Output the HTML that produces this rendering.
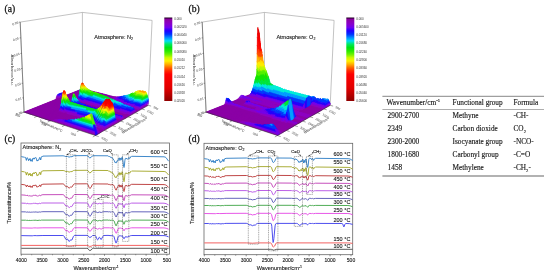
<!DOCTYPE html><html><head><meta charset="utf-8"><style>html,body{margin:0;padding:0;background:#fff;width:550px;height:274px;overflow:hidden}svg{display:block}</style></head><body><svg width="550" height="274" viewBox="0 0 550 274">
<style>
text{font-family:"Liberation Sans",Arial,sans-serif;fill:#1a1a1a}
.tk,.tl,.at,.al,.an{stroke:#1a1a1a;stroke-width:0.12px}
.tk{font-size:5px;text-anchor:middle}
.tl{font-size:5.5px;text-anchor:end}
.at{font-size:5.5px}
.al{font-size:5.6px}
.pl{font-family:"Liberation Serif","Times New Roman",serif;font-size:9.6px;fill:#111;stroke:#111;stroke-width:0.25px}
.t3{font-size:3.2px;fill:#444}
.t3t{font-size:3.6px;fill:#333}
.cbl{font-size:3px;fill:#333}
.an{font-size:4.2px;text-anchor:middle;fill:#111}
.tb{font-family:"Liberation Serif","Times New Roman",serif;font-size:7.3px;fill:#111;stroke:#111;stroke-width:0.12px}
</style>
<rect width="550" height="274" fill="#fff"/>
<style>.k0{fill:#8b00a6;stroke:#8b00a6}.k1{fill:#8d00c3;stroke:#8d00c3}.k2{fill:#7400ea;stroke:#7400ea}.k3{fill:#2200ff;stroke:#2200ff}.k4{fill:#003aff;stroke:#003aff}.k5{fill:#00a0ff;stroke:#00a0ff}.k6{fill:#00efd6;stroke:#00efd6}.k7{fill:#00e538;stroke:#00e538}.k8{fill:#16e400;stroke:#16e400}.k9{fill:#54f000;stroke:#54f000}.k10{fill:#c1f800;stroke:#c1f800}.k11{fill:#ffec00;stroke:#ffec00}.k12{fill:#ffa300;stroke:#ffa300}.k13{fill:#ff4c00;stroke:#ff4c00}.k14{fill:#ff0e00;stroke:#ff0e00}.k15{fill:#f90000;stroke:#f90000}.k16{fill:#f10000;stroke:#f10000}.k17{fill:#e90000;stroke:#e90000}.k18{fill:#e20000;stroke:#e20000}.k19{fill:#cd0000;stroke:#cd0000}.k20{fill:#b40000;stroke:#b40000}.k21{fill:#9c0000;stroke:#9c0000}</style>
<defs><linearGradient id="cb" x1="0" y1="0" x2="0" y2="1"><stop offset="0" stop-color="#200020"/><stop offset="0.018" stop-color="#6a0080"/><stop offset="0.00" stop-color="#860098"/><stop offset="0.04" stop-color="#8e00b0"/><stop offset="0.08" stop-color="#8700cd"/><stop offset="0.12" stop-color="#7000f0"/><stop offset="0.16" stop-color="#2000ff"/><stop offset="0.20" stop-color="#0030ff"/><stop offset="0.24" stop-color="#008aff"/><stop offset="0.28" stop-color="#00dcf4"/><stop offset="0.32" stop-color="#00e860"/><stop offset="0.36" stop-color="#00e213"/><stop offset="0.40" stop-color="#28e800"/><stop offset="0.44" stop-color="#68f200"/><stop offset="0.48" stop-color="#c8f800"/><stop offset="0.52" stop-color="#fff000"/><stop offset="0.56" stop-color="#ffb000"/><stop offset="0.60" stop-color="#ff6600"/><stop offset="0.64" stop-color="#ff2600"/><stop offset="0.68" stop-color="#fd0000"/><stop offset="0.72" stop-color="#f60000"/><stop offset="0.76" stop-color="#f00000"/><stop offset="0.80" stop-color="#e90000"/><stop offset="0.84" stop-color="#e20000"/><stop offset="0.88" stop-color="#d00000"/><stop offset="0.92" stop-color="#bb0000"/><stop offset="0.96" stop-color="#a50000"/><stop offset="1.00" stop-color="#900000"/></linearGradient></defs>
<polyline fill="none" stroke="#9a9a9a" stroke-width="0.6" points="24.1,112.1 20.2,22.1 82.4,12.4 152.1,20.4 148.2,105.3"/>
<line stroke="#9a9a9a" stroke-width="0.6" x1="82.5" y1="88.8" x2="82.4" y2="12.4"/>
<path class="k0" stroke-width=".3" d="M24.1 112.1 82.5 88.8 148.2 105.3 95.4 135.5"/>
<g stroke-width=".45">
<path class="k0" d="M63.3 95.1l.5 .8 .5 .1 18.2-7.2 .6 .1 -17.8 7.1 -.4 .2 -.5-.2 -.5-.8z"/>
<path class="k1" d="M62.9 94l.4 1.1 .6 .1 -.4-1.1z"/>
<path class="k2" d="M62.4 93.2l.5 .8 .6 .1 -.5-.7z"/>
<path class="k3" d="M57.2 95.1l.9-1 2.4-.9 1.4-.3 1.1 .5 -.5-.4 -.9 .2 -2.9 1.1 -.9 .9z"/>
<path class="k2" d="M56.7 96.1l.5-1 .6 .1 -.5 1.1z"/>
<path class="k1" d="M56.2 97.6l.5-1.5 .6 .2 -.4 1.5z"/>
<path class="k0" d="M24.1 112.1l30.7-12.3 .5-.2 .5-.7 .4-1.3 .7 .2 -.5 1.3 -.5 .6 -.5 .3 -30.7 12.3z"/>
<path class="k0" d="M63.9 95.2l.5 .8 .5 .2 18.2-7.3 .6 .2 -17.8 7.1 -.4 .2 -.5-.2 -.5-.8z"/>
<path class="k1" d="M63.5 94.1l.4 1.1 .6 .2 -.4-1.1z"/>
<path class="k2" d="M63 93.4l.5 .7 .6 .2 -.5-.8z"/>
<path class="k3" d="M57.8 95.2l.9-.9 2.4-1 1.4-.3 1.1 .5 -.5-.3 -.9 .1 -2.9 1.2 -.9 .9z"/>
<path class="k2" d="M57.3 96.3l.5-1.1 .6 .2 -.5 1.1z"/>
<path class="k1" d="M56.9 97.8l.4-1.5 .6 .2 -.4 1.5z"/>
<path class="k0" d="M24.7 112.3l30.7-12.3 .5-.3 .5-.6 .5-1.3 .6 .2 -.5 1.3 -.5 .6 -.5 .3 -30.6 12.3z"/>
<path class="k0" d="M64.5 95.4l.5 .8 .5 .2 18.2-7.3 .6 .1 -17.8 7.2 -.4 .1 -.5-.1 -.4-.8z"/>
<path class="k1" d="M64.1 94.3l.4 1.1 .7 .2 -.5-1.1z"/>
<path class="k2" d="M63.6 93.5l.5 .8 .6 .2 -.5-.8z"/>
<path class="k3" d="M58.4 95.4l.9-.9 2.4-1 1.4-.3 1.1 .5 -.5-.3 -.9 .1 -2.9 1.1 -.9 1z"/>
<path class="k2" d="M57.9 96.5l.5-1.1 .6 .2 -.5 1.1z"/>
<path class="k1" d="M57.5 98l.4-1.5 .6 .2 -.4 1.4z"/>
<path class="k0" d="M25.4 112.5l30.6-12.3 .5-.3 .5-.6 .5-1.3 .6 .1 -.5 1.3 -.5 .7 -.4 .3 -30.7 12.3z"/>
<path class="k0" d="M65.2 95.6l.4 .8 .5 .1 .4-.1 18-7.1 -17.8 7.1 -.4 .2 -.5-.1 -.4-.6z"/>
<path class="k1" d="M64.7 94.5l.2 .5z"/>
<path class="k2" d="M64.2 93.7l.7 1.3 -.5-.7z"/>
<path class="k3" d="M59 95.6l.9-1 3.4-1.2 .4 0 .5 .3 .2 .6 -.5-.2 -.9 .2 -2.8 1.1 -1 .9z"/>
<path class="k2" d="M58.5 96.7l.5-1.1 .2 .7 -.4 .9z"/>
<path class="k1" d="M58.1 98.1l.4-1.4 .3 .5 -.5 1.3z"/>
<path class="k0" d="M26 112.7l30.7-12.3 .4-.3 .5-.7 .5-1.3 .2 .4 -.5 1.1 -.5 .6 -.4 .2 -30.7 12.4z"/>
<path class="k0" d="M65.4 95.9l.4 .6 .5 .1 18.2-7.3 .4 .1 -17.7 7.1 -1 .2 -.4-.3z"/>
<path class="k1" d="M64.4 94.3l1.4 2.1 -1-.7z"/>
<path class="k2" d="M59.2 96.3l1-.9 3.3-1.3 .4 0 .5 .2 .4 1.4 -.4-.1 -1 .2 -2.8 1.2 -1 .7z"/>
<path class="k1" d="M58.3 98.5l.9-2.2 .4 1.4 -.9 1.4z"/>
<path class="k0" d="M26.2 112.8l30.7-12.4 .4-.2 .5-.6 .5-1.1 .4 .6 -.5 .8 -.9 .6 -30.7 12.4z"/>
<path class="k0" d="M26.6 112.9l30.7-12.4 .9-.6 1.4-2.2 1-.7 1.4-.6 2.4-.8 .4 .1 1.4 1 .5 0 18.2-7.3 .6 .1 -58.2 23.6z"/>
<path class="k0" d="M27.3 113.1l58.2-23.6 .6 .2 -58.2 23.6z"/>
<path class="k0" d="M27.9 113.3l58.2-23.6 .4 .1 -58.2 23.7z"/>
<path class="k0" d="M28.3 113.5l58.4-23.7 -58.2 23.8z"/>
<path class="k0" d="M28.5 113.6l58.2-23.8 .6 .2 -58.1 23.8z"/>
<path class="k0" d="M29.2 113.8l58.1-23.8 .6 .1 -58.1 23.9z"/>
<path class="k0" d="M29.8 114l58.1-23.9 .6 .2 -58.1 23.9z"/>
<path class="k0" d="M30.4 114.2l58.1-23.9 .6 .1 -58 24z"/>
<path class="k0" d="M31.1 114.4l58-24 1.4 .4 -57.9 24.1z"/>
<path class="k0" d="M32.6 114.9l57.9-24.1 2 .5 -57.8 24.3z"/>
<path class="k0" d="M34.7 115.6l57.8-24.3 2 .5 -57.6 24.5z"/>
<path class="k0" d="M36.9 116.3l57.6-24.5 2.1 .5 -57.5 24.7z"/>
<path class="k0" d="M39.1 117l57.5-24.7 1 .3 -57.4 24.8z"/>
<path class="k0" d="M40.2 117.4l57.4-24.8 .6 .1 -57.3 24.9z"/>
<path class="k0" d="M83.9 98.9l14.3-6.2 .4 .1 -11.2 4.8 -.8 .2 -.9 0 -1.3-.9z"/>
<path class="k1" d="M82.2 99.7l1.7-.8 .5-2 -1.8-2.1z"/>
<path class="k2" d="M79.5 100.9l2.7-1.2 .4-4.9 -.9-.4 -.5 .1 -.4 .3 -.9 1.4z"/>
<path class="k1" d="M78.1 101.5l1.4-.6 .4-4.7 -1.4 2.8z"/>
<path class="k0" d="M40.9 117.6l37.2-16.1 .4-2.5 -.9 1.6 -.9 1.2 -.9 .7 -1.4 .9 -33.1 14.4z"/>
<path class="k0" d="M85.2 97.6l1.4 .2 1.2-.3 10.8-4.7 .2 .1 -10.7 4.6 -1.3 .2 -.9-.2 -.4-.4z"/>
<path class="k1" d="M84.4 96.9l.8 .7 .3-.5 -.9-1.2z"/>
<path class="k2" d="M83.9 96.4l.5 .5 .2-1 -.5-.8z"/>
<path class="k3" d="M83.5 95.9l.4 .5 .2-1.3 -.4-.9z"/>
<path class="k4" d="M82.6 94.8l.9 1.1 .2-1.7 -.9-1.8z"/>
<path class="k5" d="M81.7 94.4l.9 .4 .2-2.4 -.9-.9z"/>
<path class="k6" d="M80.8 94.8l.9-.4 .2-2.9 -.4 .1 -.5 .5z"/>
<path class="k5" d="M79.9 96.2l.9-1.4 .2-2.7 -.9 1.8z"/>
<path class="k4" d="M79.4 97.1l.5-.9 .2-2.3 -.5 1.3z"/>
<path class="k3" d="M78.5 99l.9-1.9 .2-1.9 -.9 2.6z"/>
<path class="k2" d="M78.1 99.8l.4-.8 .2-1.2 -.4 1.1z"/>
<path class="k1" d="M77.2 101.2l.9-1.4 .2-.9 -.9 1.9z"/>
<path class="k0" d="M41.3 117.8l32.6-14.2 2.3-1.4 1.2-1.4 -1.4 1.7 -1.9 1.1 -32.5 14.2z"/>
<path class="k0" d="M86.3 97.7l.9 0 .9-.2 10.7-4.6 .7 .2 -10.4 4.4 -1.3 .1 -.8-.5z"/>
<path class="k1" d="M85.5 97.1l.8 .6 .7-.6 -.9-1.5z"/>
<path class="k2" d="M85 96.6l.5 .5 .6-1.5 -.4-1.2z"/>
<path class="k3" d="M84.6 95.9l.4 .7 .7-2.2 -.5-1.5z"/>
<path class="k4" d="M84.1 95.1l.5 .8 .6-3 -.4-1.9z"/>
<path class="k6" d="M83.7 94.2l.4 .9 .7-4.1 -.5-2z"/>
<path class="k7" d="M83.3 93.3l.4 .9 .6-5.2 -.4-2.1z"/>
<path class="k8" d="M82.8 92.4l.5 .9 .6-6.4 -.5-1.8z"/>
<path class="k9" d="M82.4 91.8l.4 .6 .6-7.3 -.4-1.4z"/>
<path class="k10" d="M80.6 92.9l.9-1.3 .4-.1 .5 .3 .6-8.1 -.5-.8 -.4-.1 -.5 .7 -.4 1.4z"/>
<path class="k9" d="M80.1 93.9l.5-1 .6-8 -.5 2z"/>
<path class="k8" d="M79.6 95.2l.5-1.3 .6-7 -.4 2.3z"/>
<path class="k6" d="M79.2 96.5l.4-1.3 .7-6 -.5 2.5z"/>
<path class="k5" d="M78.7 97.8l.5-1.3 .6-4.8 -.4 2.4z"/>
<path class="k4" d="M78.3 98.9l.4-1.1 .7-3.7 -.5 2.1z"/>
<path class="k3" d="M77.8 100l.5-1.1 .6-2.7 -.4 1.9z"/>
<path class="k2" d="M77.4 100.8l1.1-2.7 -.5 1.5z"/>
<path class="k1" d="M76.9 101.5l1.1-1.9 -.4 1.1z"/>
<path class="k0" d="M41.6 117.8l32.5-14.2 1.9-1.1 1.6-1.8 -1.4 2.1 -1.9 1.2 -32.1 14z"/>
<path class="k0" d="M87 97.1l.8 .5 1.3-.1 10.4-4.4 .6 .1 -10.3 4.5 -1.3 .1 -.9-.4z"/>
<path class="k1" d="M86.5 96.5l.5 .6 .6 .3 -.4-.6z"/>
<path class="k2" d="M86.1 95.6l.4 .9 .7 .3 -.5-.8z"/>
<path class="k3" d="M85.7 94.4l.4 1.2 .6 .4 -.4-1.2z"/>
<path class="k4" d="M85.2 92.9l.5 1.5 .6 .4 -.4-1.5z"/>
<path class="k6" d="M84.8 91l.4 1.9 .7 .4 -.5-1.8z"/>
<path class="k7" d="M84.3 89l.5 2 .6 .5 -.4-1.9z"/>
<path class="k9" d="M83.9 86.9l.4 2.1 .7 .6 -.5-1.9z"/>
<path class="k11" d="M83.4 85.1l.5 1.8 .6 .8 -.4-1.8z"/>
<path class="k12" d="M83 83.7l.4 1.4 .7 .8 -.5-1.3z"/>
<path class="k13" d="M82.5 82.9l.7 .9z"/>
<path class="k14" d="M81.6 83.5l.5-.7 .4 .1 .7 .9 -.5 0 -.4 .6z"/>
<path class="k13" d="M81.2 84.9l.4-1.4 .7 .9 -.5 1.4z"/>
<path class="k12" d="M80.7 86.9l.5-2 .6 .9 -.4 1.9z"/>
<path class="k10" d="M80.3 89.2l.4-2.3 .7 .8 -.5 2.2z"/>
<path class="k8" d="M79.8 91.7l.5-2.5 .6 .7 -.4 2.4z"/>
<path class="k7" d="M79.4 94.1l.4-2.4 .7 .6 -.5 2.3z"/>
<path class="k5" d="M78.9 96.2l.5-2.1 .6 .5 -.4 2z"/>
<path class="k4" d="M78.5 98.1l.4-1.9 .7 .4 -.5 1.8z"/>
<path class="k2" d="M78 99.6l.5-1.5 .6 .3 -.4 1.5z"/>
<path class="k1" d="M77.1 101.6l.9-2 .7 .3 -1 2z"/>
<path class="k0" d="M42.2 118l32.1-14 1.9-1.2 .9-1.2 .6 .3 -.4 .6 -.9 .9 -1.4 .8 -32.1 14.1z"/>
<path class="k0" d="M87.6 97.4l.9 .4 1.3-.1 10.3-4.5 .6 .2 -10.3 4.4 -1.3 .2 -.9-.4z"/>
<path class="k1" d="M87.2 96.8l.4 .6 .6 .2 -.4-.5z"/>
<path class="k2" d="M86.7 96l.5 .8 .6 .3 -.4-.8z"/>
<path class="k3" d="M86.3 94.8l.4 1.2 .7 .3 -.5-1.1z"/>
<path class="k4" d="M85.9 93.3l.4 1.5 .6 .4 -.4-1.4z"/>
<path class="k5" d="M85.4 91.5l.5 1.8 .6 .5 -.4-1.7z"/>
<path class="k7" d="M85 89.6l.4 1.9 .7 .6 -.5-1.9z"/>
<path class="k9" d="M84.5 87.7l.5 1.9 .6 .6 -.4-1.8z"/>
<path class="k10" d="M84.1 85.9l.4 1.8 .7 .7 -.5-1.7z"/>
<path class="k12" d="M83.6 84.6l.5 1.3 .6 .8 -.4-1.2z"/>
<path class="k13" d="M82.3 84.4l.4-.6 .5 0 1.1 1.7 -.5-.7 -.4-.1 -.5 .7z"/>
<path class="k12" d="M81.8 85.8l.5-1.4 .6 1 -.4 1.3z"/>
<path class="k11" d="M81.4 87.7l.4-1.9 .7 .9 -.5 1.8z"/>
<path class="k10" d="M80.9 89.9l.5-2.2 .6 .8 -.4 2.2z"/>
<path class="k8" d="M80.5 92.3l.4-2.4 .7 .8 -.5 2.2z"/>
<path class="k6" d="M80 94.6l.5-2.3 .6 .6 -.4 2.2z"/>
<path class="k5" d="M79.6 96.6l.4-2 .7 .5 -.5 2z"/>
<path class="k3" d="M79.1 98.4l.5-1.8 .6 .5 -.4 1.7z"/>
<path class="k2" d="M78.7 99.9l.4-1.5 .7 .4 -.5 1.4z"/>
<path class="k1" d="M77.7 101.9l1-2 .6 .3 -.9 1.9z"/>
<path class="k0" d="M42.9 118.3l32.1-14.1 1.8-1.2 .9-1.1 .7 .2 -.5 .6 -.9 .9 -1.4 .8 -32 14.1z"/>
<path class="k0" d="M88.2 97.6l.9 .4 1.3-.2 10.3-4.4 .6 .1 -10.3 4.5 -1.3 .2 -.8-.4z"/>
<path class="k1" d="M87.8 97.1l.4 .5 .7 .2 -.4-.5z"/>
<path class="k2" d="M86.9 95.2l.9 1.9 .7 .2 -.9-1.8z"/>
<path class="k4" d="M86.5 93.8l.4 1.4 .7 .3 -.5-1.3z"/>
<path class="k5" d="M86.1 92.1l.4 1.7 .6 .4 -.4-1.6z"/>
<path class="k7" d="M85.6 90.2l.5 1.9 .6 .5 -.4-1.7z"/>
<path class="k8" d="M85.2 88.4l.4 1.8 .7 .7 -.5-1.7z"/>
<path class="k10" d="M84.7 86.7l.5 1.7 .6 .8 -.4-1.6z"/>
<path class="k11" d="M84.3 85.5l.4 1.2 .7 .9 -.5-1.2z"/>
<path class="k12" d="M82.5 86.7l.4-1.3 .5-.7 .4 .1 1.1 1.6 -.4-.7 -.5 0 -.4 .6 -.5 1.3z"/>
<path class="k11" d="M82 88.5l.5-1.8 .6 .9 -.4 1.7z"/>
<path class="k9" d="M81.6 90.7l.4-2.2 .7 .8 -.5 2.1z"/>
<path class="k8" d="M81.1 92.9l.5-2.2 .6 .7 -.4 2.1z"/>
<path class="k6" d="M80.7 95.1l.4-2.2 .7 .6 -.5 2.1z"/>
<path class="k4" d="M80.2 97.1l.5-2 .6 .5 -.4 1.9z"/>
<path class="k3" d="M79.8 98.8l.4-1.7 .7 .4 -.5 1.6z"/>
<path class="k2" d="M79.3 100.2l.5-1.4 .6 .3 -.4 1.4z"/>
<path class="k1" d="M78.4 102.1l.9-1.9 .7 .3 -1 1.8z"/>
<path class="k0" d="M73.2 105.4l3.8-1.8 1.4-1.5 .6 .2 -1.3 1.5 -1.9 .9 -1-.2 -.9-1.1z"/>
<path class="k1" d="M70.4 106.7l2.8-1.3 .7-2 -1-1.3 -.5-.1 -.5 .5 -.9 2.1z"/>
<path class="k0" d="M64.9 109.1l5.5-2.4 .6-2.1 -1 2 -.5 .6 -.9 .6 -1 .2 -.5-.1 -1-.7 -.6-.7z"/>
<path class="k1" d="M63.9 109.5l1-.4 .6-2.6 -1-1.6z"/>
<path class="k2" d="M60.9 110.9l3-1.4 .6-4.6 -1-1.2 -.5 0 -.6 .4 -1 1.9z"/>
<path class="k1" d="M59.8 111.3l1.1-.4 .5-4.9 -1 2.5z"/>
<path class="k0" d="M43.6 118.5l16.2-7.2 .6-2.8 -1.5 2.9 -1.5 1.4 -13.2 5.9z"/>
<path class="k0" d="M88.9 97.8l.8 .4 1.3-.2 10.3-4.5 .7 .2 -10.3 4.5 -1.3 .2 -.9-.3z"/>
<path class="k1" d="M88 96.6l.9 1.2 .6 .3 -.8-1.2z"/>
<path class="k2" d="M87.6 95.5l.4 1.1 .7 .3 -.5-1z"/>
<path class="k3" d="M87.1 94.2l.5 1.3 .6 .4 -.4-1.2z"/>
<path class="k5" d="M86.7 92.6l.4 1.6 .7 .5 -.4-1.5z"/>
<path class="k6" d="M86.3 90.9l.4 1.7 .7 .6 -.5-1.7z"/>
<path class="k8" d="M85.8 89.2l.5 1.7 .6 .6 -.4-1.6z"/>
<path class="k9" d="M85.4 87.6l.4 1.6 .7 .7 -.5-1.5z"/>
<path class="k11" d="M84.5 85.7l.9 1.9 .6 .8 -.9-1.7z"/>
<path class="k12" d="M83.6 86.3l.4-.6 .5 0 .6 1 -.4-.1 -.5 .7z"/>
<path class="k11" d="M83.1 87.6l.5-1.3 .6 1 -.4 1.2z"/>
<path class="k10" d="M82.7 89.3l.4-1.7 .7 .9 -.5 1.6z"/>
<path class="k9" d="M82.2 91.4l.5-2.1 .6 .8 -.4 2z"/>
<path class="k7" d="M81.8 93.5l.4-2.1 .7 .7 -.5 2z"/>
<path class="k6" d="M81.3 95.6l.5-2.1 .6 .6 -.4 2z"/>
<path class="k4" d="M80.9 97.5l.4-1.9 .7 .5 -.5 1.9z"/>
<path class="k3" d="M80.4 99.1l.5-1.6 .6 .5 -.4 1.5z"/>
<path class="k2" d="M80 100.5l.4-1.4 .7 .4 -.5 1.3z"/>
<path class="k1" d="M79 102.3l1-1.8 .6 .3 -.9 1.8z"/>
<path class="k0" d="M74.8 104.5l1 .2 .9-.4 1.4-.9 .9-1.1 .7 .3 -.9 1 -1.4 .9 -1 .2 -.4-.2 -.5-.5z"/>
<path class="k1" d="M74.4 104.1l.4 .4 .7-.5 -.5-1.1z"/>
<path class="k2" d="M73.9 103.4l.5 .7 .6-1.2 -.5-1.6z"/>
<path class="k3" d="M73.4 102.6l.5 .8 .6-2.1 -.5-1.7z"/>
<path class="k4" d="M71.5 103.5l.4-1 .5-.5 .5 .1 .5 .5 .6-3 -.5-1.4 -.5-.4 -.4 .8 -.5 1.8z"/>
<path class="k3" d="M71 104.6l.5-1.1 .6-3.1 -.5 2.2z"/>
<path class="k2" d="M70.5 105.7l1.1-3.1 -.4 2z"/>
<path class="k1" d="M70 106.6l1.2-2 -.5 1.5z"/>
<path class="k0" d="M67.1 107.9l1 .1 1-.4 1.6-1.5 -1 1.5 -1 .4 -1-.6z"/>
<path class="k1" d="M66.1 107.2l1 .7 .6-.5 -1-1.8z"/>
<path class="k2" d="M65.5 106.5l.6 .7 .6-1.6 -.5-1.6z"/>
<path class="k3" d="M65 105.8l.5 .7 .7-2.5 -.6-1.8z"/>
<path class="k5" d="M64.5 104.9l.5 .9 .6-3.6 -.5-1.9z"/>
<path class="k6" d="M64 104.2l.5 .7 .6-4.6 -.5-1.7z"/>
<path class="k7" d="M61.9 104.9l.5-.8 .6-.4 .5 0 .5 .5 .6-5.6 -.6-1.2 -.5-.3 -.5 .5 -.5 1.4z"/>
<path class="k6" d="M61.4 106l.5-1.1 .6-5.9 -.5 2z"/>
<path class="k5" d="M60.9 107.3l.5-1.3 .6-5 -.5 2.3z"/>
<path class="k4" d="M60.4 108.5l.5-1.2 .6-4 -.4 2.3z"/>
<path class="k3" d="M59.9 109.7l.5-1.2 .7-2.9 -.5 2.1z"/>
<path class="k2" d="M59.4 110.6l.5-.9 .7-2 -.5 1.7z"/>
<path class="k1" d="M58.9 111.4l1.2-2 -.5 1.3z"/>
<path class="k0" d="M44.2 118.7l12.6-5.6 1.1-.7 1.7-1.7 -1.1 1.7 -1.5 1.1 -12.1 5.4z"/>
<path class="k0" d="M89.5 98.1l.9 .3 1.3-.2 10.3-4.5 .6 .1 -10.3 4.6 -1.3 .2 -.8-.3z"/>
<path class="k1" d="M88.7 96.9l.8 1.2 .7 .2 -.9-1.1z"/>
<path class="k2" d="M88.2 95.9l.5 1 .6 .3 -.4-.9z"/>
<path class="k3" d="M87.8 94.7l.4 1.2 .7 .4 -.5-1.2z"/>
<path class="k4" d="M87.4 93.2l.4 1.5 .6 .4 -.4-1.4z"/>
<path class="k6" d="M86.9 91.5l.5 1.7 .6 .5 -.4-1.5z"/>
<path class="k7" d="M86.5 89.9l.4 1.6 .7 .7 -.5-1.6z"/>
<path class="k9" d="M86 88.4l.5 1.5 .6 .7 -.4-1.4z"/>
<path class="k10" d="M85.6 87.3l.4 1.1 .7 .8 -.5-1z"/>
<path class="k11" d="M84.2 87.3l.5-.7 .4 .1 1.1 1.5 -.4-.6 -.5 0 -.4 .6z"/>
<path class="k10" d="M83.3 90.1l.9-2.8 .7 .9 -.9 2.8z"/>
<path class="k8" d="M82.9 92.1l.4-2 .7 .9 -.5 1.8z"/>
<path class="k7" d="M82.4 94.1l.5-2 .6 .7 -.4 1.9z"/>
<path class="k5" d="M82 96.1l.4-2 .7 .6 -.5 2z"/>
<path class="k4" d="M81.5 98l.5-1.9 .6 .6 -.4 1.7z"/>
<path class="k3" d="M81.1 99.5l.4-1.5 .7 .4 -.5 1.5z"/>
<path class="k2" d="M80.6 100.8l.5-1.3 .6 .4 -.4 1.2z"/>
<path class="k1" d="M79.7 102.6l.9-1.8 .7 .3 -1 1.7z"/>
<path class="k0" d="M76 104.5l.9 .2 .9-.4 1-.7 .9-1 .6 .2 -.9 1 -.9 .6 -.9 .4 -.5 0 -.5-.4z"/>
<path class="k1" d="M75.5 104l.5 .5 .6-.1 -.5-.9z"/>
<path class="k2" d="M75 102.9l.5 1.1 .6-.5 -.5-1.8z"/>
<path class="k3" d="M74.5 101.3l.5 1.6 .6-1.2 -.4-2.4z"/>
<path class="k5" d="M74 99.6l.5 1.7 .7-2 -.5-2.8z"/>
<path class="k7" d="M73.5 98.2l.5 1.4 .7-3.1 -.5-2.2z"/>
<path class="k8" d="M72.6 98.6l.4-.8 .5 .4 .7-3.9 -.5-.7 -.5 1.1z"/>
<path class="k7" d="M72.1 100.4l.6-3.1z"/>
<path class="k5" d="M71.6 102.6l1.1-5.3 -.4 3.2z"/>
<path class="k3" d="M71.2 104.6l1.1-4.1 -.5 2.9z"/>
<path class="k2" d="M70.7 106.1l.5-1.5 .6-1.2 -.5 2.1z"/>
<path class="k1" d="M70.2 107.1l.5-1 .6-.6 -.4 1.4z"/>
<path class="k0" d="M68.2 107.8l1 .1 1-.8 .7-.2 -.5 .7 -.5 .4 -.5 0 -.5-.3z"/>
<path class="k1" d="M67.2 106.7l1 1.1 .7-.1 -1-1.9z"/>
<path class="k2" d="M66.7 105.6l.5 1.1 .7-.9 -.6-1.8z"/>
<path class="k4" d="M66.2 104l.5 1.6 .6-1.6 -.5-2.4z"/>
<path class="k6" d="M65.6 102.2l.6 1.8 .6-2.4 -.5-2.8z"/>
<path class="k8" d="M65.1 100.3l.5 1.9 .7-3.4 -.6-3z"/>
<path class="k10" d="M64.6 98.6l.5 1.7 .6-4.5 -.5-2.8z"/>
<path class="k11" d="M64 97.4l.6 1.2 .6-5.6 -.6-1.9z"/>
<path class="k12" d="M63.5 97.1l.5 .3 .6-6.3 -.5-.7z"/>
<path class="k13" d="M63 97.6l.5-.5 .6-6.7 -.5 .6z"/>
<path class="k12" d="M62.5 99l.5-1.4 .6-6.6 -.5 1.9z"/>
<path class="k10" d="M62 101l.5-2 .6-6.1 -.5 2.9z"/>
<path class="k9" d="M61.5 103.3l.5-2.3 .6-5.2 -.5 3.4z"/>
<path class="k6" d="M61.1 105.6l1-6.4 -.4 3.4z"/>
<path class="k5" d="M60.6 107.7l1.1-5.1 -.5 3.1z"/>
<path class="k3" d="M60.1 109.4l1.1-3.7 -.5 2.5z"/>
<path class="k2" d="M59.6 110.7l1.1-2.5 -.5 1.9z"/>
<path class="k1" d="M59.1 111.7l.5-1 .6-.6 -.5 1.3z"/>
<path class="k0" d="M44.9 118.9l12.1-5.4 1-.6 1.1-1.2 .6-.3 -1 1.5 -1.1 .8 -12 5.5z"/>
<path class="k0" d="M90.2 98.3l.8 .3 1.3-.2 10.3-4.6 .2 .1 -10.3 4.5 -1.3 .3 -.8-.3z"/>
<path class="k1" d="M89.3 97.2l.9 1.1 .2 .1 -.9-1.1z"/>
<path class="k2" d="M88.9 96.3l.4 .9 .2 .1 -.4-.9z"/>
<path class="k3" d="M88.4 95.1l.5 1.2 .2 .1 -.4-1.2z"/>
<path class="k4" d="M88 93.7l.4 1.4 .3 .1 -.5-1.4z"/>
<path class="k6" d="M87.6 92.2l.4 1.5 .2 .1 -.4-1.5z"/>
<path class="k7" d="M87.1 90.6l.5 1.6 .2 .1 -.5-1.5z"/>
<path class="k8" d="M86.7 89.2l.4 1.4 .2 .2 -.4-1.4z"/>
<path class="k10" d="M85.8 87.6l.9 1.6 .2 .2 -.4-1.1 -.5-.5z"/>
<path class="k11" d="M84.9 88.2l.4-.6 .5 0 .2 .2 -.4 0 -.5 .6z"/>
<path class="k10" d="M84.4 89.4l.5-1.2 .2 .2 -.4 1.1z"/>
<path class="k9" d="M84 91l.4-1.6 .3 .1 -.5 1.6z"/>
<path class="k8" d="M83.5 92.8l.5-1.8 .2 .1 -.5 1.8z"/>
<path class="k7" d="M83.1 94.7l.4-1.9 .2 .1 -.4 2z"/>
<path class="k5" d="M82.6 96.7l.5-2 .2 .2 -.5 1.9z"/>
<path class="k4" d="M82.2 98.4l.4-1.7 .2 .1 -.4 1.7z"/>
<path class="k3" d="M81.7 99.9l.5-1.5 .2 .1 -.5 1.4z"/>
<path class="k2" d="M81.3 101.1l.4-1.2 .2 0 -.4 1.3z"/>
<path class="k1" d="M80.8 102.1l.5-1 .2 .1 -.5 .9z"/>
<path class="k0" d="M76.6 104.4l.5 .4 .5 0 .9-.4 1.4-1 .9-1.3 .2 0 -.9 1.3 -1.4 1.1 -.9 .4 -.5 0 -.5-.4z"/>
<path class="k1" d="M76.1 103.5l.5 .9 .2 .1 -.4-.9z"/>
<path class="k2" d="M75.6 101.7l.5 1.8 .3 .1 -.5-1.7z"/>
<path class="k4" d="M75.2 99.3l.4 2.4 .3 .2 -.5-2.4z"/>
<path class="k6" d="M74.7 96.5l.5 2.8 .2 .2 -.5-2.6z"/>
<path class="k8" d="M74.2 94.3l.5 2.2 .2 .4 -.5-2.1z"/>
<path class="k9" d="M73.2 94.7l.5-1.1 .7 1.2 -.5-.7 -.5 1.1z"/>
<path class="k8" d="M72.7 97.3l.5-2.6 .2 .5 -.5 2.5z"/>
<path class="k6" d="M72.3 100.5l.4-3.2 .2 .4 -.4 3z"/>
<path class="k4" d="M71.8 103.4l.5-2.9 .2 .2 -.5 2.8z"/>
<path class="k2" d="M71.3 105.5l.5-2.1 .2 .1 -.5 2.2z"/>
<path class="k1" d="M70.9 106.9l.4-1.4 .2 .2 -.4 1.3z"/>
<path class="k0" d="M68.9 107.7l.5 .3 .5 0 .5-.4 .5-.7 .2 .1 -.5 .7 -.5 .3 -.5 0 -.5-.2z"/>
<path class="k1" d="M68.4 107l.5 .7 .2 .1 -.5-.7z"/>
<path class="k2" d="M67.9 105.8l.5 1.2 .2 .1 -.5-1.1z"/>
<path class="k3" d="M67.3 104l.6 1.8 .2 .2 -.5-1.8z"/>
<path class="k5" d="M66.8 101.6l.5 2.4 .3 .2 -.6-2.3z"/>
<path class="k7" d="M66.3 98.8l.5 2.8 .2 .3 -.5-2.7z"/>
<path class="k9" d="M65.7 95.8l.6 3 .2 .4 -.6-3z"/>
<path class="k12" d="M65.2 93l.5 2.8 .2 .4 -.5-2.6z"/>
<path class="k14" d="M64.6 91.1l.6 1.9 -.3-1.3z"/>
<path class="k15" d="M63.6 91l.5-.6 .5 .7 .3 .6 -.6-.7 -.5 .6z"/>
<path class="k14" d="M63.1 92.9l.5-1.9 .2 .6 -.5 1.9z"/>
<path class="k12" d="M62.6 95.8l.5-2.9 .2 .6 -.5 2.8z"/>
<path class="k10" d="M62.1 99.2l.5-3.4 .2 .5 -.4 3.3z"/>
<path class="k8" d="M61.7 102.6l.4-3.4 .3 .4 -.5 3.3z"/>
<path class="k6" d="M61.2 105.7l.5-3.1 .2 .3 -.5 3z"/>
<path class="k4" d="M60.7 108.2l.5-2.5 .2 .2 -.5 2.4z"/>
<path class="k2" d="M60.2 110.1l.5-1.9 .2 .1 -.5 1.9z"/>
<path class="k1" d="M59.7 111.4l.5-1.3 .2 .1 -.5 1.3z"/>
<path class="k0" d="M45.6 119.2l12-5.5 1.1-.8 1-1.5 .2 .1 -.5 .9 -1.5 1.4 -12.1 5.4z"/>
<path class="k0" d="M90.4 98.4l.8 .3 1.3-.3 10.3-4.5 .4 .1 -10.2 4.5 -1.3 .3 -.9-.3z"/>
<path class="k1" d="M89.5 97.3l.9 1.1 .4 .1 -.9-1.1z"/>
<path class="k2" d="M89.1 96.4l.4 .9 .4 .1 -.4-.9z"/>
<path class="k3" d="M88.7 95.2l.4 1.2 .4 .1 -.4-1.1z"/>
<path class="k4" d="M88.2 93.8l.5 1.4 .4 .2 -.5-1.4z"/>
<path class="k6" d="M87.8 92.3l.4 1.5 .4 .2 -.4-1.5z"/>
<path class="k7" d="M87.3 90.8l.5 1.5 .4 .2 -.4-1.5z"/>
<path class="k8" d="M86.9 89.4l.4 1.4 .5 .2 -.5-1.4z"/>
<path class="k10" d="M86 87.8l.9 1.6 .4 .2 -.9-1.5z"/>
<path class="k11" d="M85.1 88.4l.5-.6 .4 0 .4 .3 -.4 0 -.5 .6z"/>
<path class="k10" d="M84.7 89.5l.4-1.1 .4 .3 -.4 1.1z"/>
<path class="k9" d="M84.2 91.1l.5-1.6 .4 .3 -.5 1.5z"/>
<path class="k8" d="M83.7 92.9l.5-1.8 .4 .2 -.4 1.9z"/>
<path class="k6" d="M83.3 94.9l.4-2 .5 .3 -.5 1.9z"/>
<path class="k5" d="M82.8 96.8l.5-1.9 .4 .2 -.4 1.9z"/>
<path class="k4" d="M82.4 98.5l.4-1.7 .5 .2 -.5 1.7z"/>
<path class="k3" d="M81.9 99.9l.5-1.4 .4 .2 -.4 1.4z"/>
<path class="k2" d="M81.5 101.2l.4-1.3 .5 .2 -.5 1.2z"/>
<path class="k1" d="M81 102.1l.5-.9 .4 .1 -.4 1z"/>
<path class="k0" d="M76.8 104.5l.5 .4 .9-.2 1.4-.8 1.4-1.8 .5 .2 -1 1.3 -1.4 1 -.9 .4 -.5 0 -.4-.3z"/>
<path class="k1" d="M76.4 103.6l.4 .9 .5 .2 -.5-.9z"/>
<path class="k2" d="M75.9 101.9l.5 1.7 .4 .2 -.5-1.5z"/>
<path class="k4" d="M75.4 99.5l.5 2.4 .4 .4 -.5-2.3z"/>
<path class="k6" d="M74.9 96.9l.5 2.6 .4 .5 -.5-2.4z"/>
<path class="k8" d="M74.4 94.8l.5 2.1 .4 .7 -.5-2z"/>
<path class="k9" d="M73.4 95.2l.5-1.1 .9 1.5 -.5-.6 -.4 1z"/>
<path class="k8" d="M72.9 97.7l.5-2.5 .5 .8 -.5 2.4z"/>
<path class="k6" d="M72.5 100.7l.4-3 .5 .7 -.5 2.9z"/>
<path class="k4" d="M72 103.5l.5-2.8 .4 .6 -.4 2.6z"/>
<path class="k2" d="M71.5 105.7l.5-2.2 .5 .4 -.5 2z"/>
<path class="k1" d="M71.1 107l.4-1.3 .5 .2 -.5 1.3z"/>
<path class="k0" d="M69.1 107.8l.5 .2 .5 0 .5-.3 .5-.7 .4 .2 -.5 .7 -.5 .3 -.5 0 -.4-.2z"/>
<path class="k1" d="M68.6 107.1l.5 .7 .5 .2 -.6-.6z"/>
<path class="k2" d="M68.1 106l.5 1.1 .4 .3 -.5-1.1z"/>
<path class="k3" d="M67.6 104.2l.5 1.8 .4 .3 -.5-1.6z"/>
<path class="k4" d="M67 101.9l.6 2.3 .4 .5 -.5-2.2z"/>
<path class="k7" d="M66.5 99.2l.5 2.7 .5 .6 -.6-2.5z"/>
<path class="k9" d="M65.9 96.2l.6 3 .4 .8 -.5-2.8z"/>
<path class="k11" d="M65.4 93.6l.5 2.6 .5 1 -.5-2.5z"/>
<path class="k13" d="M64.9 91.7l.5 1.9 .5 1.1 -.6-1.8z"/>
<path class="k14" d="M63.3 93.5l.5-1.9 .5-.6 .6 .7 .4 1.2 -.5-.7 -.5 .6 -.5 1.7z"/>
<path class="k12" d="M62.8 96.3l.5-2.8 .5 1 -.5 2.7z"/>
<path class="k10" d="M62.4 99.6l.4-3.3 .5 .9 -.5 3.1z"/>
<path class="k8" d="M61.9 102.9l.5-3.3 .4 .7 -.4 3.2z"/>
<path class="k5" d="M61.4 105.9l.5-3 .5 .6 -.5 2.8z"/>
<path class="k3" d="M60.9 108.3l.5-2.4 .5 .4 -.5 2.4z"/>
<path class="k2" d="M60.4 110.2l.5-1.9 .5 .4 -.5 1.7z"/>
<path class="k1" d="M59.9 111.5l.5-1.3 .5 .2 -.5 1.3z"/>
<path class="k0" d="M45.8 119.2l12.1-5.4 1-.8 1-1.5 .5 .2 -.5 .9 -1.6 1.3 -12 5.5z"/>
<path class="k0" d="M90.8 98.5l.9 .3 1.3-.3 10.2-4.5 .7 .2 -10.3 4.5 -1.3 .3 -.8-.3z"/>
<path class="k1" d="M89.9 97.4l.9 1.1 .7 .2 -.9-1z"/>
<path class="k2" d="M89.5 96.5l.4 .9 .7 .3 -.4-.9z"/>
<path class="k3" d="M89.1 95.4l.4 1.1 .7 .3 -.5-1.1z"/>
<path class="k4" d="M88.6 94l.5 1.4 .6 .3 -.4-1.4z"/>
<path class="k6" d="M88.2 92.5l.4 1.5 .7 .3 -.4-1.4z"/>
<path class="k7" d="M87.8 91l.4 1.5 .7 .4 -.5-1.5z"/>
<path class="k8" d="M87.3 89.6l.5 1.4 .6 .4 -.4-1.3z"/>
<path class="k9" d="M86.9 88.6l.4 1 .7 .5 -.5-1.1z"/>
<path class="k10" d="M86.4 88.1l.5 .5 .6 .4 -.4-.5z"/>
<path class="k11" d="M86 88.1l.4 0 .7 .4 -.4 0z"/>
<path class="k10" d="M85.1 89.8l.4-1.1 .5-.6 .7 .4 -.5 .6 -.4 1.1z"/>
<path class="k9" d="M84.6 91.3l.5-1.5 .7 .4 -.5 1.5z"/>
<path class="k8" d="M84.2 93.2l.4-1.9 .7 .4 -.5 1.8z"/>
<path class="k6" d="M83.7 95.1l.5-1.9 .6 .3 -.4 1.9z"/>
<path class="k5" d="M83.3 97l.4-1.9 .7 .3 -.5 1.9z"/>
<path class="k4" d="M82.8 98.7l.5-1.7 .6 .3 -.4 1.6z"/>
<path class="k3" d="M82.4 100.1l.4-1.4 .7 .2 -.5 1.5z"/>
<path class="k2" d="M81.9 101.3l.5-1.2 .6 .3 -.4 1.1z"/>
<path class="k1" d="M81.5 102.3l.4-1 .7 .2 -.5 1z"/>
<path class="k0" d="M77.3 104.7l.4 .3 1-.1 1.4-.9 1.4-1.7 .6 .2 -.9 1.3 -1.4 1 -.9 .4 -.5 0 -.5-.2z"/>
<path class="k1" d="M76.8 103.8l.5 .9 .6 .3 -.4-.8z"/>
<path class="k2" d="M76.3 102.3l.5 1.5 .7 .4 -.5-1.4z"/>
<path class="k3" d="M75.8 100l.5 2.3 .7 .5 -.5-2z"/>
<path class="k5" d="M75.3 97.6l.5 2.4 .7 .8 -.5-2.2z"/>
<path class="k7" d="M74.8 95.6l.5 2 .7 1 -.5-1.8z"/>
<path class="k8" d="M73.9 96l.4-1 1.2 1.8 -.5-.5 -.5 .9z"/>
<path class="k7" d="M73.4 98.4l.5-2.4 .6 1.2 -.4 2.2z"/>
<path class="k5" d="M72.9 101.3l.5-2.9 .7 1 -.5 2.6z"/>
<path class="k3" d="M72.5 103.9l.4-2.6 .7 .7 -.5 2.5z"/>
<path class="k2" d="M72 105.9l.5-2 .6 .6 -.4 1.8z"/>
<path class="k1" d="M71.5 107.2l.5-1.3 .7 .4 -.5 1.2z"/>
<path class="k0" d="M69.6 108l.4 .2 .5 0 .5-.3 .5-.7 .7 .3 -.5 .6 -.5 .3 -.5 .1 -.5-.2z"/>
<path class="k1" d="M68.5 106.3l1.1 1.7 .6 .3 -1-1.5z"/>
<path class="k3" d="M68 104.7l.5 1.6 .7 .5 -.5-1.4z"/>
<path class="k4" d="M67.5 102.5l.5 2.2 .7 .7 -.5-1.9z"/>
<path class="k6" d="M66.9 100l.6 2.5 .7 1 -.6-2.4z"/>
<path class="k8" d="M66.4 97.2l.5 2.8 .7 1.1 -.5-2.4z"/>
<path class="k10" d="M65.9 94.7l.5 2.5 .7 1.5 -.6-2.3z"/>
<path class="k12" d="M65.3 92.9l.6 1.8 .6 1.7 -.5-1.7z"/>
<path class="k13" d="M63.8 94.5l.5-1.7 .5-.6 .5 .7 .7 1.8 -.5-.6 -.5 .5 -.5 1.5z"/>
<path class="k11" d="M63.3 97.2l.5-2.7 .7 1.6 -.5 2.5z"/>
<path class="k9" d="M62.8 100.3l.5-3.1 .7 1.4 -.5 2.8z"/>
<path class="k7" d="M62.4 103.5l.4-3.2 .7 1.1 -.5 2.9z"/>
<path class="k5" d="M61.9 106.3l.5-2.8 .6 .8 -.4 2.7z"/>
<path class="k3" d="M61.4 108.7l.5-2.4 .7 .7 -.5 2.1z"/>
<path class="k2" d="M60.9 110.4l.5-1.7 .7 .4 -.5 1.7z"/>
<path class="k1" d="M60.4 111.7l.5-1.3 .7 .4 -.5 1.2z"/>
<path class="k0" d="M46.3 119.4l12-5.5 1.1-.7 1-1.5 .7 .3 -1.1 1.4 -1 .8 -12 5.4z"/>
<path class="k0" d="M91.5 98.7l.8 .3 1.3-.3 10.3-4.5 .6 .1 -10.3 4.6 -1.2 .2 -.9-.2z"/>
<path class="k1" d="M90.6 97.7l.9 1 .6 .2 -.9-1z"/>
<path class="k2" d="M90.2 96.8l.4 .9 .6 .2 -.4-.9z"/>
<path class="k3" d="M89.7 95.7l.5 1.1 .6 .2 -.4-1.1z"/>
<path class="k4" d="M89.3 94.3l.4 1.4 .7 .2 -.4-1.3z"/>
<path class="k5" d="M88.9 92.9l.4 1.4 .7 .3 -.5-1.4z"/>
<path class="k7" d="M88.4 91.4l.5 1.5 .6 .3 -.4-1.4z"/>
<path class="k8" d="M88 90.1l.4 1.3 .7 .4 -.5-1.3z"/>
<path class="k9" d="M87.5 89l.5 1.1 .6 .4 -.4-1z"/>
<path class="k10" d="M85.8 90.2l.4-1.1 .5-.6 .4 0 1.1 1 -.4-.5 -.5 0 -.4 .5 -.5 1.1z"/>
<path class="k9" d="M85.3 91.7l.5-1.5 .6 .4 -.4 1.5z"/>
<path class="k8" d="M84.8 93.5l.5-1.8 .7 .4 -.5 1.8z"/>
<path class="k6" d="M84.4 95.4l.4-1.9 .7 .4 -.5 1.8z"/>
<path class="k5" d="M83.9 97.3l.5-1.9 .6 .3 -.4 1.9z"/>
<path class="k4" d="M83.5 98.9l.4-1.6 .7 .3 -.5 1.6z"/>
<path class="k3" d="M83 100.4l.5-1.5 .6 .3 -.4 1.4z"/>
<path class="k2" d="M82.6 101.5l.4-1.1 .7 .2 -.5 1.2z"/>
<path class="k1" d="M82.1 102.5l.5-1 .6 .3 -.4 .9z"/>
<path class="k0" d="M77.5 104.2l.4 .8 .5 .2 .5 0 1.8-1 1.4-1.7 .7 .2 -1.4 1.7 -1.4 .8 -.9 .2 -.5-.2 -.5-.6z"/>
<path class="k1" d="M77 102.8l.5 1.4 .6 .4 -.5-1.3z"/>
<path class="k3" d="M76.5 100.8l.5 2 .6 .5 -.4-1.7z"/>
<path class="k5" d="M76 98.6l.5 2.2 .7 .8 -.5-2z"/>
<path class="k6" d="M75.5 96.8l.5 1.8 .7 1 -.5-1.5z"/>
<path class="k7" d="M74.5 97.2l.5-.9 1.2 1.8 -.5-.5 -.5 .9z"/>
<path class="k6" d="M74.1 99.4l.4-2.2 .7 1.3 -.5 2z"/>
<path class="k5" d="M73.6 102l.5-2.6 .6 1.1 -.4 2.3z"/>
<path class="k3" d="M73.1 104.5l.5-2.5 .7 .8 -.5 2.2z"/>
<path class="k1" d="M72.7 106.3l.4-1.8 .7 .5 -.5 1.7z"/>
<path class="k0" d="M69.7 107.8l.5 .5 .5 .2 .5-.1 .5-.3 .5-.6 .5-1.2 .6 .4 -.5 1.1 -.9 .9 -1-.1 -.5-.5z"/>
<path class="k1" d="M69.2 106.8l.5 1 .7 .3 -.5-.8z"/>
<path class="k2" d="M68.7 105.4l.5 1.4 .7 .5 -.5-1.2z"/>
<path class="k4" d="M68.2 103.5l.5 1.9 .7 .7 -.6-1.7z"/>
<path class="k5" d="M67.6 101.1l.6 2.4 .6 .9 -.5-2.1z"/>
<path class="k7" d="M67.1 98.7l.5 2.4 .7 1.2 -.5-2.2z"/>
<path class="k9" d="M66.5 96.4l.6 2.3 .7 1.4 -.6-2.1z"/>
<path class="k11" d="M66 94.7l.7 1.8z"/>
<path class="k12" d="M65 94.6l.5-.5 .5 .6 .7 1.8 -.5-.6 -.5 .5z"/>
<path class="k11" d="M64.5 96.1l.5-1.5 .7 1.8 -.5 1.4z"/>
<path class="k10" d="M64 98.6l.5-2.5 .7 1.7 -.5 2.2z"/>
<path class="k8" d="M63.5 101.4l.5-2.8 .7 1.4 -.5 2.6z"/>
<path class="k6" d="M63 104.3l.5-2.9 .7 1.2 -.5 2.6z"/>
<path class="k5" d="M62.6 107l.4-2.7 .7 .9 -.5 2.4z"/>
<path class="k3" d="M62.1 109.1l.5-2.1 .6 .6 -.5 2z"/>
<path class="k2" d="M61.6 110.8l.5-1.7 .6 .5 -.4 1.6z"/>
<path class="k1" d="M61.1 112l.5-1.2 .7 .4 -.6 1.1z"/>
<path class="k0" d="M47 119.6l12-5.4 1-.8 1.1-1.4 .6 .3 -1 1.3 -1 .8 -12.1 5.4z"/>
<path class="k0" d="M92.1 98.9l.9 .2 1.2-.2 10.3-4.6 .4 .1 -10.2 4.6 -1.3 .3 -.9-.3z"/>
<path class="k1" d="M91.2 97.9l.9 1 .4 .1 -.8-1z"/>
<path class="k2" d="M90.8 97l.4 .9 .5 .1 -.4-.8z"/>
<path class="k3" d="M90.4 95.9l.4 1.1 .5 .2 -.5-1.1z"/>
<path class="k4" d="M90 94.6l.4 1.3 .4 .2 -.4-1.3z"/>
<path class="k5" d="M89.5 93.2l.5 1.4 .4 .2 -.4-1.4z"/>
<path class="k7" d="M89.1 91.8l.4 1.4 .5 .2 -.5-1.4z"/>
<path class="k8" d="M88.6 90.5l.5 1.3 .4 .2 -.4-1.3z"/>
<path class="k9" d="M88.2 89.5l.4 1 .5 .2 -.5-.9z"/>
<path class="k10" d="M86.9 89.5l.4-.5 .5 0 .8 .8 -.4-.5 -.5 0 -.4 .5z"/>
<path class="k9" d="M86 92.1l.9-2.6 .4 .3 -.9 2.6z"/>
<path class="k7" d="M85.5 93.9l.5-1.8 .4 .3 -.5 1.7z"/>
<path class="k6" d="M85 95.7l.5-1.8 .4 .2 -.4 1.9z"/>
<path class="k5" d="M84.6 97.6l.4-1.9 .5 .3 -.5 1.8z"/>
<path class="k4" d="M84.1 99.2l.5-1.6 .4 .2 -.4 1.6z"/>
<path class="k2" d="M83.2 101.8l.9-2.6 .5 .2 -.9 2.5z"/>
<path class="k1" d="M82.8 102.7l.4-.9 .5 .1 -.5 .9z"/>
<path class="k0" d="M78.1 104.6l.5 .6 .5 .2 .4 0 1.9-1 1.4-1.7 .4 .1 -1.4 1.7 -1.4 .9 -.9 .2 -.5-.2 -.4-.6z"/>
<path class="k1" d="M77.6 103.3l.5 1.3 .5 .2 -.5-1.2z"/>
<path class="k3" d="M77.2 101.6l.4 1.7 .5 .3 -.5-1.6z"/>
<path class="k4" d="M76.7 99.6l.5 2 .4 .4 -.5-1.9z"/>
<path class="k6" d="M76.2 98.1l.5 1.5 .4 .5 -.5-1.5z"/>
<path class="k7" d="M75.2 98.5l.5-.9 .9 1 -.5-.4 -.4 .8z"/>
<path class="k6" d="M74.7 100.5l.5-2 .5 .5 -.5 1.9z"/>
<path class="k4" d="M74.3 102.8l.4-2.3 .5 .4 -.5 2.3z"/>
<path class="k3" d="M73.8 105l.5-2.2 .4 .4 -.4 2.1z"/>
<path class="k1" d="M73.3 106.7l.5-1.7 .5 .3 -.5 1.6z"/>
<path class="k0" d="M70.4 108.1l.5 .5 1 .1 .9-.9 .5-1.1 .5 .2 -.5 1 -1 .9 -1 0 -.5-.4z"/>
<path class="k1" d="M69.9 107.3l.5 .8 .4 .3 -.5-.8z"/>
<path class="k2" d="M69.4 106.1l.5 1.2 .4 .3 -.5-1.2z"/>
<path class="k3" d="M68.8 104.4l.6 1.7 .4 .3 -.5-1.6z"/>
<path class="k5" d="M68.3 102.3l.5 2.1 .5 .4 -.5-2z"/>
<path class="k7" d="M67.8 100.1l.5 2.2 .5 .5 -.6-2.1z"/>
<path class="k8" d="M67.2 98l.6 2.1 .4 .6 -.5-1.9z"/>
<path class="k10" d="M66.7 96.5l.5 1.5 .5 .8 -.5-1.5z"/>
<path class="k11" d="M65.2 97.8l.5-1.4 .5-.5 .5 .6 .5 .8 -.5-.6 -.6 .4 -.5 1.4z"/>
<path class="k9" d="M64.7 100l.5-2.2 .4 .7 -.4 2.1z"/>
<path class="k8" d="M64.2 102.6l.5-2.6 .5 .6 -.5 2.5z"/>
<path class="k6" d="M63.7 105.2l.5-2.6 .5 .5 -.5 2.5z"/>
<path class="k4" d="M63.2 107.6l.5-2.4 .5 .4 -.5 2.3z"/>
<path class="k3" d="M62.7 109.6l.5-2 .5 .3 -.5 2z"/>
<path class="k2" d="M62.3 111.2l.4-1.6 .5 .3 -.5 1.5z"/>
<path class="k1" d="M61.7 112.3l.6-1.1 .4 .2 -.5 1.1z"/>
<path class="k0" d="M47.6 119.8l12.1-5.4 1-.8 1-1.3 .5 .2 -.5 .7 -1.6 1.3 -12 5.5z"/>
<path class="k0" d="M92.5 99l.9 .3 1.3-.3 10.2-4.6 .2 .1 -10.2 4.5 -1.3 .3 -.8-.2z"/>
<path class="k1" d="M91.7 98l.8 1 .3 .1 -.9-1z"/>
<path class="k2" d="M91.3 97.2l.4 .8 .2 .1 -.4-.8z"/>
<path class="k3" d="M90.8 96.1l.5 1.1 .2 .1 -.5-1.1z"/>
<path class="k4" d="M90.4 94.8l.4 1.3 .2 .1 -.4-1.3z"/>
<path class="k5" d="M90 93.4l.4 1.4 .2 .1 -.4-1.4z"/>
<path class="k7" d="M89.5 92l.5 1.4 .2 .1 -.5-1.4z"/>
<path class="k8" d="M89.1 90.7l.4 1.3 .2 .1 -.4-1.2z"/>
<path class="k9" d="M88.6 89.8l.5 .9 .2 .2 -.4-1z"/>
<path class="k10" d="M87.3 89.8l.4-.5 .5 0 .7 .6 -.5-.5 -.4 0 -.5 .6z"/>
<path class="k9" d="M86.9 90.9l.4-1.1 .2 .2 -.4 1.1z"/>
<path class="k8" d="M86.4 92.4l.5-1.5 .2 .2 -.5 1.4z"/>
<path class="k7" d="M85.9 94.1l.5-1.7 .2 .1 -.4 1.8z"/>
<path class="k6" d="M85.5 96l.4-1.9 .3 .2 -.5 1.8z"/>
<path class="k5" d="M85 97.8l.5-1.8 .2 .1 -.5 1.8z"/>
<path class="k3" d="M84.6 99.4l.4-1.6 .2 .1 -.4 1.6z"/>
<path class="k2" d="M83.7 101.9l.9-2.5 .2 .1 -.9 2.5z"/>
<path class="k1" d="M83.2 102.8l.5-.9 .2 .1 -.5 .9z"/>
<path class="k0" d="M78.6 104.8l.4 .6 .5 .2 .9-.2 1.4-.9 1.4-1.7 .2 .1 -1.4 1.7 -1.3 .8 -1 .3 -.4-.2 -.5-.6z"/>
<path class="k1" d="M78.1 103.6l.5 1.2 .2 .1 -.5-1.2z"/>
<path class="k3" d="M77.6 102l.5 1.6 .2 .1 -.5-1.6z"/>
<path class="k4" d="M77.1 100.1l.5 1.9 .2 .1 -.5-1.8z"/>
<path class="k6" d="M75.2 100.9l.5-1.9 .4-.8 .5 .4 .7 1.7 -.5-1.4 -.4-.4 -.5 .8 -.5 1.9z"/>
<path class="k4" d="M74.7 103.2l.5-2.3 .2 .3 -.5 2.2z"/>
<path class="k3" d="M74.3 105.3l.4-2.1 .2 .2 -.4 2z"/>
<path class="k1" d="M73.8 106.9l.5-1.6 .2 .1 -.5 1.6z"/>
<path class="k0" d="M70.8 108.4l.5 .4 1 0 1-.9 .5-1 .2 .1 -.5 1 -1 .9 -.9-.1 -.5-.3z"/>
<path class="k1" d="M70.3 107.6l.5 .8 .3 .1 -.6-.8z"/>
<path class="k2" d="M69.8 106.4l.5 1.2 .2 .1 -.5-1.1z"/>
<path class="k3" d="M69.3 104.8l.5 1.6 .2 .2 -.5-1.6z"/>
<path class="k5" d="M68.8 102.8l.5 2 .2 .2 -.5-1.9z"/>
<path class="k6" d="M68.2 100.7l.6 2.1 .2 .3 -.5-2.1z"/>
<path class="k8" d="M67.7 98.8l.5 1.9 .3 .3 -.6-1.9z"/>
<path class="k10" d="M66.7 96.7l.5 .6 .7 1.8 -.5-1.4 -.5-.6z"/>
<path class="k11" d="M66.1 97.1l.6-.4 .2 .4 -.5 .4z"/>
<path class="k10" d="M65.6 98.5l.5-1.4 .3 .4 -.5 1.3z"/>
<path class="k9" d="M65.2 100.6l.4-2.1 .3 .3 -.5 2z"/>
<path class="k8" d="M64.7 103.1l.5-2.5 .2 .2 -.5 2.5z"/>
<path class="k6" d="M64.2 105.6l.5-2.5 .2 .2 -.5 2.5z"/>
<path class="k4" d="M63.7 107.9l.5-2.3 .2 .2 -.5 2.3z"/>
<path class="k3" d="M63.2 109.9l.5-2 .2 .2 -.5 1.9z"/>
<path class="k2" d="M62.7 111.4l.5-1.5 .2 .1 -.5 1.5z"/>
<path class="k1" d="M62.2 112.5l.5-1.1 .2 .1 -.5 1.1z"/>
<path class="k0" d="M48.1 120l12-5.5 1.1-.7 1-1.3 .2 .1 -.5 .7 -1.6 1.3 -12 5.5z"/>
<path class="k0" d="M92.8 99.1l.8 .2 1.3-.3 10.2-4.5 .7 .1 -10.3 4.6 -1.2 .3 -.9-.2z"/>
<path class="k1" d="M91.9 98.1l.9 1 .6 .2 -.9-1z"/>
<path class="k2" d="M91.5 97.3l.4 .8 .6 .2 -.4-.8z"/>
<path class="k3" d="M91 96.2l.5 1.1 .6 .2 -.4-1z"/>
<path class="k4" d="M90.6 94.9l.4 1.3 .7 .3 -.4-1.3z"/>
<path class="k5" d="M90.2 93.5l.4 1.4 .7 .3 -.5-1.3z"/>
<path class="k6" d="M89.7 92.1l.5 1.4 .6 .4 -.4-1.4z"/>
<path class="k8" d="M89.3 90.9l.4 1.2 .7 .4 -.4-1.2z"/>
<path class="k9" d="M88.4 89.4l.9 1.5 .7 .4 -.9-1.5z"/>
<path class="k10" d="M87.5 90l.5-.6 .4 0 .7 .4 -.5 .1 -.4 .5z"/>
<path class="k9" d="M87.1 91.1l.4-1.1 .7 .4 -.5 1.1z"/>
<path class="k8" d="M86.6 92.5l.5-1.4 .6 .4 -.4 1.4z"/>
<path class="k7" d="M86.2 94.3l.4-1.8 .7 .4 -.5 1.7z"/>
<path class="k6" d="M85.7 96.1l.5-1.8 .6 .3 -.4 1.8z"/>
<path class="k5" d="M85.2 97.9l.5-1.8 .7 .3 -.5 1.8z"/>
<path class="k3" d="M84.8 99.5l.4-1.6 .7 .3 -.4 1.5z"/>
<path class="k2" d="M83.9 102l.9-2.5 .7 .2 -1 2.5z"/>
<path class="k1" d="M83.4 102.9l.5-.9 .6 .2 -.4 .9z"/>
<path class="k0" d="M78.8 104.9l.5 .6 .9 .1 1.8-1 1.4-1.7 .7 .2 -1.4 1.7 -1.4 .8 -.9 .3 -.5-.2 -.5-.5z"/>
<path class="k1" d="M78.3 103.7l.5 1.2 .6 .3 -.4-1z"/>
<path class="k2" d="M77.8 102.1l.5 1.6 .7 .5 -.5-1.5z"/>
<path class="k4" d="M77.3 100.3l.5 1.8 .7 .6 -.5-1.7z"/>
<path class="k5" d="M76.8 98.9l.5 1.4 .7 .7 -.5-1.3z"/>
<path class="k6" d="M75.9 99.3l.5-.8 1.1 1.2 -.5-.3 -.4 .7z"/>
<path class="k5" d="M75.4 101.2l.5-1.9 .7 .8 -.5 1.8z"/>
<path class="k4" d="M74.9 103.4l.5-2.2 .7 .7 -.5 2z"/>
<path class="k2" d="M74.5 105.4l.4-2 .7 .5 -.5 1.9z"/>
<path class="k1" d="M74 107l.5-1.6 .6 .4 -.4 1.5z"/>
<path class="k0" d="M71.1 108.5l.5 .3 .9 .1 1-.9 .5-1 .7 .3 -.5 1 -1 .8 -1 0 -.5-.3z"/>
<path class="k1" d="M70.5 107.7l.6 .8 .6 .3 -.5-.7z"/>
<path class="k2" d="M70 106.6l.5 1.1 .7 .4 -.5-1z"/>
<path class="k3" d="M69.5 105l.5 1.6 .7 .5 -.5-1.5z"/>
<path class="k4" d="M69 103.1l.5 1.9 .7 .6 -.5-1.7z"/>
<path class="k6" d="M68.5 101l.5 2.1 .7 .8 -.6-1.9z"/>
<path class="k8" d="M67.9 99.1l.6 1.9 .6 1 -.5-1.8z"/>
<path class="k9" d="M67.4 97.7l.5 1.4 .7 1.1 -.5-1.3z"/>
<path class="k10" d="M65.9 98.8l.5-1.3 .5-.4 .5 .6 .7 1.2 -.5-.6 -.5 .4 -.5 1.2z"/>
<path class="k9" d="M65.4 100.8l.5-2 .7 1.1 -.5 1.9z"/>
<path class="k7" d="M64.9 103.3l.5-2.5 .7 1 -.5 2.3z"/>
<path class="k6" d="M64.4 105.8l.5-2.5 .7 .8 -.5 2.3z"/>
<path class="k4" d="M63.9 108.1l.5-2.3 .7 .6 -.5 2.2z"/>
<path class="k3" d="M63.4 110l.5-1.9 .7 .5 -.5 1.8z"/>
<path class="k1" d="M62.4 112.6l1-2.6 .7 .4 -1 2.4z"/>
<path class="k0" d="M48.3 120.1l12-5.5 1.1-.7 1-1.3 .7 .2 -1 1.3 -1.1 .7 -12 5.5z"/>
<path class="k0" d="M93.4 99.3l.9 .2 1.2-.3 10.3-4.6 .6 .2 -10.2 4.6 -1.3 .3 -.8-.2z"/>
<path class="k1" d="M92.5 98.3l.9 1 .7 .2 -.9-.9z"/>
<path class="k2" d="M92.1 97.5l.4 .8 .7 .3 -.4-.8z"/>
<path class="k3" d="M91.7 96.5l.4 1 .7 .3 -.5-1z"/>
<path class="k4" d="M91.3 95.2l.4 1.3 .6 .3 -.4-1.3z"/>
<path class="k5" d="M90.8 93.9l.5 1.3 .6 .3 -.4-1.3z"/>
<path class="k6" d="M90.4 92.5l.4 1.4 .7 .3 -.4-1.3z"/>
<path class="k7" d="M90 91.3l.4 1.2 .7 .4 -.5-1.2z"/>
<path class="k9" d="M89.1 89.8l.9 1.5 .6 .4 -.9-1.4z"/>
<path class="k10" d="M88.6 89.9l.5-.1 .6 .5 -.4 0z"/>
<path class="k9" d="M87.7 91.5l.9-1.6 .7 .4 -.9 1.6z"/>
<path class="k8" d="M87.3 92.9l.4-1.4 .7 .4 -.5 1.4z"/>
<path class="k7" d="M86.8 94.6l.5-1.7 .6 .4 -.4 1.7z"/>
<path class="k6" d="M86.4 96.4l.4-1.8 .7 .4 -.5 1.7z"/>
<path class="k5" d="M85.9 98.2l.5-1.8 .6 .3 -.4 1.8z"/>
<path class="k3" d="M85.5 99.7l.4-1.5 .7 .3 -.5 1.5z"/>
<path class="k2" d="M85 101.1l.5-1.4 .6 .3 -.4 1.3z"/>
<path class="k1" d="M84.1 103.1l.9-2 .7 .2 -1 2z"/>
<path class="k0" d="M79.4 105.2l.5 .5 1 .1 1.8-1 1.4-1.7 .6 .2 -1.3 1.7 -1.4 .8 -1 .3 -.4-.2 -.5-.4z"/>
<path class="k1" d="M79 104.2l.4 1 .7 .3 -.5-.9z"/>
<path class="k2" d="M78.5 102.7l.5 1.5 .6 .4 -.4-1.4z"/>
<path class="k3" d="M78 101l.5 1.7 .7 .5 -.5-1.5z"/>
<path class="k5" d="M77.5 99.7l.5 1.3 .7 .7 -.5-1.1z"/>
<path class="k6" d="M76.6 100.1l.4-.7 1.2 1.2 -.5-.4 -.5 .8z"/>
<path class="k5" d="M76.1 101.9l.5-1.8 .6 .9 -.4 1.6z"/>
<path class="k3" d="M75.6 103.9l.5-2 .7 .7 -.5 1.9z"/>
<path class="k2" d="M75.1 105.8l.5-1.9 .7 .6 -.5 1.8z"/>
<path class="k1" d="M74.7 107.3l.4-1.5 .7 .5 -.5 1.3z"/>
<path class="k0" d="M71.7 108.8l.5 .3 1 0 1-.8 .5-1 .6 .3 -.4 .9 -1 .8 -1 .1 -.5-.3z"/>
<path class="k1" d="M71.2 108.1l.5 .7 .7 .3 -.5-.6z"/>
<path class="k2" d="M70.7 107.1l.5 1 .7 .4 -.5-.9z"/>
<path class="k3" d="M70.2 105.6l.5 1.5 .7 .5 -.5-1.3z"/>
<path class="k4" d="M69.7 103.9l.5 1.7 .7 .7 -.5-1.6z"/>
<path class="k6" d="M69.1 102l.6 1.9 .7 .8 -.6-1.8z"/>
<path class="k7" d="M68.6 100.2l.5 1.8 .7 .9 -.5-1.6z"/>
<path class="k8" d="M68.1 98.9l.5 1.3 .7 1.1 -.5-1.2z"/>
<path class="k9" d="M66.6 99.9l.5-1.2 .5-.4 .5 .6 .7 1.2 -.5-.6 -.5 .3 -.5 1.1z"/>
<path class="k8" d="M66.1 101.8l.5-1.9 .7 1 -.5 1.8z"/>
<path class="k7" d="M65.6 104.1l.5-2.3 .7 .9 -.5 2.1z"/>
<path class="k5" d="M65.1 106.4l.5-2.3 .7 .7 -.5 2.2z"/>
<path class="k4" d="M64.6 108.6l.5-2.2 .7 .6 -.5 2z"/>
<path class="k2" d="M64.1 110.4l.5-1.8 .7 .4 -.5 1.8z"/>
<path class="k1" d="M63.1 112.8l1-2.4 .7 .4 -1 2.3z"/>
<path class="k0" d="M49 120.3l12-5.5 1.1-.7 1-1.3 .7 .3 -1.1 1.2 -1 .7 -12 5.5z"/>
<path class="k0" d="M94.1 99.5l.8 .2 1.3-.3 10.2-4.6 .6 .2 -10.2 4.6 -1.2 .3 -.9-.2z"/>
<path class="k1" d="M93.2 98.6l.9 .9 .6 .2 -.8-.9z"/>
<path class="k2" d="M92.8 97.8l.4 .8 .7 .2 -.5-.8z"/>
<path class="k3" d="M92.3 96.8l.5 1 .6 .2 -.4-1z"/>
<path class="k4" d="M91.9 95.5l.4 1.3 .7 .2 -.4-1.1z"/>
<path class="k5" d="M91.5 94.2l.4 1.3 .7 .4 -.5-1.3z"/>
<path class="k6" d="M91.1 92.9l.4 1.3 .6 .4 -.4-1.3z"/>
<path class="k7" d="M90.6 91.7l.5 1.2 .6 .4 -.4-1.2z"/>
<path class="k8" d="M90.2 90.8l.4 .9 .7 .4 -.5-.9z"/>
<path class="k9" d="M88.4 91.9l.9-1.6 .4 0 1.1 .9 -.4-.5 -.5 .1 -.8 1.5z"/>
<path class="k8" d="M87.9 93.3l.5-1.4 .7 .4 -.5 1.4z"/>
<path class="k7" d="M87.5 95l.4-1.7 .7 .4 -.5 1.7z"/>
<path class="k6" d="M87 96.7l.5-1.7 .6 .4 -.4 1.7z"/>
<path class="k4" d="M86.6 98.5l.4-1.8 .7 .4 -.5 1.7z"/>
<path class="k3" d="M86.1 100l.5-1.5 .6 .3 -.4 1.5z"/>
<path class="k2" d="M85.7 101.3l.4-1.3 .7 .3 -.5 1.3z"/>
<path class="k1" d="M84.7 103.3l1-2 .6 .3 -.9 1.9z"/>
<path class="k0" d="M80.1 105.5l.5 .4 .9 .1 1.9-1 1.3-1.7 .7 .2 -1.4 1.7 -1.4 .8 -.9 .3 -.5-.1 -.4-.4z"/>
<path class="k1" d="M79.6 104.6l.5 .9 .7 .3 -.5-.8z"/>
<path class="k2" d="M79.2 103.2l.4 1.4 .7 .4 -.5-1.2z"/>
<path class="k3" d="M78.7 101.7l.5 1.5 .6 .6 -.5-1.4z"/>
<path class="k4" d="M78.2 100.6l.5 1.1 .6 .7 -.4-1z"/>
<path class="k5" d="M77.2 101l.5-.8 1.2 1.2 -.5-.3 -.5 .7z"/>
<path class="k4" d="M76.8 102.6l.4-1.6 .7 .8 -.5 1.5z"/>
<path class="k3" d="M76.3 104.5l.5-1.9 .6 .7 -.4 1.7z"/>
<path class="k2" d="M75.8 106.3l.5-1.8 .7 .5 -.5 1.7z"/>
<path class="k1" d="M75.3 107.6l.5-1.3 .7 .4 -.5 1.2z"/>
<path class="k0" d="M72.4 109.1l.5 .3 1-.1 1-.8 .4-.9 .7 .3 -1 1.4 -.9 .4 -1-.3z"/>
<path class="k1" d="M71.4 107.6l1 1.5 .7 .3 -1-1.3z"/>
<path class="k2" d="M70.9 106.3l.5 1.3 .7 .5 -.5-1.2z"/>
<path class="k4" d="M70.4 104.7l.5 1.6 .7 .6 -.6-1.5z"/>
<path class="k5" d="M69.8 102.9l.6 1.8 .6 .7 -.5-1.6z"/>
<path class="k6" d="M69.3 101.3l.5 1.6 .7 .9 -.5-1.5z"/>
<path class="k8" d="M68.3 99.5l.5 .6 1.2 2.2 -.5-1.1 -.5-.5z"/>
<path class="k9" d="M67.8 99.8l.5-.3 .7 1.2 -.6 .3z"/>
<path class="k8" d="M67.3 100.9l.5-1.1 .6 1.2 -.5 1z"/>
<path class="k7" d="M66.8 102.7l.5-1.8 .6 1.1 -.4 1.6z"/>
<path class="k6" d="M66.3 104.8l.5-2.1 .7 .9 -.5 2z"/>
<path class="k5" d="M65.8 107l.5-2.2 .7 .8 -.5 2z"/>
<path class="k3" d="M65.3 109l.5-2 .7 .6 -.5 1.9z"/>
<path class="k2" d="M64.8 110.8l.5-1.8 .7 .5 -.5 1.7z"/>
<path class="k1" d="M63.8 113.1l1-2.3 .7 .4 -1 2.2z"/>
<path class="k0" d="M49.7 120.5l12-5.5 1-.7 1.1-1.2 .7 .3 -1.1 1.1 -1 .7 -12 5.5z"/>
<path class="k0" d="M94.3 99.3l.8 .5 1.3-.1 10.6-4.7 .7 .1 -10.2 4.6 -1.3 .3 -.8-.2 -.5-.3z"/>
<path class="k1" d="M93.9 98.8l.4 .5 .6 .2 -.4-.5z"/>
<path class="k2" d="M93.4 98l.5 .8 .6 .2 -.4-.8z"/>
<path class="k3" d="M93 97l.4 1 .7 .2 -.4-1z"/>
<path class="k4" d="M92.6 95.9l.4 1.1 .7 .2 -.5-1.1z"/>
<path class="k5" d="M92.1 94.6l.5 1.3 .6 .2 -.4-1.3z"/>
<path class="k6" d="M91.7 93.3l.4 1.3 .7 .2 -.4-1.3z"/>
<path class="k7" d="M91.3 92.1l.4 1.2 .7 .2 -.5-1.2z"/>
<path class="k8" d="M90.8 91.2l.5 .9 .6 .2 -.4-.9z"/>
<path class="k9" d="M89.1 92.3l.8-1.5 .5-.1 .4 .5 .7 .2 -.4-.4 -.5 0 -.9 1.6z"/>
<path class="k8" d="M88.6 93.7l.5-1.4 .6 .3 -.4 1.4z"/>
<path class="k7" d="M88.1 95.4l.5-1.7 .7 .3 -.5 1.6z"/>
<path class="k6" d="M87.7 97.1l.4-1.7 .7 .2 -.4 1.7z"/>
<path class="k4" d="M87.2 98.8l.5-1.7 .7 .2 -.5 1.7z"/>
<path class="k3" d="M86.8 100.3l.4-1.5 .7 .2 -.5 1.5z"/>
<path class="k2" d="M86.3 101.6l.5-1.3 .6 .2 -.4 1.3z"/>
<path class="k1" d="M85.4 103.5l.9-1.9 .7 .2 -.9 1.9z"/>
<path class="k0" d="M80.8 105.8l.4 .4 1 0 1.8-1 1.4-1.7 .7 .2 -1.4 1.6 -1.4 .9 -.9 .3 -.5-.1 -.5-.3z"/>
<path class="k1" d="M80.3 105l.5 .8 .6 .3 -.4-.7z"/>
<path class="k2" d="M79.8 103.8l.5 1.2 .7 .4 -.5-1.1z"/>
<path class="k3" d="M79.3 102.4l.5 1.4 .7 .5 -.5-1.2z"/>
<path class="k4" d="M77.4 103.3l.5-1.5 .5-.7 .5 .3 .4 1 .7 .7 -.5-.9 -.4-.2 -.5 .6 -.5 1.4z"/>
<path class="k3" d="M77 105l.4-1.7 .7 .7 -.5 1.6z"/>
<path class="k2" d="M76.5 106.7l.5-1.7 .6 .6 -.4 1.5z"/>
<path class="k1" d="M76 107.9l.5-1.2 .7 .4 -.5 1.1z"/>
<path class="k0" d="M73.1 109.4l.5 .2 .9-.1 1-.7 .5-.9 .7 .3 -1 1.3 -1 .4 -1-.2z"/>
<path class="k1" d="M72.1 108.1l1 1.3 .6 .3 -1-1.2z"/>
<path class="k2" d="M71.6 106.9l.5 1.2 .6 .4 -.5-1z"/>
<path class="k3" d="M71 105.4l.6 1.5 .6 .6 -.5-1.3z"/>
<path class="k5" d="M70.5 103.8l.5 1.6 .7 .8 -.5-1.4z"/>
<path class="k6" d="M70 102.3l.5 1.5 .7 1 -.5-1.4z"/>
<path class="k7" d="M69.5 101.2l.5 1.1 .7 1.1 -.5-1z"/>
<path class="k8" d="M67.9 102l.5-1 .6-.3 .5 .5 .7 1.2 -.5-.5 -.6 .2 -.5 1z"/>
<path class="k7" d="M67.5 103.6l.4-1.6 .7 1.1 -.5 1.4z"/>
<path class="k6" d="M67 105.6l.5-2 .6 .9 -.5 1.9z"/>
<path class="k4" d="M66.5 107.6l.5-2 .6 .8 -.4 1.9z"/>
<path class="k3" d="M66 109.5l.5-1.9 .7 .7 -.5 1.7z"/>
<path class="k2" d="M65.5 111.2l.5-1.7 .7 .5 -.5 1.6z"/>
<path class="k1" d="M65 112.4l.5-1.2 .7 .4 -.5 1.1z"/>
<path class="k0" d="M50.4 120.7l12-5.5 1.5-1.2 1.1-1.6 .7 .3 -1.1 1.6 -1 .8 -5.3 2.6 -7.2 3z"/>
<path class="k0" d="M94.9 99.5l.9 .5 1.3-.1 10.6-4.8 1.5 .4 -10.2 4.6 -1.3 .3 -.8-.2 -.4-.3z"/>
<path class="k1" d="M94.5 99l.4 .5 1.6 .4 -.5-.5z"/>
<path class="k2" d="M94.1 98.2l.4 .8 1.5 .4 -.4-.7z"/>
<path class="k3" d="M93.7 97.2l.4 1 1.5 .5 -.4-1z"/>
<path class="k4" d="M93.2 96.1l.5 1.1 1.5 .5 -.4-1.2z"/>
<path class="k5" d="M92.8 94.8l.4 1.3 1.6 .4 -.5-1.2z"/>
<path class="k6" d="M92.4 93.5l.4 1.3 1.5 .5 -.4-1.3z"/>
<path class="k7" d="M91.9 92.3l.5 1.2 1.5 .5 -.4-1.2z"/>
<path class="k8" d="M91.5 91.4l.4 .9 1.6 .5 -.4-.8z"/>
<path class="k9" d="M89.7 92.6l.9-1.6 .5 0 .4 .4 1.6 .6 -.5-.5 -.4 .1 -.9 1.5z"/>
<path class="k8" d="M89.3 94l.4-1.4 1.6 .5 -.5 1.4z"/>
<path class="k7" d="M88.8 95.6l.5-1.6 1.5 .5 -.4 1.6z"/>
<path class="k5" d="M88.4 97.3l.4-1.7 1.6 .5 -.5 1.7z"/>
<path class="k4" d="M87.9 99l.5-1.7 1.5 .5 -.5 1.7z"/>
<path class="k3" d="M87.4 100.5l.5-1.5 1.5 .5 -.4 1.5z"/>
<path class="k2" d="M87 101.8l.4-1.3 1.6 .5 -.5 1.2z"/>
<path class="k1" d="M86.1 103.7l.9-1.9 1.5 .4 -.9 2z"/>
<path class="k0" d="M81.4 106.1l.5 .3 .5 .1 .9-.3 1.4-.9 1.4-1.6 1.5 .5 -.9 1.2 -1.4 1 -1.4 .6 -.9-.4z"/>
<path class="k1" d="M80.5 104.3l.9 1.8 1.6 .5 -.9-1.5z"/>
<path class="k2" d="M80 103.1l.5 1.2 1.6 .8 -.5-1z"/>
<path class="k3" d="M79.5 102.2l.5 .9 1.6 1 -.5-.8z"/>
<path class="k4" d="M78.6 102.6l.5-.6 2 1.3 -.5-.1 -.4 .6z"/>
<path class="k3" d="M78.1 104l.5-1.4 1.6 1.2 -.5 1.2z"/>
<path class="k2" d="M77.6 105.6l.5-1.6 1.6 1 -.5 1.4z"/>
<path class="k1" d="M76.7 108.2l.9-2.6 1.6 .8 -.9 2.4z"/>
<path class="k0" d="M73.2 109.3l1 .6 1-.1 1-.8 .5-.8 1.6 .6 -1 1.2 -1 .4 -.5 0 -1-.6z"/>
<path class="k1" d="M72.7 108.5l.5 .8 1.6 .5 -.5-.7z"/>
<path class="k2" d="M72.2 107.5l.5 1 1.6 .6 -.5-1z"/>
<path class="k3" d="M71.7 106.2l.5 1.3 1.6 .6 -.5-1.3z"/>
<path class="k4" d="M71.2 104.8l.5 1.4 1.6 .6 -.5-1.4z"/>
<path class="k5" d="M70.7 103.4l.5 1.4 1.6 .6 -.5-1.4z"/>
<path class="k7" d="M69.7 101.9l.5 .5 .5 1 1.6 .6 -.5-1.1 -.5-.5z"/>
<path class="k8" d="M69.1 102.1l.6-.2 1.6 .5 -.6 .2z"/>
<path class="k7" d="M68.1 104.5l1-2.4 1.6 .5 -1 2.3z"/>
<path class="k6" d="M67.6 106.4l.5-1.9 1.6 .4 -.5 1.8z"/>
<path class="k4" d="M67.2 108.3l.4-1.9 1.6 .3 -.4 1.9z"/>
<path class="k3" d="M66.7 110l.5-1.7 1.6 .3 -.5 1.8z"/>
<path class="k2" d="M66.2 111.6l.5-1.6 1.6 .4 -.5 1.5z"/>
<path class="k1" d="M65.7 112.7l.5-1.1 1.6 .3 -.5 1.3z"/>
<path class="k0" d="M51.1 120.7l6.6-2.8 5.4-2.5 1.5-1.1 1.1-1.6 1.6 .5 -1.1 1.5 -1 .9 -5.9 2.8 -4.9 1.4 -1.7 .8z"/>
<path class="k0" d="M96.5 99.9l.4 .3 .8 .2 1.3-.3 10.2-4.6 2.2 .6 -10.2 4.6 -1.3 .3 -.8-.1 -.4-.4z"/>
<path class="k1" d="M96 99.4l.5 .5 2.2 .6 -.4-.5z"/>
<path class="k2" d="M95.6 98.7l.4 .7 2.3 .6 -.5-.7z"/>
<path class="k3" d="M95.2 97.7l.4 1 2.2 .6 -.4-.9z"/>
<path class="k4" d="M94.8 96.5l.4 1.2 2.2 .7 -.4-1.2z"/>
<path class="k5" d="M94.3 95.3l.5 1.2 2.2 .7 -.4-1.2z"/>
<path class="k6" d="M93.9 94l.4 1.3 2.3 .7 -.4-1.3z"/>
<path class="k7" d="M93.5 92.8l.4 1.2 2.3 .7 -.5-1.1z"/>
<path class="k8" d="M93.1 92l.4 .8 2.2 .8 -.4-.8z"/>
<path class="k9" d="M91.7 92.1l.5-.5 .4-.1 .5 .5 2.2 .8 -.4-.5 -.5 .1 -.4 .5z"/>
<path class="k8" d="M90.8 94.5l.9-2.4 2.3 .8 -.9 2.4z"/>
<path class="k7" d="M90.4 96.1l.4-1.6 2.3 .8 -.5 1.5z"/>
<path class="k5" d="M89.9 97.8l.5-1.7 2.2 .7 -.4 1.7z"/>
<path class="k4" d="M89.4 99.5l.5-1.7 2.3 .7 -.5 1.7z"/>
<path class="k3" d="M89 101l.4-1.5 2.3 .7 -.5 1.4z"/>
<path class="k2" d="M88.5 102.2l.5-1.2 2.2 .6 -.4 1.3z"/>
<path class="k1" d="M87.6 104.2l.9-2 2.3 .7 -.9 1.9z"/>
<path class="k0" d="M83 106.6l.9 .4 1.4-.6 1.4-1 .9-1.2 2.3 .6 -.9 1.2 -1.4 1 -1.4 .6 -.9-.3z"/>
<path class="k1" d="M82.1 105.1l.9 1.5 2.3 .7 -1-1.5z"/>
<path class="k2" d="M81.6 104.1l.5 1 2.2 .7 -.4-1z"/>
<path class="k3" d="M81.1 103.3l.5 .8 2.3 .7 -.5-.7z"/>
<path class="k4" d="M80.2 103.8l.4-.6 2.8 .9 -.5-.2 -.5 .6z"/>
<path class="k3" d="M79.7 105l.5-1.2 2.2 .7 -.4 1.2z"/>
<path class="k2" d="M79.2 106.4l.5-1.4 2.3 .7 -.5 1.4z"/>
<path class="k1" d="M78.3 108.8l.9-2.4 2.3 .7 -1 2.4z"/>
<path class="k0" d="M74.8 109.8l1 .6 1-.2 1-.7 .5-.7 2.2 .7 -.5 .7 -.9 .7 -1 .2 -1-.5z"/>
<path class="k1" d="M74.3 109.1l.5 .7 2.3 .8 -.5-.7z"/>
<path class="k2" d="M73.8 108.1l.5 1 2.3 .8 -.5-1z"/>
<path class="k3" d="M73.3 106.8l.5 1.3 2.3 .8 -.5-1.3z"/>
<path class="k4" d="M72.8 105.4l.5 1.4 2.3 .8 -.5-1.4z"/>
<path class="k5" d="M72.3 104l.5 1.4 2.3 .8 -.5-1.4z"/>
<path class="k6" d="M71.8 102.9l.5 1.1 2.3 .8 -.5-1.1z"/>
<path class="k7" d="M71.3 102.4l.5 .5 2.3 .8 -.5-.6z"/>
<path class="k8" d="M70.7 102.6l.6-.2 2.3 .7 -.5 .1z"/>
<path class="k7" d="M69.7 104.9l1-2.3 2.4 .6 -.6 .8 -.4 1.4z"/>
<path class="k6" d="M69.2 106.7l.5-1.8 2.4 .5 -.5 1.8z"/>
<path class="k4" d="M68.8 108.6l.4-1.9 2.4 .5 -.5 1.9z"/>
<path class="k3" d="M68.3 110.4l.5-1.8 2.3 .5 -.5 1.8z"/>
<path class="k2" d="M67.8 111.9l.5-1.5 2.3 .5 -.5 1.6z"/>
<path class="k1" d="M66.7 114.1l1.1-2.2 2.3 .6 -1.1 2.2z"/>
<path class="k0" d="M54.4 119.8l3.8-1 4.4-1.8 2.6-1.4 1.5-1.5 2.3 .6 -1 1.2 -1 .7 -5.9 2.7 -1.6 .2 -2.8 .1z"/>
<path class="k1" d="M52.7 120.6l1.7-.8 2.3-.2 -1.7 .8z"/>
<path class="k0" d="M98.7 100.5l.4 .4 .8 .1 1.3-.3 10.2-4.6 2.1 .5 -10.1 4.7 -1.2 .3 -.9-.1 -.4-.3z"/>
<path class="k1" d="M98.3 100l.4 .5 2.2 .7 -.4-.5z"/>
<path class="k2" d="M97.4 98.4l.9 1.6 2.2 .7 -.8-1.7z"/>
<path class="k3" d="M97 97.2l.4 1.2 2.3 .6 -.5-1.1z"/>
<path class="k5" d="M96.6 96l.4 1.2 2.2 .7 -.4-1.2z"/>
<path class="k6" d="M96.2 94.7l.4 1.3 2.2 .7 -.4-1.2z"/>
<path class="k7" d="M95.7 93.6l.5 1.1 2.2 .8 -.4-1.1z"/>
<path class="k8" d="M94.9 92.3l.8 1.3 2.3 .8 -.9-1.3z"/>
<path class="k9" d="M94 92.9l.4-.5 .5-.1 2.2 .8 -.4 .1 -.5 .5z"/>
<path class="k8" d="M93.5 93.9l.5-1 2.2 .8 -.4 1z"/>
<path class="k7" d="M93.1 95.3l.4-1.4 2.3 .8 -.5 1.3z"/>
<path class="k6" d="M92.6 96.8l.5-1.5 2.2 .7 -.4 1.6z"/>
<path class="k5" d="M92.2 98.5l.4-1.7 2.3 .8 -.5 1.6z"/>
<path class="k4" d="M91.7 100.2l.5-1.7 2.2 .7 -.5 1.7z"/>
<path class="k3" d="M91.2 101.6l.5-1.4 2.2 .7 -.4 1.4z"/>
<path class="k2" d="M90.8 102.9l.4-1.3 2.3 .7 -.5 1.3z"/>
<path class="k1" d="M89.9 104.8l.9-1.9 2.2 .7 -.9 1.9z"/>
<path class="k0" d="M85.3 107.3l.9 .3 1.4-.6 1.4-1 .9-1.2 2.2 .7 -.9 1.2 -1.4 1 -1.3 .5 -1-.2z"/>
<path class="k1" d="M84.3 105.8l1 1.5 2.2 .7 -.9-1.5z"/>
<path class="k2" d="M83.9 104.8l.4 1 2.3 .7 -.5-1z"/>
<path class="k3" d="M83.4 104.1l.5 .7 2.2 .7 -.4-.7z"/>
<path class="k4" d="M82.4 104.5l.5-.6 2.8 .9 -.5-.2 -.5 .6z"/>
<path class="k3" d="M82 105.7l.4-1.2 2.3 .7 -.5 1.2z"/>
<path class="k2" d="M81.5 107.1l.5-1.4 2.2 .7 -.4 1.4z"/>
<path class="k1" d="M80.5 109.5l1-2.4 2.3 .7 -1 2.4z"/>
<path class="k0" d="M77.1 110.6l1 .5 1-.2 .9-.7 .5-.7 2.3 .7 -.5 .7 -.9 .7 -1 .2 -1-.5z"/>
<path class="k1" d="M76.6 109.9l.5 .7 2.3 .7 -.5-.6z"/>
<path class="k2" d="M76.1 108.9l.5 1 2.3 .8 -.5-1z"/>
<path class="k3" d="M75.6 107.6l.5 1.3 2.3 .8 -.5-1.2z"/>
<path class="k4" d="M75.1 106.2l.5 1.4 2.3 .9 -.5-1.4z"/>
<path class="k5" d="M74.6 104.8l.5 1.4 2.3 .9 -.5-1.5z"/>
<path class="k6" d="M74.1 103.7l.5 1.1 2.3 .8 -.5-1.1z"/>
<path class="k7" d="M73.6 103.1l.5 .6 2.3 .8 -.5-.7z"/>
<path class="k8" d="M73.1 103.2l.5-.1 2.3 .7 -.5 0z"/>
<path class="k7" d="M72.1 105.4l.4-1.4 .6-.8 2.3 .6 -.5 .7 -.5 1.4z"/>
<path class="k6" d="M71.6 107.2l.5-1.8 2.3 .5 -.5 1.8z"/>
<path class="k5" d="M71.1 109.1l.5-1.9 2.3 .5 -.5 1.9z"/>
<path class="k3" d="M70.6 110.9l.5-1.8 2.3 .5 -.5 1.8z"/>
<path class="k2" d="M70.1 112.5l.5-1.6 2.3 .5 -.5 1.6z"/>
<path class="k1" d="M69 114.7l1.1-2.2 2.3 .5 -1 2.3z"/>
<path class="k0" d="M58.4 119.5l2.2-.1 2.7-1 4.2-2.1 1.5-1.6 2.4 .6 -1.1 1.3 -1 .8 -5.3 2.4 -1.6 .2 -1.7-.3z"/>
<path class="k1" d="M55 120.4l1.1-.6 1.1-.3 3.5 .2 -1.7-.3 -.5 .1 -1.2 .8z"/>
<path class="k0" d="M100.9 101.2l.8 .4 1.3-.1 10.5-4.9 2.2 .2 -3.9 1.4 -6.6 3.8 -1.2 .2 -.9-.4z"/>
<path class="k1" d="M100.5 100.7l.4 .5 2.2 .6 -.4-.5z"/>
<path class="k2" d="M99.7 99l.8 1.7 2.2 .6 -.8-1.6z"/>
<path class="k3" d="M99.2 97.9l.5 1.1 2.2 .7 -.4-1.1z"/>
<path class="k4" d="M98.8 96.7l.4 1.2 2.3 .7 -.4-1.2z"/>
<path class="k6" d="M98.4 95.5l.4 1.2 2.3 .7 -.4-1.2z"/>
<path class="k7" d="M98 94.4l.4 1.1 2.3 .7 -.5-1.1z"/>
<path class="k8" d="M97.1 93.1l.9 1.3 2.2 .7 -.8-1.2z"/>
<path class="k9" d="M96.2 93.7l.5-.5 .4-.1 2.3 .8 -.5 .1 -.4 .5z"/>
<path class="k8" d="M95.8 94.7l.4-1 2.3 .8 -.5 1z"/>
<path class="k7" d="M95.3 96l.5-1.3 2.2 .8 -.4 1.3z"/>
<path class="k6" d="M94.9 97.6l.4-1.6 2.3 .8 -.5 1.5z"/>
<path class="k5" d="M94.4 99.2l.5-1.6 2.2 .7 -.4 1.7z"/>
<path class="k4" d="M93.9 100.9l.5-1.7 2.3 .8 -.5 1.6z"/>
<path class="k3" d="M93.5 102.3l.4-1.4 2.3 .7 -.4 1.4z"/>
<path class="k2" d="M93 103.6l.5-1.3 2.3 .7 -.5 1.3z"/>
<path class="k1" d="M92.1 105.5l.9-1.9 2.3 .7 -.9 1.8z"/>
<path class="k0" d="M87.5 108l1 .2 1.3-.5 1.4-1 .9-1.2 2.3 .6 -.9 1.2 -1.4 1 -1.4 .6 -.9-.3z"/>
<path class="k1" d="M86.6 106.5l.9 1.5 2.3 .6 -.9-1.4z"/>
<path class="k2" d="M86.1 105.5l.5 1 2.3 .7 -.5-1z"/>
<path class="k3" d="M84.2 106.4l.5-1.2 .5-.6 .5 .2 .4 .7 2.3 .7 -.4-.7 -.5-.1 -.5 .5 -.5 1.2z"/>
<path class="k2" d="M83.8 107.8l.4-1.4 2.3 .7 -.4 1.4z"/>
<path class="k1" d="M82.8 110.2l1-2.4 2.3 .7 -1 2.4z"/>
<path class="k0" d="M79.4 111.3l1 .5 1-.2 .9-.7 .5-.7 2.3 .7 -.5 .7 -.9 .7 -1 .2 -1-.4z"/>
<path class="k1" d="M78.9 110.7l.5 .6 2.3 .8 -.5-.6z"/>
<path class="k2" d="M78.4 109.7l.5 1 2.3 .8 -.5-.9z"/>
<path class="k3" d="M77.9 108.5l.5 1.2 2.3 .9 -.5-1.2z"/>
<path class="k4" d="M77.4 107.1l.5 1.4 2.3 .9 -.5-1.4z"/>
<path class="k5" d="M76.9 105.6l.5 1.5 2.3 .9 -.5-1.5z"/>
<path class="k6" d="M76.4 104.5l.5 1.1 2.3 .9 -.5-1.2z"/>
<path class="k7" d="M75.9 103.8l.5 .7 2.3 .8 -.5-.8z"/>
<path class="k8" d="M75.4 103.8l.5 0 1.8 .7z"/>
<path class="k7" d="M74.4 105.9l.5-1.4 .5-.7 2.3 .7 -.5 .6 -.5 1.3z"/>
<path class="k6" d="M73.9 107.7l.5-1.8 2.3 .5 -.5 1.7z"/>
<path class="k5" d="M73.4 109.6l.5-1.9 2.3 .4 -.5 2z"/>
<path class="k3" d="M72.9 111.4l.5-1.8 2.3 .5 -.5 1.8z"/>
<path class="k2" d="M72.4 113l.5-1.6 2.3 .5 -.5 1.7z"/>
<path class="k1" d="M71.4 115.3l1-2.3 2.3 .6 -1 2.4z"/>
<path class="k0" d="M61.3 119.8l1.1 .2 1.1-.1 2.1-.8 4.2-2.1 1-.9 .6-.8 2.3 .7 -1 1.3 -1.1 .8 -5.3 2.4 -1.6 .2 -1.1-.3z"/>
<path class="k1" d="M59.6 119.4l4 1 -1.7-.7z"/>
<path class="k2" d="M57.3 120.3l1.2-.8 1.1-.1 2.3 .3 -1.1 .1 -1.1 .8z"/>
<path class="k0" d="M113.4 97.5l2.3-.7 2.2 .2 -2.3 .3z"/>
<path class="k1" d="M110.6 98.8l2.8-1.3 2.2-.2 -1.6 .6 -1.2 .7z"/>
<path class="k0" d="M103.1 101.8l.9 .4 1.2-.2 1.7-.9 3.7-2.3 2.2-.2 -3.2 2.6 -1.7 1.1 -1.2 .5 -.9-.1 -.4-.3z"/>
<path class="k1" d="M102.7 101.3l.4 .5 2.3 .6 -.4-.5z"/>
<path class="k2" d="M101.9 99.7l.8 1.6 2.3 .6 -.8-1.5z"/>
<path class="k3" d="M101.5 98.6l.4 1.1 2.3 .7 -.4-1.1z"/>
<path class="k4" d="M101.1 97.4l.4 1.2 2.3 .7 -.5-1.2z"/>
<path class="k6" d="M100.7 96.2l.4 1.2 2.2 .7 -.4-1.1z"/>
<path class="k7" d="M99.8 94.3l.9 1.9 2.2 .8 -.8-1.9z"/>
<path class="k8" d="M98 95.5l.9-1.5 .5-.1 .4 .4 2.3 .8 -.4-.4 -.5 .1 -.9 1.5z"/>
<path class="k7" d="M97.6 96.8l.4-1.3 2.3 .8 -.4 1.3z"/>
<path class="k6" d="M97.1 98.3l.5-1.5 2.3 .8 -.5 1.5z"/>
<path class="k5" d="M96.7 100l.4-1.7 2.3 .8 -.4 1.6z"/>
<path class="k4" d="M96.2 101.6l.5-1.6 2.3 .7 -.5 1.6z"/>
<path class="k3" d="M95.8 103l.4-1.4 2.3 .7 -.4 1.4z"/>
<path class="k2" d="M95.3 104.3l.5-1.3 2.3 .7 -.5 1.2z"/>
<path class="k1" d="M94.4 106.1l.9-1.8 2.3 .6 -.9 1.9z"/>
<path class="k0" d="M89.4 108.1l.4 .5 .9 .3 1-.3 1.3-.9 1.4-1.6 2.3 .7 -1.4 1.6 -1.8 1 -.9 .1 -.9-.8z"/>
<path class="k1" d="M88.9 107.2l.5 .9 2.3 .6 -.5-.8z"/>
<path class="k2" d="M88.4 106.2l.5 1 2.3 .7 -.4-.9z"/>
<path class="k3" d="M86.5 107.1l.5-1.2 .5-.5 .5 .1 .4 .7 2.4 .8 -.5-.7 -.5-.2 -.5 .6 -.4 1.2z"/>
<path class="k2" d="M86.1 108.5l.4-1.4 2.4 .8 -.5 1.3z"/>
<path class="k1" d="M85.6 109.8l.5-1.3 2.3 .7 -.5 1.3z"/>
<path class="k0" d="M81.7 112.1l1 .4 1-.2 .9-.7 1-1.8 2.3 .7 -.9 1.7 -1 .8 -1 .2 -.9-.3z"/>
<path class="k1" d="M80.7 110.6l1 1.5 2.4 .8 -1-1.5z"/>
<path class="k2" d="M80.2 109.4l.5 1.2 2.4 .8 -.5-1.2z"/>
<path class="k4" d="M79.7 108l.5 1.4 2.4 .8 -.5-1.4z"/>
<path class="k5" d="M79.2 106.5l.5 1.5 2.4 .8 -.5-1.4z"/>
<path class="k6" d="M78.7 105.3l.5 1.2 2.4 .9 -.5-1.3z"/>
<path class="k7" d="M78.2 104.5l.5 .8 2.4 .8 -.5-.8z"/>
<path class="k8" d="M77.2 105.1l.5-.6 .5 0 2.4 .8 -.5-.2 -.5 .6z"/>
<path class="k7" d="M76.7 106.4l.5-1.3 2.4 .6 -.5 1.2z"/>
<path class="k6" d="M76.2 108.1l.5-1.7 2.4 .5 -.5 1.7z"/>
<path class="k5" d="M75.7 110.1l.5-2 2.4 .5 -.5 1.9z"/>
<path class="k4" d="M75.2 111.9l.5-1.8 2.4 .4 -.5 1.9z"/>
<path class="k2" d="M74.7 113.6l.5-1.7 2.4 .5 -.5 1.8z"/>
<path class="k1" d="M73.7 116l1-2.4 2.4 .6 -1 2.4z"/>
<path class="k0" d="M64.2 120.5l1.1 .2 1-.2 3.2-1.4 2.7-1.4 1-.9 .5-.8 2.4 .6 -.5 .8 -1.1 1.1 -2.1 1.1 -3.1 1.5 -1.6 .3 -1.1-.3z"/>
<path class="k1" d="M62.5 119.9l1.7 .6 2.4 .6 -1.7-.8z"/>
<path class="k2" d="M59.7 120.6l1.1-.8 .6-.1 3.5 .6 -1.1-.3 -.6 .1 -1.1 .8z"/>
<path class="k0" d="M117.2 97.1l2.2 0z"/>
<path class="k1" d="M110.8 100.3l2-1.7 1.6-.9 1.6-.5 2.6-.1 -1.5 .1 -1.2 .5 -2.8 2.7z"/>
<path class="k0" d="M105.4 102.4l.8 .4 .9-.1 1.6-.9 2.1-1.5 2.3 .1 -1.7 1.5 -1.6 1.2 -1.3 .3 -.8-.4z"/>
<path class="k1" d="M105 101.9l.4 .5 2.3 .6 -.4-.4z"/>
<path class="k2" d="M104.2 100.4l.8 1.5 2.3 .7 -.8-1.6z"/>
<path class="k3" d="M103.8 99.3l.4 1.1 2.3 .6 -.5-1z"/>
<path class="k4" d="M103.3 98.1l.5 1.2 2.2 .7 -.4-1.1z"/>
<path class="k5" d="M102.9 97l.4 1.1 2.3 .8 -.4-1.2z"/>
<path class="k6" d="M102.5 95.9l.4 1.1 2.3 .7 -.4-1z"/>
<path class="k7" d="M102.1 95.1l.4 .8 2.3 .8 -.4-.8z"/>
<path class="k8" d="M100.3 96.3l.9-1.5 .5-.1 .4 .4 2.3 .8 -.4-.4 -.5 .1 -.9 1.5z"/>
<path class="k7" d="M99.9 97.6l.4-1.3 2.3 .8 -.4 1.3z"/>
<path class="k6" d="M99.4 99.1l.5-1.5 2.3 .8 -.5 1.5z"/>
<path class="k5" d="M99 100.7l.4-1.6 2.3 .8 -.4 1.5z"/>
<path class="k4" d="M98.5 102.3l.5-1.6 2.3 .7 -.5 1.6z"/>
<path class="k3" d="M98.1 103.7l.4-1.4 2.3 .7 -.4 1.4z"/>
<path class="k2" d="M97.6 104.9l.5-1.2 2.3 .7 -.5 1.2z"/>
<path class="k1" d="M96.7 106.8l.9-1.9 2.3 .7 -.9 1.9z"/>
<path class="k0" d="M91.7 108.7l.9 .8 .9-.1 1.8-1 1.4-1.6 2.3 .7 -1.4 1.5 -1.8 1.1 -.9 .1 -.9-.8z"/>
<path class="k1" d="M91.2 107.9l.5 .8 2.3 .7 -.5-.8z"/>
<path class="k2" d="M90.8 107l.4 .9 2.3 .7 -.4-.9z"/>
<path class="k3" d="M88.9 107.9l.4-1.2 .5-.6 .5 .2 .5 .7 2.3 .7 -.5-.7 -.4-.1 -.5 .5 -.5 1.2z"/>
<path class="k2" d="M88.4 109.2l.5-1.3 2.3 .7 -.5 1.4z"/>
<path class="k1" d="M87.9 110.5l.5-1.3 2.3 .8 -.4 1.2z"/>
<path class="k0" d="M84.1 112.9l.9 .3 1-.2 1-.8 .9-1.7 2.4 .7 -.5 1 -1 1.2 -1.4 .5 -1-.3z"/>
<path class="k1" d="M83.1 111.4l1 1.5 2.3 .7 -1-1.3z"/>
<path class="k2" d="M82.6 110.2l.5 1.2 2.3 .9 -.4-1.2z"/>
<path class="k3" d="M82.1 108.8l.5 1.4 2.4 .9 -.5-1.4z"/>
<path class="k5" d="M81.6 107.4l.5 1.4 2.4 .9 -.5-1.5z"/>
<path class="k6" d="M81.1 106.1l.5 1.3 2.4 .8 -.5-1.3z"/>
<path class="k7" d="M80.6 105.3l.5 .8 2.4 .8 -.5-.8z"/>
<path class="k8" d="M79.6 105.7l.5-.6 2.9 1 -.5-.3 -.5 .5z"/>
<path class="k7" d="M79.1 106.9l.5-1.2 2.4 .6 -.5 1.1z"/>
<path class="k6" d="M78.6 108.6l.5-1.7 2.4 .5 -.5 1.7z"/>
<path class="k5" d="M78.1 110.5l.5-1.9 2.4 .5 -.5 1.9z"/>
<path class="k4" d="M77.6 112.4l.5-1.9 2.4 .5 -.5 2z"/>
<path class="k3" d="M77.1 114.2l.5-1.8 2.4 .6 -.5 1.7z"/>
<path class="k2" d="M76.6 115.5l.5-1.3 2.4 .5 -.6 1.4z"/>
<path class="k1" d="M76.1 116.6l.5-1.1 2.3 .6 -.5 1.2z"/>
<path class="k0" d="M66.6 121.1l1.1 .3 1-.2 2.7-1.1 3.1-1.6 1.1-1.1 .5-.8 2.3 .7 -.5 .8 -1 1.1 -2.1 1.2 -3.1 1.4 -1.6 .3 -1.1-.4z"/>
<path class="k1" d="M65.5 120.6l1.1 .5 2.4 .6 -1.1-.6z"/>
<path class="k2" d="M63.8 120l1.7 .6 2.4 .5 -1.7-.9z"/>
<path class="k3" d="M62.7 120.4l1.1-.4 2.4 .2 -1.1 .5z"/>
<path class="k2" d="M62.1 120.9l.6-.5 2.4 .3 -.6 .6z"/>
<path class="k1" d="M118.6 97.1l3.8 .3 -1.5-.5z"/>
<path class="k2" d="M114.3 99.1l1.2-1.1 1.2-.7 1.2-.2 3-.2 -1.1-.1 -.8 .1 -.8 .5 -1.6 1.6z"/>
<path class="k1" d="M112.2 101.2l2.1-2.1 2.3-.1 -2.1 2.4z"/>
<path class="k0" d="M107.7 103l.8 .4 .8-.2 1.3-.7 1.6-1.3 2.3 .2 -1.6 1.6 -1.3 .8 -.8 .2 -.8-.3z"/>
<path class="k1" d="M106.9 101.9l.8 1.1 2.3 .7 -.8-1.1z"/>
<path class="k2" d="M106.5 101l.4 .9 2.3 .7 -.4-.8z"/>
<path class="k3" d="M106 100l.5 1 2.3 .8 -.5-1z"/>
<path class="k4" d="M105.6 98.9l.4 1.1 2.3 .8 -.4-1.1z"/>
<path class="k5" d="M105.2 97.7l.4 1.2 2.3 .8 -.4-1.1z"/>
<path class="k6" d="M104.8 96.7l.4 1 2.3 .9 -.4-.9z"/>
<path class="k7" d="M104.4 95.9l.4 .8 2.3 1 -.4-.8z"/>
<path class="k8" d="M103.1 96.1l.4-.5 .5-.1 .4 .4 2.3 1 -.4-.3 -.4 0 -.5 .5z"/>
<path class="k7" d="M102.2 98.4l.9-2.3 2.3 1 -.9 2.2z"/>
<path class="k6" d="M101.7 99.9l.5-1.5 2.3 .9 -.4 1.5z"/>
<path class="k5" d="M101.3 101.4l.4-1.5 2.4 .9 -.5 1.5z"/>
<path class="k4" d="M100.8 103l.5-1.6 2.3 .9 -.5 1.5z"/>
<path class="k3" d="M100.4 104.4l.4-1.4 2.3 .8 -.4 1.4z"/>
<path class="k2" d="M99.9 105.6l.5-1.2 2.3 .8 -.5 1.2z"/>
<path class="k1" d="M99 107.5l.9-1.9 2.3 .8 -.9 1.7z"/>
<path class="k0" d="M94 109.4l.9 .8 .9-.1 1.8-1.1 1.4-1.5 2.3 .6 -.9 1.2 -1.3 1 -1.4 .6 -.9-.2 -.5-.6z"/>
<path class="k1" d="M93.5 108.6l.5 .8 2.3 .7 -.4-.8z"/>
<path class="k2" d="M93.1 107.7l.4 .9 2.4 .7 -.5-.9z"/>
<path class="k3" d="M91.2 108.6l.5-1.2 .5-.5 .4 .1 .5 .7 2.3 .7 -.4-.7 -.5-.1 -.5 .6 -.4 1.1z"/>
<path class="k2" d="M90.7 110l.5-1.4 2.4 .7 -.5 1.4z"/>
<path class="k1" d="M90.3 111.2l.4-1.2 2.4 .7 -.5 1.3z"/>
<path class="k0" d="M86.4 113.6l1 .3 1.4-.5 1-1.2 .5-1 2.3 .8 -.5 1 -.9 1.1 -1.4 .6 -1-.3z"/>
<path class="k1" d="M85.4 112.3l1 1.3 2.4 .8 -1-1.3z"/>
<path class="k2" d="M85 111.1l.4 1.2 2.4 .8 -.5-1.1z"/>
<path class="k3" d="M84.5 109.7l.5 1.4 2.3 .9 -.5-1.4z"/>
<path class="k5" d="M84 108.2l.5 1.5 2.3 .9 -.4-1.5z"/>
<path class="k6" d="M83.5 106.9l.5 1.3 2.4 .9 -.5-1.3z"/>
<path class="k7" d="M82.5 105.8l.5 .3 .5 .8 2.4 .9 -.5-.9 -.5-.4z"/>
<path class="k8" d="M82 106.3l.5-.5 2.4 .7 -.5 .4z"/>
<path class="k7" d="M81.5 107.4l.5-1.1 2.4 .6 -.5 1.1z"/>
<path class="k6" d="M81 109.1l.5-1.7 2.4 .6 -.5 1.6z"/>
<path class="k5" d="M80.5 111l.5-1.9 2.4 .5 -.5 1.9z"/>
<path class="k4" d="M80 113l.5-2 2.4 .5 -.5 2z"/>
<path class="k3" d="M79.5 114.7l.5-1.7 2.4 .5 -.5 1.8z"/>
<path class="k2" d="M78.9 116.1l.6-1.4 2.4 .6 -.6 1.4z"/>
<path class="k1" d="M78.4 117.3l.5-1.2 2.4 .6 -.5 1.2z"/>
<path class="k0" d="M69.5 122l1.1 .1 1.1-.3 3.7-1.7 2-1.4 1-1.4 2.4 .6 -.5 .9 -1 1.1 -1.5 1 -3.2 1.5 -1.6 .3 -1.1-.2z"/>
<path class="k1" d="M67.9 121.1l1.6 .9 2.4 .5 -1.6-1.3z"/>
<path class="k2" d="M66.8 120.4l1.1 .7 2.4 .1 -1.1-.9z"/>
<path class="k3" d="M64.5 121.3l1.1-1 3.6 0 -.6-.3 -.5 .1 -1.1 1z"/>
<path class="k1" d="M121.7 97.2l3 .3 -.7-.4z"/>
<path class="k2" d="M120.1 96.8l1.6 .4 2.3-.1 -1.6-.7z"/>
<path class="k3" d="M117 98.5l1.2-1.1 .8-.5 3.4-.5 -.7 0 -1.2 .5 -1.2 1.3z"/>
<path class="k2" d="M115.7 100l1.3-1.5 2.3-.3 -1.2 1.7z"/>
<path class="k1" d="M114.1 101.9l1.6-1.9 2.4-.1 -1.7 2.2z"/>
<path class="k0" d="M110 103.7l.8 .3 .8-.2 1.3-.8 1.2-1.1 2.3 .2 -1.2 1.4 -1.3 .8 -.8 .3 -.8-.3z"/>
<path class="k1" d="M109.2 102.6l.8 1.1 2.3 .6 -.8-.9z"/>
<path class="k2" d="M108.8 101.8l.4 .8 2.3 .8 -.4-.8z"/>
<path class="k3" d="M108.3 100.8l.5 1 2.3 .8 -.4-1z"/>
<path class="k4" d="M107.9 99.7l.4 1.1 2.4 .8 -.4-1z"/>
<path class="k5" d="M107.5 98.6l.4 1.1 2.4 .9 -.4-1z"/>
<path class="k6" d="M107.1 97.7l.4 .9 2.4 1 -.4-1z"/>
<path class="k7" d="M106.3 96.6l.8 1.1 2.4 .9 -.9-1z"/>
<path class="k8" d="M105.4 97.1l.5-.5 .4 0 2.3 1 -.4 .1 -.4 .5z"/>
<path class="k7" d="M105 98.1l.4-1 2.4 1.1 -.5 .9z"/>
<path class="k6" d="M104.1 100.8l.9-2.7 2.3 1 -.9 2.6z"/>
<path class="k5" d="M103.6 102.3l.5-1.5 2.3 .9 -.5 1.5z"/>
<path class="k4" d="M103.1 103.8l.5-1.5 2.3 .9 -.4 1.5z"/>
<path class="k3" d="M102.7 105.2l.4-1.4 2.4 .9 -.5 1.3z"/>
<path class="k2" d="M102.2 106.4l.5-1.2 2.3 .8 -.4 1.1z"/>
<path class="k1" d="M101.3 108.1l.9-1.7 2.4 .7 -.9 1.8z"/>
<path class="k0" d="M96.3 110.1l1 .8 .9-.2 1.8-1 1.3-1.6 2.4 .8 -.9 1.1 -1.4 1 -1.3 .6 -.9-.3 -.5-.5z"/>
<path class="k1" d="M95.9 109.3l.4 .8 2.4 .7 -.4-.7z"/>
<path class="k2" d="M95.4 108.4l.5 .9 2.4 .8 -.5-.9z"/>
<path class="k3" d="M93.6 109.3l.4-1.1 .5-.6 .5 .1 .4 .7 2.4 .8 -.4-.7 -.5-.1 -.5 .6 -.4 1.1z"/>
<path class="k2" d="M93.1 110.7l.5-1.4 2.4 .8 -.5 1.3z"/>
<path class="k1" d="M92.6 112l.5-1.3 2.4 .7 -.5 1.3z"/>
<path class="k0" d="M88.8 114.4l1 .3 1.4-.6 .9-1.1 .5-1 2.4 .7 -.5 1 -.9 1.1 -1.5 .6 -.9-.2z"/>
<path class="k1" d="M87.8 113.1l1 1.3 2.4 .8 -1-1.3z"/>
<path class="k2" d="M87.3 112l.5 1.1 2.4 .8 -.5-1z"/>
<path class="k3" d="M86.8 110.6l.5 1.4 2.4 .9 -.4-1.4z"/>
<path class="k4" d="M86.4 109.1l.4 1.5 2.5 .9 -.5-1.5z"/>
<path class="k6" d="M85.9 107.8l.5 1.3 2.4 .9 -.5-1.3z"/>
<path class="k7" d="M84.9 106.5l.5 .4 .5 .9 2.4 .9 -.5-1.1 -.5-.4z"/>
<path class="k8" d="M84.4 106.9l.5-.4 2.4 .7 -.5 .3z"/>
<path class="k7" d="M83.9 108l.5-1.1 2.4 .6 -.5 1z"/>
<path class="k6" d="M83.4 109.6l.5-1.6 2.4 .5 -.5 1.6z"/>
<path class="k5" d="M82.9 111.5l.5-1.9 2.4 .5 -.5 1.9z"/>
<path class="k4" d="M82.4 113.5l.5-2 2.4 .5 -.5 2z"/>
<path class="k3" d="M81.9 115.3l.5-1.8 2.4 .5 -.5 1.8z"/>
<path class="k2" d="M81.3 116.7l.6-1.4 2.4 .5 -.5 1.5z"/>
<path class="k1" d="M80.8 117.9l.5-1.2 2.5 .6 -.5 1.3z"/>
<path class="k0" d="M71.9 122.5l1.1 .2 1.1-.1 3.7-1.7 2-1.5 1-1.5 2.5 .7 -.5 .9 -1.1 1.1 -2 1.3 -3.2 1.4 -1 .1 -1.1-.3z"/>
<path class="k1" d="M70.8 121.7l1.1 .8 2.5 .6 -1.1-1.1z"/>
<path class="k2" d="M69.7 120.7l1.1 1 2.5 .3 -1.1-1.3z"/>
<path class="k3" d="M68.6 120l1.1 .7 2.5 0 -1.1-.8z"/>
<path class="k4" d="M67 121.1l1.1-1 2.4-.2 -.5 .3 -.6 .8z"/>
<path class="k1" d="M124.3 97.3l.4 .2 2.3 .1 -.4-.2z"/>
<path class="k2" d="M123.6 96.9l.7 .4 2.3 .1 -.7-.7z"/>
<path class="k3" d="M122.4 96.4l1.2 .5 2.3-.2 -1.1-.7z"/>
<path class="k4" d="M119.7 97.7l.8-.8 .8-.5 1.1 0 2.4-.4 -1.2-.2 -.8 .5 -.8 .8z"/>
<path class="k3" d="M118.5 99.3l1.2-1.6 2.3-.6 -1.2 1.9z"/>
<path class="k2" d="M117.2 101.1l1.3-1.8 2.3-.3 -1.2 2.1z"/>
<path class="k1" d="M116 102.6l1.2-1.5 2.4 0 -1.3 1.8z"/>
<path class="k0" d="M112.3 104.3l.8 .3 .8-.3 2.1-1.7 2.3 .3 -1.2 1.4 -.8 .6 -.9 .3 -.8-.2z"/>
<path class="k1" d="M111.5 103.4l.8 .9 2.3 .7 -.8-.9z"/>
<path class="k2" d="M111.1 102.6l.4 .8 2.3 .7 -.4-.7z"/>
<path class="k3" d="M110.7 101.6l.4 1 2.3 .8 -.4-.9z"/>
<path class="k4" d="M110.3 100.6l.4 1 2.3 .9 -.4-1z"/>
<path class="k5" d="M109.9 99.6l.4 1 2.3 .9 -.4-1z"/>
<path class="k6" d="M109 98l.9 1.6 2.3 .9 -.8-1.5z"/>
<path class="k7" d="M107.3 99.1l.9-1.4 .4-.1 .4 .4 2.4 1 -.4-.3 -.5 .1 -.8 1.3z"/>
<path class="k6" d="M106.9 100.3l.4-1.2 2.4 1 -.5 1.2z"/>
<path class="k5" d="M106.4 101.7l.5-1.4 2.3 1 -.4 1.4z"/>
<path class="k4" d="M105.9 103.2l.5-1.5 2.4 1 -.5 1.4z"/>
<path class="k3" d="M105.5 104.7l.4-1.5 2.4 .9 -.5 1.4z"/>
<path class="k2" d="M104.6 107.1l.9-2.4 2.3 .8 -.9 2.4z"/>
<path class="k1" d="M103.7 108.9l.9-1.8 2.3 .8 -.9 1.7z"/>
<path class="k0" d="M98.7 110.8l.9 .8 .9-.2 1.8-1.1 1.4-1.4 2.3 .7 -.9 1 -1.3 1 -1.4 .6 -.8-.2 -.5-.5z"/>
<path class="k1" d="M98.3 110.1l.4 .7 2.4 .7 -.4-.7z"/>
<path class="k2" d="M97.8 109.2l.5 .9 2.4 .7 -.5-.9z"/>
<path class="k3" d="M96 110.1l.4-1.1 .5-.6 .5 .1 .4 .7 2.4 .7 -.4-.6 -.5-.1 -.5 .5 -.4 1.1z"/>
<path class="k2" d="M95.5 111.4l.5-1.3 2.4 .7 -.5 1.4z"/>
<path class="k1" d="M95 112.7l.5-1.3 2.4 .8 -.5 1.2z"/>
<path class="k0" d="M90.7 114.7l1 .7 1.4-.3 .9-.8 1-1.6 2.4 .7 -1 1.6 -.9 .8 -1.4 .3 -1-.6z"/>
<path class="k1" d="M90.2 113.9l.5 .8 2.4 .8 -.5-.7z"/>
<path class="k2" d="M89.7 112.9l.5 1 2.4 .9 -.4-1.1z"/>
<path class="k3" d="M89.3 111.5l.4 1.4 2.5 .8 -.5-1.3z"/>
<path class="k4" d="M88.8 110l.5 1.5 2.4 .9 -.5-1.5z"/>
<path class="k6" d="M88.3 108.7l.5 1.3 2.4 .9 -.5-1.4z"/>
<path class="k7" d="M87.3 107.2l.5 .4 .5 1.1 2.4 .8 -.5-1 -.5-.6z"/>
<path class="k8" d="M86.8 107.5l.5-.3 2.4 .7 -.5 .3z"/>
<path class="k7" d="M85.8 110.1l1-2.6 2.4 .7 -1 2.4z"/>
<path class="k5" d="M85.3 112l.5-1.9 2.4 .5 -.5 1.9z"/>
<path class="k4" d="M84.8 114l.5-2 2.4 .5 -.5 2z"/>
<path class="k3" d="M84.3 115.8l.5-1.8 2.4 .5 -.5 1.9z"/>
<path class="k2" d="M83.8 117.3l.5-1.5 2.4 .6 -.5 1.5z"/>
<path class="k1" d="M83.3 118.6l.5-1.3 2.4 .6 -.5 1.3z"/>
<path class="k0" d="M74.4 123.1l1.1 .3 1-.1 3.2-1.4 2-1.3 1.1-1.1 .5-.9 2.4 .6 -.5 .9 -1 1.3 -2.1 1.3 -3.1 1.4 -1.1 0 -1-.5z"/>
<path class="k1" d="M73.9 122.6l.5 .5 2.5 .5 -.6-.5z"/>
<path class="k2" d="M72.8 121.4l1.1 1.2 2.4 .5 -1.1-1.5z"/>
<path class="k3" d="M72.2 120.7l.6 .7 2.4 .2 -.5-.9z"/>
<path class="k4" d="M70.5 119.9l.6 0 1.1 .8 2.5 0 -1.1-1 -.6-.1z"/>
<path class="k5" d="M70 120.2l.5-.3 2.5-.3 -.5 .4z"/>
<path class="k4" d="M69.4 121l.6-.8 2.5-.2 -.6 .8z"/>
<path class="k2" d="M126.2 97.1l.8 .5 2.3 .3 -.7-.7z"/>
<path class="k3" d="M125.5 96.5l.7 .6 2.4 .1 -.8-.8z"/>
<path class="k4" d="M124.4 95.8l1.1 .7 2.3-.1 -1.1-.8z"/>
<path class="k5" d="M122.4 96.6l1.2-.8 3.1-.2 -.7-.1 -1.2 .9z"/>
<path class="k4" d="M121.2 98.3l1.2-1.7 2.4-.2 -1.2 1.8z"/>
<path class="k3" d="M120.4 99.7l.8-1.4 2.4-.1 -.9 1.5z"/>
<path class="k2" d="M119.1 101.8l1.3-2.1 2.3 0 -1.2 2.3z"/>
<path class="k1" d="M117.9 103.4l1.2-1.6 2.4 .2 -1.3 1.9z"/>
<path class="k0" d="M114.6 105l.8 .2 .9-.3 1.6-1.5 2.3 .5 -1.6 1.6 -.8 .3 -.8-.2z"/>
<path class="k1" d="M113.8 104.1l.8 .9 2.4 .6 -.8-.8z"/>
<path class="k2" d="M113.4 103.4l.4 .7 2.4 .7 -.4-.7z"/>
<path class="k3" d="M113 102.5l.4 .9 2.4 .7 -.4-.8z"/>
<path class="k4" d="M112.2 100.5l.8 2 2.4 .8 -.8-1.8z"/>
<path class="k5" d="M111.8 99.6l.4 .9 2.4 1 -.4-.9z"/>
<path class="k6" d="M111.4 99l.4 .6 2.4 1 -.4-.6z"/>
<path class="k7" d="M110.1 99.3l.4-.5 .5-.1 2.8 1.3 -.5-.3 -.4 .1 -.4 .5z"/>
<path class="k6" d="M109.2 101.3l.9-2 2.4 1 -.9 2z"/>
<path class="k5" d="M108.8 102.7l.4-1.4 2.4 1 -.5 1.3z"/>
<path class="k4" d="M108.3 104.1l.5-1.4 2.3 .9 -.4 1.4z"/>
<path class="k3" d="M107.8 105.5l.5-1.4 2.4 .9 -.5 1.3z"/>
<path class="k2" d="M106.9 107.9l.9-2.4 2.4 .8 -.9 2.3z"/>
<path class="k1" d="M106.5 108.8l.4-.9 2.4 .7 -.4 .9z"/>
<path class="k0" d="M101.1 111.5l.9 .7 1.3-.3 1.8-1.3 1.4-1.8 2.4 .7 -.9 1.3 -1.4 1.2 -1.8 .9 -.8-.2 -.5-.4z"/>
<path class="k1" d="M100.7 110.8l.4 .7 2.4 .8 -.4-.8z"/>
<path class="k2" d="M100.2 109.9l.5 .9 2.4 .7 -.5-.8z"/>
<path class="k3" d="M98.4 110.8l.4-1.1 .5-.5 .5 .1 .4 .6 2.4 .8 -.4-.7 -.5-.1 -.5 .6 -.4 1.1z"/>
<path class="k2" d="M97.9 112.2l.5-1.4 2.4 .8 -.5 1.3z"/>
<path class="k1" d="M97.4 113.4l.5-1.2 2.4 .7 -.5 1.2z"/>
<path class="k0" d="M93.1 115.5l1 .6 1.4-.3 .9-.8 1-1.6 2.4 .7 -.9 1.7 -1 .7 -1.4 .4 -.9-.6z"/>
<path class="k1" d="M92.6 114.8l.5 .7 2.5 .8 -.5-.7z"/>
<path class="k2" d="M92.2 113.7l.4 1.1 2.5 .8 -.5-1z"/>
<path class="k3" d="M91.7 112.4l.5 1.3 2.4 .9 -.5-1.3z"/>
<path class="k4" d="M91.2 110.9l.5 1.5 2.4 .9 -.4-1.5z"/>
<path class="k5" d="M90.7 109.5l.5 1.4 2.5 .9 -.5-1.4z"/>
<path class="k7" d="M89.7 107.9l.5 .6 .5 1 2.5 .9 -.5-1.2 -.5-.6z"/>
<path class="k8" d="M89.2 108.2l.5-.3 2.5 .7 -.5 .2z"/>
<path class="k7" d="M88.2 110.6l1-2.4 2.5 .6 -.5 .8 -.5 1.5z"/>
<path class="k6" d="M87.7 112.5l.5-1.9 2.5 .5 -.5 1.9z"/>
<path class="k4" d="M87.2 114.5l.5-2 2.5 .5 -.5 1.9z"/>
<path class="k3" d="M86.7 116.4l.5-1.9 2.5 .4 -.5 1.9z"/>
<path class="k2" d="M86.2 117.9l.5-1.5 2.5 .4 -.5 1.7z"/>
<path class="k1" d="M85.2 120.1l1-2.2 2.5 .6 -1 2.3z"/>
<path class="k0" d="M77.4 124l.5 .1 1.1 0 2.1-.9 2.6-1.4 1.5-1.7 2.5 .7 -1 1.2 -1.6 1.1 -3.1 1.5 -1 .3 -1.1-.3z"/>
<path class="k1" d="M76.3 123.1l1.1 .9 2.5 .6 -1.1-1.2z"/>
<path class="k2" d="M75.8 122.4l.5 .7 2.5 .3 -.5-.8z"/>
<path class="k3" d="M74.7 120.7l1.1 1.7 2.5 .2 -1.1-2z"/>
<path class="k4" d="M74.1 120.1l.6 .6 2.5-.1 -.6-.9z"/>
<path class="k5" d="M71.9 120.8l.6-.8 .5-.4 .6 .1 .5 .4 2.5-.4 -.5-.5 -.6-.1 -.5 .4 -.6 .9z"/>
<path class="k2" d="M128.9 97.6l.4 .3 2.3 .2 -.3-.4z"/>
<path class="k3" d="M128.2 96.8l.7 .8 2.4 .1 -.8-1z"/>
<path class="k4" d="M127.5 96.1l.7 .7 2.3-.1 -.7-.9z"/>
<path class="k5" d="M126 95.5l.7 .1 .8 .5 2.3-.3 -.7-.6 -.8-.2z"/>
<path class="k6" d="M125.2 96l.8-.5 2.3-.5 -.7 .4z"/>
<path class="k5" d="M124 97.5l1.2-1.5 2.4-.6 -1.3 1.7z"/>
<path class="k4" d="M122.7 99.7l1.3-2.2 2.3-.4 -1.2 2.5z"/>
<path class="k3" d="M122.3 100.5l.4-.8 2.4-.1 -.4 .8z"/>
<path class="k2" d="M121.1 102.7l1.2-2.2 2.4-.1 -1.3 2.5z"/>
<path class="k1" d="M119.8 104.4l1.3-1.7 2.3 .2 -1.2 1.9z"/>
<path class="k0" d="M117 105.6l.4 .2 .8-.1 1.6-1.3 2.4 .4 -1.6 1.4 -.9 .2 -.4-.1z"/>
<path class="k1" d="M116.2 104.8l.8 .8 2.3 .7 -.8-.7z"/>
<path class="k2" d="M115.8 104.1l.4 .7 2.3 .8 -.4-.7z"/>
<path class="k3" d="M115 102.4l.8 1.7 2.3 .8 -.7-1.6z"/>
<path class="k4" d="M114.6 101.5l.4 .9 2.4 .9 -.4-.9z"/>
<path class="k5" d="M114.2 100.6l.4 .9 2.4 .9 -.4-.8z"/>
<path class="k6" d="M113.3 99.7l.9 .9 2.4 1 -.9-.8z"/>
<path class="k7" d="M112.9 99.8l.4-.1 2.4 1.1 -.4 .1z"/>
<path class="k6" d="M111.6 102.3l.9-2 .4-.5 2.4 1.1 -.4 .5 -.9 1.9z"/>
<path class="k5" d="M111.1 103.6l.5-1.3 2.4 1 -.5 1.3z"/>
<path class="k4" d="M110.7 105l.4-1.4 2.4 1 -.4 1.3z"/>
<path class="k3" d="M110.2 106.3l.5-1.3 2.4 .9 -.5 1.3z"/>
<path class="k2" d="M109.8 107.6l.4-1.3 2.4 .9 -.4 1.2z"/>
<path class="k1" d="M108.9 109.5l.9-1.9 2.4 .8 -.9 1.9z"/>
<path class="k0" d="M103.5 112.3l.9 .6 1.3-.3 1.8-1.3 1.4-1.8 2.4 .8 -.9 1.3 -1.3 1.1 -1.8 .9 -.9-.2 -.5-.4z"/>
<path class="k1" d="M103.1 111.5l.4 .8 2.4 .7 -.4-.7z"/>
<path class="k2" d="M102.6 110.7l.5 .8 2.4 .8 -.4-.9z"/>
<path class="k3" d="M100.8 111.6l.4-1.1 .5-.6 .5 .1 .4 .7 2.5 .7 -.5-.6 -.4-.1 -.5 .6 -.5 1.1z"/>
<path class="k2" d="M100.3 112.9l.5-1.3 2.4 .8 -.5 1.3z"/>
<path class="k1" d="M99.8 114.1l.5-1.2 2.4 .8 -.4 1.2z"/>
<path class="k0" d="M95.6 116.3l.9 .6 1.4-.4 1-.7 .9-1.7 2.5 .8 -1 1.6 -.9 .7 -1.4 .4 -1-.5z"/>
<path class="k1" d="M95.1 115.6l.5 .7 2.4 .8 -.5-.7z"/>
<path class="k2" d="M94.6 114.6l.5 1 2.4 .8 -.4-1z"/>
<path class="k3" d="M94.1 113.3l.5 1.3 2.5 .8 -.5-1.3z"/>
<path class="k4" d="M93.7 111.8l.4 1.5 2.5 .8 -.5-1.5z"/>
<path class="k5" d="M93.2 110.4l.5 1.4 2.4 .8 -.4-1.5z"/>
<path class="k7" d="M92.2 108.6l.5 .6 .5 1.2 2.5 .7 -.5-1.2 -.5-.7z"/>
<path class="k8" d="M91.2 109.6l.5-.8 .5-.2 2.5 .6 -.5 0 -.5 .7z"/>
<path class="k7" d="M90.7 111.1l.5-1.5 2.5 .3 -.5 1.5z"/>
<path class="k6" d="M90.2 113l.5-1.9 2.5 .3 -.5 1.8z"/>
<path class="k5" d="M89.7 114.9l.5-1.9 2.5 .2 -.5 2z"/>
<path class="k3" d="M89.2 116.8l.5-1.9 2.5 .3 -.5 1.9z"/>
<path class="k2" d="M88.7 118.5l.5-1.7 2.5 .3 -.5 1.7z"/>
<path class="k1" d="M87.7 120.8l1-2.3 2.5 .3 -1 2.4z"/>
<path class="k0" d="M79.9 124.6l1.1 .3 2-.7 3.1-1.7 1.6-1.7 2.5 .4 -1.6 1.9 -3 1.9 -1.1 .4 -1 .2 -1.1-.4z"/>
<path class="k1" d="M78.8 123.4l1.1 1.2 2.5 .6 -1.1-1.4z"/>
<path class="k2" d="M78.3 122.6l.5 .8 2.5 .4 -.5-1z"/>
<path class="k3" d="M77.7 121.6l.6 1 2.5 .2 -.5-1.2z"/>
<path class="k4" d="M77.2 120.6l.5 1 2.6 0 -.6-1.2z"/>
<path class="k5" d="M76.6 119.7l.6 .9 2.5-.2 -.5-1z"/>
<path class="k6" d="M74.4 120.4l.6-.9 .5-.4 .6 .1 .5 .5 2.6-.3 -.6-.6 -.5-.2 -.6 .5 -.5 1z"/>
<path class="k3" d="M130.9 97.2l.7 .9 2.4 .1 -.7-1.1z"/>
<path class="k4" d="M130.2 96.3l.7 .9 2.4-.1 -.7-1.2z"/>
<path class="k5" d="M129.5 95.4l.7 .9 2.4-.4 -.8-1.1z"/>
<path class="k6" d="M128.7 95l.8 .4 2.3-.6 -.7-.6z"/>
<path class="k7" d="M127.2 95.8l.7-.7 3.2-.9 -.7 0 -.8 .8z"/>
<path class="k6" d="M126.3 97.1l.9-1.3 2.4-.8 -.9 1.3z"/>
<path class="k5" d="M125.5 98.7l.8-1.6 2.4-.8 -.8 1.9z"/>
<path class="k4" d="M124.7 100.4l.8-1.7 2.4-.5 -.8 2z"/>
<path class="k3" d="M123.9 102.1l.8-1.7 2.4-.2 -.9 1.9z"/>
<path class="k2" d="M123 103.6l.9-1.5 2.3 0 -.8 1.7z"/>
<path class="k1" d="M122.2 104.8l.8-1.2 2.4 .2 -.8 1.3z"/>
<path class="k0" d="M119.3 106.3l.4 .1 .9-.2 1.6-1.4 2.4 .3 -.9 1.1 -.8 .6 -.8 .3 -.4-.1z"/>
<path class="k1" d="M118.5 105.6l.8 .7 2.4 .7 -.8-.7z"/>
<path class="k2" d="M117.7 104.2l.8 1.4 2.4 .7 -.8-1.3z"/>
<path class="k3" d="M117.4 103.3l.3 .9 2.4 .8 -.3-.8z"/>
<path class="k4" d="M117 102.4l.4 .9 2.4 .9 -.4-.8z"/>
<path class="k5" d="M116.2 101.1l.8 1.3 2.4 1 -.8-1.3z"/>
<path class="k6" d="M114.4 102.2l.9-1.3 .4-.1 2.9 1.3 -.5-.2 -.4 .1 -.8 1.3z"/>
<path class="k5" d="M114 103.3l.4-1.1 2.5 1.1 -.5 1z"/>
<path class="k4" d="M113.1 105.9l.9-2.6 2.4 1 -.9 2.5z"/>
<path class="k3" d="M112.6 107.2l.5-1.3 2.4 .9 -.5 1.2z"/>
<path class="k2" d="M112.2 108.4l.4-1.2 2.4 .8 -.4 1.2z"/>
<path class="k1" d="M111.3 110.3l.9-1.9 2.4 .8 -.9 1.8z"/>
<path class="k0" d="M105.9 113l.9 .6 1.4-.4 1.7-1.2 1.4-1.7 2.4 .7 -.9 1.3 -1.3 1.1 -1.8 .9 -.9-.1 -.4-.5z"/>
<path class="k1" d="M105.5 112.3l.4 .7 2.5 .7 -.5-.7z"/>
<path class="k2" d="M104.6 110.8l.9 1.5 2.4 .7 -.8-1.4z"/>
<path class="k3" d="M103.7 111.3l.5-.6 2.9 .9 -.5-.1 -.4 .6z"/>
<path class="k2" d="M102.7 113.7l1-2.4 2.5 .8 -1 2.3z"/>
<path class="k1" d="M102.3 114.9l.4-1.2 2.5 .7 -.5 1.2z"/>
<path class="k0" d="M98 117.1l1 .5 1.4-.4 .9-.7 1-1.6 2.4 .7 -.5 .9 -.9 1.1 -.9 .5 -1 .2 -.9-.6z"/>
<path class="k1" d="M97.5 116.4l.5 .7 2.5 .6 -.5-.7z"/>
<path class="k2" d="M97.1 115.4l.4 1 2.5 .6 -.4-1z"/>
<path class="k3" d="M96.6 114.1l.5 1.3 2.5 .6 -.5-1.4z"/>
<path class="k4" d="M96.1 112.6l.5 1.5 2.5 .5 -.5-1.6z"/>
<path class="k5" d="M95.7 111.1l.4 1.5 2.5 .4 -.4-1.6z"/>
<path class="k7" d="M95.2 109.9l.5 1.2 2.5 .3 -.5-1.3z"/>
<path class="k8" d="M93.7 109.9l.5-.7 .5 0 .5 .7 2.5 .2 -.5-.9 -.5-.1 -.5 .6z"/>
<path class="k7" d="M93.2 111.4l.5-1.5 2.5-.2 -.5 1.3z"/>
<path class="k6" d="M92.7 113.2l.5-1.8 2.5-.4 -.5 1.8z"/>
<path class="k5" d="M92.2 115.2l.5-2 2.5-.4 -.5 2z"/>
<path class="k4" d="M91.7 117.1l.5-1.9 2.5-.4 -.5 2z"/>
<path class="k3" d="M91.2 118.8l.5-1.7 2.5-.3 -.5 1.7z"/>
<path class="k2" d="M90.7 120.2l.5-1.4 2.5-.3 -.5 1.5z"/>
<path class="k1" d="M89.7 122l1-1.8 2.5-.2 -1 2.1z"/>
<path class="k0" d="M82.4 125.2l1.1 .4 1-.2 3.6-1.9 1.6-1.5 2.5 .1 -1.6 1.7 -3 2.1 -1.6 .4 -1.1-.5z"/>
<path class="k1" d="M81.9 124.6l.5 .6 2.5 .6 -.5-.7z"/>
<path class="k2" d="M81.3 123.8l.6 .8 2.5 .5 -.5-.9z"/>
<path class="k3" d="M80.8 122.8l.5 1 2.6 .4 -.5-1.2z"/>
<path class="k4" d="M80.3 121.6l.5 1.2 2.6 .2 -.6-1.4z"/>
<path class="k5" d="M79.7 120.4l.6 1.2 2.5 0 -.5-1.4z"/>
<path class="k6" d="M79.2 119.4l.5 1 2.6-.2 -.6-1.1z"/>
<path class="k7" d="M77 120.1l.5-1 .6-.5 .5 .2 .6 .6 2.5-.3 -.5-.8 -.6-.2 -.5 .5 -.6 1.1z"/>
<path class="k3" d="M133.6 97.6l.4 .6 1 0 -.3-.6z"/>
<path class="k4" d="M132.9 96.5l.7 1.1 1.1 0 -.7-1.3z"/>
<path class="k5" d="M132.6 95.9l.3 .6 1.1-.2 -.4-.7z"/>
<path class="k6" d="M131.8 94.8l.8 1.1 1-.3 -.7-1.1z"/>
<path class="k7" d="M130.7 94.1l.4 .1 .7 .6 1.1-.3 -.7-.7 -.4-.2z"/>
<path class="k8" d="M130 94.5l1.1-.5z"/>
<path class="k7" d="M128.7 96.3l1.3-1.8 1.1-.5 -1.3 1.9z"/>
<path class="k6" d="M127.9 98.2l.8-1.9 1.1-.4 -.8 2z"/>
<path class="k5" d="M127.5 99.2l.4-1 1.1-.3 -.4 1z"/>
<path class="k4" d="M126.7 101.2l.8-2 1.1-.3 -.9 2.1z"/>
<path class="k3" d="M126.2 102.1l.5-.9 1-.2 -.4 1.1z"/>
<path class="k2" d="M125.4 103.8l.8-1.7 1.1 0 -.8 1.7z"/>
<path class="k1" d="M124.2 105.7l1.2-1.9 1.1 0 -1.3 2.1z"/>
<path class="k0" d="M121.7 107l.4 .1 .8-.3 1.3-1.1 1 .2 -1.2 1.2 -.8 .2 -.4 0z"/>
<path class="k1" d="M120.9 106.3l.8 .7 1.1 .3 -.8-.7z"/>
<path class="k2" d="M120.1 105l.8 1.3 1.1 .3 -.8-1.2z"/>
<path class="k3" d="M119.8 104.2l.3 .8 1.1 .4 -.4-.8z"/>
<path class="k4" d="M119.4 103.4l.4 .8 1 .4 -.4-.8z"/>
<path class="k5" d="M118.6 102.1l.8 1.3 1 .4 -.8-1.2z"/>
<path class="k6" d="M116.9 103.3l.8-1.3 .4-.1 1.5 .7 -.4-.3 -.4 .1 -.9 1.3z"/>
<path class="k5" d="M116.4 104.3l.5-1 1 .4 -.4 1z"/>
<path class="k4" d="M115.5 106.8l.9-2.5 1.1 .4 -.9 2.5z"/>
<path class="k3" d="M115 108l.5-1.2 1.1 .4 -.5 1.2z"/>
<path class="k2" d="M114.6 109.2l.4-1.2 1.1 .4 -.4 1.1z"/>
<path class="k1" d="M113.7 111l.9-1.8 1.1 .3 -.9 1.8z"/>
<path class="k0" d="M108.4 113.7l.9 .6 1.3-.4 1.8-1.2 1.3-1.7 1.1 .3 -.9 1.3 -1.3 1.1 -1.8 .9 -.9-.1 -.4-.5z"/>
<path class="k1" d="M107.9 113l.5 .7 1.1 .3 -.4-.7z"/>
<path class="k2" d="M107.1 111.6l.8 1.4 1.2 .3 -.9-1.3z"/>
<path class="k3" d="M106.2 112.1l.4-.6 1.6 .5 -.5-.1 -.4 .5z"/>
<path class="k2" d="M105.2 114.4l1-2.3 1.1 .3 -1 2.4z"/>
<path class="k1" d="M104.7 115.6l.5-1.2 1.1 .4 -.5 1.1z"/>
<path class="k0" d="M100.5 117.7l.9 .6 1.4-.4 1-.7 .9-1.6 1.1 .3 -.4 1 -1 1 -1.4 .6 -.9-.2 -.5-.4z"/>
<path class="k1" d="M100 117l.5 .7 1.1 .2 -.4-.7z"/>
<path class="k2" d="M99.6 116l.4 1 1.2 .2 -.5-1.1z"/>
<path class="k3" d="M99.1 114.6l.5 1.4 1.1 .1 -.5-1.4z"/>
<path class="k4" d="M98.6 113l.5 1.6 1.1 .1 -.4-1.7z"/>
<path class="k6" d="M98.2 111.4l.4 1.6 1.2 0 -.5-1.6z"/>
<path class="k7" d="M97.7 110.1l.5 1.3 1.1 0 -.5-1.5z"/>
<path class="k8" d="M97.2 109.2l.5 .9 1.1-.2 -.4-.9z"/>
<path class="k9" d="M96.2 109.7l.5-.6 .5 .1 1.2-.2 -.5-.3 -.5 .6z"/>
<path class="k8" d="M95.7 111l.5-1.3 1.2-.4 -.5 1.2z"/>
<path class="k7" d="M95.2 112.8l.5-1.8 1.2-.5 -.5 1.7z"/>
<path class="k6" d="M94.7 114.8l.5-2 1.2-.6 -.5 2z"/>
<path class="k5" d="M94.2 116.8l.5-2 1.2-.6 -.6 2.1z"/>
<path class="k4" d="M93.7 118.5l.5-1.7 1.1-.5 -.5 1.8z"/>
<path class="k3" d="M93.2 120l.5-1.5 1.1-.4 -.5 1.5z"/>
<path class="k2" d="M92.7 121.2l.5-1.2 1.1-.4 -.5 1.3z"/>
<path class="k1" d="M91.7 122.8l1-1.6 1.1-.3 -1 1.7z"/>
<path class="k0" d="M85.5 126.1l1 .2 1.1-.4 2.5-1.7 1.6-1.4 1.1-.2 -1.5 1.7 -2.1 1.6 -1.5 .7 -1.1-.2z"/>
<path class="k1" d="M84.4 125.1l1.1 1 1.1 .3 -1-1.1z"/>
<path class="k2" d="M83.9 124.2l.5 .9 1.2 .2 -.6-1z"/>
<path class="k3" d="M83.4 123l.5 1.2 1.1 .1 -.5-1.2z"/>
<path class="k4" d="M82.8 121.6l.6 1.4 1.1 .1 -.5-1.5z"/>
<path class="k5" d="M82.3 120.2l.5 1.4 1.2 0 -.6-1.4z"/>
<path class="k6" d="M81.7 119.1l.6 1.1 1.1 0 -.5-1.3z"/>
<path class="k7" d="M81.2 118.3l.5 .8 1.2-.2 -.6-.8z"/>
<path class="k8" d="M80.1 118.6l.5-.5 .6 .2 1.1-.2 -.5-.2 -.5 .5z"/>
<path class="k7" d="M79.5 119.7l.6-1.1 1.2-.2 -.6 1.1z"/>
<path class="k3" d="M134.7 97.6l.3 .6 .4 0 -.4-.6z"/>
<path class="k4" d="M134 96.3l.7 1.3 .3 0 -.7-1.4z"/>
<path class="k5" d="M133.6 95.6l.4 .7 .3-.1 -.3-.6z"/>
<path class="k6" d="M132.9 94.5l.7 1.1 .4 0 -.7-1.3z"/>
<path class="k7" d="M132.2 93.8l.7 .7 .4-.2 -.7-.7z"/>
<path class="k8" d="M130.3 95.1l1.1-1.4 1.2-.1 -.8 0 -1.2 1.4z"/>
<path class="k7" d="M129.4 96.9l.9-1.8 .3-.1 -.8 1.7z"/>
<path class="k6" d="M129 97.9l.4-1 .4-.2 -.4 1.1z"/>
<path class="k5" d="M128.6 98.9l.4-1 .4-.1 -.5 1z"/>
<path class="k4" d="M127.7 101l.9-2.1 .3-.1 -.8 2.2z"/>
<path class="k3" d="M127.3 102.1l.4-1.1 .4 0 -.4 1z"/>
<path class="k2" d="M126.5 103.8l.8-1.7 .4-.1 -.9 1.9z"/>
<path class="k1" d="M125.2 105.9l1.3-2.1 .3 .1 -1.2 2z"/>
<path class="k0" d="M122.8 107.3l.8 0 .8-.5 .8-.9 .4 0 -1.2 1.2 -.8 .3 -.4 0z"/>
<path class="k1" d="M122 106.6l.8 .7 .4 .1 -.8-.7z"/>
<path class="k2" d="M121.2 105.4l.8 1.2 .4 .1 -.8-1.2z"/>
<path class="k3" d="M120.8 104.6l.4 .8 .4 .1 -.4-.8z"/>
<path class="k4" d="M120.4 103.8l.4 .8 .4 .1 -.4-.8z"/>
<path class="k5" d="M119.6 102.6l.8 1.2 .4 .1 -.8-1.2z"/>
<path class="k6" d="M118.4 102.9l.4-.5 .4-.1 .8 .4 -.4-.2 -.4 .1 -.5 .5z"/>
<path class="k5" d="M117.5 104.7l.9-1.8 .3 .2 -.8 1.8z"/>
<path class="k4" d="M117 105.9l.5-1.2 .4 .2 -.5 1.2z"/>
<path class="k3" d="M116.1 108.4l.9-2.5 .4 .2 -.9 2.4z"/>
<path class="k2" d="M115.7 109.5l.4-1.1 .4 .1 -.4 1.1z"/>
<path class="k1" d="M114.8 111.3l.9-1.8 .4 .1 -.9 1.9z"/>
<path class="k0" d="M109.5 114l.9 .6 1.3-.4 1.8-1.2 1.3-1.7 .4 .2 -.9 1.2 -.9 .8 -1.3 .8 -1.4 .5 -.8-.7z"/>
<path class="k1" d="M109.1 113.3l.4 .7 .4 .1 -.5-.7z"/>
<path class="k2" d="M108.2 112l.9 1.3 .3 .1 -.9-1.3z"/>
<path class="k3" d="M107.3 112.4l.4-.5 .8 .2 -.4-.1 -.5 .5z"/>
<path class="k2" d="M106.3 114.8l1-2.4 .3 .1 -.9 2.4z"/>
<path class="k1" d="M105.8 115.9l.5-1.1 .4 .1 -.5 1.1z"/>
<path class="k0" d="M102.1 118.3l.9 .2 1.4-.6 1-1 .4-1 .4 .1 -.5 1 -.9 1 -1.4 .6 -.9-.2z"/>
<path class="k1" d="M101.2 117.2l.4 .7 .5 .4 .4 .1 -1-1.2z"/>
<path class="k2" d="M100.7 116.1l.5 1.1 .3 0 -.4-1.1z"/>
<path class="k3" d="M100.2 114.7l.5 1.4 .4 0 -.5-1.4z"/>
<path class="k4" d="M99.8 113l.4 1.7 .4 0 -.4-1.7z"/>
<path class="k6" d="M99.3 111.4l.5 1.6 .4 0 -.5-1.7z"/>
<path class="k7" d="M98.8 109.9l.5 1.5 .4-.1 -.5-1.5z"/>
<path class="k8" d="M98.4 109l.4 .9 .4-.1 -.5-1z"/>
<path class="k9" d="M96.9 110.5l.5-1.2 .5-.6 .5 .3 .3-.2 -.4-.3 -.5 .5 -.5 1.3z"/>
<path class="k8" d="M96.4 112.2l.5-1.7 .4-.2 -.5 1.7z"/>
<path class="k6" d="M95.9 114.2l.5-2 .4-.2 -.6 2z"/>
<path class="k5" d="M95.3 116.3l.6-2.1 .3-.2 -.5 2z"/>
<path class="k4" d="M94.8 118.1l.5-1.8 .4-.3 -.5 1.8z"/>
<path class="k3" d="M94.3 119.6l.5-1.5 .4-.3 -.5 1.6z"/>
<path class="k2" d="M93.8 120.9l.5-1.3 .4-.2 -.5 1.3z"/>
<path class="k1" d="M92.3 123.3l1.5-2.4 .4-.2 -1.5 2.5z"/>
<path class="k0" d="M86.6 126.4l1.1 .2 1-.4 2.1-1.4 1.5-1.5 .4-.1 -1.6 1.6 -2 1.5 -1 .4 -1.1-.2z"/>
<path class="k1" d="M85.6 125.3l.5 .7 .9 .5 -1-1.1z"/>
<path class="k2" d="M85 124.3l.6 1 .4 .1 -.6-1z"/>
<path class="k3" d="M84.5 123.1l.5 1.2 .4 .1 -.5-1.3z"/>
<path class="k4" d="M84 121.6l.5 1.5 .4 0 -.5-1.5z"/>
<path class="k5" d="M83.4 120.2l.6 1.4 .4 0 -.6-1.5z"/>
<path class="k7" d="M82.3 118.1l1.1 2.1 .4-.1 -1.1-2.1z"/>
<path class="k8" d="M80.7 119.5l.6-1.1 .5-.5 .5 .2 .4-.1 -.5-.2 -.6 .5 -.5 1.1z"/>
<path class="k3" d="M135 97.6l.4 .6 .3 0 -.3-.7z"/>
<path class="k4" d="M134.7 96.9l.3 .7 .4-.1 -.3-.6z"/>
<path class="k5" d="M134 95.6l.7 1.3 .4 0 -.7-1.4z"/>
<path class="k6" d="M133.6 94.9l.4 .7 .4-.1 -.4-.7z"/>
<path class="k7" d="M132.9 93.9l.7 1 .4-.1 -.7-1z"/>
<path class="k8" d="M130.6 95l1.2-1.4 .4-.1 .7 .4 .4-.1 -.7-.5 -.4 .1 -.4 .3 -.8 1.1z"/>
<path class="k7" d="M129.8 96.7l.8-1.7 .4-.2 -.8 1.8z"/>
<path class="k6" d="M129.4 97.8l.4-1.1 .4-.1 -.5 1z"/>
<path class="k5" d="M128.5 99.9l.9-2.1 .3-.2 -.8 2.3z"/>
<path class="k4" d="M128.1 101l.4-1.1 .4 0 -.4 1.1z"/>
<path class="k3" d="M127.3 103l.8-2 .4 0 -.9 2z"/>
<path class="k2" d="M126.8 103.9l.5-.9 .3 0 -.4 .9z"/>
<path class="k1" d="M125.6 105.9l1.2-2 .4 0 -1.2 2.1z"/>
<path class="k0" d="M123.2 107.4l.8-.1 .8-.5 .8-.9 .4 .1 -1.3 1.2 -.8 .3 -.4 0z"/>
<path class="k1" d="M122.4 106.7l.8 .7 .3 .1 -.8-.7z"/>
<path class="k2" d="M121.6 105.5l.8 1.2 .3 .1 -.8-1.2z"/>
<path class="k3" d="M121.2 104.7l.4 .8 .3 .1 -.3-.8z"/>
<path class="k4" d="M120.8 103.9l.4 .8 .4 .1 -.4-.7z"/>
<path class="k5" d="M120 102.7l.8 1.2 .4 .2 -.8-1.2z"/>
<path class="k6" d="M118.7 103.1l.5-.5 .4-.1 .8 .4 -.4-.3 -.5 .1 -.4 .5z"/>
<path class="k5" d="M117.9 104.9l.8-1.8 .4 .1 -.9 1.8z"/>
<path class="k4" d="M117.4 106.1l.5-1.2 .3 .1 -.4 1.2z"/>
<path class="k3" d="M116.5 108.5l.9-2.4 .4 .1 -.9 2.5z"/>
<path class="k2" d="M116.1 109.6l.4-1.1 .4 .2 -.5 1.1z"/>
<path class="k1" d="M115.2 111.5l.9-1.9 .3 .2 -.9 1.8z"/>
<path class="k0" d="M109.9 114.1l.8 .7 1.4-.5 1.7-1.2 1.4-1.6 .3 .1 -.9 1.2 -.8 .8 -1.4 .9 -1.3 .4 -.9-.6z"/>
<path class="k1" d="M109.4 113.4l.5 .7 .3 .2 -.4-.7z"/>
<path class="k2" d="M108.5 112.1l.9 1.3 .4 .2 -.9-1.4z"/>
<path class="k3" d="M107.6 112.5l.5-.5 .8 .2 -.4-.1 -.5 .6z"/>
<path class="k2" d="M106.7 114.9l.9-2.4 .4 .2 -.9 2.3z"/>
<path class="k1" d="M106.2 116l.5-1.1 .4 .1 -.5 1.1z"/>
<path class="k0" d="M102.5 118.4l.9 .2 1.4-.6 .9-1 .5-1 .4 .1 -.5 1 -.9 1 -1.4 .6 -1-.2z"/>
<path class="k1" d="M101.5 117.2l.5 .8 .5 .4 .3 .1 -.9-1.3z"/>
<path class="k2" d="M101.1 116.1l.4 1.1 .4 0 -.4-1.1z"/>
<path class="k3" d="M100.6 114.7l.5 1.4 .4 0 -.5-1.4z"/>
<path class="k5" d="M100.2 113l.4 1.7 .4 0 -.5-1.7z"/>
<path class="k6" d="M99.7 111.3l.5 1.7 .3 0 -.4-1.8z"/>
<path class="k7" d="M99.2 109.8l.5 1.5 .4-.1 -.5-1.5z"/>
<path class="k8" d="M98.7 108.8l.5 1 .4-.1 -.5-1z"/>
<path class="k9" d="M97.3 110.3l.5-1.3 .5-.5 .4 .3 .4-.1 -.5-.4 -.4 .5 -.6 1.2z"/>
<path class="k8" d="M96.8 112l.5-1.7 .3-.3 -.5 1.7z"/>
<path class="k7" d="M96.2 114l.6-2 .3-.3 -.5 2z"/>
<path class="k5" d="M95.7 116l.5-2 .4-.3 -.5 2z"/>
<path class="k4" d="M95.2 117.8l.5-1.8 .4-.3 -.5 1.9z"/>
<path class="k3" d="M94.7 119.4l.5-1.6 .4-.2 -.5 1.6z"/>
<path class="k2" d="M93.7 121.7l1-2.3 .4-.2 -1 2.4z"/>
<path class="k1" d="M92.2 123.8l1.5-2.1 .4-.1 -1.5 2.1z"/>
<path class="k0" d="M87 126.5l1.1 .2 1-.4 1.5-1.1 1.6-1.4 .4-.1 -1.6 1.5 -1.5 1.2 -1.1 .4 -1-.2z"/>
<path class="k1" d="M86 125.4l.5 .7 .9 .5 -1.1-1.1z"/>
<path class="k2" d="M85.4 124.4l.6 1 .3 .1 -.5-1.1z"/>
<path class="k3" d="M84.9 123.1l.5 1.3 .4 0 -.5-1.3z"/>
<path class="k4" d="M84.4 121.6l.5 1.5 .4 0 -.6-1.5z"/>
<path class="k5" d="M83.8 120.1l.6 1.5 .3 0 -.5-1.6z"/>
<path class="k7" d="M83.3 118.8l.5 1.3 .4-.1 -.5-1.3z"/>
<path class="k8" d="M81.1 119.4l.5-1.1 .6-.5 .5 .2 .6 .8 .4-.1 -.6-.8 -.5-.3 -.6 .5 -.5 1.2z"/>
<path class="k3" d="M135.4 97.5l.3 .7 .4 0 -.3-.7z"/>
<path class="k4" d="M135.1 96.9l.3 .6 .4 0 -.4-.7z"/>
<path class="k5" d="M134.4 95.5l.7 1.4 .3-.1 -.7-1.4z"/>
<path class="k6" d="M134 94.8l.4 .7 .3-.1 -.3-.7z"/>
<path class="k7" d="M133.3 93.8l.7 1 .4-.1 -.7-1.1z"/>
<path class="k8" d="M131 94.8l.8-1.1 .4-.3 .4-.1 .7 .5 .4-.2 -.8-.5 -.4 .1 -.3 .3 -.8 1.1z"/>
<path class="k7" d="M130.2 96.6l.8-1.8 .4-.2 -.9 1.9z"/>
<path class="k6" d="M129.3 98.8l.9-2.2 .3-.1 -.8 2.2z"/>
<path class="k5" d="M128.9 99.9l.4-1.1 .4-.1 -.4 1.1z"/>
<path class="k4" d="M128.5 101l.4-1.1 .4-.1 -.5 1.1z"/>
<path class="k3" d="M127.6 103l.9-2 .3-.1 -.8 2.1z"/>
<path class="k2" d="M126.8 104.7l.8-1.7 .4 0 -.9 1.7z"/>
<path class="k1" d="M126 106l.8-1.3 .3 0 -.8 1.3z"/>
<path class="k0" d="M123.5 107.5l.8-.1 .8-.5 .9-.9 .3 0 -1.2 1.3 -.8 .3 -.4 0z"/>
<path class="k1" d="M122.7 106.8l.8 .7 .4 .1 -.8-.6z"/>
<path class="k2" d="M121.9 105.6l.8 1.2 .4 .2 -.8-1.3z"/>
<path class="k3" d="M121.6 104.8l.3 .8 .4 .1 -.4-.7z"/>
<path class="k4" d="M120.8 103.4l.8 1.4 .3 .2 -.8-1.5z"/>
<path class="k5" d="M120.4 102.9l.4 .5 .3 .1 -.4-.5z"/>
<path class="k6" d="M119.1 103.2l.4-.5 .5-.1 .7 .4 -.4-.2 -.4 .1 -.4 .4z"/>
<path class="k5" d="M118.2 105l.9-1.8 .4 .1 -.9 1.8z"/>
<path class="k4" d="M117.8 106.2l.4-1.2 .4 .1 -.5 1.2z"/>
<path class="k3" d="M116.9 108.7l.9-2.5 .3 .1 -.9 2.5z"/>
<path class="k2" d="M116.4 109.8l.5-1.1 .3 .1 -.4 1.1z"/>
<path class="k1" d="M115.5 111.6l.9-1.8 .4 .1 -.9 1.8z"/>
<path class="k0" d="M110.2 114.3l.9 .6 1.3-.4 1.8-1.3 1.3-1.6 .4 .1 -.9 1.2 -2.2 1.7 -1.3 .4 -.9-.6z"/>
<path class="k1" d="M109.8 113.6l.4 .7 .4 .1 -.4-.7z"/>
<path class="k2" d="M108.9 112.2l.9 1.4 .4 .1 -.9-1.4z"/>
<path class="k3" d="M108 112.7l.5-.6 .8 .2 -.5-.1 -.4 .6z"/>
<path class="k2" d="M107.1 115l.9-2.3 .4 .1 -1 2.3z"/>
<path class="k1" d="M106.6 116.1l.5-1.1 .3 .1 -.4 1.2z"/>
<path class="k0" d="M102.8 118.5l1 .2 1.4-.6 .9-1 .5-1 .4 .2 -.5 .9 -.9 1 -1.4 .6 -1-.3z"/>
<path class="k1" d="M101.9 117.2l.5 .8 .4 .5 .4 0 -.9-1.2z"/>
<path class="k2" d="M101.5 116.1l.4 1.1 .4 .1 -.5-1.2z"/>
<path class="k3" d="M101 114.7l.5 1.4 .3 0 -.4-1.5z"/>
<path class="k5" d="M100.5 113l.5 1.7 .4-.1 -.5-1.7z"/>
<path class="k6" d="M100.1 111.2l.4 1.8 .4-.1 -.4-1.8z"/>
<path class="k8" d="M99.6 109.7l.5 1.5 .4-.1 -.5-1.5z"/>
<path class="k9" d="M97.6 110l.6-1.2 .4-.5 .5 .4 .5 1 .4-.1 -.5-1.1 -.5-.4 -.5 .4 -.5 1.2z"/>
<path class="k8" d="M97.1 111.7l.5-1.7 .4-.3 -.5 1.7z"/>
<path class="k7" d="M96.6 113.7l.5-2 .4-.3 -.5 2z"/>
<path class="k6" d="M96.1 115.7l.5-2 .4-.3 -.5 2z"/>
<path class="k5" d="M95.6 117.6l.5-1.9 .4-.3 -.5 1.9z"/>
<path class="k3" d="M94.6 120.5l1-2.9 .4-.3 -1 3z"/>
<path class="k2" d="M94.1 121.6l.5-1.1 .4-.2 -.5 1.1z"/>
<path class="k1" d="M92.6 123.7l1.5-2.1 .4-.2 -1.6 2.3z"/>
<path class="k0" d="M87.4 126.6l1 .2 1.1-.4 1.5-1.2 1.6-1.5 .3 0 -1.5 1.6 -1.5 1.1 -1.1 .5 -1-.2z"/>
<path class="k1" d="M86.3 125.5l.6 .7 .9 .5 -1.1-1.2z"/>
<path class="k2" d="M85.8 124.4l.5 1.1 .4 0 -.5-1.1z"/>
<path class="k3" d="M85.3 123.1l.5 1.3 .4 0 -.5-1.3z"/>
<path class="k4" d="M84.7 121.6l.6 1.5 .4 0 -.6-1.6z"/>
<path class="k6" d="M84.2 120l.5 1.6 .4-.1 -.5-1.6z"/>
<path class="k7" d="M83.7 118.7l.5 1.3 .4-.1 -.5-1.3z"/>
<path class="k8" d="M81.5 119.3l.5-1.2 .6-.5 .5 .3 .6 .8 .4-.1 -.6-.9 -.5-.3 -.6 .5 -.5 1.2z"/>
<path class="k3" d="M135.8 97.5l.3 .7 .2 0 -.3-.7z"/>
<path class="k4" d="M135.4 96.8l.4 .7 .2 0 -.3-.7z"/>
<path class="k5" d="M134.7 95.4l.7 1.4 .3 0 -.7-1.5z"/>
<path class="k6" d="M134.4 94.7l.3 .7 .3-.1 -.4-.7z"/>
<path class="k7" d="M134 94.1l.4 .6 .2-.1 -.3-.6z"/>
<path class="k8" d="M132.9 93.1l.4 .2 .7 .8 .3-.1 -.8-.8 -.3-.2z"/>
<path class="k9" d="M132.2 93.5l.2-.1z"/>
<path class="k8" d="M130.9 95.5l.9-1.5 .6-.6 -1.2 2z"/>
<path class="k7" d="M130.5 96.5l.4-1 .3-.1 -.4 1z"/>
<path class="k6" d="M129.7 98.7l.8-2.2 .3-.1 -.9 2.2z"/>
<path class="k5" d="M129.3 99.8l.4-1.1 .2-.1 -.4 1.2z"/>
<path class="k4" d="M128.8 100.9l.5-1.1 .2 0 -.4 1.1z"/>
<path class="k3" d="M128 103l.8-2.1 .3 0 -.9 2.1z"/>
<path class="k2" d="M127.1 104.7l.9-1.7 .2 0 -.8 1.7z"/>
<path class="k1" d="M126.3 106l.8-1.3 .3 0 -.8 1.4z"/>
<path class="k0" d="M123.9 107.6l.4 0 .8-.3 1.2-1.3 .3 .1 -1.3 1.3 -.8 .3 -.4-.1z"/>
<path class="k1" d="M123.1 107l.8 .6 -.6-.6z"/>
<path class="k2" d="M122.3 105.7l.8 1.3 .2 0 -.7-1.2z"/>
<path class="k3" d="M121.9 105l.4 .7 .3 .1 -.4-.8z"/>
<path class="k4" d="M121.1 103.5l.8 1.5 .3 0 -.8-1.4z"/>
<path class="k5" d="M120.7 103l.4 .5 .3 .1 -.4-.5z"/>
<path class="k6" d="M119.5 103.3l.4-.4 .4-.1 .7 .3 -.4-.2 -.4 .1 -.5 .4z"/>
<path class="k5" d="M118.6 105.1l.9-1.8 .2 .1 -.9 1.8z"/>
<path class="k4" d="M118.1 106.3l.5-1.2 .2 .1 -.4 1.2z"/>
<path class="k3" d="M117.2 108.8l.9-2.5 .3 .1 -.9 2.5z"/>
<path class="k2" d="M116.8 109.9l.4-1.1 .3 .1 -.5 1.1z"/>
<path class="k1" d="M115.9 111.7l.9-1.8 .2 .1 -.9 1.8z"/>
<path class="k0" d="M110.6 114.4l.9 .6 1.3-.4 1.8-1.3 1.3-1.6 .2 .1 -.8 1.2 -2.3 1.6 -1.3 .4 -.9-.6z"/>
<path class="k1" d="M110.2 113.7l.4 .7 .2 0 -.4-.7z"/>
<path class="k2" d="M109.3 112.3l.9 1.4 .2 0 -.9-1.3z"/>
<path class="k3" d="M108.4 112.8l.4-.6 .5 .1 .2 .1 -.4-.1 -.5 .6z"/>
<path class="k2" d="M107.4 115.1l1-2.3 .2 .1 -.9 2.3z"/>
<path class="k1" d="M107 116.3l.4-1.2 .3 .1 -.5 1.1z"/>
<path class="k0" d="M103.2 118.5l1 .3 1.4-.6 .9-1 .5-.9 .2 0 -.5 1 -.9 1 -1.4 .5 -.9-.3z"/>
<path class="k1" d="M102.3 117.3l.5 .7 .7 .5 -1-1.2z"/>
<path class="k2" d="M101.8 116.1l.5 1.2 .2 0 -.4-1.2z"/>
<path class="k3" d="M101.4 114.6l.4 1.5 .3 0 -.5-1.5z"/>
<path class="k5" d="M100.9 112.9l.5 1.7 .2 0 -.4-1.8z"/>
<path class="k6" d="M100.5 111.1l.4 1.8 .3-.1 -.5-1.8z"/>
<path class="k8" d="M100 109.6l.5 1.5 .2-.1 -.5-1.6z"/>
<path class="k9" d="M99.5 108.5l.5 1.1 .2-.2 -.4-1.1z"/>
<path class="k10" d="M98.5 108.5l.5-.4 .5 .4 .3-.2 -.5-.4 -.5 .4z"/>
<path class="k9" d="M98 109.7l.5-1.2 .3-.2 -.5 1.1z"/>
<path class="k8" d="M97.5 111.4l.5-1.7 .3-.3 -.5 1.7z"/>
<path class="k7" d="M97 113.4l.5-2 .3-.3 -.5 2z"/>
<path class="k6" d="M96.5 115.4l.5-2 .3-.3 -.5 2.1z"/>
<path class="k5" d="M96 117.3l.5-1.9 .3-.2 -.6 1.9z"/>
<path class="k4" d="M95.5 118.9l.5-1.6 .2-.2 -.5 1.6z"/>
<path class="k3" d="M95 120.3l.5-1.4 .2-.2 -.5 1.4z"/>
<path class="k2" d="M94 122.3l1-2 .2-.2 -1 2.1z"/>
<path class="k1" d="M92.4 124.3l1.6-2 .2-.1 -1.5 2z"/>
<path class="k0" d="M87.8 126.7l.5 .2 1-.2 1.1-.6 2-1.8 .3-.1 -2.6 2.3 -1 .4 -1.1-.1z"/>
<path class="k1" d="M86.7 125.5l.6 .8 .7 .5 -1-1.2z"/>
<path class="k2" d="M86.2 124.4l.5 1.1 .3 .1 -.5-1.1z"/>
<path class="k3" d="M85.7 123.1l.5 1.3 .3 .1 -.6-1.5z"/>
<path class="k4" d="M85.1 121.5l.6 1.6 .2-.1 -.5-1.5z"/>
<path class="k6" d="M84.6 119.9l.5 1.6 .3 0 -.5-1.6z"/>
<path class="k7" d="M84.1 118.6l.5 1.3 .3 0 -.6-1.4z"/>
<path class="k8" d="M83.5 117.7l.6 .9 .2-.1 -.5-.9z"/>
<path class="k9" d="M82.4 117.9l.6-.5 .5 .3 .3-.1 -.6-.3 -.5 .5z"/>
<path class="k8" d="M81.9 119.1l.5-1.2 .3-.1 -.6 1.2z"/>
<path class="k4" d="M135.7 96.8l.6 1.4 2.4 0 -.6-1.6z"/>
<path class="k5" d="M135.3 96.1l.4 .7 2.4-.2 -.4-.9z"/>
<path class="k6" d="M135 95.3l.3 .8 2.4-.4 -.3-.9z"/>
<path class="k7" d="M134.3 94l.7 1.3 2.4-.5 -.7-1.6z"/>
<path class="k8" d="M133.9 93.5l.4 .5 2.4-.8 -.3-.6z"/>
<path class="k9" d="M131.6 94.5l.8-1.1 .4-.3 .4-.1 .7 .5 2.5-.9 -.8-.7 -.3 .1 -.4 .2 -.8 1.3z"/>
<path class="k8" d="M130.8 96.4l.8-1.9 2.5-1 -.9 2z"/>
<path class="k7" d="M130.3 97.5l.5-1.1 2.4-.9 -.4 1.2z"/>
<path class="k6" d="M129.9 98.6l.4-1.1 2.5-.8 -.4 1.3z"/>
<path class="k5" d="M129.1 100.9l.8-2.3 2.5-.6 -.9 2.6z"/>
<path class="k4" d="M128.6 102l.5-1.1 2.4-.3 -.4 1.2z"/>
<path class="k3" d="M128.2 103l.4-1 2.5-.2 -.4 1.2z"/>
<path class="k2" d="M127.4 104.7l.8-1.7 2.5 0 -.9 2z"/>
<path class="k1" d="M126.1 106.6l1.3-1.9 2.4 .3 -1.2 2.1z"/>
<path class="k0" d="M124.1 107.6l.8 0 1.2-1 2.5 .5 -1.2 1.1 -.8 .1z"/>
<path class="k1" d="M122.9 106.5l.8 .9 .4 .2 2.5 .7 -.4-.2 -.8-.9z"/>
<path class="k2" d="M122.6 105.8l.3 .7 2.5 .7 -.4-.6z"/>
<path class="k3" d="M122.2 105l.4 .8 2.4 .8 -.4-.7z"/>
<path class="k4" d="M121.4 103.6l.8 1.4 2.4 .9 -.8-1.4z"/>
<path class="k5" d="M120.6 102.9l.8 .7 2.4 .9 -.8-.6z"/>
<path class="k6" d="M119.7 103.4l.5-.4 .4-.1 2.4 1 -.4 .1 -.4 .4z"/>
<path class="k5" d="M118.8 105.2l.9-1.8 2.5 1 -.9 1.8z"/>
<path class="k4" d="M118.4 106.4l.4-1.2 2.5 1 -.5 1.1z"/>
<path class="k3" d="M117.5 108.9l.9-2.5 2.4 .9 -.9 2.4z"/>
<path class="k2" d="M117 110l.5-1.1 2.4 .8 -.4 1z"/>
<path class="k1" d="M116.1 111.8l.9-1.8 2.5 .7 -.9 1.8z"/>
<path class="k0" d="M110.8 114.4l.9 .6 1.3-.4 1.8-1.2 1.3-1.6 2.5 .7 -.4 .6 -1.4 1.4 -1.7 1.1 -.9 .2 -.9-.6z"/>
<path class="k1" d="M110.4 113.7l.4 .7 2.5 .8 -.4-.7z"/>
<path class="k2" d="M109.5 112.4l.9 1.3 2.5 .8 -.9-1.3z"/>
<path class="k3" d="M108.6 112.9l.5-.6 .4 .1 2.5 .8 -.4-.1 -.5 .5z"/>
<path class="k2" d="M107.7 115.2l.9-2.3 2.5 .7 -.9 2.3z"/>
<path class="k1" d="M107.2 116.3l.5-1.1 2.5 .7 -.5 1.2z"/>
<path class="k0" d="M103.5 118.5l.9 .3 1.4-.5 .9-1 .5-1 2.5 .8 -.9 1.5 -1 .5 -.9 .1 -.9-.5z"/>
<path class="k1" d="M103 118.1l.5 .4 2.5 .2 -.5-.6z"/>
<path class="k2" d="M102.5 117.3l.5 .8 2.5 0 -.4-1z"/>
<path class="k3" d="M102.1 116.1l.4 1.2 2.6-.2 -.5-1.4z"/>
<path class="k4" d="M101.6 114.6l.5 1.5 2.5-.4 -.4-1.7z"/>
<path class="k5" d="M101.2 112.8l.4 1.8 2.6-.6 -.5-2.1z"/>
<path class="k7" d="M100.7 111l.5 1.8 2.5-.9 -.4-2.1z"/>
<path class="k9" d="M100.2 109.4l.5 1.6 2.6-1.2 -.5-2z"/>
<path class="k10" d="M99.8 108.3l.4 1.1 2.6-1.6 -.4-1.5z"/>
<path class="k11" d="M98.3 109.4l.5-1.1 .5-.4 .5 .4 2.6-2 -.5-.8 -.5 0 -.5 .9z"/>
<path class="k10" d="M97.8 111.1l.5-1.7 2.6-3 -.5 1.5z"/>
<path class="k9" d="M97.3 113.1l.5-2 2.6-3.2 -.5 2z"/>
<path class="k8" d="M96.8 115.2l.5-2.1 2.6-3.2 -.5 2.1z"/>
<path class="k6" d="M96.2 117.1l.6-1.9 2.6-3.2 -.6 2.1z"/>
<path class="k5" d="M95.7 118.7l.5-1.6 2.6-3 -.5 1.9z"/>
<path class="k4" d="M95.2 120.1l.5-1.4 2.6-2.7 -.5 1.7z"/>
<path class="k3" d="M94.2 122.2l1-2.1 2.6-2.4 -1 2.8z"/>
<path class="k2" d="M93.2 123.6l1-1.4 2.6-1.7 -1 2.2z"/>
<path class="k1" d="M91.7 125.3l1.5-1.7 2.6-.9 -1.6 2.5z"/>
<path class="k0" d="M88 126.8l.6 .2 1-.2 2.1-1.5 2.5-.1 -1 1.2 -1 .9 -1.1 .3 -.5-.3z"/>
<path class="k1" d="M87 125.6l1 1.2 2.6 .5 -1-1.4z"/>
<path class="k2" d="M86.5 124.5l.5 1.1 2.6 .3 -.5-1.3z"/>
<path class="k3" d="M85.9 123l.6 1.5 2.6 .1 -.6-1.7z"/>
<path class="k5" d="M85.4 121.5l.5 1.5 2.6-.1 -.5-1.8z"/>
<path class="k6" d="M84.9 119.9l.5 1.6 2.6-.4 -.5-1.9z"/>
<path class="k8" d="M84.3 118.5l.6 1.4 2.6-.7 -.6-1.6z"/>
<path class="k9" d="M82.1 119l.6-1.2 .5-.5 .6 .3 .5 .9 2.6-.9 -.5-1.1 -.5-.4 -.6 .6 -.5 1.3z"/>
<path class="k4" d="M138.4 97.4l.3 .8 2.4 .1 -.3-.8z"/>
<path class="k5" d="M138.1 96.6l.3 .8 2.4 .1 -.3-1z"/>
<path class="k6" d="M137.7 95.7l.4 .9 2.4-.1 -.3-1z"/>
<path class="k7" d="M137.4 94.8l.3 .9 2.5-.2 -.4-1z"/>
<path class="k8" d="M136.7 93.2l.7 1.6 2.4-.3 -.6-1.8z"/>
<path class="k9" d="M136.4 92.6l.3 .6 2.5-.5 -.4-.8z"/>
<path class="k10" d="M135.6 91.9l.8 .7 2.4-.7 -.7-.8z"/>
<path class="k11" d="M134.9 92.2l.4-.2 2.8-.9 -.4 0 -.4 .3z"/>
<path class="k10" d="M134.1 93.5l.8-1.3 2.4-.8 -.8 1.3z"/>
<path class="k9" d="M133.2 95.5l.9-2 2.4-.8 -.8 2.2z"/>
<path class="k8" d="M132.8 96.7l.4-1.2 2.5-.6 -.4 1.3z"/>
<path class="k7" d="M132.4 98l.4-1.3 2.5-.5 -.5 1.5z"/>
<path class="k6" d="M131.9 99.3l.5-1.3 2.4-.3 -.4 1.4z"/>
<path class="k5" d="M131.5 100.6l.4-1.3 2.5-.2 -.4 1.4z"/>
<path class="k4" d="M130.7 103l.8-2.4 2.5-.1 -.9 2.6z"/>
<path class="k3" d="M130.2 104l.5-1 2.4 .1 -.4 1.1z"/>
<path class="k2" d="M129.4 105.8l.8-1.8 2.5 .2 -.9 1.9z"/>
<path class="k1" d="M128.6 107.1l.8-1.3 2.4 .3 -.8 1.5z"/>
<path class="k0" d="M126.6 108.3l.8-.1 1.2-1.1 2.4 .5 -1.2 1.2 -.8 .1z"/>
<path class="k1" d="M125.4 107.2l.8 .9 .4 .2 2.4 .6 -.4-.1 -.8-.8z"/>
<path class="k2" d="M125 106.6l.4 .6 2.4 .8 -.4-.6z"/>
<path class="k3" d="M124.2 105.2l.8 1.4 2.4 .8 -.7-1.3z"/>
<path class="k4" d="M123.8 104.5l.4 .7 2.5 .9 -.4-.6z"/>
<path class="k5" d="M121.7 105.2l.9-1.2 .4-.1 .8 .6 2.5 1 -.8-.6 -.4 .1 -.9 1.1z"/>
<path class="k4" d="M120.8 107.3l.9-2.1 2.5 .9 -.9 2.1z"/>
<path class="k3" d="M120.4 108.5l.4-1.2 2.5 .9 -.4 1.2z"/>
<path class="k2" d="M119.5 110.7l.9-2.2 2.5 .9 -.9 2.1z"/>
<path class="k1" d="M118.6 112.5l.9-1.8 2.5 .8 -.9 1.7z"/>
<path class="k0" d="M113.3 115.2l.9 .6 1.3-.5 1.8-1.2 1.3-1.6 2.5 .7 -.5 .7 -1.3 1.3 -1.7 1.1 -.9 .2 -.9-.6z"/>
<path class="k1" d="M112.9 114.5l.4 .7 2.5 .7 -.4-.6z"/>
<path class="k2" d="M112 113.2l.9 1.3 2.5 .8 -.8-1.3z"/>
<path class="k3" d="M111.1 113.6l.5-.5 .4 .1 2.6 .8 -.5-.1 -.4 .5z"/>
<path class="k2" d="M110.2 115.9l.9-2.3 2.6 .8 -1 2.3z"/>
<path class="k1" d="M109.7 117.1l.5-1.2 2.5 .8 -.5 1.1z"/>
<path class="k0" d="M106.5 119.1l.9 .2 .9-.4 .9-.9 .5-.9 2.5 .7 -.4 .8 -1 .9 -.9 .2 -.9-.4z"/>
<path class="k1" d="M105.5 118.1l1 1 2.5 .2 -.9-1.4z"/>
<path class="k2" d="M105.1 117.1l.4 1 2.6-.2 -.4-1.2z"/>
<path class="k3" d="M104.6 115.7l.5 1.4 2.6-.4 -.5-1.7z"/>
<path class="k5" d="M104.2 114l.4 1.7 2.6-.7 -.4-2.1z"/>
<path class="k7" d="M103.7 111.9l.5 2.1 2.6-1.1 -.5-2.4z"/>
<path class="k8" d="M103.3 109.8l.4 2.1 2.6-1.4 -.4-2.5z"/>
<path class="k10" d="M102.8 107.8l.5 2 2.6-1.8 -.4-2.5z"/>
<path class="k12" d="M102.4 106.3l.4 1.5 2.7-2.3 -.5-2z"/>
<path class="k13" d="M101.9 105.5l.5 .8 2.6-2.8 -.5-1.2z"/>
<path class="k14" d="M100.9 106.4l.5-.9 .5 0 2.6-3.2 -.4-.4 -.5 .5z"/>
<path class="k13" d="M100.4 107.9l.5-1.5 2.7-4 -.5 1.3z"/>
<path class="k12" d="M99.9 109.9l.5-2 2.7-4.2 -.6 1.8z"/>
<path class="k11" d="M99.4 112l.5-2.1 2.6-4.4 -.5 2.2z"/>
<path class="k9" d="M98.8 114.1l.6-2.1 2.6-4.3 -.5 2.3z"/>
<path class="k8" d="M98.3 116l.5-1.9 2.7-4.1 -.5 2.2z"/>
<path class="k7" d="M97.8 117.7l.5-1.7 2.7-3.8 -.5 2.1z"/>
<path class="k6" d="M97.3 119.2l.5-1.5 2.7-3.4 -.6 1.9z"/>
<path class="k5" d="M96.8 120.5l.5-1.3 2.6-3 -.5 1.8z"/>
<path class="k4" d="M96.3 121.6l.5-1.1 2.6-2.5 -.5 1.7z"/>
<path class="k3" d="M95.8 122.7l.5-1.1 2.6-1.9 -.5 1.5z"/>
<path class="k2" d="M94.7 124.4l1.1-1.7 2.6-1.5 -1 2.6z"/>
<path class="k1" d="M93.2 126.4l1.5-2 2.7-.6 -1.6 2.8z"/>
<path class="k0" d="M90.6 127.3l.5 .3 .6-.1 1.5-1.1 2.6 .2 -1 1.1 -.5 .3 -.6 .1 -.5-.2z"/>
<path class="k1" d="M90.1 126.8l.5 .5 2.6 .6 -.5-.6z"/>
<path class="k2" d="M89.6 125.9l.5 .9 2.6 .5 -.5-1.1z"/>
<path class="k3" d="M89.1 124.6l.5 1.3 2.6 .3 -.5-1.5z"/>
<path class="k4" d="M88.5 122.9l.6 1.7 2.6 .1 -.5-1.9z"/>
<path class="k6" d="M88 121.1l.5 1.8 2.7-.1 -.6-2.1z"/>
<path class="k7" d="M87.5 119.2l.5 1.9 2.6-.4 -.5-2.2z"/>
<path class="k9" d="M86.9 117.6l.6 1.6 2.6-.7 -.5-1.9z"/>
<path class="k10" d="M86.4 116.5l.5 1.1 2.7-1 -.5-1.2z"/>
<path class="k11" d="M85.3 116.7l.6-.6 .5 .4 2.7-1.1 -.6-.5 -.5 .6z"/>
<path class="k10" d="M84.8 118l.5-1.3 2.7-1.2 -.6 1.5z"/>
<path class="k4" d="M140.8 97.5l.3 .8 2.5 .3 -.4-1z"/>
<path class="k5" d="M140.5 96.5l.3 1 2.4 .1 -.3-1z"/>
<path class="k6" d="M140.2 95.5l.3 1 2.4 .1 -.3-1.1z"/>
<path class="k7" d="M139.8 94.5l.4 1 2.4 0 -.3-1.1z"/>
<path class="k8" d="M139.5 93.5l.3 1 2.5-.1 -.3-1z"/>
<path class="k9" d="M139.2 92.7l.3 .8 2.5-.1 -.4-1z"/>
<path class="k10" d="M138.8 91.9l.4 .8 2.4-.3 -.3-.8z"/>
<path class="k11" d="M137.7 91.1l.4 0 .7 .8 2.5-.3 -.7-.9 -.4 0z"/>
<path class="k12" d="M137.3 91.4l.4-.3 2.5-.4 -.4 .2z"/>
<path class="k11" d="M136.5 92.7l.8-1.3 2.5-.5 -.8 1.4z"/>
<path class="k10" d="M135.7 94.9l.8-2.2 2.5-.4 -.8 2.3z"/>
<path class="k9" d="M135.3 96.2l.4-1.3 2.5-.3 -.4 1.4z"/>
<path class="k8" d="M134.8 97.7l.5-1.5 2.5-.2 -.5 1.5z"/>
<path class="k7" d="M134.4 99.1l.4-1.4 2.5-.2 -.4 1.6z"/>
<path class="k6" d="M134 100.5l.4-1.4 2.5 0 -.5 1.5z"/>
<path class="k5" d="M133.5 101.8l.5-1.3 2.4 .1 -.4 1.4z"/>
<path class="k4" d="M133.1 103.1l.4-1.3 2.5 .2 -.4 1.3z"/>
<path class="k3" d="M132.7 104.2l.4-1.1 2.5 .2 -.5 1.2z"/>
<path class="k2" d="M131.8 106.1l.9-1.9 2.4 .3 -.8 2.1z"/>
<path class="k1" d="M130.6 108.1l1.2-2 2.5 .5 -1.2 2.1z"/>
<path class="k0" d="M129 108.9l.8-.1 .8-.7 2.5 .6 -.8 .7 -.8 .2z"/>
<path class="k1" d="M127.8 108l.8 .8 .4 .1 2.5 .7 -.4-.1 -.8-.7z"/>
<path class="k2" d="M127.4 107.4l.4 .6 2.5 .8 -.4-.6z"/>
<path class="k3" d="M126.7 106.1l.7 1.3 2.5 .8 -.7-1.2z"/>
<path class="k4" d="M125.9 105l.8 1.1 2.5 .9 -.8-1z"/>
<path class="k5" d="M124.2 106.1l.9-1.1 .4-.1 2.9 1.1 -.4-.2 -.4 .2 -.9 1.1z"/>
<path class="k4" d="M123.3 108.2l.9-2.1 2.5 1 -.9 2z"/>
<path class="k3" d="M122.9 109.4l.4-1.2 2.5 .9 -.4 1.1z"/>
<path class="k2" d="M122 111.5l.9-2.1 2.5 .8 -.9 2.1z"/>
<path class="k1" d="M121.1 113.2l.9-1.7 2.5 .8 -.9 1.7z"/>
<path class="k0" d="M115.8 115.9l.9 .6 1.3-.5 1.8-1.2 1.3-1.6 2.5 .8 -.5 .6 -1.3 1.3 -1.7 1.1 -.9 .2 -.8-.6z"/>
<path class="k1" d="M115.4 115.3l.4 .6 2.6 .7 -.4-.6z"/>
<path class="k2" d="M114.6 114l.8 1.3 2.6 .7 -.9-1.3z"/>
<path class="k3" d="M113.7 114.4l.4-.5 .5 .1 2.5 .7 -.4-.1 -.5 .6z"/>
<path class="k2" d="M112.7 116.7l1-2.3 2.5 .8 -.9 2.2z"/>
<path class="k1" d="M112.2 117.8l.5-1.1 2.6 .7 -.5 1.1z"/>
<path class="k0" d="M109.5 119.6l.4 .1 .9-.2 1-.9 .4-.8 2.6 .7 -.5 .8 -.9 .9 -.9 0 -.5-.2z"/>
<path class="k1" d="M108.6 118.7l.9 .9 2.5 .4 -.9-1.1z"/>
<path class="k2" d="M108.1 117.9l.5 .8 2.5 .2 -.4-1z"/>
<path class="k3" d="M107.7 116.7l.4 1.2 2.6 0 -.4-1.5z"/>
<path class="k4" d="M107.2 115l.5 1.7 2.6-.3 -.5-1.9z"/>
<path class="k6" d="M106.8 112.9l.4 2.1 2.6-.5 -.4-2.3z"/>
<path class="k8" d="M106.3 110.5l.5 2.4 2.6-.7 -.4-2.7z"/>
<path class="k10" d="M105.9 108l.4 2.5 2.7-1 -.5-2.9z"/>
<path class="k12" d="M105.5 105.5l.4 2.5 2.6-1.4 -.4-2.8z"/>
<path class="k14" d="M105 103.5l.5 2 2.6-1.7 -.4-2.4z"/>
<path class="k15" d="M104.5 102.3l.5 1.2 2.7-2.1 -.5-1.7z"/>
<path class="k16" d="M104.1 101.9l.4 .4 2.7-2.6 -.5-.8z"/>
<path class="k17" d="M103.6 102.4l3.1-3.5 -.4 .2z"/>
<path class="k16" d="M103.1 103.7l.5-1.3 2.7-3.3 -.6 1.1z"/>
<path class="k15" d="M102.5 105.5l.6-1.8 2.6-3.5 -.5 1.8z"/>
<path class="k14" d="M102 107.7l.5-2.2 2.7-3.5 -.5 2.2z"/>
<path class="k13" d="M101.5 110l.5-2.3 2.7-3.5 -.5 2.4z"/>
<path class="k11" d="M101 112.2l.5-2.2 2.7-3.4 -.5 2.5z"/>
<path class="k10" d="M100.5 114.3l.5-2.1 2.7-3.1 -.6 2.4z"/>
<path class="k8" d="M99.9 116.2l.6-1.9 2.6-2.8 -.5 2.4z"/>
<path class="k7" d="M99.4 118l.5-1.8 2.7-2.3 -.5 2.1z"/>
<path class="k6" d="M98.9 119.7l.5-1.7 2.7-2 -.6 2.1z"/>
<path class="k5" d="M98.4 121.2l.5-1.5 2.6-1.6 -.5 1.9z"/>
<path class="k4" d="M97.9 122.5l.5-1.3 2.6-1.2 -.5 1.7z"/>
<path class="k3" d="M97.4 123.8l.5-1.3 2.6-.8 -.5 1.6z"/>
<path class="k2" d="M96.3 125.8l1.1-2 2.6-.5 -1 2.5z"/>
<path class="k1" d="M95.3 127.3l1-1.5 2.7 0 -1.1 1.9z"/>
<path class="k0" d="M93.7 128.1l.6-.1 1-.7 2.6 .4 -1 .9 -.5 .1z"/>
<path class="k1" d="M92.7 127.3l.5 .6 .5 .2 2.7 .6 -.5-.3 -.5-.6z"/>
<path class="k2" d="M92.2 126.2l.5 1.1 2.7 .5 -.6-1.2z"/>
<path class="k3" d="M91.7 124.7l.5 1.5 2.6 .4 -.5-1.7z"/>
<path class="k5" d="M91.2 122.8l.5 1.9 2.6 .2 -.5-2.2z"/>
<path class="k6" d="M90.6 120.7l.6 2.1 2.6-.1 -.5-2.4z"/>
<path class="k8" d="M90.1 118.5l.5 2.2 2.7-.4 -.5-2.5z"/>
<path class="k10" d="M89.6 116.6l.5 1.9 2.7-.7 -.5-2.1z"/>
<path class="k11" d="M89.1 115.4l.5 1.2 2.7-.9 -.6-1.5z"/>
<path class="k12" d="M88 115.5l.5-.6 .6 .5 2.6-1.2 -.5-.5 -.5 .6z"/>
<path class="k11" d="M87.4 117l.6-1.5 2.7-1.2 -.6 1.7z"/>
<path class="k5" d="M143.2 97.6l.4 1 2.4 .4 -.3-.9z"/>
<path class="k6" d="M142.9 96.6l.3 1 2.5 .5 -.3-1.1z"/>
<path class="k7" d="M142.6 95.5l.3 1.1 2.5 .4 -.3-1.1z"/>
<path class="k8" d="M142.3 94.4l.3 1.1 2.5 .4 -.4-1.2z"/>
<path class="k9" d="M142 93.4l.3 1 2.4 .3 -.3-1.1z"/>
<path class="k10" d="M141.3 91.6l.7 1.8 2.4 .2 -.6-1.8z"/>
<path class="k11" d="M140.9 91l.4 .6 2.5 .2 -.4-.6z"/>
<path class="k12" d="M139 92.3l.8-1.4 .4-.2 .4 0 .3 .3 2.5 .2 -.3-.3 -.4-.1 -.4 .3 -.8 1.4z"/>
<path class="k11" d="M138.6 93.4l.4-1.1 2.5 .2 -.4 1.1z"/>
<path class="k10" d="M138.2 94.6l.4-1.2 2.5 .2 -.4 1.3z"/>
<path class="k9" d="M137.8 96l.4-1.4 2.5 .3 -.5 1.4z"/>
<path class="k8" d="M137.3 97.5l.5-1.5 2.4 .3 -.4 1.6z"/>
<path class="k7" d="M136.9 99.1l.4-1.6 2.5 .4 -.4 1.5z"/>
<path class="k6" d="M136.4 100.6l.5-1.5 2.5 .3 -.5 1.5z"/>
<path class="k5" d="M136 102l.4-1.4 2.5 .3 -.4 1.5z"/>
<path class="k4" d="M135.6 103.3l.4-1.3 2.5 .4 -.4 1.4z"/>
<path class="k3" d="M134.7 105.6l.9-2.3 2.5 .5 -.9 2.4z"/>
<path class="k2" d="M134.3 106.6l.4-1 2.5 .6 -.4 1z"/>
<path class="k1" d="M133.1 108.7l1.2-2.1 2.5 .6 -1.3 2.1z"/>
<path class="k0" d="M131.1 109.5l.8 .1 1.2-.9 2.4 .6 -1.2 1 -.7-.1z"/>
<path class="k1" d="M130.3 108.8l.8 .7 2.5 .7 -.8-.6z"/>
<path class="k2" d="M129.5 107.6l.8 1.2 2.5 .8 -.8-1.1z"/>
<path class="k3" d="M129.2 107l.3 .6 2.5 .9 -.3-.6z"/>
<path class="k4" d="M128.4 106l.8 1 2.5 .9 -.8-.9z"/>
<path class="k5" d="M127.1 106.4l.5-.4 .4-.2 2.9 1.2 -.4-.1 -.4 .1 -.5 .4z"/>
<path class="k4" d="M126.3 108.1l.8-1.7 2.5 1 -.8 1.6z"/>
<path class="k3" d="M125.4 110.2l.9-2.1 2.5 .9 -.9 2.1z"/>
<path class="k2" d="M124.5 112.3l.9-2.1 2.5 .9 -.9 2z"/>
<path class="k1" d="M123.6 114l.9-1.7 2.5 .8 -.9 1.6z"/>
<path class="k0" d="M118.4 116.6l.8 .6 .9-.2 2.2-1.5 1.3-1.5 2.5 .7 -.4 .6 -1.3 1.3 -1.7 1.1 -.9 .2 -.9-.5z"/>
<path class="k1" d="M118 116l.4 .6 2.5 .8 -.4-.7z"/>
<path class="k2" d="M117.1 114.7l.9 1.3 2.5 .7 -.8-1.3z"/>
<path class="k3" d="M116.2 115.2l.5-.6 3 .8 -.5-.1 -.4 .6z"/>
<path class="k2" d="M115.3 117.4l.9-2.2 2.6 .7 -1 2.2z"/>
<path class="k1" d="M114.8 118.5l.5-1.1 2.5 .7 -.4 1.1z"/>
<path class="k0" d="M112 120l.5 .2 .9 0 .9-.9 .5-.8 2.6 .7 -.5 .9 -.9 .8 -.9 0 -.5-.2z"/>
<path class="k1" d="M111.6 119.6l.4 .4 2.6 .7 -.4-.5z"/>
<path class="k2" d="M110.7 117.9l.9 1.7 2.6 .6 -.9-1.7z"/>
<path class="k3" d="M110.3 116.4l.4 1.5 2.6 .6 -.4-1.5z"/>
<path class="k5" d="M109.8 114.5l.5 1.9 2.6 .6 -.5-1.9z"/>
<path class="k7" d="M109.4 112.2l.4 2.3 2.6 .6 -.4-2.3z"/>
<path class="k9" d="M109 109.5l.4 2.7 2.6 .6 -.4-2.8z"/>
<path class="k11" d="M108.5 106.6l.5 2.9 2.6 .5 -.4-2.9z"/>
<path class="k13" d="M108.1 103.8l.4 2.8 2.7 .5 -.4-2.9z"/>
<path class="k15" d="M107.7 101.4l.4 2.4 2.7 .4 -.5-2.5z"/>
<path class="k17" d="M107.2 99.7l.5 1.7 2.6 .3 -.4-1.8z"/>
<path class="k18" d="M105.7 100.2l.6-1.1 .4-.2 .5 .8 2.7 .2 -.5-.9 -.5 0 -.5 .9z"/>
<path class="k17" d="M105.2 102l.5-1.8 2.7-.3 -.5 1.7z"/>
<path class="k16" d="M104.7 104.2l.5-2.2 2.7-.4 -.5 2.2z"/>
<path class="k15" d="M104.2 106.6l.5-2.4 2.7-.4 -.5 2.4z"/>
<path class="k13" d="M103.7 109.1l.5-2.5 2.7-.4 -.6 2.5z"/>
<path class="k11" d="M103.1 111.5l.6-2.4 2.6-.4 -.5 2.6z"/>
<path class="k10" d="M102.6 113.9l.5-2.4 2.7-.2 -.5 2.4z"/>
<path class="k8" d="M102.1 116l.5-2.1 2.7-.2 -.6 2.3z"/>
<path class="k7" d="M101.5 118.1l.6-2.1 2.6 0 -.5 2.2z"/>
<path class="k6" d="M101 120l.5-1.9 2.7 .1 -.5 2z"/>
<path class="k5" d="M100.5 121.7l.5-1.7 2.7 .2 -.5 1.9z"/>
<path class="k4" d="M100 123.3l.5-1.6 2.7 .4 -.6 1.7z"/>
<path class="k3" d="M99.5 124.7l.5-1.4 2.6 .5 -.5 1.4z"/>
<path class="k2" d="M99 125.8l.5-1.1 2.6 .5 -.5 1.3z"/>
<path class="k1" d="M97.4 128.3l1.6-2.5 2.6 .7 -1.5 2.6z"/>
<path class="k0" d="M96.4 128.7l.5-.1 .5-.3 2.7 .8 -1.1 .9z"/>
<path class="k1" d="M95.4 127.8l.5 .6 3.1 1.6 -.5 .1 -.5-.1z"/>
<path class="k2" d="M94.3 124.9l1.1 2.9 2.1 1.8 -.5-.6z"/>
<path class="k4" d="M93.8 122.7l.5 2.2 2.2 3.2z"/>
<path class="k5" d="M93.3 120.3l.5 2.4 2.2 4.4z"/>
<path class="k6" d="M92.8 117.8l.5 2.5 2.7 6.8 -.6-1.1z"/>
<path class="k8" d="M92.3 115.7l.5 2.1 2.6 8.2 -.5-.9z"/>
<path class="k9" d="M90.1 116l.6-1.7 .5-.6 .5 .5 3.2 10.9 -.5-.5 -.5-.1 -.6 .5 -.5 .9z"/>
<path class="k5" d="M145.7 98.1l.3 .9 2.4 .7 -.3-.9z"/>
<path class="k6" d="M145.4 97l.3 1.1 2.4 .7 -.3-1.1z"/>
<path class="k7" d="M145.1 95.9l.3 1.1 2.4 .7 -.3-1.1z"/>
<path class="k8" d="M144.7 94.7l.4 1.2 2.4 .7 -.3-1.1z"/>
<path class="k9" d="M144.4 93.6l.3 1.1 2.5 .8 -.3-1.1z"/>
<path class="k10" d="M144.1 92.6l.3 1 2.5 .8 -.3-1z"/>
<path class="k11" d="M143.4 91.2l.7 1.4 2.5 .8 -.7-1.4z"/>
<path class="k12" d="M141.5 92.5l.8-1.4 .4-.3 3.2 1.2 -.3-.3 -.4 0 -.4 .2 -.8 1.4z"/>
<path class="k11" d="M141.1 93.6l.4-1.1 2.5 .8 -.4 1.1z"/>
<path class="k10" d="M140.7 94.9l.4-1.3 2.5 .8 -.4 1.3z"/>
<path class="k9" d="M140.2 96.3l.5-1.4 2.5 .8 -.5 1.4z"/>
<path class="k8" d="M139.8 97.9l.4-1.6 2.5 .8 -.4 1.6z"/>
<path class="k7" d="M139.4 99.4l.4-1.5 2.5 .8 -.4 1.5z"/>
<path class="k6" d="M138.9 100.9l.5-1.5 2.5 .8 -.5 1.5z"/>
<path class="k5" d="M138.5 102.4l.4-1.5 2.5 .8 -.4 1.5z"/>
<path class="k4" d="M138.1 103.8l.4-1.4 2.5 .8 -.5 1.3z"/>
<path class="k3" d="M137.2 106.2l.9-2.4 2.4 .7 -.8 2.4z"/>
<path class="k2" d="M136.8 107.2l.4-1 2.5 .7 -.4 1z"/>
<path class="k1" d="M135.5 109.3l1.3-2.1 2.5 .7 -1.3 2.1z"/>
<path class="k0" d="M133.6 110.2l.7 .1 1.2-1 2.5 .7 -1.2 1 -.7 0z"/>
<path class="k1" d="M132.8 109.6l.8 .6 2.5 .8 -.8-.6z"/>
<path class="k2" d="M132 108.5l.8 1.1 2.5 .8 -.8-1z"/>
<path class="k3" d="M131.3 107.4l.7 1.1 2.5 .9 -.7-1.1z"/>
<path class="k4" d="M130.5 106.9l.8 .5 2.5 .9 -.8-.4z"/>
<path class="k5" d="M130.1 107l.4-.1 2.5 1 -.4 .1z"/>
<path class="k4" d="M128.8 109l.8-1.6 .5-.4 2.5 1 -.4 .4 -.9 1.6z"/>
<path class="k3" d="M127.9 111.1l.9-2.1 2.5 1 -.9 2z"/>
<path class="k2" d="M127.4 112.2l.5-1.1 2.5 .9 -.4 1z"/>
<path class="k1" d="M126.6 114l.8-1.8 2.6 .8 -.9 1.8z"/>
<path class="k0" d="M120.9 117.4l.9 .5 .9-.2 .8-.5 1.7-1.4 1.4-1.8 2.5 .8 -.9 1.3 -1.3 1.2 -1.7 1.1 -.8 .2 -.9-.5z"/>
<path class="k1" d="M120.5 116.7l.4 .7 2.6 .7 -.4-.7z"/>
<path class="k2" d="M119.7 115.4l.8 1.3 2.6 .7 -.8-1.3z"/>
<path class="k3" d="M118.8 115.9l.4-.6 3.1 .8 -.5 0 -.4 .5z"/>
<path class="k2" d="M117.8 118.1l1-2.2 2.6 .7 -1 2.3z"/>
<path class="k1" d="M117.4 119.2l.4-1.1 2.6 .8 -.4 1.1z"/>
<path class="k0" d="M114.6 120.7l.5 .2 .9 0 .9-.8 .5-.9 2.6 .8 -.5 .9 -.9 .8 -.5 .1 -.9-.1z"/>
<path class="k1" d="M113.7 119.5l.9 1.2 2.6 1 -.9-1z"/>
<path class="k2" d="M113.3 118.5l.4 1 2.6 1.2 -.4-.8z"/>
<path class="k3" d="M112.9 117l.4 1.5 2.6 1.4 -.4-1.2z"/>
<path class="k5" d="M112.4 115.1l.5 1.9 2.6 1.7 -.5-1.7z"/>
<path class="k6" d="M112 112.8l.4 2.3 2.6 1.9 -.4-2z"/>
<path class="k8" d="M111.6 110l.4 2.8 2.6 2.2 -.4-2.4z"/>
<path class="k10" d="M111.2 107.1l.4 2.9 2.6 2.6 -.4-2.6z"/>
<path class="k12" d="M110.8 104.2l.4 2.9 2.6 2.9 -.4-2.6z"/>
<path class="k14" d="M110.3 101.7l.5 2.5 2.6 3.2 -.5-2.3z"/>
<path class="k16" d="M109.9 99.9l.4 1.8 2.6 3.4 -.4-1.6z"/>
<path class="k17" d="M108.4 99.9l.5-.9 .5 0 .5 .9 2.6 3.6 -.5-.8 -.4 0 -.5 .9z"/>
<path class="k16" d="M107.9 101.6l.5-1.7 2.7 3.7 -.6 1.6z"/>
<path class="k15" d="M107.4 103.8l.5-2.2 2.6 3.6 -.5 2.1z"/>
<path class="k14" d="M106.9 106.2l.5-2.4 2.6 3.5 -.5 2.2z"/>
<path class="k12" d="M106.3 108.7l.6-2.5 2.6 3.3 -.5 2.4z"/>
<path class="k11" d="M105.8 111.3l.5-2.6 2.7 3.2 -.6 2.3z"/>
<path class="k9" d="M105.3 113.7l.5-2.4 2.6 2.9 -.5 2.2z"/>
<path class="k8" d="M104.7 116l.6-2.3 2.6 2.7 -.5 2.1z"/>
<path class="k7" d="M104.2 118.2l.5-2.2 2.7 2.5 -.5 2z"/>
<path class="k6" d="M103.7 120.2l.5-2 2.7 2.3 -.6 1.7z"/>
<path class="k4" d="M103.2 122.1l.5-1.9 2.6 2 -.5 1.7z"/>
<path class="k3" d="M102.1 125.2l1.1-3.1 2.6 1.8 -1 2.7z"/>
<path class="k2" d="M101.6 126.5l.5-1.3 2.7 1.4 -.5 1.2z"/>
<path class="k1" d="M100.6 128.4l1-1.9 2.7 1.3 -1.1 1.8z"/>
<path class="k0" d="M97.5 129.6l.5 .4 .5 .1 .5-.1 .5-.3 1.1-1.3 2.6 1.2 -1.5 1.8 -1.5 1.3z"/>
<path class="k1" d="M96 127.1l1 1.9 3.2 3.7 -1.6 1z"/>
<path class="k2" d="M94.9 125.1l1.1 2 2.6 6.6 -1.1 .6z"/>
<path class="k3" d="M92.8 125.9l.5-.9 .6-.5 .5 .1 .5 .5 2.6 9.2 -2.1 1.2z"/>
<path class="k1" d="M53.9 120.5l3.5-.2 37.1 12 .5 1.6 -41.1-13.4z"/>
<path class="k2" d="M57.4 120.3l7.2 .9 29.5 9.5 .4 1.6 -37.1-12z"/>
<path class="k3" d="M64.6 121.2l3.7-.2 25.4 8.1 .4 1.6 -29.5-9.5z"/>
<path class="k4" d="M68.3 121l3.7-.2 21.2 6.7 .5 1.6 -25.4-8.1z"/>
<path class="k5" d="M72 120.8l3.1-.5 17.7 5.6 .4 1.6 -21.2-6.7z"/>
<path class="k6" d="M75.1 120.3l3-.4 14.2 4.4 .5 1.6 -17.7-5.6z"/>
<path class="k7" d="M78.1 119.9l3.1-.5 10.7 3.3 .4 1.6 -14.2-4.4z"/>
<path class="k8" d="M81.2 119.4l2.1-.8 8.2 2.5 .4 1.6 -10.7-3.3z"/>
<path class="k9" d="M83.3 118.6l2.1-.8 5.7 1.7 .4 1.6 -8.2-2.5z"/>
<path class="k10" d="M85.4 117.8l2.2-.9 3 1 .5 1.6 -5.7-1.7z"/>
<path class="k11" d="M87.6 116.9l2.1-.8 .5 .2 .4 1.6 -3-1z"/>
<path class="k12" d="M89.7 116.1l.4-.1 .1 .3 -.5-.2z"/>
<path class="k1" d="M103.2 129.7l1.2-2.1 12-6.8 .9 .9 -14.1 8z"/>
<path class="k1" d="M119.8 120.2l.8-1.7 2.3-1.4 .6 1 -3.7 2.1z"/>
<path class="k1" d="M128.9 115.1l1-1.9 5.3-2.9 .9 .7 -7.2 4.1z"/>
<path class="k1" d="M138.1 109.9l1.1-1.9 9.1-5.1 -.1 1.2 -10.1 5.8z"/>
<path class="k2" d="M104.4 127.6l.7-1.9 10.8-5.9 .5 1 -12 6.8z"/>
<path class="k2" d="M120.6 118.5l.7-1.8 1-.5 .6 .9 -2.3 1.4z"/>
<path class="k2" d="M129.9 113.2l.7-1.7 3.9-2.1 .7 .9 -5.3 2.9z"/>
<path class="k2" d="M139.2 108l.7-1.6 8.5-4.7 -.1 1.2 -9.1 5.1z"/>
<path class="k3" d="M105.1 125.7l.7-1.7 9.7-5.4 .4 1.2 -10.8 5.9z"/>
<path class="k3" d="M121.3 116.7l.5-.6 .5 .1 -1 .5z"/>
<path class="k3" d="M130.6 111.5l.8-1.7 2.5-1.3 .6 .9 -3.9 2.1z"/>
<path class="k3" d="M139.9 106.4l.5-1.6 8-4.4 0 1.3 -8.5 4.7z"/>
<path class="k4" d="M105.8 124l.5-1.7 8.8-4.9 .4 1.2 -9.7 5.4z"/>
<path class="k4" d="M131.4 109.8l1.2-1.8 .4-.1 .4 .1 .5 .5 -2.5 1.3z"/>
<path class="k4" d="M140.4 104.8l.5-1.5 7.4-4 .1 1.1 -8 4.4z"/>
<path class="k5" d="M106.3 122.3l.5-1.7 8.1-4.4 .2 1.2 -8.8 4.9z"/>
<path class="k5" d="M140.9 103.3l.5-1.5 6.6-3.6 .3 1.1 -7.4 4z"/>
<path class="k6" d="M106.8 120.6l.5-1.7 7.3-3.9 .3 1.2 -8.1 4.4z"/>
<path class="k6" d="M141.4 101.8l.4-1.4 5.9-3.2 .3 1 -6.6 3.6z"/>
<path class="k7" d="M107.3 118.9l.4-1.6 6.7-3.6 .2 1.3 -7.3 3.9z"/>
<path class="k7" d="M141.8 100.4l.4-1.5 5.2-2.8 .3 1.1 -5.9 3.2z"/>
<path class="k8" d="M107.7 117.3l.4-1.6 6.1-3.2 .2 1.2 -6.7 3.6z"/>
<path class="k8" d="M142.2 98.9l.4-1.5 4.5-2.3 .3 1 -5.2 2.8z"/>
<path class="k9" d="M108.1 115.7l.4-1.6 5.5-2.9 .2 1.3 -6.1 3.2z"/>
<path class="k9" d="M142.6 97.4l.5-1.4 3.7-2 .3 1.1 -4.5 2.3z"/>
<path class="k10" d="M108.5 114.1l.3-1.6 5-2.6 .2 1.3 -5.5 2.9z"/>
<path class="k10" d="M143.1 96l.5-1.5 2.8-1.5 .4 1 -3.7 2z"/>
<path class="k11" d="M108.8 112.5l.4-1.6 4.4-2.3 .2 1.3 -5 2.6z"/>
<path class="k11" d="M143.6 94.5l.6-1.6 1.7-.9 .5 1 -2.8 1.5z"/>
<path class="k12" d="M109.2 110.9l.4-1.6 3.8-2 .2 1.3 -4.4 2.3z"/>
<path class="k12" d="M144.2 92.9l.6-1 .4-.2 .4 0 .3 .3 -1.7 .9z"/>
<path class="k13" d="M109.6 109.3l.3-1.7 3.2-1.6 .3 1.3 -3.8 2z"/>
<path class="k14" d="M109.9 107.6l.4-1.6 2.5-1.2 .3 1.2 -3.2 1.6z"/>
<path class="k15" d="M110.3 106l.5-1.6 1.7-.9 .3 1.3 -2.5 1.2z"/>
<path class="k16" d="M110.8 104.4l.8-1.7 .4 0 .5 .8 -1.7 .9z"/>
</g>
<polyline fill="none" stroke="#333" stroke-width="0.55" points="24.1,112.1 95.4,135.5 148.2,105.3"/>
<line stroke="#333" stroke-width="0.45" x1="24.1" y1="112.1" x2="21.3" y2="113.2"/>
<text class="t3" transform="translate(17.1,116.1) rotate(25)" text-anchor="middle">100</text>
<line stroke="#333" stroke-width="0.45" x1="36.9" y1="116.3" x2="34.2" y2="117.5"/>
<line stroke="#333" stroke-width="0.45" x1="50.4" y1="120.7" x2="47.7" y2="122.0"/>
<text class="t3" transform="translate(43.5,125.1) rotate(25)" text-anchor="middle">300</text>
<line stroke="#333" stroke-width="0.45" x1="64.6" y1="125.4" x2="61.9" y2="126.7"/>
<line stroke="#333" stroke-width="0.45" x1="79.6" y1="130.3" x2="76.9" y2="131.7"/>
<text class="t3" transform="translate(72.9,135.0) rotate(25)" text-anchor="middle">500</text>
<line stroke="#333" stroke-width="0.45" x1="95.4" y1="135.5" x2="92.8" y2="137.0"/>
<line stroke="#333" stroke-width="0.45" x1="95.4" y1="135.5" x2="98.7" y2="136.6"/>
<text class="t3" transform="translate(100.7,138.3) rotate(30)">4000</text>
<line stroke="#333" stroke-width="0.45" x1="104.3" y1="130.4" x2="107.5" y2="131.5"/>
<text class="t3" transform="translate(109.5,133.2) rotate(30)">3500</text>
<line stroke="#333" stroke-width="0.45" x1="112.7" y1="125.7" x2="115.8" y2="126.6"/>
<text class="t3" transform="translate(117.7,128.3) rotate(30)">3000</text>
<line stroke="#333" stroke-width="0.45" x1="120.6" y1="121.1" x2="123.7" y2="122.1"/>
<text class="t3" transform="translate(125.6,123.7) rotate(30)">2500</text>
<line stroke="#333" stroke-width="0.45" x1="128.0" y1="116.9" x2="131.1" y2="117.7"/>
<text class="t3" transform="translate(133.0,119.4) rotate(30)">2000</text>
<line stroke="#333" stroke-width="0.45" x1="135.1" y1="112.8" x2="138.1" y2="113.6"/>
<text class="t3" transform="translate(140.0,115.3) rotate(30)">1500</text>
<line stroke="#333" stroke-width="0.45" x1="141.8" y1="109.0" x2="144.8" y2="109.8"/>
<text class="t3" transform="translate(146.6,111.4) rotate(30)">1000</text>
<line stroke="#333" stroke-width="0.45" x1="148.2" y1="105.3" x2="151.1" y2="106.1"/>
<text class="t3" transform="translate(152.9,107.7) rotate(30)">500</text>
<text class="t3t" transform="translate(50.5,127.0) rotate(25)" text-anchor="middle">Temperature/°C</text>
<text class="t3t" transform="translate(135.0,126.5) rotate(-30)" text-anchor="middle">Wavenumber/cm<tspan dy="-1" font-size="2.2">-1</tspan></text>
<line stroke="#555" stroke-width="0.6" x1="24.1" y1="112.1" x2="20.2" y2="22.1"/>
<line stroke="#333" stroke-width="0.45" x1="24.1" y1="112.1" x2="22.8" y2="112.1"/>
<text class="t3" transform="translate(22.5,113.4) rotate(-20)" text-anchor="end">0.00</text>
<line stroke="#333" stroke-width="0.45" x1="23.5" y1="97.9" x2="22.2" y2="97.9"/>
<text class="t3" transform="translate(21.9,99.2) rotate(-20)" text-anchor="end">0.01</text>
<line stroke="#333" stroke-width="0.45" x1="22.9" y1="83.3" x2="21.6" y2="83.3"/>
<text class="t3" transform="translate(21.3,84.6) rotate(-20)" text-anchor="end">0.02</text>
<line stroke="#333" stroke-width="0.45" x1="22.2" y1="68.5" x2="20.9" y2="68.5"/>
<text class="t3" transform="translate(20.6,69.8) rotate(-20)" text-anchor="end">0.03</text>
<line stroke="#333" stroke-width="0.45" x1="21.6" y1="53.4" x2="20.3" y2="53.4"/>
<text class="t3" transform="translate(20.0,54.7) rotate(-20)" text-anchor="end">0.04</text>
<line stroke="#333" stroke-width="0.45" x1="20.9" y1="37.9" x2="19.6" y2="37.9"/>
<text class="t3" transform="translate(19.3,39.2) rotate(-20)" text-anchor="end">0.05</text>
<line stroke="#333" stroke-width="0.45" x1="20.2" y1="22.1" x2="18.9" y2="22.1"/>
<text class="t3" transform="translate(18.6,23.4) rotate(-20)" text-anchor="end">0.06</text>
<text class="t3t" style="font-size:4.3px" transform="translate(10.6,70.2) rotate(90)" text-anchor="middle">Absorbance/a.u.</text>
<rect x="164.3" y="17.5" width="8" height="83.5" fill="url(#cb)"/>
<text class="cbl" x="174.2" y="19.50">0.000</text>
<text class="cbl" x="174.2" y="27.79">0.002020</text>
<text class="cbl" x="174.2" y="36.08">0.004040</text>
<text class="cbl" x="174.2" y="44.37">0.006060</text>
<text class="cbl" x="174.2" y="52.66">0.008080</text>
<text class="cbl" x="174.2" y="60.95">0.01010</text>
<text class="cbl" x="174.2" y="69.24">0.01212</text>
<text class="cbl" x="174.2" y="77.53">0.01414</text>
<text class="cbl" x="174.2" y="85.82">0.01616</text>
<text class="cbl" x="174.2" y="94.11">0.01818</text>
<text class="cbl" x="174.2" y="102.40">0.02020</text>
<polyline fill="none" stroke="#9a9a9a" stroke-width="0.6" points="206.1,112.1 202.2,22.1 264.4,12.4 334.1,20.4 330.2,105.3"/>
<line stroke="#9a9a9a" stroke-width="0.6" x1="264.5" y1="88.8" x2="264.4" y2="12.4"/>
<path class="k0" stroke-width=".3" d="M206.1 112.1 264.5 88.8 330.2 105.3 277.4 135.5"/>
<g stroke-width=".45">
<path class="k0" d="M261.3 89.7l.7 .1 2.5-1 .6 .1 -2.5 1 -.7 0z"/>
<path class="k1" d="M260.9 89l.4 .7 .6 .2 -.4-.7z"/>
<path class="k2" d="M260.7 88.1l.2 .9 .6 .2 -.2-.9z"/>
<path class="k3" d="M260.5 86.7l.2 1.4 .6 .2 -.2-1.3z"/>
<path class="k4" d="M260.3 84.5l.2 2.2 .6 .3 -.2-2.1z"/>
<path class="k5" d="M260.1 81.3l.2 3.2 .6 .4 -.2-3.1z"/>
<path class="k6" d="M259.9 77.3l.2 4 .6 .5 -.2-3.8z"/>
<path class="k7" d="M259.9 77l0 .3 .6 .7 0-.4z"/>
<path class="k8" d="M259.6 71.3l.3 5.7 .6 .6 -.3-5.3z"/>
<path class="k10" d="M259.4 64.5l.2 6.8 .6 1 -.2-6.6z"/>
<path class="k11" d="M259.1 56.8l.3 7.7 .6 1.2 -.3-7.4z"/>
<path class="k13" d="M258.9 48.6l.2 8.2 .6 1.5 -.2-7.8z"/>
<path class="k14" d="M258.9 48l0 .6 .6 1.9 0-.6z"/>
<path class="k15" d="M258.6 40.7l.3 7.3 .6 1.9 -.2-7z"/>
<path class="k16" d="M258.4 34l.2 6.7 .7 2.2 -.3-6.4z"/>
<path class="k17" d="M258.1 29.2l.3 4.8 .6 2.5 -.2-4.6z"/>
<path class="k18" d="M257.7 27.9l.2-.8 .2 2.1 .7 2.7 -.2-2 -.3 .7z"/>
<path class="k17" d="M257.5 33.2l.2-5.3 .6 2.7 -.2 5.1z"/>
<path class="k16" d="M257.3 37.4l.2-4.2 .6 2.5 -.1 4.1z"/>
<path class="k15" d="M257.2 45l.1-7.6 .7 2.4 -.2 7.2z"/>
<path class="k14" d="M257 53.3l.2-8.3 .6 2 -.2 8z"/>
<path class="k12" d="M256.9 61.5l.1-8.2 .6 1.7 -.1 7.8z"/>
<path class="k11" d="M256.8 65.4l.1-3.9 .6 1.3 -.1 3.8z"/>
<path class="k10" d="M256.7 69l.1-3.6 .6 1.2 -.1 3.5z"/>
<path class="k9" d="M256.5 75.4l.2-6.4 .6 1.1 -.2 6.1z"/>
<path class="k7" d="M256.4 80.6l.1-5.2 .6 .8 -.1 5z"/>
<path class="k6" d="M256.2 84.5l.2-3.9 .6 .6 -.2 3.8z"/>
<path class="k4" d="M256 87.4l.2-2.9 .6 .5 -.2 2.7z"/>
<path class="k3" d="M255.8 89.4l.2-2 .6 .3 -.2 1.9z"/>
<path class="k2" d="M255.6 90.7l.2-1.3 .6 .2 -.2 1.3z"/>
<path class="k1" d="M255.2 92l.4-1.3 .6 .2 -.4 1.3z"/>
<path class="k0" d="M244.4 96.3l1.9-.3 7.2-2.8 1.1-.5 .6-.7 .6 .2 -.6 .7 -1.1 .5 -7.2 2.8 -1.9 .3z"/>
<path class="k1" d="M243 95.7l.6 .3z"/>
<path class="k2" d="M239.2 97.4l1.4-1.8 .5-.3 1-.1 1.5 .8 -.9-.4 -1 0 -.9 .8 -1 1.3z"/>
<path class="k1" d="M237.8 99.1l1.4-1.7 .6 .3 -1.4 1.6z"/>
<path class="k0" d="M228.9 102.8l1-.2 5.5-2.2 2.4-1.3 .6 .2 -1.4 .9 -6.5 2.6 -1 .1z"/>
<path class="k1" d="M228.3 102.2l.6 .6 .6 .1 -.5-.5z"/>
<path class="k2" d="M227.8 100.9l.5 1.3 .7 .2 -.6-1.4z"/>
<path class="k3" d="M227.2 99l.6 1.9 .6 .1 -.6-1.9z"/>
<path class="k4" d="M226.2 98.6l.5-.8 .5 1.2 .6 .1 -.5-1.1 -.5 .8z"/>
<path class="k3" d="M225.7 100.8l.5-2.2 .6 .2 -.5 2.2z"/>
<path class="k2" d="M225.2 102.9l.5-2.1 .6 .2 -.4 2.1z"/>
<path class="k1" d="M224.7 104.2l.5-1.3 .7 .2 -.5 1.3z"/>
<path class="k0" d="M206.1 112.1l17.1-6.8 1-.5 .5-.6 .7 .2 -.5 .6 -1.1 .5 -17.1 6.8z"/>
<path class="k0" d="M261.9 89.9l.7 0 2.5-1 .6 .2 -2.5 1 -.7-.1z"/>
<path class="k1" d="M261.5 89.2l.4 .7 .6 .1 -.4-.6z"/>
<path class="k2" d="M261.3 88.3l.2 .9 .6 .2 -.2-.8z"/>
<path class="k3" d="M260.9 85.3l.4 3 .6 .3 -.4-2.9z"/>
<path class="k4" d="M260.9 84.9l0 .4 .6 .4 0-.4z"/>
<path class="k5" d="M260.7 81.8l.2 3.1 .6 .4 -.2-3z"/>
<path class="k6" d="M260.5 78l.2 3.8 .6 .5 -.2-3.6z"/>
<path class="k7" d="M260.5 77.6l0 .4 .6 .7 0-.4z"/>
<path class="k8" d="M260.2 72.3l.3 5.3 .6 .7 -.3-5.1z"/>
<path class="k9" d="M260 65.7l.2 6.6 .6 .9 -.2-6.3z"/>
<path class="k11" d="M259.7 58.3l.3 7.4 .6 1.2 -.2-7.1z"/>
<path class="k13" d="M259.5 50.5l.2 7.8 .7 1.5 -.3-7.5z"/>
<path class="k14" d="M259.3 42.9l.2 7.6 .6 1.8 -.2-7.2z"/>
<path class="k16" d="M259 35.5l.3 7.4 .6 2.2 -.3-7.1z"/>
<path class="k17" d="M258.1 34.1l.2-3.5 .3-.7 .4 5.6 .6 2.5 -.4-5.4 -.2 .8 -.2 3.3z"/>
<path class="k16" d="M258 39.8l.1-5.7 .7 2.6 -.2 5.4z"/>
<path class="k15" d="M257.8 47l.2-7.2 .6 2.3 -.2 7z"/>
<path class="k14" d="M257.7 50.4l.1-3.4 .6 2.1 -.1 3.2z"/>
<path class="k13" d="M257.6 55l.1-4.6 .6 1.9 -.1 4.4z"/>
<path class="k12" d="M257.5 62.8l.1-7.8 .6 1.7 -.1 7.5z"/>
<path class="k11" d="M257.4 66.6l.1-3.8 .6 1.4 -.1 3.6z"/>
<path class="k10" d="M257.3 70.1l.1-3.5 .6 1.2 -.1 3.3z"/>
<path class="k9" d="M257.1 76.2l.2-6.1 .6 1 -.2 5.9z"/>
<path class="k7" d="M257 79.2l.1-3 .6 .8 -.1 2.9z"/>
<path class="k6" d="M257 81.2l0-2 .6 .7 0 1.9z"/>
<path class="k5" d="M256.8 85l.2-3.8 .6 .6 -.2 3.6z"/>
<path class="k4" d="M256.6 87.7l.2-2.7 .6 .4 -.2 2.7z"/>
<path class="k3" d="M256.4 89.6l.2-1.9 .6 .4 -.2 1.8z"/>
<path class="k2" d="M256.2 90.9l.2-1.3 .6 .3 -.2 1.2z"/>
<path class="k1" d="M255.8 92.2l.4-1.3 .6 .2 -.4 1.3z"/>
<path class="k0" d="M245 96.5l1.9-.3 7.2-2.8 1.1-.5 .6-.7 .6 .2 -.6 .6 -1.1 .5 -7.2 2.9 -1.9 .3z"/>
<path class="k1" d="M243.6 96l2 .7 -1.4-.4z"/>
<path class="k2" d="M239.8 97.7l1-1.3 .9-.8 .5-.1 .9 .3 1.1 .5 -.9-.4 -1 .1 -.9 .8 -1 1.2z"/>
<path class="k1" d="M238.4 99.3l1.4-1.6 .6 .3 -1.4 1.5z"/>
<path class="k0" d="M229.5 102.9l1-.1 5.5-2.2 2.4-1.3 .6 .2 -1.4 .8 -6.5 2.7 -1 .1z"/>
<path class="k1" d="M229 102.4l.5 .5 .6 .2 -.5-.5z"/>
<path class="k2" d="M228.4 101l.6 1.4 .6 .2 -.6-1.4z"/>
<path class="k3" d="M227.8 99.1l.6 1.9 .6 .2 -.6-1.9z"/>
<path class="k4" d="M226.8 98.8l.5-.8 .5 1.1 .6 .2 -.5-1.1 -.5 .8z"/>
<path class="k3" d="M226.3 101l.5-2.2 .6 .2 -.5 2.2z"/>
<path class="k2" d="M225.9 103.1l.4-2.1 .6 .2 -.4 2.1z"/>
<path class="k1" d="M225.4 104.4l.5-1.3 .6 .2 -.5 1.3z"/>
<path class="k0" d="M206.7 112.3l17.1-6.8 1.1-.5 .5-.6 .6 .2 -.5 .5 -1.1 .6 -17 6.8z"/>
<path class="k0" d="M262.4 89.9l.5 .2 2.8-1 .6 .1 -2.6 1 -.7-.1z"/>
<path class="k1" d="M262.1 89.4l.3 .5 .6 .2 -.3-.4z"/>
<path class="k2" d="M261.7 87.3l.4 2.1 .6 .3 -.4-1.8z"/>
<path class="k3" d="M261.5 85.7l.2 1.6 .6 .6 -.2-1.4z"/>
<path class="k4" d="M261.5 85.3l0 .4 .6 .8 0-.3z"/>
<path class="k5" d="M261.3 82.3l.2 3 .6 .9 -.2-2.5z"/>
<path class="k6" d="M261.1 78.3l.2 4 .6 1.4 -.2-3.4z"/>
<path class="k7" d="M260.8 73.2l.3 5.1 .6 2 -.3-4.4z"/>
<path class="k9" d="M260.6 66.9l.2 6.3 .6 2.7 -.2-5.4z"/>
<path class="k11" d="M260.4 59.8l.2 7.1 .6 3.6 -.2-6z"/>
<path class="k12" d="M260.1 52.3l.3 7.5 .6 4.7 -.2-6.4z"/>
<path class="k13" d="M260.1 51.8l.6 5.8z"/>
<path class="k14" d="M259.9 45.1l.2 6.7 .6 5.8 -.2-5.7z"/>
<path class="k15" d="M259.6 38l.3 7.1 .6 6.8 -.3-6z"/>
<path class="k16" d="M258.7 38.2l.3-4.8 .2-.8 .2 2 .8 11.3 -.4-4.6 -.4 4.9z"/>
<path class="k15" d="M258.6 42.1l.1-3.9 .7 8 -.2 3.3z"/>
<path class="k14" d="M258.4 49.1l.2-7 .6 7.4 -.1 5.9z"/>
<path class="k13" d="M258.2 56.7l.2-7.6 .7 6.3 -.2 6.5z"/>
<path class="k11" d="M258.1 64.2l.1-7.5 .7 5.2 -.2 6.4z"/>
<path class="k10" d="M258 67.8l.1-3.6 .6 4.1 -.1 3.1z"/>
<path class="k9" d="M257.9 71.1l.1-3.3 .6 3.6 -.1 2.9z"/>
<path class="k8" d="M257.7 77l.2-5.9 .6 3.2 -.1 5z"/>
<path class="k7" d="M257.6 79.9l.1-2.9 .7 2.3 -.2 2.5z"/>
<path class="k6" d="M257.6 81.8l0-1.9 .6 1.9 0 1.6z"/>
<path class="k5" d="M257.4 85.4l.2-3.6 .6 1.6 -.2 3.2z"/>
<path class="k4" d="M257.2 87.3l.2-1.9 .6 1.2 -.2 1.6z"/>
<path class="k3" d="M257 89.9l.2-2.6 .6 .9 -.2 2.2z"/>
<path class="k2" d="M256.8 91.1l.2-1.2 .6 .5 -.2 1.1z"/>
<path class="k1" d="M256.4 92.4l.4-1.3 .6 .4 -.4 1.1z"/>
<path class="k0" d="M245.6 96.7l1.9-.3 7.2-2.9 1.1-.5 .6-.6 .6 .2 -.9 .7 -8 3.2 -1.9 .4z"/>
<path class="k1" d="M244.2 96.3l2 .6 -1.4-.3z"/>
<path class="k2" d="M240.4 98l1-1.2 .9-.8 .5-.2 .9 .3 1.1 .5 -.9-.4 -1 .1 -.9 .8 -1 1.1z"/>
<path class="k1" d="M239 99.5l1.4-1.5 .6 .2 -1.4 1.5z"/>
<path class="k0" d="M230.1 103.1l1-.1 5-2 2.9-1.5 .6 .2 -1.4 .8 -6.5 2.6 -1 .2z"/>
<path class="k1" d="M229.6 102.6l.5 .5 .6 .2 -.5-.5z"/>
<path class="k2" d="M229 101.2l.6 1.4 .6 .2 -.6-1.4z"/>
<path class="k3" d="M228.4 99.3l.6 1.9 .6 .2 -.5-1.9z"/>
<path class="k4" d="M227.4 99l.5-.8 .5 1.1 .7 .2 -.6-1.1 -.5 .8z"/>
<path class="k3" d="M226.9 101.2l.5-2.2 .6 .2 -.4 2.2z"/>
<path class="k2" d="M226.5 103.3l.4-2.1 .7 .2 -.5 2.1z"/>
<path class="k1" d="M226 104.6l.5-1.3 .6 .2 -.5 1.3z"/>
<path class="k0" d="M207.4 112.5l17-6.8 1.1-.6 .5-.5 .6 .2 -.5 .5 -1.1 .5 -17 6.9z"/>
<path class="k0" d="M263.1 90.2l.6 0 2.8-.9 -2.5 .8 -.7 0z"/>
<path class="k1" d="M262.7 89.7l.4 .5 .2-.1 -.4-.6z"/>
<path class="k2" d="M262.3 87.9l.4 1.8 .2-.2 -.4-1.8z"/>
<path class="k3" d="M262.1 86.5l.2 1.4 .2-.2 -.2-1.3z"/>
<path class="k4" d="M261.9 83.7l.2 2.8 .2-.1 -.2-2.8z"/>
<path class="k5" d="M261.7 80.6l.2 3.1 .2-.1 -.2-3z"/>
<path class="k6" d="M261.7 80.3l0 .3 .2 0 0-.2z"/>
<path class="k7" d="M261.4 75.9l.3 4.4 .2 .1 -.3-4.3z"/>
<path class="k8" d="M261.2 70.5l.2 5.4 .2 .2 -.2-5.1z"/>
<path class="k10" d="M261 64.5l.2 6 .2 .5 -.2-5.8z"/>
<path class="k11" d="M260.8 58.1l.2 6.4 .2 .7 -.2-6.1z"/>
<path class="k12" d="M260.7 57.6l.2 1.1z"/>
<path class="k13" d="M260.5 51.9l.2 5.7 .2 1.1 -.2-5.4z"/>
<path class="k14" d="M260.2 45.9l.3 6 .2 1.4 -.2-5.8z"/>
<path class="k15" d="M259.4 46.2l.2-4.2 .2-.6 .7 6.1 -.5-4.5 -.4 4.4z"/>
<path class="k14" d="M259.2 49.5l.2-3.3 .2 1.2 -.1 3.1z"/>
<path class="k13" d="M259 58.1l.2-8.6 .3 1 -.3 8z"/>
<path class="k12" d="M258.9 61.9l.1-3.8 .2 .4 -.1 3.5z"/>
<path class="k11" d="M258.7 68.3l.2-6.4 .2 .1 -.2 6.1z"/>
<path class="k10" d="M258.6 71.4l.1-3.1 .2-.2 -.1 2.8z"/>
<path class="k9" d="M258.5 74.3l.1-2.9 .2-.5 -.1 2.7z"/>
<path class="k8" d="M258.4 79.3l.1-5 .2-.7 -.2 4.7z"/>
<path class="k7" d="M258.2 81.8l.2-2.5 .1-1 -.1 2.4z"/>
<path class="k6" d="M258.2 83.4l0-1.6 .2-1.1 0 1.5z"/>
<path class="k5" d="M258 86.6l.2-3.2 .2-1.2 -.2 2.9z"/>
<path class="k4" d="M257.8 88.9l.2-1.7z"/>
<path class="k3" d="M257.4 91.3l.6-4.1 -.4 2.1z"/>
<path class="k2" d="M256.8 92.9l.6-1.4 .2-2.2 -.6 1.5z"/>
<path class="k1" d="M251.3 95.3l4.4-1.8 1.1-.6 .2-2.1 -2.4 1.3 -3.1 2.4z"/>
<path class="k0" d="M246.2 96.9l1.4-.2 3.7-1.4 .2-.8 -3.2 1.9 -1.9 .5z"/>
<path class="k1" d="M244.8 96.6l1.6 .3 -1.4-.3z"/>
<path class="k2" d="M241.5 97.6l1.4-1.3 1-.1 1.1 .4 -.9-.3 -1 .1 -1.4 1.3z"/>
<path class="k1" d="M240.1 99.3l1.4-1.7 .2 .1 -1.4 1.6z"/>
<path class="k0" d="M230.7 103.3l1-.2 6-2.4 1.4-.7 1-.7 .2 0 -.5 .4 -1.9 1.1 -6 2.4 -1 .2z"/>
<path class="k1" d="M230.2 102.8l.5 .5 -.3-.4z"/>
<path class="k2" d="M229.6 101.4l.6 1.4 .2 .1 -.6-1.3z"/>
<path class="k3" d="M229.1 99.5l.5 1.9 .2 .2 -.5-1.9z"/>
<path class="k4" d="M228 99.2l.5-.8 .8 1.3 -.6-1.1 -.5 .8z"/>
<path class="k3" d="M227.6 101.4l.4-2.2 .2 .2 -.4 2.2z"/>
<path class="k2" d="M227.1 103.5l.5-2.1 .2 .2 -.5 2z"/>
<path class="k1" d="M226.6 104.8l.5-1.3 .2 .1 -.5 1.2z"/>
<path class="k0" d="M208 112.7l17-6.9 1.1-.5 .5-.5 .2 0 -1 .9 -17.6 7.1z"/>
<path class="k0" d="M263.7 90.2l2.8-.9 .4 0 -1.7 .5 -1.1 .1z"/>
<path class="k1" d="M262.9 89.5l.6 .6 .6-.2 -.4-.2 -.4-.6z"/>
<path class="k2" d="M262.7 88.8l.2 .7 .4-.4 -.2-.7z"/>
<path class="k3" d="M262.3 86.4l.4 2.4 .4-.4 -.4-2.3z"/>
<path class="k4" d="M262.1 83.6l.2 2.8 .4-.3 -.2-2.6z"/>
<path class="k6" d="M261.9 80.4l.2 3.2 .4-.1 -.2-3z"/>
<path class="k7" d="M261.6 76.1l.3 4.3 .4 .1 -.3-3.8z"/>
<path class="k8" d="M261.4 71l.2 5.1 .4 .6 -.2-4.7z"/>
<path class="k10" d="M261.2 65.2l.2 5.8 .4 1 -.2-5.2z"/>
<path class="k11" d="M261 59.1l.2 6.1 .4 1.6 -.2-5.5z"/>
<path class="k12" d="M260.7 53.3l.3 5.8 .4 2.2 -.3-5.3z"/>
<path class="k13" d="M260.5 48.3l.2 5 .4 2.7 -.2-4.6z"/>
<path class="k14" d="M260.3 44.7l.2 3.6 .4 3.1 -.2-3.3z"/>
<path class="k15" d="M259.6 46.2l.2-2.6 .3-.5 .6 5 -.3-1.7 -.3 2.5z"/>
<path class="k14" d="M259.5 50.5l.1-4.3 .5 2.7 -.2 3.6z"/>
<path class="k13" d="M259.3 56l.2-5.5 .4 2 -.2 4.7z"/>
<path class="k12" d="M259.1 62l.2-6 .4 1.2 -.2 5.2z"/>
<path class="k11" d="M258.9 68.1l.2-6.1 .4 .4 -.2 5.1z"/>
<path class="k10" d="M258.8 70.9l.1-2.8 .4-.6 -.1 2.5z"/>
<path class="k9" d="M258.7 73.6l.1-2.7 .4-.9 -.1 2.3z"/>
<path class="k8" d="M258.5 78.3l.2-4.7 .4-1.3 -.2 4z"/>
<path class="k7" d="M258.4 82.2l.1-3.9 .4-2 -.2 3.2z"/>
<path class="k6" d="M258.2 85.1l.2-2.9 .3-2.7 -.1 2.5z"/>
<path class="k5" d="M257.8 88.6l.4-3.7z"/>
<path class="k4" d="M256.8 90.9l.4-.4 .4-1.2 .6-4.4 -.5 1.2 -.6 .5z"/>
<path class="k3" d="M252.8 93.5l2.2-1.6 1.8-1 .3-4.3 -.8 .4 -.9 .8 -2.2 3.1z"/>
<path class="k2" d="M251 94.8l1.8-1.3 .4-2.6 -1.8 2.7z"/>
<path class="k1" d="M248.7 96.2l2.3-1.4 .4-1.2 -2.3 2.3z"/>
<path class="k0" d="M246.4 96.9l1.4-.3 1.3-.7 -1.3 .8 -.9 .3z"/>
<path class="k1" d="M245 96.6l1.9 .4 -1.5-.2z"/>
<path class="k2" d="M241.7 97.7l1-1 .9-.4 1.8 .5 -.9-.3 -1 .2 -1.4 1.2z"/>
<path class="k1" d="M240.3 99.3l1.4-1.6 .4 .2 -1.4 1.6z"/>
<path class="k0" d="M230.9 103.4l1-.2 6-2.4 1.4-.7 1-.8 .4 .2 -1.9 1.2 -6.4 2.6 -1.1 .2z"/>
<path class="k1" d="M230.4 102.9l.5 .5 .4 .1 -.5-.4z"/>
<path class="k2" d="M229.8 101.6l.6 1.3 .4 .2 -.5-1.2z"/>
<path class="k3" d="M229.3 99.7l.5 1.9 .5 .3 -.6-1.7z"/>
<path class="k4" d="M228.2 99.4l.5-.8 1 1.6 -.5-1 -.5 .8z"/>
<path class="k3" d="M227.8 101.6l.4-2.2 .5 .6 -.5 1.9z"/>
<path class="k2" d="M227.3 103.6l.5-2 .4 .3 -.5 1.9z"/>
<path class="k1" d="M226.8 104.8l.5-1.2 .4 .2 -.5 1.2z"/>
<path class="k0" d="M208.2 112.8l17-6.9 1.1-.5 .5-.6 .4 .2 -1 .8 -17.6 7.1z"/>
<path class="k0" d="M265.2 89.8l1.7-.5 .6 .1 -1.7 .3z"/>
<path class="k1" d="M263.7 89.7l.7 .2 1.4-.2 -.9-.1 -.6-.5z"/>
<path class="k2" d="M263.1 88.6l.6 1.1 .6-.6 -.6-1.2z"/>
<path class="k3" d="M262.9 87.3l.2 1.3 .6-.7 -.2-1.3z"/>
<path class="k4" d="M262.7 85.8l.2 1.5 .6-.7 -.2-1.5z"/>
<path class="k5" d="M262.5 83.5l.2 2.3 .6-.7 -.2-2.1z"/>
<path class="k6" d="M262.3 80.5l.2 3 .6-.5 -.2-2.8z"/>
<path class="k7" d="M262 76.7l.3 3.8 .6-.3 -.3-3.5z"/>
<path class="k8" d="M261.8 72l.2 4.7 .6 0 -.2-4.2z"/>
<path class="k9" d="M261.6 66.8l.2 5.2 .6 .5 -.2-4.7z"/>
<path class="k11" d="M261.4 60.9l.2 5.9 .6 1 -.2-5.4z"/>
<path class="k12" d="M261.1 56l.3 4.9 .6 1.5 -.2-4.5z"/>
<path class="k13" d="M260.9 51.4l.2 4.6 .7 1.9 -.3-4.2z"/>
<path class="k14" d="M259.9 52.5l.2-3.6 .3-2.5 .5 5 .6 2.3 -.4-4.9 -.2 .1 -.2 1.5 -.2 2.9z"/>
<path class="k13" d="M259.7 57.2l.2-4.7 .6 .8 -.2 3.7z"/>
<path class="k12" d="M259.5 62.4l.2-5.2 .6-.2 -.2 4.2z"/>
<path class="k11" d="M259.3 67.5l.2-5.1 .6-1.2 -.2 4.2z"/>
<path class="k10" d="M259.1 72.3l.2-4.8 .6-2.1 -.2 3.9z"/>
<path class="k9" d="M258.9 76.3l.2-4 .6-3 -.2 3.3z"/>
<path class="k8" d="M258.7 79.5l.2-3.2 .6-3.7 -.2 2.5z"/>
<path class="k7" d="M258.4 83.7l.5-5.4z"/>
<path class="k6" d="M255.4 87.8l.9-.8 1.2-.7 .4-.7 .5-1.9 .5-5.4 -.6 1.6 -1.5 .6 -.9 1.1z"/>
<path class="k5" d="M253.6 90.2l1.8-2.4 .5-6.2 -1.7 4.2z"/>
<path class="k4" d="M252.3 92.3l1.3-2.1 .6-4.4 -1.3 3.7z"/>
<path class="k3" d="M251 94.1l1.3-1.8 .6-2.8 -1.4 3.1z"/>
<path class="k2" d="M249.6 95.5l1.4-1.4 .5-1.5 -1.3 2.3z"/>
<path class="k1" d="M245 96.6l1.4 .4 .9-.1 1.4-.7 1.5-1.3 -.9 1 -1.4 1 -.9 .2 -1.4-.2z"/>
<path class="k2" d="M242.1 97.9l1-.9 .9-.5 1.6 .4 -1.4 .1 -1.5 1.2z"/>
<path class="k1" d="M240.7 99.5l1.4-1.6 .6 .3 -1.4 1.5z"/>
<path class="k0" d="M231.3 103.5l1.1-.2 5.9-2.4 2.4-1.4 .6 .2 -1.9 1.2 -6.4 2.6 -1 .2z"/>
<path class="k1" d="M230.8 103.1l.5 .4 .7 .2 -.6-.3z"/>
<path class="k2" d="M230.3 101.9l.5 1.2 .6 .3 -.5-1.1z"/>
<path class="k3" d="M228.2 101.9l.5-1.9 .5-.8 .5 1 .6 1.7 .6 .4 -.6-1.4 -.5-.8 -.5 .6 -.5 1.8z"/>
<path class="k2" d="M227.7 103.8l.5-1.9 .6 .6 -.5 1.7z"/>
<path class="k1" d="M227.2 105l.5-1.2 .6 .4 -.5 1z"/>
<path class="k0" d="M208.6 112.9l17.1-6.9 1-.5 .5-.5 .6 .2 -1 .8 -17.5 7.1z"/>
<path class="k0" d="M266.2 89.7l1.3-.3 .6 .1 -1.3 .2z"/>
<path class="k1" d="M264.9 89.6l1.9 .1 -1.3-.5z"/>
<path class="k2" d="M264.1 88.8l.8 .8 .6-.4 -.8-1z"/>
<path class="k3" d="M263.5 86.6l.6 2.2 .6-.6 -.6-2.3z"/>
<path class="k4" d="M263.3 85.1l.2 1.5 .6-.7 -.2-1.4z"/>
<path class="k5" d="M263.1 83l.2 2.1 .6-.6 -.2-2z"/>
<path class="k6" d="M262.9 80.2l.2 2.8 .6-.5 -.2-2.5z"/>
<path class="k7" d="M262.6 76.7l.3 3.5 .6-.2 -.2-3.2z"/>
<path class="k8" d="M262.4 72.5l.2 4.2 .7 .1 -.3-3.8z"/>
<path class="k9" d="M262.2 67.8l.2 4.7 .6 .5 -.2-4.3z"/>
<path class="k11" d="M262 62.4l.2 5.4 .6 .9 -.2-4.8z"/>
<path class="k12" d="M261.8 57.9l.2 4.5 .6 1.5 -.2-4z"/>
<path class="k13" d="M261.3 50.6l.5 7.3 .6 2 -.5-6.8z"/>
<path class="k14" d="M260.6 51.2l.3-2.3 .2-.1 .8 4.3 -.2-1.7 -.2-.3 -.3 1.5z"/>
<path class="k13" d="M260.3 57l.3-5.8 .6 1.4 -.3 4.3z"/>
<path class="k12" d="M260.1 61.2l.2-4.2 .6-.1 -.2 3.2z"/>
<path class="k11" d="M259.8 67.4l.3-6.2 .6-1.1 -.3 4.8z"/>
<path class="k10" d="M259.5 72.6l.3-5.2 .6-2.5 -.3 3.9z"/>
<path class="k9" d="M259.1 77l.4-4.4 .6-3.8 -.4 3.2z"/>
<path class="k8" d="M255.5 82.5l1.3-2 1.5-.6 .4-.7 1-7.2 -.6 1.5 -1.1-.1 -.6 .4 -.5 .7 -.8 2.1z"/>
<path class="k7" d="M254.6 84.6l.9-2.1 .6-5.9 -.9 3.1z"/>
<path class="k6" d="M253.3 88.3l1.3-3.7 .6-4.9 -1.3 5.2z"/>
<path class="k5" d="M252.4 90.6l.9-2.3 .6-3.4 -.9 3.3z"/>
<path class="k4" d="M251.5 92.6l.9-2 .6-2.4 -.9 2.8z"/>
<path class="k3" d="M250.6 94.2l.9-1.6 .6-1.6 -.9 2.3z"/>
<path class="k2" d="M249.3 95.9l1.9-2.6 -1.3 2.3z"/>
<path class="k1" d="M245.6 96.9l1.9 .2 .9-.4 1.5-1.1 -.9 1 -.9 .5 -1 .1 -.9-.1z"/>
<path class="k2" d="M242.7 98.2l1.5-1.2 .9-.2 1.1 .3 -1.4 .1 -1.4 1.2z"/>
<path class="k1" d="M241.3 99.7l1.4-1.5 .7 .2 -1.5 1.5z"/>
<path class="k0" d="M232 103.7l1-.2 5.9-2.4 2.4-1.4 .6 .2 -2.4 1.4 -5.9 2.4 -1 .2z"/>
<path class="k1" d="M230.9 102.3l.5 1.1 1.2 .5 -.5-.2 -.6-.9z"/>
<path class="k2" d="M230.3 100.9l.6 1.4 .6 .5 -.5-1.2z"/>
<path class="k3" d="M228.8 102.5l.5-1.8 .5-.6 1.2 1.5 -.6-.7 -.5 .6 -.4 1.6z"/>
<path class="k2" d="M228.3 104.2l.5-1.7 .7 .6 -.5 1.5z"/>
<path class="k1" d="M227.8 105.2l.5-1 .7 .4 -.5 .9z"/>
<path class="k0" d="M209.3 113.1l17-6.9 1-.5 .5-.5 .7 .3 -1.1 .7 -17.5 7.1z"/>
<path class="k0" d="M267.2 89.6l1.3 0 -.9 .2z"/>
<path class="k1" d="M265.6 89.3l.8 .3 1.2 .2 -.8-.1 -.8-.3z"/>
<path class="k2" d="M264.8 88.4l.8 .9 .4 .1 -.8-.9z"/>
<path class="k3" d="M264.3 87l.5 1.4 .4 .1 -.5-1.3z"/>
<path class="k4" d="M263.9 84.8l.4 2.2 .4 .2 -.4-2z"/>
<path class="k5" d="M263.7 82.5l.2 2.3 .4 .4 -.2-2.1z"/>
<path class="k6" d="M263.5 80l.2 2.5 .4 .6 -.2-2.3z"/>
<path class="k7" d="M263.3 76.8l.2 3.2 .4 .8 -.2-2.9z"/>
<path class="k8" d="M263 73l.3 3.8 .4 1.1 -.2-3.5z"/>
<path class="k9" d="M262.8 68.7l.2 4.3 .5 1.4 -.3-3.8z"/>
<path class="k10" d="M262.6 64.2l.2 4.5 .4 1.9 -.2-4.1z"/>
<path class="k11" d="M262.4 59.9l.2 4.3 .4 2.3 -.2-4z"/>
<path class="k12" d="M262.2 56.1l.2 3.8 .4 2.6 -.2-3.5z"/>
<path class="k13" d="M260.9 56.9l.4-4.9 .2-.9 .2 .3 .9 7.6 -.4-4.2 -.3-.4 -.6 5.1z"/>
<path class="k12" d="M260.7 60.1l.2-3.2 .4 2.6 -.2 2.8z"/>
<path class="k11" d="M260.3 66.3l.4-6.2 .4 2.2 -.4 5.5z"/>
<path class="k10" d="M259.9 70.7l.4-4.4 .4 1.5 -.4 3.8z"/>
<path class="k9" d="M256.5 75.4l.9-1.6 .4-.3 1.1 .1 .4-.2 .6-2.7 .4 .9 -.6 2.3 -.4 .2 -1.1-.1 -.4 .3 -.9 1.6z"/>
<path class="k8" d="M255.2 79.7l1.3-4.3 .4 .5 -1.3 4.2z"/>
<path class="k7" d="M254.3 83.2l.9-3.5 .4 .4 -.9 3.4z"/>
<path class="k6" d="M253.5 86.6l.8-3.4 .4 .3 -.8 3.4z"/>
<path class="k5" d="M252.6 89.7l.9-3.1 .4 .3 -.9 3z"/>
<path class="k4" d="M252.1 91l.5-1.3 .4 .2 -.5 1.3z"/>
<path class="k3" d="M250.8 94.2l1.3-3.2 .4 .2 -1.3 3.1z"/>
<path class="k2" d="M249.9 95.6l.9-1.4 .4 .1 -.9 1.4z"/>
<path class="k1" d="M246.2 97.1l.9 .1 1-.1 .9-.5 .9-1 .4 .1 -1.4 1.3 -.9 .3 -1.4-.1z"/>
<path class="k2" d="M243.4 98.4l1.4-1.2 1.4-.1 .4 .1 -1.4 .1 -1.4 1.2z"/>
<path class="k1" d="M241.9 99.9l1.5-1.5 .4 .1 -1.4 1.5z"/>
<path class="k0" d="M232.1 103.7l.5 .2 1-.2 6.4-2.6 1.9-1.2 .5 .1 -2 1.2 -6.4 2.6 -1 .3 -.5-.2z"/>
<path class="k1" d="M231.5 102.8l.6 .9 .4 .2 -.6-.8z"/>
<path class="k2" d="M231 101.6l.5 1.2 .4 .3 -.5-1z"/>
<path class="k3" d="M229.9 101.5l.5-.6 1 1.2 -.5-.6 -.5 .6z"/>
<path class="k2" d="M229 104.6l.9-3.1 .5 .6 -1 2.7z"/>
<path class="k1" d="M228.5 105.5l.5-.9 .4 .2 -.5 .8z"/>
<path class="k0" d="M209.9 113.3l17-6.9 1.1-.5 .5-.4 .4 .1 -1 .7 -17.6 7.2z"/>
<path class="k0" d="M267.6 89.8l1.1-.1 -.9 .1z"/>
<path class="k1" d="M266 89.4l.8 .3 1 .1 -.8 0 -.8-.3z"/>
<path class="k2" d="M265.1 88.4l.9 1 .2 .1 -.9-1z"/>
<path class="k3" d="M264.7 87.2l.4 1.2 .2 .1 -.4-1.2z"/>
<path class="k4" d="M264.3 84.9l.4 2.3 .2 .1 -.4-2.2z"/>
<path class="k5" d="M264.1 83.1l.2 1.8 .2 .2 -.2-1.7z"/>
<path class="k6" d="M263.9 80.8l.2 2.3 .2 .3 -.2-2.2z"/>
<path class="k7" d="M263.7 77.9l.2 2.9 .2 .4 -.2-2.8z"/>
<path class="k8" d="M263.5 74.4l.2 3.5 .2 .5 -.2-3.3z"/>
<path class="k9" d="M263.2 70.6l.3 3.8 .2 .7 -.3-3.6z"/>
<path class="k10" d="M263 66.2l.2 4.4 .2 .9 -.2-4.2z"/>
<path class="k11" d="M262.8 62.5l.2 3.7 .2 1.1 -.2-3.5z"/>
<path class="k12" d="M262.4 56.4l.4 6.1 .2 1.3 -.4-5.9z"/>
<path class="k13" d="M261.5 57l.4-2.6 .3 .4 .4 3.1 -.2-1.5 -.2-.4 -.5 2.4z"/>
<path class="k12" d="M261.1 62.3l.4-5.3 .2 1.4 -.4 5z"/>
<path class="k11" d="M260.8 66.5l.3-4.2 .2 1.1 -.3 3.9z"/>
<path class="k10" d="M260.4 71l.4-4.5 .2 .8 -.4 4.2z"/>
<path class="k9" d="M256.9 75.9l.9-1.6 .4-.3 1.1 .1 .4-.2 .4-1.1 .3-1.8 .2 .5 -.1 .6 -.6 2.1 -.4 .2 -1.1-.2 -.4 .3 -.9 1.6z"/>
<path class="k8" d="M255.6 80.1l1.3-4.2 .2 .2 -1.3 4.2z"/>
<path class="k7" d="M254.7 83.5l.9-3.4 .2 .2 -.9 3.4z"/>
<path class="k6" d="M253.9 86.9l.8-3.4 .2 .2 -.8 3.3z"/>
<path class="k5" d="M253.4 88.5l.5-1.6 .2 .1 -.5 1.6z"/>
<path class="k4" d="M252.5 91.2l.9-2.7 .2 .1 -.9 2.7z"/>
<path class="k3" d="M251.7 93.5l.8-2.3 .2 .1 -.8 2.2z"/>
<path class="k2" d="M250.3 95.7l1.4-2.2 .2 0 -1.4 2.3z"/>
<path class="k1" d="M246.6 97.2l.9 .1 1-.1 .9-.5 .9-1 .2 .1 -.4 .5 -1.4 1 -1 .1 -.9-.1z"/>
<path class="k2" d="M243.8 98.5l1.4-1.2 1.4-.1 -1.2 .2 -1.4 1.2z"/>
<path class="k1" d="M242.4 100l1.4-1.5 .2 .1 -1.4 1.4z"/>
<path class="k0" d="M232.5 103.9l.5 .2 1-.3 5.9-2.4 2.5-1.4 .2 0 -2 1.2 -6.4 2.7 -1 .2 -.5-.1z"/>
<path class="k1" d="M231.9 103.1l.6 .8 .2 .1 -.6-.7z"/>
<path class="k2" d="M231.4 102.1l.5 1 .2 .2 -.5-1z"/>
<path class="k3" d="M230.4 102.1l.5-.6 .7 .8 -.5-.5 -.5 .5z"/>
<path class="k2" d="M229.9 103.5l.5-1.4 .2 .2 -.5 1.3z"/>
<path class="k1" d="M228.9 105.6l1-2.1 .2 .1 -1 2.1z"/>
<path class="k0" d="M210.3 113.5l17-7 1.6-.9 .2 .1 -1 .7 -17.6 7.2z"/>
<path class="k0" d="M267.8 89.8l.9-.1 .6 .1 -.9 .2z"/>
<path class="k1" d="M266.2 89.5l2.2 .5 -.8 0 -.8-.3z"/>
<path class="k2" d="M265.3 88.5l.9 1 .6 .2 -.9-.9z"/>
<path class="k3" d="M264.7 86.4l.6 2.1 .6 .3 -.6-1.9z"/>
<path class="k4" d="M264.5 85.1l.2 1.3 .6 .5 -.2-1.1z"/>
<path class="k5" d="M264.1 81.4l.4 3.7 .6 .7 -.4-3.2z"/>
<path class="k6" d="M263.9 78.4l.2 3 .6 1.2 -.2-2.5z"/>
<path class="k7" d="M263.7 75.1l.2 3.3 .6 1.7 -.2-2.8z"/>
<path class="k8" d="M263.4 71.5l.3 3.6 .6 2.2 -.2-3.1z"/>
<path class="k9" d="M263.2 67.6l.2 3.9 .7 2.7 -.3-3.3z"/>
<path class="k10" d="M263 63.8l.2 3.8 .6 3.3 -.2-3.2z"/>
<path class="k11" d="M262.8 60l.2 3.8 .6 3.9 -.2-3.2z"/>
<path class="k12" d="M261.5 60.8l.4-4.1 .3-.7 .2 .4 1 8.1 -.4-3.1 -.2-.5 -.3 .9 -.3 2.8z"/>
<path class="k11" d="M261.1 66.1l.4-5.3 .7 3.8 -.4 4.2z"/>
<path class="k10" d="M260.7 70.6l.4-4.5 .7 2.7 -.4 3.5z"/>
<path class="k9" d="M257.6 75.2l.8-1 1.1 .2 .4-.2 .4-1 .4-2.6 .7 1.7 -.6 2.4 -.4 .5 -1.3-.3 -.9 1z"/>
<path class="k8" d="M255.8 80.3l.9-3 .9-2.1 .6 .7 -.9 2 -.9 3z"/>
<path class="k7" d="M254.9 83.7l.9-3.4 .6 .6 -.8 3.3z"/>
<path class="k6" d="M254.1 87l.8-3.3 .7 .5 -.9 3.2z"/>
<path class="k5" d="M253.6 88.6l.5-1.6 .6 .4 -.5 1.6z"/>
<path class="k4" d="M252.7 91.3l.9-2.7 .6 .4 -.8 2.6z"/>
<path class="k3" d="M251.9 93.5l.8-2.2 .7 .3 -.9 2.2z"/>
<path class="k2" d="M250.5 95.8l1.4-2.3 .6 .3 -1.4 2.2z"/>
<path class="k1" d="M246.8 97.3l.9 .1 1-.1 .9-.5 .9-1 .6 .2 -1.3 1.3 -1 .3 -1.4-.2z"/>
<path class="k2" d="M244 98.6l1.4-1.2 1.4-.1 .6 .1 -1.4 .2 -1.4 1.2z"/>
<path class="k1" d="M242.6 100l1.4-1.4 .6 .2 -1.4 1.4z"/>
<path class="k0" d="M232.7 104l.5 .1 .5 0 6.9-2.9 2-1.2 .6 .2 -1.9 1.2 -5.5 2.3 -1.5 .6 -1 0z"/>
<path class="k1" d="M232.1 103.3l.6 .7 .6 .3 -.5-.5z"/>
<path class="k2" d="M230.1 103.6l.5-1.3 .5-.5 .5 .5 .5 1 .7 .5 -1.1-1.2 -.5 .5 -.5 1.1z"/>
<path class="k1" d="M229.1 105.7l1-2.1 .6 .6 -1 1.8z"/>
<path class="k0" d="M210.5 113.6l17-7 1.6-.9 .6 .3 -1 .6 -17.5 7.2z"/>
<path class="k0" d="M268.4 90l.9-.2 .6 .2 -.9 .1z"/>
<path class="k1" d="M266.7 89.6l.9 .4 1.4 .1 -.8 0 -.9-.3z"/>
<path class="k2" d="M265.9 88.8l.8 .8 .6 .2 -.8-.8z"/>
<path class="k3" d="M265.3 86.9l.6 1.9 .6 .2 -.6-1.7z"/>
<path class="k4" d="M264.9 84.4l.4 2.5 .6 .4 -.4-2.4z"/>
<path class="k5" d="M264.7 82.6l.2 1.8 .6 .5 -.2-1.6z"/>
<path class="k6" d="M264.5 80.1l.2 2.5 .6 .7 -.2-2.4z"/>
<path class="k7" d="M264.3 77.3l.2 2.8 .6 .8 -.2-2.6z"/>
<path class="k8" d="M264.1 74.2l.2 3.1 .6 1 -.2-2.9z"/>
<path class="k9" d="M263.8 70.7l.3 3.5 .6 1.2 -.3-3.2z"/>
<path class="k10" d="M263.4 64.9l.4 5.8 .6 1.5 -.4-5.4z"/>
<path class="k11" d="M262.9 61.2l.5 3.7 .6 1.9 -.4-3.5z"/>
<path class="k12" d="M262.6 61.5l.2-.6 .1 .3 .7 2.1 -.2-.2 -.2 .4z"/>
<path class="k11" d="M262 66.7l.6-5.2 .6 2 -.6 4.8z"/>
<path class="k10" d="M261.6 70.7l.4-4 .6 1.6 -.4 3.6z"/>
<path class="k9" d="M260.8 74.7l.8-4 .6 1.2 -.4 2.6 -.4 1z"/>
<path class="k8" d="M259.9 75l.5 .2 .4-.5 .6 .8 -.4 .4 -.4-.1z"/>
<path class="k9" d="M258.2 75.9l.9-1 .8 .1 .7 .8 -.9-.2 -.9 1z"/>
<path class="k8" d="M256.9 79.3l1.3-3.4 .6 .7 -1.3 3.3z"/>
<path class="k7" d="M256 82.5l.9-3.2 .6 .6 -.9 3.1z"/>
<path class="k6" d="M255.1 85.8l.9-3.3 .6 .5 -.9 3.3z"/>
<path class="k5" d="M254.2 89l.9-3.2 .6 .5 -.8 3z"/>
<path class="k4" d="M253.4 91.6l.8-2.6 .7 .3 -.9 2.7z"/>
<path class="k3" d="M252.5 93.8l.9-2.2 .6 .4 -.9 2z"/>
<path class="k2" d="M251.1 96l1.4-2.2 .6 .2 -1.4 2.2z"/>
<path class="k1" d="M247.4 97.4l1 .2 .9-.1 .9-.5 .9-1 .6 .2 -1.3 1.2 -1 .4 -1.4-.2z"/>
<path class="k2" d="M244.6 98.8l1.4-1.2 1.4-.2 .6 .2 -1.4 .2 -1.4 1.2z"/>
<path class="k1" d="M243.2 100.2l1.4-1.4 .6 .2 -1.4 1.4z"/>
<path class="k0" d="M233.3 104.3l1 0 1.5-.6 5.5-2.3 1.9-1.2 .6 .2 -1.9 1.2 -5.4 2.2 -1.5 .6 -1.1 0z"/>
<path class="k1" d="M232.8 103.8l.5 .5 .6 .1 -.5-.4z"/>
<path class="k2" d="M230.7 104.2l.5-1.1 .5-.5 1.1 1.2 .6 .2 -1-1.1 -.6 .4 -.5 1.1z"/>
<path class="k1" d="M230.2 105.3l.5-1.1 .6 .2 -.4 1.1z"/>
<path class="k0" d="M211.2 113.8l17.5-7.2 1-.6 .5-.7 .7 .2 -.6 .6 -1 .7 -17.5 7.2z"/>
<path class="k0" d="M268.6 90.2l1.3-.2 .6 .1 -1.3 .2z"/>
<path class="k1" d="M267.3 89.8l.6 .2z"/>
<path class="k2" d="M266.5 89l.8 .8 .6 .2 -.8-.8z"/>
<path class="k3" d="M265.9 87.3l.6 1.7 .6 .2 -.6-1.6z"/>
<path class="k4" d="M265.5 84.9l.4 2.4 .6 .3 -.4-2.2z"/>
<path class="k5" d="M265.3 83.1l.2 1.8 .6 .5 -.2-1.6z"/>
<path class="k6" d="M265.1 80.9l.2 2.2 .6 .7 -.2-2.1z"/>
<path class="k7" d="M264.7 75.4l.4 5.5 .6 .8 -.4-5z"/>
<path class="k8" d="M264.5 72.4l.2 3 .6 1.3 -.2-2.8z"/>
<path class="k9" d="M264.2 69.4l.3 3 .6 1.5 -.2-2.7z"/>
<path class="k10" d="M264 66.4l.2 3 .7 1.8 -.3-2.9z"/>
<path class="k11" d="M262.8 66.3l.4-2.8 .2-.4 .2 .2 .4 3.1 .6 1.9 -.4-2.7 -.2-.4 -.2 .7 -.4 2.2z"/>
<path class="k10" d="M262.4 70.2l.4-3.9 .6 1.8 -.4 3.5z"/>
<path class="k9" d="M261.8 74.5l.6-4.3 .6 1.4 -.6 3.8z"/>
<path class="k8" d="M257.5 79.9l.9-2.4 .8-1.6 .7-.3 1.2 .2 .3-.3 .4-1 .6 .9 -.4 .9 -.4 .3 -1.1-.3 -.6 .4 -.9 1.4 -.9 2.5z"/>
<path class="k7" d="M256.6 83l.9-3.1 .6 .7 -.9 2.9z"/>
<path class="k6" d="M255.7 86.3l.9-3.3 .6 .5 -.9 3.2z"/>
<path class="k5" d="M254.9 89.3l.8-3 .6 .4 -.8 3z"/>
<path class="k4" d="M254 92l.9-2.7 .6 .4 -.9 2.6z"/>
<path class="k3" d="M253.1 94l.9-2 .6 .3 -.9 2z"/>
<path class="k2" d="M251.7 96.2l1.4-2.2 .6 .3 -1.3 2.1z"/>
<path class="k1" d="M248 97.6l1 .2 .9-.1 .9-.6 .9-.9 .7 .2 -1.4 1.2 -.9 .3 -1.4-.1z"/>
<path class="k2" d="M245.7 98.5l1.4-.9 1.6 .2 -1.5 .2 -.9 .7z"/>
<path class="k1" d="M243.8 100.4l1.9-1.9 .6 .2 -1.9 1.9z"/>
<path class="k0" d="M233.9 104.4l1.1 0 1.5-.6 5.4-2.2 1.9-1.2 .6 .2 -1.4 .9 -3.4 1.5 -4 1.6 -1 0z"/>
<path class="k1" d="M233.4 104l.5 .4 .7 .2 -.6-.4z"/>
<path class="k2" d="M231.3 104.4l.5-1.1 .6-.4 1 1.1 .6 .2 -1-1.1 -.5 .5 -.5 1z"/>
<path class="k1" d="M230.9 105.5l.4-1.1 .7 .2 -.5 1.1z"/>
<path class="k0" d="M211.8 114l17.5-7.2 1-.7 .6-.6 .6 .2 -.5 .6 -1.1 .7 -17.5 7.2z"/>
<path class="k0" d="M269.2 90.3l1.3-.2 .6 .2 -1.3 .2z"/>
<path class="k1" d="M267.9 90l1.9 .5 -1.3-.3z"/>
<path class="k2" d="M266.9 88.9l.4 .6 .6 .5 .6 .2 -.6-.5 -.4-.6z"/>
<path class="k3" d="M266.5 87.6l.4 1.3 .6 .2 -.4-1.1z"/>
<path class="k4" d="M266.1 85.4l.4 2.2 .6 .4 -.4-2.1z"/>
<path class="k5" d="M265.9 83.8l.2 1.6 .6 .5 -.2-1.5z"/>
<path class="k6" d="M265.5 79.4l.4 4.4 .6 .6 -.4-4z"/>
<path class="k7" d="M265.3 76.7l.2 2.7 .6 1 -.2-2.5z"/>
<path class="k8" d="M265.1 73.7l.2 3 .6 1.2 -.2-2.7z"/>
<path class="k9" d="M264.7 68.7l.4 5 .6 1.5 -.4-4.6z"/>
<path class="k10" d="M264.2 65.6l.5 3.1 .6 1.9 -.4-2.8z"/>
<path class="k11" d="M263.8 65.9l.2-.7 .2 .3 .7 2.3 -.3-.4 -.2 .5z"/>
<path class="k10" d="M263.2 69.8l.6-3.9 .6 2 -.6 3.5z"/>
<path class="k9" d="M262.6 74.4l.6-4.6 .6 1.6 -.6 4.1z"/>
<path class="k8" d="M258.5 79.2l1.4-2.5 .6-.4 1.1 .3 .4-.2 .6-2 .6 1.1 -.5 1.6 -.5 .2 -1.1-.3 -.6 .4 -1.3 2.5z"/>
<path class="k7" d="M257.2 83.5l1.3-4.3 .7 .7 -1.4 4.2z"/>
<path class="k6" d="M256.3 86.7l.9-3.2 .6 .6 -.8 3.1z"/>
<path class="k5" d="M255.5 89.7l.8-3 .7 .5 -.9 2.9z"/>
<path class="k4" d="M254.6 92.3l.9-2.6 .6 .4 -.9 2.5z"/>
<path class="k3" d="M253.7 94.3l.9-2 .6 .3 -.9 2z"/>
<path class="k2" d="M252.4 96.4l1.3-2.1 .6 .3 -1.3 2z"/>
<path class="k1" d="M248.7 97.8l.9 .1 .9-.1 .9-.5 1-.9 .6 .2 -1.4 1.2 -.9 .3 -1.4-.1z"/>
<path class="k2" d="M246.3 98.7l1.4-.9 1.6 .2 -1.4 .1 -1 .8z"/>
<path class="k1" d="M244.4 100.6l1.9-1.9 .6 .2 -1.9 1.9z"/>
<path class="k0" d="M234.6 104.6l1 0 4-1.6 3.4-1.5 1.4-.9 .6 .2 -1.4 .9 -2.9 1.3 -4.5 1.8 -1 0z"/>
<path class="k1" d="M234 104.2l.6 .4 .6 .2 -.5-.4z"/>
<path class="k2" d="M232 104.6l.5-1 .5-.5 1 1.1 .7 .2 -1.1-1.1 -.5 .5 -.5 1.1z"/>
<path class="k1" d="M231.5 105.7l.5-1.1 .6 .3 -.5 1z"/>
<path class="k0" d="M212.4 114.2l17.5-7.2 1.1-.7 .5-.6 .6 .2 -.5 .6 -1 .7 -17.5 7.2z"/>
<path class="k0" d="M269.8 90.5l1.3-.2 1.4 .4 -1.3 .2z"/>
<path class="k1" d="M268.3 90.1l.7 .3 2.2 .5 -1.5-.3z"/>
<path class="k2" d="M267.5 89.1l.8 1 1.4 .5 -.8-.9z"/>
<path class="k3" d="M266.9 87.3l.6 1.8 1.4 .6 -.5-1.6z"/>
<path class="k4" d="M266.7 85.9l.2 1.4 1.5 .8 -.3-1.2z"/>
<path class="k5" d="M266.3 82.6l.4 3.3 1.4 1 -.4-2.9z"/>
<path class="k6" d="M266.1 80.4l.2 2.2 1.4 1.4 -.2-2z"/>
<path class="k7" d="M265.9 77.9l.2 2.5 1.4 1.6 -.2-2.1z"/>
<path class="k8" d="M265.5 72.9l.4 5 1.4 2 -.4-4.4z"/>
<path class="k9" d="M265.1 68.9l.4 4 1.4 2.6 -.4-3.5z"/>
<path class="k10" d="M264 69.9l.4-2.2 .2-.3 .2 .2 .3 1.3 1.4 3.1 -.4-1.4 -.3 .5 -.3 1.6z"/>
<path class="k9" d="M263.4 74.3l.6-4.4 1.5 2.8 -.6 3.8z"/>
<path class="k8" d="M259.2 79.9l1.3-2.5 .6-.4 1.1 .3 .5-.2 .3-.8 .4-2 1.5 2.2 -.5 1.7 -.3 .6 -.3 .2 -1.2-.3 -.7 .3 -1.3 2.4z"/>
<path class="k7" d="M258.3 82.6l.9-2.7 1.4 1.5 -.9 2.5z"/>
<path class="k6" d="M257 87.2l1.3-4.6 1.4 1.3 -1.3 4.3z"/>
<path class="k5" d="M256.1 90.1l.9-2.9 1.4 1 -.9 2.7z"/>
<path class="k4" d="M255.2 92.6l.9-2.5 1.4 .8 -.8 2.4z"/>
<path class="k3" d="M254.3 94.6l.9-2 1.5 .7 -.9 1.9z"/>
<path class="k2" d="M253 96.6l1.3-2 1.5 .6 -1.4 1.9z"/>
<path class="k1" d="M249.3 98l.9 .1 .9-.1 1-.5 .9-.9 1.4 .5 -.9 .9 -1.4 .5 -1.4-.1z"/>
<path class="k2" d="M246.9 98.9l1.4-.9 1 0 1.4 .4 -1.4 .2 -.9 .7z"/>
<path class="k1" d="M245 100.8l1.9-1.9 1.5 .4 -1.9 1.9z"/>
<path class="k0" d="M235.2 104.8l1 0 4.5-1.8 2.9-1.3 1.4-.9 1.5 .4 -1.4 .9 -2.5 1.1 -4.9 2 -1 .1z"/>
<path class="k1" d="M234.7 104.4l.5 .4 1.5 .5 -.6-.4z"/>
<path class="k2" d="M232.6 104.9l.5-1.1 .5-.5 1.1 1.1 1.4 .5 -1-1 -.5 .4 -.5 1.1z"/>
<path class="k1" d="M232.1 105.9l.5-1 1.5 .5 -.5 .9z"/>
<path class="k0" d="M213.1 114.4l17.5-7.2 1-.7 .5-.6 1.5 .4 -.5 .7 -1 .6 -17.5 7.3z"/>
<path class="k0" d="M271.2 90.9l1.3-.2 2 .5 -1.2 .2z"/>
<path class="k1" d="M269.7 90.6l3.6 .8 -1.6-.2z"/>
<path class="k2" d="M268.8 89.4l.4 .7 .5 .5 2 .6 -.9-.9z"/>
<path class="k3" d="M268.3 87.9l.5 1.5 2 .9 -.4-1.2z"/>
<path class="k4" d="M267.9 85.6l.4 2.3 2.1 1.2 -.4-1.7z"/>
<path class="k5" d="M267.5 82l.4 3.6 2.1 1.8 -.4-2.5z"/>
<path class="k6" d="M267.3 79.9l.2 2.1 2.1 2.9 -.2-1.6z"/>
<path class="k7" d="M266.9 75.5l.4 4.4 2.1 3.4 -.4-3.2z"/>
<path class="k8" d="M266.5 72l.4 3.5 2.1 4.6 -.4-2.5z"/>
<path class="k9" d="M265.4 73.2l.5-2.3 .2-.3 .1 .2 .3 1.2 2.1 5.6 -.3-.9 -.1-.3 -.2 .1 -.5 1.3z"/>
<path class="k8" d="M264.4 78.2l1-5 2.1 4.6 -1 2.8z"/>
<path class="k7" d="M263.2 78.8l.5 .2 .3-.1 .4-.7 2.1 2.4 -.4 .3 -.8-.3z"/>
<path class="k8" d="M261.5 79.6l.9-.9 .8 .1 2.1 1.8 -.9-.1 -.8 .9z"/>
<path class="k7" d="M259.7 83.9l.9-2.5 .9-1.8 2.1 1.8 -.9 1.7 -.9 2.3z"/>
<path class="k6" d="M258.9 86.8l.8-2.9 2.1 1.5 -.9 2.7z"/>
<path class="k5" d="M258 89.6l.9-2.8 2 1.3 -.8 2.6z"/>
<path class="k4" d="M257.1 92.2l.9-2.6 2.1 1.1 -.9 2.4z"/>
<path class="k3" d="M256.2 94.3l.9-2.1 2.1 .9 -.9 2z"/>
<path class="k2" d="M254.9 96.6l1.3-2.3 2.1 .8 -1.4 2.2z"/>
<path class="k1" d="M250.7 98.4l1.4 .1 .9-.2 1-.7 .9-1 2 .7 -.9 .9 -.9 .7 -.9 .3 -1.4-.1z"/>
<path class="k2" d="M248.4 99.3l.9-.7 1-.2 2.5 .7 -1.4 .1 -.9 .7z"/>
<path class="k1" d="M246.5 101.2l1.9-1.9 2.1 .6 -1.9 1.9z"/>
<path class="k0" d="M236.7 105.3l1-.1 4.9-2 2.5-1.1 1.4-.9 2.1 .6 -1.4 .9 -2.5 1.1 -4.9 2.1 -1 0z"/>
<path class="k1" d="M235.6 104.2l1.1 1.1 2.1 .6 -1.1-.9z"/>
<path class="k2" d="M234.1 105.4l.5-1.1 .5-.4 2.6 1.1 -.5-.3 -.5 .4 -.5 1z"/>
<path class="k1" d="M233.6 106.3l.5-.9 2.1 .7 -.5 .9z"/>
<path class="k0" d="M214.6 114.9l17.5-7.3 1-.6 .5-.7 2.1 .7 -.5 .6 -1 .6 -17.5 7.4z"/>
<path class="k0" d="M273.3 91.4l1.2-.2 2 .5 -1.2 .3z"/>
<path class="k1" d="M271.6 91.1l3.7 .9 -1.6-.3z"/>
<path class="k2" d="M270.8 90.2l.8 .9 2.1 .6 -.9-.7z"/>
<path class="k3" d="M270.2 88.4l.6 1.8 2 .8 -.6-1.1z"/>
<path class="k4" d="M269.6 84.9l.6 3.5 2 1.5 -.6-1.8z"/>
<path class="k5" d="M269.2 81.7l.4 3.2 2 3.2 -.4-1.6z"/>
<path class="k6" d="M268.8 78.7l.4 3 2 4.8 -.4-1.6z"/>
<path class="k7" d="M262.3 84.2l.8-2.1 .9-1.3 .6-.3 1.5 .4 .4-.3 1.3-3.8 .2-.3 .2-.1 2.6 8.5 -.4-1.3 -.4-.6 -1.3-.2 -1.3-.9 -.7-.2 -.6 .3 -.4 .6 -1.4 2.7z"/>
<path class="k6" d="M261.4 86.7l.9-2.5 2 1.1 -.8 2.4z"/>
<path class="k5" d="M260.1 90.7l1.3-4 2.1 1 -1.4 3.9z"/>
<path class="k4" d="M259.2 93.1l.9-2.4 2 .9 -.8 2.3z"/>
<path class="k3" d="M258.3 95.1l.9-2 2.1 .8 -.9 1.9z"/>
<path class="k2" d="M256.9 97.3l1.4-2.2 2.1 .7 -1.4 2.1z"/>
<path class="k1" d="M252.8 99.1l1.4 .1 .9-.3 .9-.7 .9-.9 2.1 .6 -.9 .9 -.9 .7 -.9 .3 -1.4-.1z"/>
<path class="k2" d="M250.5 99.9l.9-.7 .9-.2 2.6 .7 -1.4 .2 -.9 .7z"/>
<path class="k1" d="M248.6 101.8l1.9-1.9 2.1 .7 -1.9 1.8z"/>
<path class="k0" d="M246.2 103.2l2.4-1.4 2.1 .6 -1.4 .8 -.5 0 -.5-.3z"/>
<path class="k1" d="M245.2 103.6l1-.4 2.1-.3 -1-1.8z"/>
<path class="k2" d="M243.8 104.2l1.4-.6 2.1-2.5 -.5-.4 -.5 .5 -.5 1.2z"/>
<path class="k1" d="M242.8 104.6l1-.4 2-1.8 -.9 2.3z"/>
<path class="k0" d="M238.8 105.9l1 0 3-1.3 2.1 .1 -.5 .6 -1 .6 -1.5 .6 -1 .1z"/>
<path class="k1" d="M237.7 105l1.1 .9 2.1 .7 -1-.9z"/>
<path class="k2" d="M236.2 106.1l.5-1 .5-.4 2.7 1 -.5-.2 -.5 .4 -.5 .9z"/>
<path class="k1" d="M235.7 107l.5-.9 2.2 .7 -.5 .9z"/>
<path class="k0" d="M216.7 115.6l17.5-7.4 1-.6 .5-.6 2.2 .7 -.5 .6 -1.1 .6 -17.4 7.4z"/>
<path class="k0" d="M275.3 92l1.2-.3 2.1 .5 -1.2 .3z"/>
<path class="k1" d="M273.6 91.7l3.8 .8 -.9 0 -.8-.2z"/>
<path class="k2" d="M272.4 90.4l.6 .8 .6 .5 2.1 .6 -1.2-.9z"/>
<path class="k3" d="M271.8 88.8l.6 1.6 2.1 1 -.6-.8z"/>
<path class="k4" d="M271 85.7l.8 3.1 2.1 1.8 -.8-1.3z"/>
<path class="k5" d="M270.2 83.3l.8 2.4 2.1 3.6 -.8-1.5z"/>
<path class="k6" d="M268.4 82.6l.6 .3 .8 0 .4 .4 2.1 4.5 -1.8-3.6z"/>
<path class="k7" d="M264.8 84.2l1.3-2.2 .6-.3 .7 .1 3.1 2.4 -1-1.1 -.9-.1 -.8 .8 -.9 1.6z"/>
<path class="k6" d="M263.5 87.7l1.3-3.5 2.1 1.2 -1.3 3.3z"/>
<path class="k5" d="M262.6 90.3l.9-2.6 2.1 1 -.9 2.5z"/>
<path class="k4" d="M261.3 93.9l1.3-3.6 2.1 .9 -1.3 3.5z"/>
<path class="k3" d="M260.4 95.8l.9-1.9 2.1 .8 -.9 1.8z"/>
<path class="k2" d="M259 97.9l1.4-2.1 2.1 .7 -1.4 2z"/>
<path class="k1" d="M254.4 99.7l1.4 .1 1-.1 .9-.5 1.3-1.3 2.1 .6 -1.3 1.3 -.9 .5 -2.3 0z"/>
<path class="k2" d="M252.6 100.6l.9-.7 .9-.2 2.2 .6 -1 .2 -.9 .7z"/>
<path class="k1" d="M250.7 102.4l1.9-1.8 2.1 .6 -1.9 1.8z"/>
<path class="k0" d="M248.8 103.2l1-.2 .9-.6 2.1 .6 -.9 .7 -1 .1z"/>
<path class="k1" d="M248.3 102.9l.5 .3 2.1 .6 -.5-.5z"/>
<path class="k2" d="M247.3 101.1l1 1.8 2.1 .4 -1-2z"/>
<path class="k3" d="M245.8 102.4l.5-1.2 .5-.5 .5 .4 2.1 .2 -.5-.5 -.4 .5 -.5 1.4z"/>
<path class="k2" d="M245.4 103.7l.4-1.3 2.2 .3 -.5 1.5z"/>
<path class="k1" d="M244.9 104.7l.5-1 2.1 .5 -.5 1.1z"/>
<path class="k0" d="M240.9 106.6l1-.1 1.5-.6 1-.6 .5-.6 2.1 .6 -.5 .6 -.9 .6 -1.5 .6 -1 .2z"/>
<path class="k1" d="M239.9 105.7l1 .9 2.2 .7 -1.1-.8z"/>
<path class="k2" d="M238.4 106.8l.5-.9 .5-.4 2.6 1 -.5-.2 -.5 .4 -.5 .9z"/>
<path class="k1" d="M237.9 107.7l.5-.9 2.1 .8 -.5 .8z"/>
<path class="k0" d="M218.9 116.3l17.4-7.4 1.1-.6 .5-.6 2.1 .7 -.5 .6 -1 .6 -17.4 7.4z"/>
<path class="k0" d="M277.4 92.5l1.2-.3 1 .3 -1.2 .3z"/>
<path class="k1" d="M275.7 92.3l2.7 .5 -1.7-.2z"/>
<path class="k2" d="M274.5 91.4l1.2 .9 1 .3 -1.2-.9z"/>
<path class="k3" d="M273.5 90l1 1.4 1 .3 -1-1.3z"/>
<path class="k4" d="M272.5 88.2l1 1.8 1 .4 -1-1.8z"/>
<path class="k5" d="M271.5 86.1l1 2.1 1 .4 -1-2z"/>
<path class="k6" d="M270.1 83.6l1.4 2.5 1 .5 -1.4-2.4z"/>
<path class="k7" d="M266.9 85.4l1.3-2.1 .6-.4 .7 .2 1.6 1.1 -.8-.6 -.6 0 -.9 .8 -.9 1.5z"/>
<path class="k6" d="M265.6 88.7l1.3-3.3 1 .5 -1.3 3.4z"/>
<path class="k5" d="M264.7 91.2l.9-2.5 1 .6 -.9 2.4z"/>
<path class="k4" d="M263.8 93.6l.9-2.4 1 .5 -.8 2.3z"/>
<path class="k3" d="M262.5 96.5l1.3-2.9 1.1 .4 -1.4 2.9z"/>
<path class="k2" d="M261.1 98.5l1.4-2 1 .4 -1.3 2z"/>
<path class="k1" d="M256.6 100.3l2.3 0 .9-.5 1.3-1.3 1.1 .4 -1.4 1.2 -.9 .5 -2.3 0z"/>
<path class="k2" d="M254.7 101.2l1.4-.8 .5-.1 1 .3 -.9 .3 -.9 .6z"/>
<path class="k1" d="M252.8 103l1.9-1.8 1.1 .3 -1.9 1.8z"/>
<path class="k0" d="M250.9 103.8l1-.1 .9-.7 1.1 .3 -.9 .7 -1 .2z"/>
<path class="k1" d="M249.9 102.4l.5 .9 .5 .5 1.1 .4 -.5-.3 -.5-.7z"/>
<path class="k2" d="M249.4 101.3l.5 1.1 1.1 .8 -.5-.8z"/>
<path class="k3" d="M248.5 101.3l.4-.5 1.6 1.6 -.5-.3 -.5 .4z"/>
<path class="k2" d="M247.5 104.2l1-2.9 1 1.2 -.9 2.3z"/>
<path class="k1" d="M247 105.3l.5-1.1 1.1 .6 -.5 .9z"/>
<path class="k0" d="M243.1 107.3l1-.2 1.5-.6 .9-.6 .5-.6 1.1 .4 -.5 .6 -2.4 1.2 -1 .1z"/>
<path class="k1" d="M242 106.5l1.1 .8 1.1 .3 -1.1-.7z"/>
<path class="k2" d="M241 106.7l.5-.4 1.6 .6 -.5-.2 -.5 .4z"/>
<path class="k1" d="M240 108.4l1-1.7 1.1 .4 -1 1.6z"/>
<path class="k0" d="M221.1 117l17.4-7.4 1-.6 .5-.6 1.1 .3 -.5 .6 -1 .6 -17.4 7.5z"/>
<path class="k0" d="M278 92.8l1.6-.3 .6 .1 -1.6 .4z"/>
<path class="k1" d="M276.5 92.5l2.1 .5 -1.5-.3z"/>
<path class="k2" d="M275.5 91.7l1 .8 .6 .2 -1-.8z"/>
<path class="k3" d="M274.5 90.4l1 1.3 .6 .2 -.9-1.3z"/>
<path class="k4" d="M273.5 88.5l1 1.9 .7 .2 -1.1-1.8z"/>
<path class="k5" d="M272.5 86.6l1 1.9 .6 .3 -.9-1.9z"/>
<path class="k6" d="M271 84l1.5 2.6 .7 .3 -1.6-2.5z"/>
<path class="k7" d="M268.4 85.1l.9-1.2 .6-.4 .6 .2 1.1 .7 -.7-.5 -.6 .1 -.4 .2 -.9 1.2z"/>
<path class="k6" d="M266.6 89.3l1.8-4.2 .6 .3 -1.7 4.2z"/>
<path class="k5" d="M265.7 91.7l.9-2.4 .7 .3 -.9 2.4z"/>
<path class="k4" d="M264.9 94l.8-2.3 .7 .3 -.9 2.3z"/>
<path class="k3" d="M263.5 96.9l1.4-2.9 .6 .3 -1.3 2.8z"/>
<path class="k2" d="M262.2 98.9l1.3-2 .7 .2 -1.4 1.9z"/>
<path class="k1" d="M257.6 100.6l2.3 0 .9-.5 1.4-1.2 .6 .1 -1.3 1.3 -.9 .4 -2.3 .1z"/>
<path class="k2" d="M256.2 101.2l1-.5 1.1 .1 -1.4 .5z"/>
<path class="k1" d="M253.9 103.3l2.3-2.1 .7 .1 -2.4 2.2z"/>
<path class="k0" d="M252 104.2l1-.2 .9-.7 .6 .2 -.9 .7 -1 .2z"/>
<path class="k1" d="M251 103.2l.5 .7 1.1 .5 -.4-.2 -.5-.5z"/>
<path class="k2" d="M248.6 104.8l.9-2.3 .5-.4 1.7 1.6 -.5-.6 -.5-.2 -.5 .4 -1 1.9z"/>
<path class="k1" d="M248.1 105.7l.5-.9 .6 .4 -.4 .8z"/>
<path class="k0" d="M244.2 107.6l1-.1 1.4-.7 1-.5 .5-.6 .7 .3 -.5 .5 -2.5 1.2 -1 .1z"/>
<path class="k1" d="M243.1 106.9l1.1 .7 .6 .2 -1-.7z"/>
<path class="k2" d="M242.1 107.1l.5-.4 1.2 .4 -.5-.2 -.5 .4z"/>
<path class="k1" d="M241.1 108.7l1-1.6 .7 .2 -1 1.7z"/>
<path class="k0" d="M222.2 117.4l17.4-7.5 1-.6 .5-.6 .7 .3 -.5 .5 -1.1 .6 -17.3 7.5z"/>
<path class="k0" d="M278.6 93l1.6-.4 .4 .1 -1.6 .4z"/>
<path class="k1" d="M277.1 92.7l1.9 .4 -1.5-.3z"/>
<path class="k2" d="M275.9 91.7l1.2 1 .4 .1 -1.1-1z"/>
<path class="k3" d="M275 90.3l.9 1.4 .5 .1 -1-1.3z"/>
<path class="k4" d="M274.1 88.8l.9 1.5 .4 .2 -.9-1.5z"/>
<path class="k5" d="M273 86.5l1.1 2.3 .4 .2 -1.1-2.3z"/>
<path class="k6" d="M271.6 84.3l1.4 2.2 .4 .2 -1.4-2.1z"/>
<path class="k7" d="M269 85.4l.9-1.2 .6-.3 .6 .1 .9 .6 -.6-.4 -.7 0 -.4 .3 -.9 1.2z"/>
<path class="k6" d="M267.7 88.4l1.3-3 .4 .3 -1.3 2.9z"/>
<path class="k5" d="M266.4 92l1.3-3.6 .4 .2 -1.3 3.6z"/>
<path class="k4" d="M265.5 94.3l.9-2.3 .4 .2 -.9 2.2z"/>
<path class="k3" d="M264.2 97.1l1.3-2.8 .4 .1 -1.3 2.8z"/>
<path class="k2" d="M262.8 99l1.4-1.9 .4 .1 -1.3 2z"/>
<path class="k1" d="M258.3 100.8l2.3-.1 .9-.4 1.3-1.3 .5 .2 -1.4 1.2 -.9 .5 -2.3 .1z"/>
<path class="k2" d="M256.9 101.3l.9-.4 .9 .1 -1.4 .5z"/>
<path class="k1" d="M254.5 103.5l2.4-2.2 .4 .2 -2.3 2.1z"/>
<path class="k0" d="M252.6 104.4l1-.2 .9-.7 .5 .1 -1 .7 -.9 .3z"/>
<path class="k1" d="M251.7 103.7l.5 .5 .4 .2 .5 .2 -.5-.2 -.5-.5z"/>
<path class="k2" d="M249.7 104.2l.5-.9 .5-.4 .5 .2 .5 .6 .4 .2 -.5-.6 -.5-.3 -.5 .4 -.4 1z"/>
<path class="k1" d="M248.8 106l.9-1.8 .5 .2 -1 1.7z"/>
<path class="k0" d="M244.8 107.8l1-.1 1.5-.7 1.5-1 .4 .1 -1.5 1 -1.5 .7 -1 .1z"/>
<path class="k1" d="M243.8 107.1l1 .7 .4 .1 -1-.6z"/>
<path class="k2" d="M242.8 107.3l.5-.4 .9 .4 -.5-.2 -.5 .4z"/>
<path class="k1" d="M241.8 109l1-1.7 .4 .2 -1 1.6z"/>
<path class="k0" d="M222.9 117.6l17.3-7.5 1.1-.6 .5-.5 .4 .1 -.5 .5 -1 .6 -17.4 7.6z"/>
<path class="k0" d="M279 93.1l1.8-.3 -1.6 .3z"/>
<path class="k1" d="M277.5 92.8l1.7 .3 -1.5-.2z"/>
<path class="k2" d="M276.4 91.8l1.1 1 -.9-.9z"/>
<path class="k3" d="M275.4 90.5l1 1.3 .2 .1 -1-1.3z"/>
<path class="k4" d="M274.5 89l.9 1.5 .2 .1 -.8-1.5z"/>
<path class="k5" d="M273.4 86.7l1.1 2.3 .3 .1 -1.2-2.3z"/>
<path class="k6" d="M272 84.6l1.4 2.1 .2 .1 -.5-.9 -.9-1.2z"/>
<path class="k7" d="M269.4 85.7l.9-1.2 .4-.3 .9 .1 .6 .4 -.6-.4 -.6 0 -.5 .3 -.8 1.2z"/>
<path class="k6" d="M268.1 88.6l1.3-2.9 .3 .1 -1.4 2.9z"/>
<path class="k5" d="M266.8 92.2l1.3-3.6 .2 .1 -1.3 3.5z"/>
<path class="k4" d="M265.9 94.4l.9-2.2 .2 0 -.9 2.3z"/>
<path class="k3" d="M264.6 97.2l1.3-2.8 .2 .1 -1.3 2.8z"/>
<path class="k2" d="M263.7 98.6l.9-1.4 .2 .1 -.9 1.4z"/>
<path class="k1" d="M258.7 101l1.8 0 1-.3 1.3-1 .9-1.1 .2 .1 -.9 1 -1.3 1 -.9 .3 -1.9 0z"/>
<path class="k2" d="M257.3 101.5l.9-.5 .7 0 -1.4 .5z"/>
<path class="k1" d="M255 103.6l2.3-2.1 .2 0 -2.3 2.2z"/>
<path class="k0" d="M253.1 104.6l.9-.3 1-.7 .2 .1 -1 .6 -.9 .3z"/>
<path class="k1" d="M252.1 103.9l.5 .5 .5 .2 -.8-.7z"/>
<path class="k2" d="M250.2 104.4l.4-1 .5-.4 1.2 .9 -.5-.6 -.5-.2 -.4 .4 -.5 .9z"/>
<path class="k1" d="M249.2 106.1l1-1.7 .2 0 -1 1.8z"/>
<path class="k0" d="M245.2 107.9l1.5-.3 1.5-.7 1-.8 .2 .1 -1.5 1 -1.4 .6 -1 .2z"/>
<path class="k1" d="M244.2 107.3l1 .6 -.8-.6z"/>
<path class="k2" d="M243.2 107.5l.5-.4 .7 .2 -.5-.1 -.5 .4z"/>
<path class="k1" d="M242.2 109.1l1-1.6 .2 .1 -1 1.6z"/>
<path class="k0" d="M223.3 117.8l17.4-7.6 1-.6 .5-.5 .2 .1 -.5 .5 -1 .6 -17.3 7.5z"/>
<path class="k0" d="M279.2 93.1l1.6-.3 .7 .2 -1.6 .3z"/>
<path class="k1" d="M277.7 92.9l2.2 .4 -1.5-.3z"/>
<path class="k2" d="M276.6 91.9l1.1 1 .7 .1 -1.2-.9z"/>
<path class="k3" d="M275.6 90.6l1 1.3 .6 .2 -1-1.3z"/>
<path class="k4" d="M274.6 88.8l1 1.8 .6 .2 -1-1.8z"/>
<path class="k5" d="M273.6 86.8l1 2 .6 .2 -1-1.9z"/>
<path class="k6" d="M272 84.5l.7 .8 .9 1.5 .6 .3 -.9-1.5 -.7-.7z"/>
<path class="k7" d="M270.1 85.1l.4-.5 .7-.3 1.3 .5 -.9-.1 -.9 .8z"/>
<path class="k6" d="M268.3 88.7l1.8-3.6 .6 .4 -1.7 3.5z"/>
<path class="k5" d="M267 92.2l1.3-3.5 .7 .3 -1.3 3.5z"/>
<path class="k4" d="M266.1 94.5l.9-2.3 .7 .3 -.9 2.2z"/>
<path class="k3" d="M264.8 97.3l1.3-2.8 .7 .2 -1.4 2.8z"/>
<path class="k2" d="M263.9 98.7l.9-1.4 .6 .2 -.8 1.4z"/>
<path class="k1" d="M258.9 101l1.9 0 .9-.3 1.3-1 .9-1 .7 .2 -.9 1 -1.4 1 -.9 .3 -1.8 0z"/>
<path class="k2" d="M257.5 101.5l1-.4 1.1 .1 -1.4 .5z"/>
<path class="k1" d="M255.2 103.7l2.3-2.2 .7 .2 -2.4 2.2z"/>
<path class="k0" d="M253.3 104.6l.9-.3 1-.6 .6 .2 -.9 .6 -1 .3z"/>
<path class="k1" d="M252.3 103.9l.5 .5 .5 .2 .6 .2 -.4-.2 -.5-.5z"/>
<path class="k2" d="M250.4 104.4l.5-.9 .4-.4 .5 .2 .5 .6 .7 .2 -.5-.5 -.5-.3 -.5 .4 -.5 .9z"/>
<path class="k1" d="M249.4 106.2l1-1.8 .6 .2 -.9 1.8z"/>
<path class="k0" d="M245.5 108l1-.2 1.4-.6 1.5-1 .7 .2 -1.5 1 -1.5 .6 -1 .2z"/>
<path class="k1" d="M244.4 107.3l1.1 .7 .6 .2 -1-.6z"/>
<path class="k2" d="M243.4 107.6l.5-.4 1.2 .4 -.5-.2 -.5 .4z"/>
<path class="k1" d="M242.4 109.2l1-1.6 .7 .2 -1 1.6z"/>
<path class="k0" d="M223.6 117.8l17.3-7.5 1-.6 .5-.5 .7 .2 -.5 .5 -1.1 .6 -17.3 7.5z"/>
<path class="k0" d="M279.9 93.3l1.6-.3 .6 .1 -1.6 .4z"/>
<path class="k1" d="M278.4 93l2.1 .5 -1.5-.3z"/>
<path class="k2" d="M277.2 92.1l1.2 .9 .6 .2 -1.2-.9z"/>
<path class="k3" d="M276.2 90.8l1 1.3 .6 .2 -1-1.3z"/>
<path class="k4" d="M275.2 89l1 1.8 .6 .2 -.9-1.7z"/>
<path class="k5" d="M274.1 86.9l1.1 2.1 .7 .3 -1.1-2z"/>
<path class="k6" d="M272.5 84.8l.7 .7 .9 1.4 .7 .4 -.1-.2 -.8-1.2 -.8-.8z"/>
<path class="k7" d="M270.7 85.5l.5-.5 .6-.3 .4 0 .9 .4 -.9 0 -.8 .7z"/>
<path class="k6" d="M269 89l1.7-3.5 .7 .3 -1.8 3.6z"/>
<path class="k5" d="M267.7 92.5l1.3-3.5 .6 .4 -1.3 3.4z"/>
<path class="k4" d="M266.8 94.7l.9-2.2 .6 .3 -.9 2.2z"/>
<path class="k3" d="M265.9 96.7l.9-2 .6 .3 -.9 1.9z"/>
<path class="k2" d="M264.6 98.9l1.3-2.2 .6 .2 -1.3 2.2z"/>
<path class="k1" d="M259.6 101.2l1.8 0 .9-.3 1.4-1 .9-1 .6 .2 -1.8 1.8 -1.4 .5 -1.8 0z"/>
<path class="k2" d="M258.2 101.7l.9-.4 1.1 .1 -1.4 .5z"/>
<path class="k1" d="M255.8 103.9l2.4-2.2 .6 .2 -2.3 2.2z"/>
<path class="k0" d="M253.9 104.8l1-.3 .9-.6 .7 .2 -1 .6 -.9 .3z"/>
<path class="k1" d="M253 104.1l.5 .5 .4 .2 .7 .2 -.5-.2 -.5-.5z"/>
<path class="k2" d="M251 104.6l.5-.9 .5-.4 .5 .3 .5 .5 .6 .2 -.5-.5 -.5-.3 -.4 .5 -.5 .9z"/>
<path class="k1" d="M250.1 106.4l.9-1.8 .7 .3 -1 1.7z"/>
<path class="k0" d="M246.1 108.2l1-.2 1.5-.6 1.5-1 .6 .2 -1.5 1 -1.4 .6 -1 .2z"/>
<path class="k1" d="M245.1 107.6l1 .6 .7 .2 -1.1-.6z"/>
<path class="k2" d="M244.1 107.8l.5-.4 1.1 .4 -.5-.1 -.5 .3z"/>
<path class="k1" d="M243.1 109.4l1-1.6 .6 .2 -1 1.6z"/>
<path class="k0" d="M224.2 118l17.3-7.5 1.1-.6 .5-.5 .6 .2 -.5 .5 -1 .6 -17.3 7.6z"/>
<path class="k0" d="M280.5 93.5l1.6-.4 .6 .2 -1.6 .3z"/>
<path class="k1" d="M279 93.2l2.1 .4 -1.5-.2z"/>
<path class="k2" d="M277.8 92.3l1.2 .9 .6 .2 -1.1-.9z"/>
<path class="k3" d="M276.8 91l1 1.3 .7 .2 -1-1.3z"/>
<path class="k4" d="M275.9 89.3l.9 1.7 .7 .2 -1-1.6z"/>
<path class="k5" d="M274.7 87.1l1.2 2.2 .6 .3 -1.2-2.2z"/>
<path class="k6" d="M272.9 85l.8 .6 1 1.5 .6 .3 -.6-.9 -.6-.7 -.6-.4z"/>
<path class="k7" d="M271.8 85.4l.8-.4 .9 .4 -.6 .1 -.5 .2z"/>
<path class="k6" d="M269.6 89.4l1.3-2.9 .9-1.1 .6 .3 -.8 1.2 -1.3 2.8z"/>
<path class="k5" d="M268.3 92.8l1.3-3.4 .7 .3 -1.4 3.4z"/>
<path class="k4" d="M267.4 95l.9-2.2 .6 .3 -.8 2.1z"/>
<path class="k3" d="M266.5 96.9l.9-1.9 .7 .2 -.9 1.9z"/>
<path class="k2" d="M265.2 99.1l1.3-2.2 .7 .2 -1.4 2.2z"/>
<path class="k1" d="M259.7 101.5l2.3-.1 1-.3 1.3-1 .9-1 .6 .2 -.9 1 -1.3 1 -.9 .3 -2.3 .1z"/>
<path class="k2" d="M258.8 101.9l.9-.4 .7 .2 -.9 .4z"/>
<path class="k1" d="M256.5 104.1l2.3-2.2 .7 .2 -2.4 2.2z"/>
<path class="k0" d="M254.6 105l.9-.3 1-.6 .6 .2 -.9 .6 -1 .3z"/>
<path class="k1" d="M253.6 104.3l.5 .5 .5 .2 .6 .2 -.4-.2 -.5-.4z"/>
<path class="k2" d="M251.7 104.9l.5-.9 .4-.5 .5 .3 .5 .5 .7 .3 -.5-.6 -.5-.2 -.5 .4 -.5 .9z"/>
<path class="k1" d="M250.7 106.6l1-1.7 .6 .2 -.9 1.7z"/>
<path class="k0" d="M246.8 108.4l1-.2 1.4-.6 1.5-1 .7 .2 -1.5 1 -1.5 .6 -1 .2z"/>
<path class="k1" d="M245.2 107.7l1.6 .7 .6 .2 -1.5-.7z"/>
<path class="k2" d="M244.7 108l.5-.3 .7 .2 -.5 .4z"/>
<path class="k1" d="M243.7 109.6l1-1.6 .7 .3 -1 1.5z"/>
<path class="k0" d="M224.9 118.3l17.3-7.6 1-.6 .5-.5 .7 .2 -.5 .5 -1 .6 -17.3 7.6z"/>
<path class="k0" d="M281.1 93.6l1.6-.3 .6 .1 -1.6 .4z"/>
<path class="k1" d="M279.6 93.4l2.1 .4 -1.4-.2z"/>
<path class="k2" d="M278.5 92.5l1.1 .9 .7 .2 -1.2-.9z"/>
<path class="k3" d="M277.5 91.2l1 1.3 .6 .2 -1-1.3z"/>
<path class="k4" d="M276.5 89.6l1 1.6 .6 .2 -1-1.6z"/>
<path class="k5" d="M275.3 87.4l1.2 2.2 .6 .2 -1.1-2.2z"/>
<path class="k6" d="M273.1 85.4l.4 0 .6 .4 1.2 1.6 .7 .2 -1.1-1.4 -.6-.5 -.6-.1z"/>
<path class="k7" d="M272.9 85.5l.8 .1 -.2 .1z"/>
<path class="k6" d="M270.3 89.7l1.3-2.8 .8-1.2 .5-.2 .6 .2 -.4 .2 -.9 1.2 -1.3 2.8z"/>
<path class="k5" d="M269.4 91.9l.9-2.2 .6 .2 -.9 2.2z"/>
<path class="k4" d="M268.1 95.2l1.3-3.3 .6 .2 -1.3 3.3z"/>
<path class="k3" d="M267.2 97.1l.9-1.9 .6 .2 -.9 1.9z"/>
<path class="k2" d="M265.8 99.3l1.4-2.2 .6 .2 -1.3 2.2z"/>
<path class="k1" d="M260.4 101.7l2.7-.2 1.4-.8 1.3-1.4 .7 .2 -.9 1 -1.4 1 -.9 .3 -2.3 .1z"/>
<path class="k2" d="M259.5 102.1l.9-.4 .6 .2 -.9 .4z"/>
<path class="k1" d="M257.1 104.3l2.4-2.2 .6 .2 -2.3 2.2z"/>
<path class="k0" d="M254.8 105l.4 .2 .5-.1 1.4-.8 .7 .2 -1.4 .8 -1-.1z"/>
<path class="k1" d="M254.3 104.6l.5 .4 .6 .2 -.5-.4z"/>
<path class="k2" d="M252.3 105.1l.5-.9 .5-.4 .5 .2 .5 .6 .6 .2 -.5-.6 -.4-.2 -.5 .4 -.5 .9z"/>
<path class="k1" d="M251.4 106.8l.9-1.7 .7 .2 -1 1.7z"/>
<path class="k0" d="M247.4 108.6l1-.2 1.5-.6 1.5-1 .6 .2 -.5 .4 -2.4 1.2 -1 .2z"/>
<path class="k1" d="M245.9 107.9l2.2 .9 -1.5-.7z"/>
<path class="k2" d="M245.4 108.3l.5-.4 .7 .2 -.5 .4z"/>
<path class="k1" d="M244.4 109.8l1-1.5 .7 .2 -1 1.5z"/>
<path class="k0" d="M225.6 118.5l17.3-7.6 1-.6 .5-.5 .7 .2 -.6 .5 -1 .6 -17.3 7.6z"/>
<path class="k0" d="M281.7 93.8l1.6-.4 .7 .2 -1.6 .4z"/>
<path class="k1" d="M280.3 93.6l2.1 .4 -1.5-.3z"/>
<path class="k2" d="M279.1 92.7l1.2 .9 .6 .1 -1.2-.8z"/>
<path class="k3" d="M278.1 91.4l1 1.3 .6 .2 -1-1.3z"/>
<path class="k4" d="M276.9 89.4l1.2 2 .6 .2 -1.1-2z"/>
<path class="k5" d="M276 87.6l.9 1.8 .7 .2 -1-1.8z"/>
<path class="k6" d="M270.9 89.9l1.8-3.5 .8-.7 .6-.1 .8 .6 1.1 1.4 .6 .2 -1.2-1.6 -.6-.3 -.6 0 -.5 .3 -.8 1.1 -1.3 2.8z"/>
<path class="k5" d="M270 92.1l.9-2.2 .7 .2 -.9 2.3z"/>
<path class="k4" d="M268.7 95.4l1.3-3.3 .7 .3 -1.4 3.2z"/>
<path class="k3" d="M267.8 97.3l.9-1.9 .6 .2 -.8 1.9z"/>
<path class="k2" d="M266.5 99.5l1.3-2.2 .7 .2 -1.4 2.1z"/>
<path class="k1" d="M261 101.9l2.8-.2 1.3-.8 1.4-1.4 .6 .1 -.9 1.1 -1.3 1 -.9 .3 -2.3 .1z"/>
<path class="k2" d="M260.1 102.3l.9-.4 .7 .2 -.9 .4z"/>
<path class="k1" d="M258.3 104.1l1.8-1.8 .7 .2 -1.9 1.8z"/>
<path class="k0" d="M255.4 105.2l1 .1 1.9-1.2 .6 .2 -1.9 1.2 -.9-.1z"/>
<path class="k1" d="M254.9 104.8l.5 .4 .7 .2 -.5-.4z"/>
<path class="k2" d="M253 105.3l.5-.9 .5-.4 .4 .2 .5 .6 .7 .2 -.5-.6 -.5-.2 -.5 .4 -.5 .9z"/>
<path class="k1" d="M252 107l1-1.7 .6 .2 -.9 1.7z"/>
<path class="k0" d="M248.1 108.8l1-.2 1.5-.6 1.4-1 .7 .2 -.5 .4 -2.5 1.2 -1 .2z"/>
<path class="k1" d="M246.6 108.1l2.1 .9 -1.5-.7z"/>
<path class="k2" d="M246.1 108.5l.5-.4 .6 .2 -.5 .4z"/>
<path class="k1" d="M245.1 110l1-1.5 .6 .2 -1 1.5z"/>
<path class="k0" d="M226.2 118.7l17.3-7.6 1-.6 .6-.5 .6 .2 -.5 .5 -1 .6 -17.3 7.6z"/>
<path class="k0" d="M282.4 94l1.6-.4 .6 .1 -1.6 .4z"/>
<path class="k1" d="M280.9 93.7l2.1 .4 -1.5-.2z"/>
<path class="k2" d="M279.7 92.9l1.2 .8 .6 .2 -1.1-.8z"/>
<path class="k3" d="M278.7 91.6l1 1.3 .7 .2 -1-1.3z"/>
<path class="k4" d="M277.6 89.6l1.1 2 .7 .2 -1.2-2z"/>
<path class="k5" d="M276.6 87.8l1 1.8 .6 .2 -1-1.8z"/>
<path class="k6" d="M271.6 90.1l1.7-3.5 .9-.7 .6 0 .8 .5 1 1.4 .6 .2 -1.2-1.6 -.6-.3 -.6 0 -.4 .3 -.9 1.1 -1.3 2.8z"/>
<path class="k5" d="M270.7 92.4l.9-2.3 .6 .2 -.9 2.3z"/>
<path class="k4" d="M269.3 95.6l1.4-3.2 .6 .2 -1.3 3.2z"/>
<path class="k3" d="M268.5 97.5l.8-1.9 .7 .2 -.9 1.9z"/>
<path class="k2" d="M267.1 99.6l1.4-2.1 .6 .2 -1.3 2.1z"/>
<path class="k1" d="M261.7 102.1l2.7-.2 1.4-.8 1.3-1.5 .7 .2 -.9 1 -1.4 1 -.9 .4 -2.3 .1z"/>
<path class="k2" d="M261.2 102.3l.5-.2 .6 .2 -.4 .2z"/>
<path class="k1" d="M258.9 104.3l2.3-2 .7 .2 -2.3 1.9z"/>
<path class="k0" d="M256.1 105.4l.9 .1 1.9-1.2 .7 .1 -1.9 1.3 -1-.1z"/>
<path class="k1" d="M255.6 105l.5 .4 .6 .2 -.5-.4z"/>
<path class="k2" d="M253.6 105.5l.5-.9 .5-.4 .5 .2 .5 .6 .6 .2 -.4-.5 -.5-.2 -.5 .4 -.5 .8z"/>
<path class="k1" d="M252.7 107.2l.9-1.7 .7 .2 -1 1.7z"/>
<path class="k0" d="M248.7 109l1-.2 1.5-.6 1.5-1 .6 .2 -.4 .4 -2.5 1.2 -1 .2z"/>
<path class="k1" d="M247.2 108.3l2.2 .9 -1.5-.7z"/>
<path class="k2" d="M246.7 108.7l.5-.4 .7 .2 -.5 .4z"/>
<path class="k1" d="M245.7 110.2l1-1.5 .7 .2 -1 1.5z"/>
<path class="k0" d="M226.9 118.9l17.3-7.6 1-.6 .5-.5 .7 .2 -.5 .5 -1 .6 -17.3 7.7z"/>
<path class="k0" d="M283 94.1l1.8-.3 -1.6 .4z"/>
<path class="k1" d="M281.5 93.9l1.7 .3 -1.5-.2z"/>
<path class="k2" d="M280.4 93.1l1.1 .8 -.9-.8z"/>
<path class="k3" d="M279.2 91.5l1.2 1.6 .2 0 -1.2-1.5z"/>
<path class="k4" d="M278.2 89.8l1 1.7 .2 .1 -1-1.7z"/>
<path class="k5" d="M277.2 88l1 1.8 .2 .1 -1-1.8z"/>
<path class="k6" d="M272.2 90.3l1.7-3.4 .9-.8 .6 0 .8 .5 1 1.4 .2 .1 -1.2-1.6 -.6-.4 -.6 .1 -.4 .3 -.9 1.1 -1.3 2.8z"/>
<path class="k5" d="M271.3 92.6l.9-2.3 .2 .1 -.9 2.2z"/>
<path class="k4" d="M270 95.8l1.3-3.2 .2 0 -1.3 3.3z"/>
<path class="k3" d="M269.1 97.7l.9-1.9 .2 .1 -.9 1.8z"/>
<path class="k2" d="M267.8 99.8l1.3-2.1 .2 0 -1.3 2.2z"/>
<path class="k1" d="M262.3 102.3l2.8-.3 1.3-.8 1.4-1.4 .2 .1 -.9 1 -1.3 1 -1 .3 -2.2 .1z"/>
<path class="k2" d="M261.9 102.5l.7-.2 -.5 .2z"/>
<path class="k1" d="M259.6 104.4l2.3-1.9 .2 0 -2.3 2z"/>
<path class="k0" d="M256.7 105.6l1 .1 1.9-1.3 .2 .1 -1.9 1.2 -1 0z"/>
<path class="k1" d="M256.2 105.2l.5 .4 .2 .1 -.4-.4z"/>
<path class="k2" d="M254.3 105.7l.5-.8 .5-.4 1.2 .8 -.5-.6 -.5-.2 -.5 .4 -.5 .9z"/>
<path class="k1" d="M253.3 107.4l1-1.7 .2 .1 -.9 1.6z"/>
<path class="k0" d="M249.4 109.2l1-.2 1.5-.6 1.4-1 .3 0 -1 .8 -2 .9 -1 .2z"/>
<path class="k1" d="M247.9 108.5l1.7 .8 -1.5-.7z"/>
<path class="k2" d="M247.4 108.9l.5-.4 .2 .1 -.5 .3z"/>
<path class="k1" d="M246.4 110.4l1-1.5 .2 0 -1 1.6z"/>
<path class="k0" d="M227.6 119.2l17.3-7.7 1-.6 .5-.5 .2 .1 -.5 .5 -1 .6 -17.3 7.6z"/>
<path class="k0" d="M283.2 94.2l1.6-.4 .4 .1 -1.6 .4z"/>
<path class="k1" d="M281.7 94l1.9 .3 -1.4-.2z"/>
<path class="k2" d="M280.6 93.1l1.1 .9 .5 .1 -1.2-.9z"/>
<path class="k3" d="M279.4 91.6l1.2 1.5 .4 .1 -1.2-1.5z"/>
<path class="k4" d="M278.4 89.9l1 1.7 .4 .1 -.9-1.7z"/>
<path class="k5" d="M277.4 88.1l1 1.8 .5 .1 -1-1.8z"/>
<path class="k6" d="M272.4 90.4l1.8-3.5 .8-.7 .6-.1 .8 .6 1 1.4 .5 .1 -1.2-1.6 -.6-.3 -.6 0 -.5 .3 -.8 1.1 -1.4 2.8z"/>
<path class="k5" d="M271.5 92.6l.9-2.2 .4 .1 -.8 2.3z"/>
<path class="k4" d="M270.2 95.9l1.3-3.3 .5 .2 -1.4 3.2z"/>
<path class="k3" d="M269.3 97.7l.9-1.8 .4 .1 -.8 1.9z"/>
<path class="k2" d="M268 99.9l1.3-2.2 .5 .2 -1.4 2.1z"/>
<path class="k1" d="M259.8 104.5l2.3-2 .9-.2 2.3-.2 1.4-.8 1.3-1.4 .4 .1 -.9 1 -1.3 1 -.9 .3 -1.8 .1 -1 .3 -2.3 1.9z"/>
<path class="k0" d="M256.9 105.7l1 0 1.9-1.2 .4 .1 -1.9 1.3 -.9-.1z"/>
<path class="k1" d="M256.5 105.3l.4 .4 .5 .1 -.5-.4z"/>
<path class="k2" d="M254.5 105.8l.5-.9 .5-.4 1.4 .9 -.5-.5 -.5-.2 -.5 .4 -.4 .9z"/>
<path class="k1" d="M253.6 107.4l.9-1.6 .5 .2 -1 1.6z"/>
<path class="k0" d="M249.6 109.3l1-.2 1.5-.7 1.5-1 .4 .2 -1 .7 -1.9 .9 -1 .2z"/>
<path class="k1" d="M248.1 108.6l2 .8 -1.5-.7z"/>
<path class="k2" d="M247.6 108.9l.5-.3 .5 .1 -.6 .4z"/>
<path class="k1" d="M246.6 110.5l1-1.6 .4 .2 -.9 1.5z"/>
<path class="k0" d="M227.8 119.2l17.3-7.6 1-.6 .5-.5 .5 .1 -.6 .5 -1 .6 -17.2 7.7z"/>
<path class="k0" d="M283.6 94.3l1.6-.4 .7 .2 -1.6 .3z"/>
<path class="k1" d="M282 94l2.3 .4 -1.6-.2z"/>
<path class="k2" d="M281 93.2l1 .8 .7 .2 -1.1-.8z"/>
<path class="k3" d="M279.8 91.7l1.2 1.5 .6 .2 -1.1-1.5z"/>
<path class="k4" d="M278.9 90l.9 1.7 .7 .2 -1-1.7z"/>
<path class="k5" d="M277.7 87.9l1.2 2.1 .6 .2 -1.2-2.1z"/>
<path class="k6" d="M273.3 89.5l1.3-2.4 .9-.8 .6 0 .8 .5 .8 1.1 .6 .2 -1.2-1.4 -.6-.2 -.4 .1 -.9 .7 -1.3 2.4z"/>
<path class="k5" d="M272 92.8l1.3-3.3 .6 .2 -1.3 3.3z"/>
<path class="k4" d="M270.6 96l1.4-3.2 .6 .2 -1.3 3.2z"/>
<path class="k3" d="M269.8 97.9l.8-1.9 .7 .2 -.9 1.9z"/>
<path class="k2" d="M268.4 100l1.4-2.1 .6 .2 -1.3 2.1z"/>
<path class="k1" d="M260.2 104.6l2.3-1.9 1-.3 2.2-.2 1.4-.8 1.3-1.4 .7 .2 -.9 1 -1.4 1 -.9 .3 -1.8 .1 -.9 .3 -2.3 1.9z"/>
<path class="k0" d="M257.4 105.8l.9 .1 1.9-1.3 .7 .2 -1.9 1.3 -1-.1z"/>
<path class="k1" d="M256.9 105.4l.5 .4 .6 .2 -.4-.4z"/>
<path class="k2" d="M255 106l.4-.9 .5-.4 .5 .2 .5 .5 .7 .2 -.5-.5 -.5-.2 -.5 .4 -.5 .9z"/>
<path class="k1" d="M254 107.6l1-1.6 .6 .2 -.9 1.6z"/>
<path class="k0" d="M250.1 109.4l1-.2 1.4-.6 1.5-1 .7 .2 -.5 .4 -2.5 1.2 -1 .2z"/>
<path class="k1" d="M248.6 108.7l2.1 .9 -1.5-.7z"/>
<path class="k2" d="M248 109.1l.6-.4 .6 .2 -.5 .4z"/>
<path class="k1" d="M247.1 110.6l.9-1.5 .7 .2 -1 1.5z"/>
<path class="k0" d="M228.3 119.4l17.2-7.7 1-.6 .6-.5 .6 .2 -.5 .5 -1 .6 -17.2 7.7z"/>
<path class="k0" d="M284.3 94.4l1.6-.3 .6 .1 -1.6 .4z"/>
<path class="k1" d="M282.7 94.2l2.2 .4 -1.6-.3z"/>
<path class="k2" d="M281.6 93.4l1.1 .8 .6 .1 -1-.7z"/>
<path class="k3" d="M280.5 91.9l1.1 1.5 .7 .2 -1.2-1.5z"/>
<path class="k4" d="M279.5 90.2l1 1.7 .6 .2 -1-1.7z"/>
<path class="k5" d="M278.3 88.1l1.2 2.1 .6 .2 -1.1-2.1z"/>
<path class="k6" d="M273.9 89.7l1.3-2.4 .9-.7 .6-.1 .8 .5 .8 1.1 .7 .2 -1.2-1.4 -.6-.2 -.5 .1 -.8 .7 -1.3 2.4z"/>
<path class="k5" d="M272.6 93l1.3-3.3 .7 .2 -1.3 3.3z"/>
<path class="k4" d="M271.3 96.2l1.3-3.2 .7 .2 -1.4 3.2z"/>
<path class="k3" d="M270.4 98.1l.9-1.9 .6 .2 -.8 1.8z"/>
<path class="k2" d="M269.1 100.2l1.3-2.1 .7 .1 -1.4 2.2z"/>
<path class="k1" d="M260.9 104.8l2.3-1.9 .9-.3 2.3-.2 1.3-.8 1.4-1.4 .6 .2 -.9 1 -1.3 1 -.9 .3 -1.8 .1 -1 .3 -2.3 1.9z"/>
<path class="k0" d="M258 106l1 .1 1.9-1.3 .6 .2 -.9 .7 -.9 .6 -1-.1z"/>
<path class="k1" d="M257.6 105.6l.4 .4 .7 .2 -.5-.4z"/>
<path class="k2" d="M255.6 106.2l.5-.9 .5-.4 .5 .2 .5 .5 .6 .2 -.9-.7 -.5 .4 -.5 .8z"/>
<path class="k1" d="M254.7 107.8l.9-1.6 .7 .1 -1 1.6z"/>
<path class="k0" d="M250.7 109.6l1-.2 1.5-.6 1.5-1 .6 .1 -1.4 .9 -1.5 .7 -1 .2z"/>
<path class="k1" d="M249.2 108.9l1.5 .7 .7 .1 -1.5-.7z"/>
<path class="k2" d="M248.7 109.3l.5-.4 .7 .1 -.5 .4z"/>
<path class="k1" d="M247.7 110.8l1-1.5 .7 .1 -1 1.6z"/>
<path class="k0" d="M229 119.6l17.2-7.7 1-.6 .5-.5 .7 .2 -.5 .5 -1 .6 -17.3 7.7z"/>
<path class="k0" d="M284.9 94.6l1.6-.4 .4 .1 -1.6 .4z"/>
<path class="k1" d="M283.3 94.3l2 .4 -1.6-.2z"/>
<path class="k2" d="M282.1 93.4l1.2 .9 .4 .2 -1.2-1z"/>
<path class="k3" d="M281.1 92.1l1 1.3 .4 .1 -.9-1.3z"/>
<path class="k4" d="M280.1 90.4l1 1.7 .5 .1 -1-1.7z"/>
<path class="k5" d="M279 88.3l1.1 2.1 .5 .1 -1.2-2z"/>
<path class="k6" d="M274.6 89.9l1.3-2.4 .8-.7 .7-.1 .8 .6 .8 1 .4 .2 -1.2-1.4 -.6-.2 -.4 0 -.9 .8 -1.3 2.4z"/>
<path class="k5" d="M273.3 93.2l1.3-3.3 .4 .2 -1.3 3.2z"/>
<path class="k4" d="M271.9 96.4l1.4-3.2 .4 .1 -1.3 3.2z"/>
<path class="k3" d="M271.1 98.2l.8-1.8 .5 .1 -.9 1.9z"/>
<path class="k2" d="M269.7 100.4l1.4-2.2 .4 .2 -1.3 2.1z"/>
<path class="k1" d="M261.5 105l2.3-1.9 1-.3 2.2-.2 1.4-.8 1.3-1.4 .5 .1 -.9 1 -1.4 1 -.9 .3 -1.8 .1 -.9 .3 -2.3 1.9z"/>
<path class="k0" d="M258.7 106.2l1 .1 1.8-1.3 .5 .1 -1.4 1.1 -1 .3 -.5-.2z"/>
<path class="k1" d="M258.2 105.8l.5 .4 .4 .1 -.4-.4z"/>
<path class="k2" d="M256.3 106.3l.5-.8 .5-.4 1.4 .8 -1-.6 -.5 .3 -.5 .8z"/>
<path class="k1" d="M255.3 107.9l1-1.6 .4 .1 -.9 1.5z"/>
<path class="k0" d="M251.4 109.7l1-.2 1.5-.7 1.4-.9 .5 0 -1.5 1 -2 .8 -.4 .1z"/>
<path class="k1" d="M250.4 109.2l1 .5 .5 .1 -1.1-.5z"/>
<path class="k2" d="M249.4 109.4l.5-.4 .9 .3 -.5-.2 -.5 .5z"/>
<path class="k1" d="M248.4 111l1-1.6 .4 .2 -1 1.5z"/>
<path class="k0" d="M229.6 119.8l17.3-7.7 1-.6 .5-.5 .4 .1 -.5 .5 -1 .6 -17.2 7.8z"/>
<path class="k0" d="M285.3 94.7l1.8-.3 -1.6 .4z"/>
<path class="k1" d="M283.7 94.5l1.8 .3 -1.6-.3z"/>
<path class="k2" d="M282.5 93.5l1.2 1 -1-.9z"/>
<path class="k3" d="M281.6 92.2l.9 1.3 .2 .1 -.9-1.3z"/>
<path class="k4" d="M280.6 90.5l1 1.7 .2 .1 -1-1.7z"/>
<path class="k5" d="M279.4 88.5l1.2 2 .2 .1 -1.2-2.1z"/>
<path class="k6" d="M275 90.1l1.3-2.4 .9-.8 .6 0 .7 .4 1.1 1.2 -1.2-1.4 -.6-.2 -.4 .1 -.9 .8 -1.3 2.3z"/>
<path class="k5" d="M273.7 93.3l1.3-3.2 .2 0 -1.3 3.3z"/>
<path class="k4" d="M272.4 96.5l1.3-3.2 .2 .1 -1.3 3.2z"/>
<path class="k3" d="M271.5 98.4l.9-1.9 .2 .1 -.9 1.8z"/>
<path class="k2" d="M270.2 100.5l1.3-2.1 .2 0 -1.3 2.2z"/>
<path class="k1" d="M262 105.1l2.3-1.9 .9-.3 2.3-.2 1.3-.8 1.4-1.4 .2 .1 -.9 1 -1.4 1 -.9 .3 -1.8 .1 -.9 .3 -2.3 1.9z"/>
<path class="k0" d="M259.1 106.3l1 .1 1.9-1.3 .2 .1 -1.4 1 -1 .3 -.4-.1z"/>
<path class="k1" d="M258.7 105.9l.4 .4 .3 .1 -.5-.4z"/>
<path class="k2" d="M256.7 106.4l.5-.8 .5-.3 1.2 .7 -1-.7 -.5 .4 -.4 .8z"/>
<path class="k1" d="M255.8 107.9l.9-1.5 .3 .1 -1 1.5z"/>
<path class="k0" d="M251.9 109.8l.9-.3 2-.9 1-.7 .2 .1 -1 .6 -1.9 1 -1 .2z"/>
<path class="k1" d="M250.8 109.3l1.1 .5 -.8-.5z"/>
<path class="k2" d="M249.8 109.6l.5-.5 .8 .2 -.5-.1 -.5 .4z"/>
<path class="k1" d="M248.8 111.1l1-1.5 .3 0 -1 1.6z"/>
<path class="k0" d="M230.1 120l17.2-7.8 1-.6 .5-.5 .3 .1 -.5 .5 -1.1 .6 -17.2 7.8z"/>
<path class="k0" d="M285.5 94.8l1.6-.4 .7 .1 -1.6 .4z"/>
<path class="k1" d="M283.9 94.5l2.3 .4 -1.6-.2z"/>
<path class="k2" d="M282.7 93.6l1.2 .9 .7 .2 -1.2-.9z"/>
<path class="k3" d="M281.8 92.3l.9 1.3 .7 .2 -1-1.4z"/>
<path class="k4" d="M280.8 90.6l1 1.7 .6 .1 -1-1.6z"/>
<path class="k5" d="M279.6 88.5l1.2 2.1 .6 .2 -1.1-2.1z"/>
<path class="k6" d="M275.2 90.1l1.3-2.3 .9-.8 .6 0 .8 .5 .8 1 .7 .2 -1.2-1.3 -.6-.2 -.4 0 -.9 .8 -1.3 2.4z"/>
<path class="k5" d="M273.9 93.4l1.3-3.3 .7 .3 -1.3 3.2z"/>
<path class="k4" d="M272.6 96.6l1.3-3.2 .7 .2 -1.3 3.2z"/>
<path class="k3" d="M271.7 98.4l.9-1.8 .7 .2 -.9 1.8z"/>
<path class="k2" d="M270.4 100.6l1.3-2.2 .7 .2 -1.4 2.1z"/>
<path class="k1" d="M262.2 105.2l2.3-1.9 .9-.3 2.3-.2 1.3-.8 1.4-1.4 .6 .1 -.9 1.1 -1.3 1 -.9 .3 -1.8 .1 -.9 .3 -2.3 1.9z"/>
<path class="k0" d="M259.4 106.4l.9 0 1.9-1.2 .7 .2 -1 .7 -.9 .5 -1 0z"/>
<path class="k1" d="M258.9 106l.5 .4 .6 .2 -.5-.4z"/>
<path class="k2" d="M257 106.5l.4-.8 .5-.4 1 .7 .6 .2 -.9-.7 -.5 .4 -.5 .7z"/>
<path class="k1" d="M255.5 108.4l.5-.4 1-1.5 .6 .1 -.9 1.5 -.5 .3z"/>
<path class="k0" d="M252.1 109.8l1-.2 2.4-1.2 .7 0 -2.5 1.2 -1 .3z"/>
<path class="k1" d="M251.1 109.3l1 .5 .6 .1 -1-.4z"/>
<path class="k2" d="M250.1 109.6l.5-.4 1.1 .3 -.5-.1 -.5 .4z"/>
<path class="k1" d="M249.1 111.2l1-1.6 .6 .2 -1 1.6z"/>
<path class="k0" d="M230.3 120.1l17.2-7.8 1.1-.6 .5-.5 .6 .2 -.5 .5 -1 .6 -17.2 7.8z"/>
<path class="k0" d="M286.2 94.9l1.6-.4 .6 .2 -1.6 .4z"/>
<path class="k1" d="M284.6 94.7l2.2 .4 -1.6-.2z"/>
<path class="k2" d="M283.4 93.8l1.2 .9 .6 .2 -1.2-1z"/>
<path class="k3" d="M282.4 92.4l1 1.4 .6 .1 -.9-1.3z"/>
<path class="k4" d="M281.4 90.8l1 1.6 .7 .2 -1-1.6z"/>
<path class="k5" d="M280.3 88.7l1.1 2.1 .7 .2 -1.2-2z"/>
<path class="k6" d="M275.9 90.4l1.3-2.4 .9-.8 .6 0 .8 .5 .8 1 .6 .3 -1.2-1.4 -.6-.2 -.4 .1 -.9 .7 -1.3 2.4z"/>
<path class="k5" d="M274.6 93.6l1.3-3.2 .6 .2 -1.3 3.2z"/>
<path class="k4" d="M273.3 96.8l1.3-3.2 .6 .2 -1.3 3.2z"/>
<path class="k3" d="M272.4 98.6l.9-1.8 .6 .2 -.9 1.8z"/>
<path class="k2" d="M271 100.7l1.4-2.1 .6 .2 -1.3 2.1z"/>
<path class="k1" d="M262.9 105.4l2.3-1.9 .9-.3 2.3-.2 1.3-.8 1.3-1.5 .7 .2 -.9 1 -1.3 1 -.9 .4 -1.9 .1 -.9 .3 -2.3 1.9z"/>
<path class="k0" d="M260 106.6l1 0 1.9-1.2 .6 .2 -.9 .7 -1 .5 -.9 0z"/>
<path class="k1" d="M259.5 106.2l.5 .4 .7 .2 -.5-.4z"/>
<path class="k2" d="M257.6 106.6l.5-.7 .5-.4 .9 .7 .7 .2 -.9-.7 -.5 .3 -.5 .8z"/>
<path class="k1" d="M254.2 109.4l2.5-1.3 .9-1.5 .7 .2 -1 1.4 -2.4 1.3z"/>
<path class="k0" d="M253.2 109.9l1-.5 .7 .1 -1 .4z"/>
<path class="k1" d="M251.7 109.5l1 .4 1.2 0 -.5 .1 -1-.4z"/>
<path class="k2" d="M250.7 109.8l.5-.4 1.2 .2 -.5-.1 -.5 .5z"/>
<path class="k1" d="M249.7 111.4l1-1.6 .7 .2 -1 1.6z"/>
<path class="k0" d="M231 120.3l17.2-7.8 1-.6 .5-.5 .7 .2 -.5 .5 -1 .6 -17.2 7.8z"/>
<path class="k0" d="M286.8 95.1l1.6-.4 .7 .2 -1.6 .4z"/>
<path class="k1" d="M285.2 94.9l2.3 .4 -1.6-.3z"/>
<path class="k2" d="M284 93.9l1.2 1 .7 .1 -1.2-.9z"/>
<path class="k3" d="M283.1 92.6l.9 1.3 .7 .2 -1-1.3z"/>
<path class="k4" d="M282 90.9l1.1 1.7 .6 .2 -1-1.7z"/>
<path class="k5" d="M280.9 89l1.1 1.9 .7 .2 -1.1-1.9z"/>
<path class="k6" d="M276.5 90.6l1.3-2.4 .9-.7 .6-.1 .8 .5 .8 1.1 .7 .2 -1.2-1.4 -.6-.2 -.4 .1 -.9 .7 -1.3 2.4z"/>
<path class="k5" d="M275.2 93.8l1.3-3.2 .7 .2 -1.3 3.2z"/>
<path class="k4" d="M273.9 97l1.3-3.2 .7 .2 -1.3 3.2z"/>
<path class="k3" d="M273 98.8l.9-1.8 .7 .2 -.9 1.8z"/>
<path class="k2" d="M271.7 100.9l1.3-2.1 .7 .2 -1.3 2.1z"/>
<path class="k1" d="M263.5 105.6l2.3-1.9 .9-.3 2.3-.3 1.4-.8 1.3-1.4 .7 .2 -.9 1 -1.4 1 -.9 .4 -1.8 .1 -.9 .3 -2.3 1.9z"/>
<path class="k0" d="M260.7 106.8l.9 0 1.9-1.2 .7 .2 -1 .7 -.9 .5 -.9 0z"/>
<path class="k1" d="M260.2 106.4l.5 .4 .7 .2 -.5-.4z"/>
<path class="k2" d="M258.3 106.8l.5-.8 .5-.3 .9 .7 .7 .2 -1-.7 -.5 .3 -.4 .7z"/>
<path class="k1" d="M252.4 109.6l1 .4 1-.3 2.5-1.2 .4-.3 1-1.4 .7 .1 -1 1.4 -.5 .3 -2.9 1.4 -.5 .2 -1-.5z"/>
<path class="k2" d="M251.4 110l.5-.5 1.2 .2 -.5 0 -.5 .4z"/>
<path class="k1" d="M250.4 111.6l1-1.6 .7 .1 -1 1.6z"/>
<path class="k0" d="M231.7 120.5l17.2-7.8 1-.6 .5-.5 .7 .1 -.5 .6 -1 .6 -17.2 7.8z"/>
<path class="k0" d="M287.5 95.3l1.6-.4 .6 .1 -1.6 .4z"/>
<path class="k1" d="M285.9 95l2.2 .4 -1.6-.2z"/>
<path class="k2" d="M284.7 94.1l1.2 .9 .6 .2 -1.2-.9z"/>
<path class="k3" d="M283.7 92.8l1 1.3 .6 .2 -.9-1.3z"/>
<path class="k4" d="M282.7 91.1l1 1.7 .7 .2 -1.1-1.7z"/>
<path class="k5" d="M281.5 89l1.2 2.1 .6 .2 -1.2-2.1z"/>
<path class="k6" d="M277.2 90.8l1.3-2.4 .9-.7 .6-.1 .6 .4 .9 1 .6 .2 -1.1-1.2 -.6-.2 -.4 .1 -.8 .8 -1.3 2.3z"/>
<path class="k5" d="M275.9 94l1.3-3.2 .7 .2 -1.4 3.2z"/>
<path class="k4" d="M274.6 97.2l1.3-3.2 .6 .2 -1.3 3.2z"/>
<path class="k3" d="M273.7 99l.9-1.8 .6 .2 -.9 1.8z"/>
<path class="k2" d="M272.4 101.1l1.3-2.1 .6 .2 -1.3 2.1z"/>
<path class="k1" d="M264.2 105.8l2.3-1.9 .9-.3 1.8-.1 .9-.4 1.4-1 .9-1 .6 .2 -1.8 1.7 -1.3 .6 -1.8 .2 -.9 .3 -2.3 1.9z"/>
<path class="k0" d="M261.4 107l.9 0 1.9-1.2 .7 .2 -1.9 1.2 -1 0z"/>
<path class="k1" d="M260.9 106.6l.5 .4 .6 .2 -.4-.4z"/>
<path class="k2" d="M259 106.9l.4-.7 .5-.3 1 .7 .7 .2 -1-.7 -.5 .3 -.5 .7z"/>
<path class="k1" d="M253.1 109.7l1 .5 .5-.2 2.9-1.4 .5-.3 1-1.4 .6 .2 -.9 1.2 -.5 .4 -2.9 1.4 -.5 .2 -1-.4z"/>
<path class="k2" d="M252.1 110.1l.5-.4 1.2 .2 -.5-.1 -.5 .5z"/>
<path class="k1" d="M251.1 111.7l1-1.6 .7 .2 -1 1.6z"/>
<path class="k0" d="M232.4 120.7l17.2-7.8 1-.6 .5-.6 .7 .2 -.5 .6 -1.1 .6 -17.1 7.9z"/>
<path class="k0" d="M288.1 95.4l1.6-.4 1.5 .4 -1.6 .4z"/>
<path class="k1" d="M286.5 95.2l3.1 .6 -1.6-.2z"/>
<path class="k2" d="M285.3 94.3l1.2 .9 1.5 .4 -1.2-.9z"/>
<path class="k3" d="M284.4 93l.9 1.3 1.5 .4 -.9-1.3z"/>
<path class="k4" d="M283.3 91.3l1.1 1.7 1.5 .4 -1.1-1.7z"/>
<path class="k5" d="M282.1 89.2l1.2 2.1 1.5 .4 -1.2-2z"/>
<path class="k6" d="M277.9 91l1.3-2.3 .8-.8 .6 0 .7 .3 .8 1 1.5 .5 -1-1.1 -.6-.2 -.4 0 -.9 .8 -1.3 2.3z"/>
<path class="k5" d="M276.5 94.2l1.4-3.2 1.5 .5 -1.3 3.2z"/>
<path class="k4" d="M275.2 97.4l1.3-3.2 1.6 .5 -1.3 3.1z"/>
<path class="k3" d="M274.3 99.2l.9-1.8 1.6 .4 -.9 1.8z"/>
<path class="k2" d="M273 101.3l1.3-2.1 1.6 .4 -1.3 2.1z"/>
<path class="k1" d="M264.9 106l2.3-1.9 .9-.3 1.8-.2 .9-.3 1.3-1 .9-1 1.6 .4 -1.4 1.4 -1.3 .8 -3.2 .6 -2.3 1.9z"/>
<path class="k0" d="M262 107.2l1 0 1.9-1.2 1.5 .4 -1.9 1.2 -.9 0z"/>
<path class="k1" d="M261.6 106.8l.4 .4 1.6 .4 -.5-.4z"/>
<path class="k2" d="M259.2 107.8l.9-1.4 .5-.3 1 .7 1.5 .4 -.9-.6 -.5 .2 -1 1.3z"/>
<path class="k1" d="M253.8 109.9l1 .4 .5-.2 2.9-1.4 1-.9 1.5 .3 -.9 .8 -3 1.5 -.5 .1 -1-.3z"/>
<path class="k2" d="M252.8 110.3l.5-.5 2 .4 -.5 0 -.5 .5z"/>
<path class="k1" d="M251.8 111.9l1-1.6 1.5 .4 -1 1.7z"/>
<path class="k0" d="M233.1 121l17.1-7.9 1.1-.6 .5-.6 1.5 .5 -.5 .6 -1 .6 -17.1 7.9z"/>
<path class="k0" d="M289.6 95.8l1.6-.4 2.2 .6 -1.6 .4z"/>
<path class="k1" d="M288 95.6l3.8 .8 -1.6-.2z"/>
<path class="k2" d="M286.8 94.7l1.2 .9 2.2 .6 -1.2-.9z"/>
<path class="k3" d="M285.9 93.4l.9 1.3 2.2 .6 -.9-1.2z"/>
<path class="k4" d="M284.7 91.5l1.2 1.9 2.2 .7 -1.2-1.9z"/>
<path class="k5" d="M283.6 89.6l1.1 1.9 2.2 .7 -1.1-1.9z"/>
<path class="k6" d="M279.4 91.5l.9-1.7 .8-1.1 .7-.3 .6 0 1.2 1.2 2.2 .7 -1-1 -.6-.2 -.4 .1 -.9 .7 -1.3 2.4z"/>
<path class="k5" d="M278.1 94.7l1.3-3.2 2.2 .8 -1.3 3.1z"/>
<path class="k4" d="M277.2 96.8l.9-2.1 2.2 .7 -.9 2.1z"/>
<path class="k3" d="M275.9 99.6l1.3-2.8 2.2 .7 -1.3 2.8z"/>
<path class="k2" d="M274.6 101.7l1.3-2.1 2.2 .7 -1.3 2.1z"/>
<path class="k1" d="M266.4 106.4l2.3-1.9 .9-.3 1.8-.1 .9-.4 1.4-1 .9-1 2.2 .7 -.9 1 -1.8 1.2 -2.2 .2 -.9 .3 -2.3 2z"/>
<path class="k0" d="M263.6 107.6l.9 0 1.9-1.2 2.3 .7 -1.9 1.2 -.9-.1z"/>
<path class="k1" d="M263.1 107.2l.5 .4 2.3 .6 -.5-.3z"/>
<path class="k2" d="M260.7 108.1l1-1.3 .5-.2 .9 .6 2.3 .7 -1-.7 -.4 .2 -1 1.1z"/>
<path class="k1" d="M255.8 110.5l1-.1 3-1.5 .9-.8 2.3 .4 -.5 .4 -1.9 .8 -1.5 1 -1 .2z"/>
<path class="k2" d="M254.3 110.7l.5-.5 2.8 .5 -.5 .1 -.5 .5z"/>
<path class="k1" d="M253.3 112.4l1-1.7 2.3 .6 -1 1.7z"/>
<path class="k0" d="M234.7 121.5l17.1-7.9 1-.6 .5-.6 2.3 .6 -1 1 -10.9 5.2 -6.7 2.9z"/>
<path class="k0" d="M291.8 96.4l1.6-.4 2.1 .5 -1.5 .4z"/>
<path class="k1" d="M290.1 96.2l3.9 .7 -1.7-.2z"/>
<path class="k2" d="M289 95.3l1.1 .9 2.2 .5 -1.1-.8z"/>
<path class="k3" d="M287.9 93.8l1.1 1.5 2.2 .6 -1.1-1.5z"/>
<path class="k4" d="M286.9 92.2l1 1.6 2.2 .6 -1-1.5z"/>
<path class="k5" d="M285.6 90l1.3 2.2 2.2 .7 -1.3-2.1z"/>
<path class="k6" d="M281.6 92.3l.9-1.7 .8-1.1 .7-.4 .6 .1 1 .8 2.2 .8 -1-.8 -.8 0 -.9 .7 -1.3 2.3z"/>
<path class="k5" d="M280.3 95.4l1.3-3.1 2.2 .7 -1.3 3.1z"/>
<path class="k4" d="M279.4 97.5l.9-2.1 2.2 .7 -.8 2.1z"/>
<path class="k3" d="M278.1 100.3l1.3-2.8 2.3 .7 -1.4 2.7z"/>
<path class="k2" d="M276.8 102.4l1.3-2.1 2.2 .6 -1.3 2.1z"/>
<path class="k1" d="M274.6 104.4l1.3-1 .9-1 2.2 .6 -.9 1 -1.3 1z"/>
<path class="k0" d="M274.1 104.6l.5-.2 2.2 .6 -.4 .2z"/>
<path class="k1" d="M268.7 107.1l1.8-1.7 .9-.5 2.7-.3 2.3 .6 -2.3 .3 -.9 .2 -2.3 2z"/>
<path class="k0" d="M266.3 108.3l1-.3 1.4-.9 2.2 .6 -1.4 1 -.9 .3z"/>
<path class="k1" d="M264.9 107.5l1 .7 2.7 .8 -.5-.1 -.9-.8z"/>
<path class="k2" d="M259.1 110.7l1.5-1 1.9-.8 1.5-1.5 .4-.2 2.8 .9 -.5-.2 -.5 .1 -1.4 1.2 -1.9 .7 -1.5 1.1z"/>
<path class="k1" d="M258.6 110.9l.5-.2 2.3 .3 -.5 .3z"/>
<path class="k2" d="M256.1 112.2l1-1.4 3.8 .5 -1.5 0 -1 1.5z"/>
<path class="k1" d="M255.6 113l.5-.8 2.3 .6 -.5 .9z"/>
<path class="k0" d="M237 122.1l16.6-7.6 1-.5 1-1 2.3 .7 -.5 .6 -1 .7 -10.4 4.9 -6.6 2.5z"/>
<path class="k0" d="M294 96.9l1.5-.4 2.2 .6 -1.5 .4z"/>
<path class="k1" d="M292.3 96.7l3.9 .8 -1.7-.2z"/>
<path class="k2" d="M291.2 95.9l1.1 .8 2.2 .6 -1.1-.8z"/>
<path class="k3" d="M290.1 94.4l1.1 1.5 2.2 .6 -1.1-1.5z"/>
<path class="k4" d="M289.1 92.9l1 1.5 2.2 .6 -1-1.5z"/>
<path class="k5" d="M287.8 90.8l1.3 2.1 2.2 .6 -1.3-2.1z"/>
<path class="k6" d="M284.3 92.1l.8-1.4 .9-.7 .8 0 1 .8 2.2 .6 -.6-.6 -.6-.3 -.6 .1 -.4 .3 -1.3 1.8z"/>
<path class="k5" d="M282.5 96.1l1.8-4 2.2 .6 -1.7 4z"/>
<path class="k4" d="M281.7 98.2l.8-2.1 2.3 .6 -.9 2.1z"/>
<path class="k3" d="M280.3 100.9l1.4-2.7 2.2 .6 -1.3 2.8z"/>
<path class="k2" d="M279 103l1.3-2.1 2.3 .7 -1.3 2z"/>
<path class="k1" d="M276.8 105l1.3-1 .9-1 2.3 .6 -.9 1 -1.3 1z"/>
<path class="k0" d="M276.4 105.2l.4-.2 2.3 .6 -.5 .2z"/>
<path class="k1" d="M270.9 107.7l1.9-1.7 .9-.4 2.7-.4 2.2 .6 -2.2 .3 -.9 .3 -2.3 1.9z"/>
<path class="k0" d="M268.6 109l.9-.3 1.4-1 2.3 .6 -1.4 1 -.9 .3z"/>
<path class="k1" d="M267.7 108.6l.4 .3 2.8 .7 -.9-.5z"/>
<path class="k2" d="M258.4 112.8l1-1.5 1.5 0 2-1.4 1.9-.7 1.4-1.2 .5-.1 1 .7 2.3 .5 -1-.8 -.5 0 -1.4 .9 -1.4 .2 -1 .6 -1.5 1.4 -1.4 .3 -1 1.7z"/>
<path class="k1" d="M257.9 113.7l.5-.9 2.4 .6 -.5 .9z"/>
<path class="k0" d="M242.7 121.1l3.3-1.2 9.4-4.4 1.5-.8 1-1 2.4 .6 -1 1 -10.4 5.1 -2.2 .9 -1.6 .4z"/>
<path class="k1" d="M239.4 122.4l3.3-1.3 2.4 .6 -1.7 .3 -1.6 .8z"/>
<path class="k0" d="M296.2 97.5l1.5-.4 2.2 .5 -1.5 .5z"/>
<path class="k1" d="M294.5 97.3l1.7 .2 2.2 .6 -1.6-.2z"/>
<path class="k2" d="M293.4 96.5l1.1 .8 2.3 .6 -1.2-.8z"/>
<path class="k3" d="M292.3 95l1.1 1.5 2.2 .6 -1.1-1.5z"/>
<path class="k4" d="M291.3 93.5l1 1.5 2.2 .6 -.9-1.5z"/>
<path class="k5" d="M290 91.4l1.3 2.1 2.3 .6 -1.3-2.1z"/>
<path class="k6" d="M286.5 92.7l.9-1.4 .8-.7 .8 0 1 .8 2.3 .6 -.6-.6 -.6-.3 -.6 .1 -.4 .3 -1.3 1.8z"/>
<path class="k5" d="M284.8 96.7l1.7-4 2.3 .6 -1.7 4z"/>
<path class="k4" d="M283.9 98.8l.9-2.1 2.3 .6 -.9 2.1z"/>
<path class="k3" d="M282.6 101.6l1.3-2.8 2.3 .6 -1.3 2.8z"/>
<path class="k2" d="M281.3 103.6l1.3-2 2.3 .6 -1.4 2z"/>
<path class="k1" d="M279.1 105.6l1.3-1 .9-1 2.2 .6 -.8 1 -1.4 1z"/>
<path class="k0" d="M278.6 105.8l.5-.2 2.2 .6 -.4 .2z"/>
<path class="k1" d="M273.2 108.3l1.8-1.6 .9-.5 2.7-.4 2.3 .6 -2.2 .3 -.9 .3 -2.3 2z"/>
<path class="k0" d="M270.9 109.6l.9-.3 1.4-1 2.3 .7 -1.4 1 -.9 .2z"/>
<path class="k1" d="M270 109.1l.4 .4 2.8 .7 -.9-.6z"/>
<path class="k2" d="M266.6 109.2l1-.2 .9-.7 .5 0 1 .8 2.3 .5 -1-.9 -.4-.1 -1 .4 -.9 .1z"/>
<path class="k3" d="M264.2 110.5l1.5-1.1 2.8-.3 -1 .3 -1 1z"/>
<path class="k2" d="M260.8 113.4l1-1.7 1.4-.3 1-.9 2.3-.1 -.9 1.1 -1.5 .6 -1 1.9z"/>
<path class="k1" d="M259.8 114.9l1-1.5 2.3 .6 -1 1.6z"/>
<path class="k0" d="M245.6 121.6l1.7-.5 2.7-1.2 8.3-4 1.5-1 2.3 .7 -1 .7 -9.8 4.8 -1.6 .7 -1.7 .4z"/>
<path class="k1" d="M241.8 122.8l1.6-.8 2.2-.4 2.4 .6 -2.2 .2 -1.6 .8z"/>
<path class="k0" d="M298.4 98.1l1.5-.5 2.2 .6 -1.5 .4z"/>
<path class="k1" d="M296.8 97.9l1.6 .2 2.2 .5 -1.6-.1z"/>
<path class="k2" d="M295.6 97.1l1.2 .8 2.2 .6 -1.1-.8z"/>
<path class="k3" d="M294.5 95.6l1.1 1.5 2.3 .6 -1.1-1.5z"/>
<path class="k4" d="M293.6 94.1l.9 1.5 2.3 .6 -.9-1.5z"/>
<path class="k5" d="M292.3 92l1.3 2.1 2.3 .6 -1.4-2.1z"/>
<path class="k6" d="M288.8 93.3l.9-1.3 .8-.8 .8 0 1 .8 2.2 .6 -.5-.6 -.6-.2 -.6 0 -.4 .3 -1.3 1.9z"/>
<path class="k5" d="M287.5 96.3l1.3-3 2.3 .7 -1.3 2.9z"/>
<path class="k4" d="M286.2 99.4l1.3-3.1 2.3 .6 -1.3 3.2z"/>
<path class="k3" d="M284.9 102.2l1.3-2.8 2.3 .7 -1.3 2.7z"/>
<path class="k2" d="M283.5 104.2l1.4-2 2.3 .6 -1.4 2.1z"/>
<path class="k1" d="M281.3 106.2l1.4-1 .8-1 2.3 .7 -.8 1 -1.4 1z"/>
<path class="k0" d="M280.9 106.4l.4-.2 2.3 .7 -.4 .2z"/>
<path class="k1" d="M275.5 109l1.8-1.7 .9-.5 2.7-.4 2.3 .7 -2.2 .3 -.9 .3 -2.3 1.9z"/>
<path class="k0" d="M273.2 110.2l.9-.2 1.4-1 2.3 .6 -1.3 1 -1 .2z"/>
<path class="k1" d="M272.3 109.6l.4 .4 2.8 .8 -.9-.6z"/>
<path class="k2" d="M271.3 108.7l1 .9 2.3 .6 -.9-1.1z"/>
<path class="k3" d="M265.6 111.5l1.9-2.1 1-.3 1.4-.1 1-.4 2.8 .5 -.5-.2 -.9 .2 -1.9-.2 -1 .7 -1.5 2z"/>
<path class="k2" d="M263.1 114l1-1.9 .5-.2 1-.4 2.3 .1 -1.4 1 -1 1.9z"/>
<path class="k1" d="M262.1 115.6l1-1.6 2.4 .5 -1 1.8z"/>
<path class="k0" d="M248.6 122.1l1.6-.5 2.7-1.2 7.2-3.5 2-1.3 2.4 .7 -1 .8 -9.3 4.6 -1.6 .6 -1.6 .4z"/>
<path class="k1" d="M245.3 122.6l3.3-.5 2.4 .6 -3.3 .2z"/>
<path class="k2" d="M244.2 123.2l1.1-.6 2.4 .3 -1.1 .6z"/>
<path class="k0" d="M301.4 98.4l.7-.2 2.3 .4 -.8 .1z"/>
<path class="k1" d="M299.4 98.6l.8 .1 1.2-.3 2.2 .3 -1.9-.4z"/>
<path class="k2" d="M298.1 97.8l1.3 .8 2.3-.3 -1.4-.7z"/>
<path class="k3" d="M297 96.5l1.1 1.3 2.2-.2 -1.1-1z"/>
<path class="k4" d="M295.9 94.7l1.1 1.8 2.2 .1 -1.1-1.6z"/>
<path class="k5" d="M294.4 92.5l1.5 2.2 2.2 .3 -1.4-2z"/>
<path class="k6" d="M291.1 94l.8-1.4 1.1-.8 .6 0 .8 .7 2.3 .5 -.8-.6 -.6 0 -.6 .4 -1.3 1.8z"/>
<path class="k5" d="M289.8 96.9l1.3-2.9 2.3 .6 -1.3 2.9z"/>
<path class="k4" d="M288.5 100.1l1.3-3.2 2.3 .6 -1.3 3.2z"/>
<path class="k3" d="M287.2 102.8l1.3-2.7 2.3 .6 -1.3 2.7z"/>
<path class="k2" d="M285.8 104.9l1.4-2.1 2.3 .6 -1.4 2.1z"/>
<path class="k1" d="M283.6 106.9l1.4-1 .8-1 2.3 .6 -.8 1 -1.3 1z"/>
<path class="k0" d="M283.2 107.1l.4-.2 2.4 .6 -.5 .2z"/>
<path class="k1" d="M277.8 109.6l1.9-1.6 .9-.5 2.6-.4 2.3 .6 -2.2 .3 -.9 .3 -2.2 2z"/>
<path class="k0" d="M275.5 110.8l1-.2 1.3-1 2.4 .7 -1.4 1 -.9 .1z"/>
<path class="k1" d="M274.6 110.2l.9 .6 2.4 .6 -.9-.7z"/>
<path class="k2" d="M273.7 109.1l.9 1.1 2.4 .5 -1-1.2z"/>
<path class="k3" d="M270.8 108.9l1.5 .2 .9-.2 2.8 .6 -.4-.3 -1 0 -1.4-.5z"/>
<path class="k4" d="M269.4 109.6l1-.7 2.3-.2 -.9 .7z"/>
<path class="k3" d="M266.5 112.6l1.4-1 1.5-2 2.4-.2 -1.5 2.3 -1.5 1.3z"/>
<path class="k2" d="M265.5 114.5l1-1.9 2.3 .4 -.9 2.1z"/>
<path class="k1" d="M264.5 116.3l1-1.8 2.4 .6 -1 1.8z"/>
<path class="k0" d="M251 122.7l1.6-.4 2.7-1.1 7.2-3.6 2-1.3 2.4 .6 -1 .9 -9.3 4.6 -1.6 .7 -1.6 .3z"/>
<path class="k1" d="M248.8 122.8l2.2-.1 2.4 .7 -2.2-.2z"/>
<path class="k2" d="M246.6 123.5l1.1-.6 1.1-.1 2.4 .4 -1.1 .1 -1.1 .6z"/>
<path class="k1" d="M302.5 98.6l1.9 0 2.3 .3 -.8 0 -1.1-.4z"/>
<path class="k2" d="M301.1 98.1l1.4 .5 2.3-.1 -1.4-.7z"/>
<path class="k3" d="M299.4 96.8l1.7 1.3 2.3-.3 -1.7-1z"/>
<path class="k4" d="M298.1 95l1.3 1.8 2.3 0 -1.3-1.4z"/>
<path class="k5" d="M296.7 93l1.4 2 2.3 .4 -1.4-1.8z"/>
<path class="k6" d="M293.4 94.6l.8-1.4 1.1-.8 .6 0 .8 .6 2.3 .6 -.8-.5 -.6-.1 -.6 .4 -1.3 1.9z"/>
<path class="k5" d="M292.1 97.5l1.3-2.9 2.3 .7 -1.3 2.9z"/>
<path class="k4" d="M290.8 100.7l1.3-3.2 2.3 .7 -1.3 3.1z"/>
<path class="k3" d="M289.5 103.4l1.3-2.7 2.3 .6 -1.3 2.8z"/>
<path class="k2" d="M288.1 105.5l1.4-2.1 2.3 .7 -1.3 2z"/>
<path class="k1" d="M286 107.5l1.3-1 .8-1 2.4 .6 -.9 1 -1.3 1.1z"/>
<path class="k0" d="M285.5 107.7l.5-.2 2.3 .7 -.4 .2z"/>
<path class="k1" d="M280.2 110.3l1.8-1.7 .9-.5 2.6-.4 2.4 .7 -2.2 .3 -.9 .3 -2.3 2z"/>
<path class="k0" d="M277.9 111.4l.9-.1 1.4-1 2.3 .7 -1.3 .9 -1 .2z"/>
<path class="k1" d="M277 110.7l.9 .7 2.3 .7 -.9-.8z"/>
<path class="k2" d="M276 109.5l1 1.2 2.3 .6 -.9-1.4z"/>
<path class="k3" d="M274.2 109l4.2 .9 -.4-.4 -1.4-.5z"/>
<path class="k4" d="M270.8 111l1-1.6 .9-.7 .5 0 1 .3 2.4 0 -1-.5 -.5-.1 -.9 .8 -1 1.7z"/>
<path class="k3" d="M268.3 113.9l.5-.9 1-.8 1-1.2 2.4-.1 -1 1.6 -.9 .9 -.5 1.1z"/>
<path class="k2" d="M267.9 115.1l.4-1.2 2.5 .6 -.5 1.2z"/>
<path class="k1" d="M266.9 116.9l1-1.8 2.4 .6 -1 1.9z"/>
<path class="k0" d="M253.9 123.3l2.2-.6 6.7-3.3 3.1-1.6 1-.9 2.4 .7 -1.5 1.2 -4.1 2.1 -5.2 2.5 -2.1 .7z"/>
<path class="k1" d="M251.8 123.3l2.1 0 2.5 .8 -2.2-.3z"/>
<path class="k2" d="M249 123.9l1.1-.6 1.7 0 2.4 .5 -1.6-.1 -1.1 .6z"/>
<path class="k1" d="M305.5 98.8l3.4 .5 -1.1-.4z"/>
<path class="k2" d="M304.3 98.2l1.2 .6 2.3 .1 -1.2-.9z"/>
<path class="k3" d="M302.3 97.2l2 1 2.3-.2 -2-.9z"/>
<path class="k4" d="M300.6 95.7l1.7 1.5 2.3-.1 -.9-.4 -.8-.7z"/>
<path class="k5" d="M299 93.6l1.6 2.1 2.3 .3 -1.6-1.8z"/>
<path class="k6" d="M295.7 95.3l.9-1.4 1-.9 .6 .1 .8 .5 2.3 .6 -.8-.5 -.6 0 -.6 .3 -1.2 1.9z"/>
<path class="k5" d="M294.4 98.2l1.3-2.9 2.4 .6 -1.3 2.9z"/>
<path class="k4" d="M293.1 101.3l1.3-3.1 2.4 .6 -1.4 3.2z"/>
<path class="k3" d="M291.8 104.1l1.3-2.8 2.3 .7 -1.3 2.7z"/>
<path class="k2" d="M290.5 106.1l1.3-2 2.3 .6 -1.3 2.1z"/>
<path class="k1" d="M288.3 108.2l1.3-1.1 .9-1 2.3 .7 -.8 1 -1.3 1z"/>
<path class="k0" d="M287.9 108.4l.4-.2 2.4 .6 -.5 .2z"/>
<path class="k1" d="M282.5 111l1.8-1.7 .9-.5 2.7-.4 2.3 .6 -2.2 .3 -.8 .3 -2.3 2z"/>
<path class="k0" d="M280.7 112.1l.9-.4 .9-.7 2.4 .6 -.9 .7 -.9 .4z"/>
<path class="k1" d="M279.3 111.3l.9 .8 2.4 .5 -.9-.9z"/>
<path class="k2" d="M278.9 110.6l.4 .7 2.4 .4 -.4-.8z"/>
<path class="k3" d="M277.5 109.4l.9 .5 .5 .7 2.4 .3 -.5-.8 -.9-.9z"/>
<path class="k4" d="M275.1 108.4l.5 .1 1.9 .9 2.4-.2 -1.9-1.7 -.4-.1z"/>
<path class="k5" d="M274.7 108.7l2.4-1.1z"/>
<path class="k4" d="M272.7 111.8l1.5-2.6 .5-.5 2.4-1.1 -1 1.6 -1 2.2z"/>
<path class="k3" d="M270.8 114.5l.5-1.1 1.4-1.6 2.4-.4 -1.4 2.3 -.5 1.1z"/>
<path class="k2" d="M270.3 115.7l.5-1.2 2.4 .3 -.5 1.4z"/>
<path class="k1" d="M269.3 117.6l1-1.9 2.4 .5 -1 2z"/>
<path class="k0" d="M256.4 124.1l2.1-.7 5.2-2.5 4.1-2.1 1.5-1.2 2.4 .6 -1.5 1.3 -3 1.6 -6.2 3.1 -2.1 .6z"/>
<path class="k1" d="M254.8 123.9l1.6 .2 2.5 .7 -1.7-.3z"/>
<path class="k2" d="M251.5 124.3l1.1-.6 1.1 0 3.5 .8 -1.6-.5 -1.1 .3 -.5 .4z"/>
<path class="k1" d="M308.2 99.1l3 .6 -.7-.4z"/>
<path class="k2" d="M307.1 98.4l1.1 .7 2.3 .2 -1.1-1z"/>
<path class="k3" d="M305.6 97.4l1.5 1 2.3-.1 -1.5-1.1z"/>
<path class="k4" d="M303.1 96.2l.9 .7 1.6 .5 2.3-.2 -1.7-.3 -.7-.4z"/>
<path class="k5" d="M301.3 94.2l1.8 2 2.4 .3 -1.8-1.7z"/>
<path class="k6" d="M298.1 95.9l.8-1.4 1-.8 .6 0 .8 .5 2.4 .6 -.8-.5 -.6 0 -.6 .4 -1.3 1.9z"/>
<path class="k5" d="M296.8 98.8l1.3-2.9 2.3 .7 -1.3 2.9z"/>
<path class="k4" d="M295.4 102l1.4-3.2 2.3 .7 -1.3 3.1z"/>
<path class="k3" d="M294.1 104.7l1.3-2.7 2.4 .6 -1.3 2.8z"/>
<path class="k2" d="M292.8 106.8l1.3-2.1 2.4 .7 -1.3 2z"/>
<path class="k1" d="M290.7 108.8l1.3-1 .8-1 2.4 .6 -.9 1 -1.3 1.1z"/>
<path class="k0" d="M290.2 109l.5-.2 2.3 .7 -.4 .2z"/>
<path class="k1" d="M284.9 111.6l1.8-1.7 .9-.5 2.6-.4 2.4 .7 -2.2 .3 -.9 .3 -2.2 2z"/>
<path class="k0" d="M283.1 112.7l.9-.4 .9-.7 2.4 .7 -.9 .7 -.9 .3z"/>
<path class="k1" d="M282.2 112.3l.4 .3 2.9 .7 -.5-.1 -.4-.4z"/>
<path class="k2" d="M281.3 110.9l.9 1.4 2.4 .5 -.9-1.7z"/>
<path class="k3" d="M280.4 109.5l.9 1.4 2.4 .2 -.9-1.8z"/>
<path class="k4" d="M279 108.3l1.4 1.2 2.4-.2 -1.4-2.1z"/>
<path class="k5" d="M275.6 110.3l1-2 .5-.7 .5-.2 .4 .1 1 .8 2.4-1.1 -.9-1.3 -.5-.1 -.4 .2 -.5 .8 -1 2.5z"/>
<path class="k4" d="M274.2 112.9l1.4-2.6 2.5-1 -1.5 3.4z"/>
<path class="k3" d="M273.2 114.8l1-1.9 2.4-.2 -1 2.4z"/>
<path class="k2" d="M272.2 117.4l1-2.6 2.4 .3 -1 2.8z"/>
<path class="k1" d="M271.2 118.8l1-1.4 2.4 .5 -.9 1.6z"/>
<path class="k0" d="M259.4 124.7l1.6-.5 2.1-1 6.1-3.1 2-1.3 2.5 .7 -2 1.3 -5.6 2.9 -2.6 1.3 -1.6 .5z"/>
<path class="k1" d="M257.2 124.5l1.1 .2 1.1 0 2.5 .8 -1.1-.1 -1.1-.4z"/>
<path class="k2" d="M255.1 124.1l1.1 0 3.5 .9 -1-.4 -1.1-.2z"/>
<path class="k3" d="M254 124.7l1.1-.6 2.5 .3 -1.1 .7z"/>
<path class="k1" d="M310.9 99.6l2.7 .5 -.4-.2z"/>
<path class="k2" d="M309.8 98.7l1.1 .9 2.3 .3 -1.1-1.2z"/>
<path class="k3" d="M308.7 97.6l1.1 1.1 2.3 0 -1.1-1.4z"/>
<path class="k4" d="M305.6 96.6l2.3 .5 .8 .5 2.3-.3 -1-.5 -2 .1z"/>
<path class="k5" d="M303.7 94.8l1.9 1.8 2.4 .3 -.7-.4 -1.3-1.1z"/>
<path class="k6" d="M300.4 96.6l.9-1.4 1-.9 .6 0 .8 .5 2.3 .6 -.7-.5 -.6 .1 -.6 .3 -1.3 1.9z"/>
<path class="k5" d="M299.1 99.5l1.3-2.9 2.4 .6 -1.3 2.9z"/>
<path class="k4" d="M297.8 102.6l1.3-3.1 2.4 .6 -1.3 3.2z"/>
<path class="k3" d="M296.5 105.4l1.3-2.8 2.4 .7 -1.3 2.7z"/>
<path class="k2" d="M295.2 107.4l1.3-2 2.4 .6 -1.3 2.1z"/>
<path class="k1" d="M293 109.5l1.3-1.1 .9-1 2.4 .7 -.9 1 -1.3 1z"/>
<path class="k0" d="M292.6 109.7l.4-.2 2.4 .6 -.4 .2z"/>
<path class="k1" d="M287.3 112.3l1.8-1.7 .9-.5 2.6-.4 2.4 .6 -2.2 .3 -.8 .4 -2.3 2z"/>
<path class="k0" d="M285.5 113.3l.9-.3 .9-.7 2.4 .7 -.9 .6 -.9 .3z"/>
<path class="k1" d="M284.6 112.8l.4 .4 2.9 .7 -.4-.1 -.5-.5z"/>
<path class="k2" d="M284.1 112.1l.5 .7 2.4 .5 -.4-.9z"/>
<path class="k3" d="M283.3 110.1l.8 2 2.5 .3 -.9-2.3z"/>
<path class="k4" d="M282.3 108.7l1 1.4 2.4 0 -.9-1.9z"/>
<path class="k5" d="M281 106.5l1.3 2.2 2.5-.5 -1.3-3.1z"/>
<path class="k6" d="M278.6 107.9l1-1.9 .4-.2 .5 .1 .5 .6 2.5-1.4 -.5-.7 -.5-.3 -.4 .3 -1 2.2z"/>
<path class="k5" d="M277.6 110.6l1-2.7 2.5-1.3 -1 3.3z"/>
<path class="k4" d="M276.1 113.7l1.5-3.1 2.5-.7 -1.5 3.9z"/>
<path class="k3" d="M275.1 116.6l1-2.9 2.5 .1 -1 3.2z"/>
<path class="k2" d="M274.6 117.9l.5-1.3 2.5 .4 -.5 1.5z"/>
<path class="k1" d="M273.7 119.5l.9-1.6 2.5 .6 -1 1.6z"/>
<path class="k0" d="M261.9 125.5l1.6-.5 2.6-1.3 5.6-2.9 2-1.3 2.4 .6 -1.4 1.2 -5.1 2.7 -3.6 1.8 -1.6 .4z"/>
<path class="k1" d="M260.3 125.3l1.6 .2 2.5 .7 -1.6-.3z"/>
<path class="k2" d="M258.7 124.6l1.6 .7 2.5 .6 -1.6-.9z"/>
<path class="k3" d="M256.5 125.1l.5-.5 1.1-.2 3.1 .6 -1.1-.2 -1.1 .7z"/>
<path class="k1" d="M313.2 99.9l.4 .2 2.3 .4 -.4-.3z"/>
<path class="k2" d="M312.5 99.1l.7 .8 2.3 .3 -.7-1z"/>
<path class="k3" d="M311.4 97.7l1.1 1.4 2.3 .1 -1-1.7z"/>
<path class="k4" d="M308.8 97l1.5-.1 1.1 .8 2.4-.2 -.7-.7 -.5-.2 -1.5 .4z"/>
<path class="k5" d="M306 95.4l1.3 1.1 .7 .4 3.1 .1 -1.1 .1 -1.6-1.1z"/>
<path class="k6" d="M302.8 97.2l.8-1.4 1.1-.8 .6-.1 .7 .5 2.4 .6 -.8-.4 -.6 0 -.6 .4 -1.2 1.9z"/>
<path class="k5" d="M301.5 100.1l1.3-2.9 2.4 .7 -1.3 2.9z"/>
<path class="k4" d="M300.2 103.3l1.3-3.2 2.4 .7 -1.3 3.1z"/>
<path class="k3" d="M298.9 106l1.3-2.7 2.4 .6 -1.3 2.8z"/>
<path class="k2" d="M297.6 108.1l1.3-2.1 2.4 .7 -1.3 2z"/>
<path class="k1" d="M295.4 110.1l1.3-1 .9-1 2.4 .6 -.9 1.1 -1.3 1z"/>
<path class="k0" d="M295 110.3l.4-.2 2.4 .7 -.4 .2z"/>
<path class="k1" d="M289.3 113.4l2.2-2.1 .9-.5 2.6-.5 2.4 .7 -2.1 .3 -.9 .3 -2.7 2.4z"/>
<path class="k0" d="M288.4 113.8l.9-.4 2.4 .6 -.9 .5z"/>
<path class="k1" d="M287 113.3l.5 .5 .9 0 2.4 .7 -.4 0 -.5-.2 -.4-.5z"/>
<path class="k2" d="M286.6 112.4l.4 .9 2.5 .5 -.5-1z"/>
<path class="k3" d="M285.7 110.1l.9 2.3 2.4 .4 -.8-2.7z"/>
<path class="k4" d="M285.3 109.1l.4 1 2.5 0 -.5-1.3z"/>
<path class="k5" d="M284.4 107.2l.9 1.9 2.4-.3 -.8-2.4z"/>
<path class="k6" d="M283 104.4l1.4 2.8 2.5-.8 -1.4-3.5z"/>
<path class="k7" d="M281.6 105.3l.5-.9 .4-.3 .5 .3 2.5-1.5 -.5-.4 -.4 .3 -.5 .9z"/>
<path class="k6" d="M280.6 108.2l1-2.9 2.5-1.6 -1 3.4z"/>
<path class="k5" d="M279.6 111.3l1-3.1 2.5-1.1 -1 3.8z"/>
<path class="k4" d="M278.6 113.8l1-2.5 2.5-.4 -1 2.9z"/>
<path class="k3" d="M277.6 117l1-3.2 2.5 0 -1 3.6z"/>
<path class="k2" d="M277.1 118.5l.5-1.5 2.5 .4 -.5 1.6z"/>
<path class="k1" d="M276.1 120.1l1-1.6 2.5 .5 -1 1.8z"/>
<path class="k0" d="M264.4 126.2l1.6-.4 3.6-1.8 5.1-2.7 1.4-1.2 2.5 .7 -1.5 1.2 -2.9 1.7 -5.2 2.6 -2.1 .7z"/>
<path class="k1" d="M262.8 125.9l1.6 .3 2.5 .8 -.5-.1 -1-.3z"/>
<path class="k2" d="M261.2 125l1.6 .9 2.6 .7 -1.7-1.1z"/>
<path class="k3" d="M259 125.5l.6-.5 1-.2 3.1 .7 -1-.3 -1.1 .6z"/>
<path class="k2" d="M314.8 99.2l1.1 1.3 1 .2 -1-1.3z"/>
<path class="k3" d="M314.1 98.1l.7 1.1 1.1 .2 -.7-1.2z"/>
<path class="k4" d="M312.7 96.6l.6 .4 .8 1.1 1.1 .1 -.8-1.1 -.7-.5z"/>
<path class="k5" d="M308.4 96l1.2 .9 .6 .2 .7 0 1.4-.5 1.4 0 -2.4 .7 -.8-.2 -1-.8z"/>
<path class="k6" d="M305.2 97.9l.8-1.4 .8-.8 .8-.1 1.9 .7 -.8-.4 -.6 0 -.6 .4 -1.2 1.9z"/>
<path class="k5" d="M303.9 100.8l1.3-2.9 1.1 .3 -1.3 2.9z"/>
<path class="k4" d="M302.6 103.9l1.3-3.1 1.1 .3 -1.3 3.1z"/>
<path class="k3" d="M301.3 106.7l1.3-2.8 1.1 .3 -1.3 2.8z"/>
<path class="k2" d="M300 108.7l1.3-2 1.1 .3 -1.3 2z"/>
<path class="k1" d="M297.8 110.8l1.3-1 .9-1.1 1.1 .3 -.9 1.1 -1.3 1z"/>
<path class="k0" d="M297.4 111l.4-.2 1.1 .3 -.4 .2z"/>
<path class="k1" d="M291.7 114l2.2-2.1 .9-.5 2.6-.4 1.1 .3 -2.1 .3 -.9 .3 -2.7 2.4z"/>
<path class="k0" d="M290.8 114.5l.9-.5 1.1 .3 -.9 .5z"/>
<path class="k1" d="M289.5 113.8l.4 .5 2 .5 -.4 0 -.5-.2 -.4-.6z"/>
<path class="k2" d="M289 112.8l.5 1 1.1 .2 -.4-1z"/>
<path class="k3" d="M288.6 111.5l.4 1.3 1.2 .2 -.5-1.4z"/>
<path class="k4" d="M287.7 108.8l.9 2.7 1.1 .1 -.8-2.9z"/>
<path class="k5" d="M286.9 106.4l.8 2.4 1.2-.1 -.9-2.7z"/>
<path class="k6" d="M286 103.8l.9 2.6 1.1-.4 -.9-2.9z"/>
<path class="k7" d="M283.6 105.3l1-2.5 .4-.3 .5 .4 .5 .9 1.1-.7 -.4-1 -.5-.4 -.5 .3 -1 2.7z"/>
<path class="k6" d="M282.6 109.1l1-3.8 1.1-.6 -1 4.1z"/>
<path class="k5" d="M281.6 112.3l1-3.2 1.1-.3 -1 3.5z"/>
<path class="k4" d="M280.6 115.6l1-3.3 1.1 0 -1 3.4z"/>
<path class="k3" d="M280.1 117.4l.5-1.8 1.1 .1 -.5 1.9z"/>
<path class="k2" d="M279.6 119l.5-1.6 1.1 .2 -.5 1.6z"/>
<path class="k1" d="M278.6 120.8l1-1.8 1.1 .2 -.9 1.9z"/>
<path class="k0" d="M266.9 127l2.1-.7 5.2-2.6 2.9-1.7 1.5-1.2 1.2 .3 -2 1.6 -7.6 4 -2.1 .6z"/>
<path class="k1" d="M265.4 126.6l2.2 .6 -1.1-.5z"/>
<path class="k2" d="M264.3 125.8l1.1 .8 1.1 .1 -1.1-.9z"/>
<path class="k3" d="M261.6 125.8l1.1-.6 .5 0 1.1 .6 1.1 0 -1-.7 -.6-.1 -.5 .2 -.6 .5z"/>
<path class="k2" d="M315.9 99.4l.7 1 .7 .4 -1.1-1.3z"/>
<path class="k3" d="M315.2 98.2l.7 1.2 .3 .1 -.7-1.3z"/>
<path class="k4" d="M313.9 96.7l.6 .4 .7 1.1 .3 0 -.7-1 -.6-.5z"/>
<path class="k5" d="M309.5 96.3l1 .8 .8 .2 .5 0 1.5-.7 .8 .1 -2.5 .7 -.7-.3 -1-.7z"/>
<path class="k6" d="M306.7 97.4l.8-1.1 .6-.4 .6 0 1.2 .5 -.8-.4 -.6 0 -.6 .4 -.8 1.1z"/>
<path class="k5" d="M305 101.1l1.7-3.7 .4 .1 -1.8 3.7z"/>
<path class="k4" d="M303.7 104.2l1.3-3.1 .3 .1 -1.3 3.1z"/>
<path class="k3" d="M302.4 107l1.3-2.8 .3 .1 -1.3 2.8z"/>
<path class="k2" d="M301.1 109l1.3-2 .3 .1 -1.3 2z"/>
<path class="k1" d="M299.4 110.8l1.7-1.8 .3 .1 -1.7 1.8z"/>
<path class="k0" d="M298.5 111.3l.9-.5 .3 .1 -.8 .5z"/>
<path class="k1" d="M292.8 114.3l2.7-2.4 .9-.3 2.1-.3 .4 .1 -2.2 .3 -.8 .3 -2.7 2.4z"/>
<path class="k0" d="M291.9 114.8l.9-.5 .4 .1 -.9 .5z"/>
<path class="k1" d="M291 114.6l1.3 .3 -.5 0 -.4-.2z"/>
<path class="k2" d="M290.2 113l.4 1 .4 .6 .4 .1 -.9-1.7z"/>
<path class="k3" d="M289.7 111.6l.5 1.4 .3 0 -.4-1.3z"/>
<path class="k4" d="M288.9 108.7l.8 2.9 .4 .1 -.9-3z"/>
<path class="k5" d="M288.4 107.4l.5 1.3 .3 0 -.4-1.4z"/>
<path class="k6" d="M287.6 104.5l.8 2.9 .4-.1 -.9-3z"/>
<path class="k7" d="M284.7 104.7l1-2.7 .5-.3 .5 .4 .9 2.4 .3-.2 -.9-2.4 -.4-.4 -.5 .3 -1 2.7z"/>
<path class="k6" d="M283.7 108.8l1-4.1 .4-.2 -1 4.1z"/>
<path class="k5" d="M282.7 112.3l1-3.5 .4-.2 -1 3.6z"/>
<path class="k4" d="M281.7 115.7l1-3.4 .4-.1 -1 3.6z"/>
<path class="k3" d="M281.2 117.6l.5-1.9 .4 .1 -.5 1.9z"/>
<path class="k2" d="M280.7 119.2l.5-1.6 .4 .1 -.5 1.6z"/>
<path class="k1" d="M279.8 121.1l.9-1.9 .4 .1 -1 1.9z"/>
<path class="k0" d="M268.1 127.3l1.6-.4 3.6-1.8 4.5-2.4 2-1.6 .3 .1 -.5 .5 -1.9 1.4 -7.1 3.7 -1.1 .4 -1 .2z"/>
<path class="k1" d="M267 127l.4 .1z"/>
<path class="k2" d="M265.4 125.8l1.1 .9 .9 .4 -1.6-1.3z"/>
<path class="k3" d="M262.7 125.7l.6-.5 .5-.2 .6 .1 1 .7 .4 0 -1.1-.7 -.5-.1 -.5 .2 -.6 .5z"/>
<path class="k2" d="M316.2 99.5l.7 1 .7 .5 -1-1.2z"/>
<path class="k3" d="M315.5 98.2l.4 .6z"/>
<path class="k4" d="M311.4 97.4l.8-.1 1.5-.6 .5 0 .7 .6 1 1.5 -.8-.7 -.6 .2 -.3 .3 -2.6 5.1z"/>
<path class="k3" d="M310.3 96.7l1.1 .7 .2 6.3 -1.2 1.7z"/>
<path class="k4" d="M306.6 98.3l.9-1.4 1-.9 .7 0 1.1 .7 .1 8.7 -1.3 1.2 -2.4 1.4z"/>
<path class="k3" d="M304.5 103.3l2.1-5 .1 9.7 -2 1z"/>
<path class="k2" d="M302.7 107.1l1.8-3.8 .2 5.7 -1.7 .9z"/>
<path class="k1" d="M300.6 110.2l1.3-1.7 .8-1.4 .3 2.8 -2.1 1.1z"/>
<path class="k0" d="M298.4 111.5l.9-.3 1.3-1 .3 .8 -2.1 .8z"/>
<path class="k1" d="M293.2 114.4l2.7-2.4 .8-.3 1.7-.2 .4 .3 -1.7 .1 -.9 .3 -2.6 2.3z"/>
<path class="k0" d="M292.3 114.9l.9-.5 .4 .1 -.9 .5z"/>
<path class="k1" d="M291.4 114.7l1.3 .3 -.5 0 -.4-.3z"/>
<path class="k2" d="M290.5 113l.5 1.1 .4 .6 .4 0 -.9-1.6z"/>
<path class="k3" d="M290.1 111.7l.4 1.3 .4 .1 -.4-1.4z"/>
<path class="k4" d="M289.2 108.7l.9 3 .4 0 -.9-3.1z"/>
<path class="k5" d="M288.8 107.3l.4 1.4 .4-.1 -.4-1.4z"/>
<path class="k6" d="M287.9 104.3l.9 3 .4-.1 -.9-3z"/>
<path class="k7" d="M284.6 106.5l1-3.7 .5-1 .5-.3 .4 .4 .9 2.4 .4-.1 -.9-2.5 -.4-.5 -.5 .3 -.5 1.1 -1 3.7z"/>
<path class="k6" d="M284.1 108.6l.5-2.1 .4-.2 -.5 2.2z"/>
<path class="k5" d="M283.1 112.2l1-3.6 .4-.1 -1 3.7z"/>
<path class="k4" d="M282.1 115.8l1-3.6 .4 0 -1 3.6z"/>
<path class="k3" d="M281.6 117.7l.5-1.9 .4 0 -.5 2z"/>
<path class="k2" d="M281.1 119.3l.5-1.6 .4 .1 -.5 1.6z"/>
<path class="k1" d="M280.1 121.2l1-1.9 .4 .1 -1 1.9z"/>
<path class="k0" d="M268.5 127.4l1.6-.4 3-1.5 5.1-2.7 1.9-1.6 .4 .1 -.5 .5 -2 1.4 -7 3.7 -1.1 .4 -1 .2z"/>
<path class="k1" d="M267.4 127.1l.4 .1z"/>
<path class="k2" d="M265.8 125.8l1.1 1 .9 .4 -1.6-1.3z"/>
<path class="k3" d="M263.1 125.7l.6-.5 .5-.2 .5 .1 1.1 .7 .4 .1 -1.1-.9 -.5-.1 -.6 .2 -.5 .5z"/>
<path class="k2" d="M316.6 99.8l.7 .9 .7 .3 -1.1-1.2z"/>
<path class="k3" d="M315.5 98.4l1.1 1.4 .3 0 -1-1.4z"/>
<path class="k4" d="M313.6 99.5l.6-.9 .5-.4 1.2 .2 -.6-.2 -.6 .2 -.8 1.2z"/>
<path class="k3" d="M312.4 102.1l1.2-2.6 .3 .1 -1.1 2.5z"/>
<path class="k2" d="M311.4 104l1-1.9 .4 0 -1 2z"/>
<path class="k1" d="M310.2 105.6l1.2-1.6 .4 .1 -1.2 1.6z"/>
<path class="k0" d="M298.8 111.8l2.5-1 7-3.7 1.9-1.5 .4 .1 -1.2 1 -1.9 1.1 -6.6 3.5 -1.7 .6z"/>
<path class="k1" d="M293.6 114.5l2.6-2.3 .9-.3 2.1 0 -1.7 .1 -.9 .3 -2.7 2.4z"/>
<path class="k0" d="M292.7 115l.9-.5 .3 .2 -.9 .4z"/>
<path class="k1" d="M291.8 114.7l1.2 .4 -.4 0 -.5-.3z"/>
<path class="k2" d="M290.9 113.1l.4 1 .5 .6 .3 .1 -.8-1.7z"/>
<path class="k3" d="M290.5 111.7l.4 1.4 .4 0 -.4-1.4z"/>
<path class="k4" d="M290.1 110.1l.4 1.6 .4 0 -.5-1.6z"/>
<path class="k5" d="M289.2 107.2l.9 2.9 .3 0 -.8-2.9z"/>
<path class="k6" d="M288.3 104.2l.9 3 .4 0 -.9-3.2z"/>
<path class="k7" d="M287 101.2l.4 .5 .9 2.5 .4-.2 -.9-2.6 -.5-.4z"/>
<path class="k8" d="M286.5 101.5l.4-.2z"/>
<path class="k7" d="M285 106.3l1-3.7 .5-1.1 .4-.2 -.5 1 -1 3.9z"/>
<path class="k6" d="M284.5 108.5l.5-2.2 .4-.1 -.5 2.2z"/>
<path class="k5" d="M283.5 112.2l1-3.7 .4-.1 -1 3.8z"/>
<path class="k4" d="M282.5 115.8l1-3.6 .4 0 -1 3.6z"/>
<path class="k3" d="M282 117.8l.5-2 .4 0 -.5 2z"/>
<path class="k2" d="M281.5 119.4l.5-1.6 .4 0 -.5 1.7z"/>
<path class="k1" d="M280.5 121.3l1-1.9 .4 .1 -1 1.9z"/>
<path class="k0" d="M268.9 127.5l1.5-.3 3.1-1.6 5-2.7 2-1.6 .4 .1 -.5 .5 -2 1.4 -7.1 3.8 -1 .4 -1 .1z"/>
<path class="k1" d="M267.8 127.2l.9 .3 -.5-.2z"/>
<path class="k2" d="M266.2 125.9l1.1 .9 .9 .5 -1.6-1.4z"/>
<path class="k3" d="M264.6 124.9l.5 .1 1.1 .9 .4 0 -1.1-.9 -.5-.1z"/>
<path class="k4" d="M264 125.1l.4 0z"/>
<path class="k3" d="M263.5 125.6l.5-.5 .4 0 -.5 .5z"/>
<path class="k2" d="M316.9 99.8l.7 .9 .6 .4 -1-1.2z"/>
<path class="k3" d="M315.9 98.4l1 1.4 .3 .1 -1.1-1.4z"/>
<path class="k4" d="M313.7 99.9l1.2-1.6 .5-.1 .7 .3 -.6-.3 -.8 .5 -.7 1.3z"/>
<path class="k3" d="M312.7 102.2l1-2.3 .3 .1 -1 2.2z"/>
<path class="k2" d="M311.8 104.1l.9-1.9 .3 0 -1 2z"/>
<path class="k1" d="M310.6 105.7l1.2-1.6 .2 .1 -1.2 1.6z"/>
<path class="k0" d="M299.2 111.9l2.5-1 7-3.7 1.9-1.5 .2 .1 -1.1 1 -2 1.1 -6.6 3.5 -1.7 .6z"/>
<path class="k1" d="M293.9 114.7l2.7-2.4 .9-.3 1.9 0 -1.7 0 -.9 .3 -2.6 2.4z"/>
<path class="k0" d="M293 115.1l.9-.4 .3 0 -.9 .4z"/>
<path class="k1" d="M292.1 114.8l.5 .3 .7 0 -.5 0 -.4-.2z"/>
<path class="k2" d="M291.3 113.1l.4 1.1 .4 .6 .3 .1 -.9-1.7z"/>
<path class="k3" d="M290.9 111.7l.4 1.4 .2 .1 -.4-1.5z"/>
<path class="k4" d="M290.4 110.1l.5 1.6 .2 0 -.4-1.6z"/>
<path class="k5" d="M289.6 107.2l.8 2.9 .3 0 -.9-3z"/>
<path class="k6" d="M288.7 104l.9 3.2 .2-.1 -.9-3.2z"/>
<path class="k7" d="M287.8 101.4l.9 2.6 .2-.1 -.8-2.6z"/>
<path class="k8" d="M286.9 101.3l.4-.3 .5 .4 .3-.1 -.5-.5 -.5 .3z"/>
<path class="k7" d="M285.4 106.2l1-3.9 .5-1 .2-.2 -.5 1.1 -1 3.9z"/>
<path class="k6" d="M284.4 110.4l1-4.2 .2-.1 -1 4.3z"/>
<path class="k5" d="M283.9 112.2l.5-1.8 .2 0 -.5 1.8z"/>
<path class="k4" d="M282.9 115.8l1-3.6 .2 0 -1 3.7z"/>
<path class="k3" d="M282.4 117.8l.5-2 .2 .1 -.5 2z"/>
<path class="k2" d="M281.9 119.5l.5-1.7 .2 .1 -.5 1.6z"/>
<path class="k1" d="M280.9 121.4l1-1.9 .2 0 -1 2z"/>
<path class="k0" d="M269.8 127.6l2.1-.8 5-2.7 2.5-1.4 1.5-1.3 .2 .1 -.9 .9 -2 1.3 -6.1 3.2 -2.1 .7z"/>
<path class="k1" d="M268.2 127.3l.5 .2 1.3 .1 -.5 .1 -1-.4z"/>
<path class="k2" d="M267.1 126.4l1.4 .9 -1.1-.9z"/>
<path class="k3" d="M265 124.9l.5 .1 1.6 1.4 .3 0 -1.1-1.1 -1.1-.5z"/>
<path class="k4" d="M263.9 125.6l.5-.5 .8-.3 -.5 .2 -.5 .5z"/>
<path class="k2" d="M317.2 99.9l1 1.2 2.4 .5 -1-1.4z"/>
<path class="k3" d="M316.5 98.9l.7 1 2.4 .3 -.7-1.1z"/>
<path class="k4" d="M314 100l.7-1.3 .6-.5 .5 .1 .7 .6 2.4 .2 -.5-.5 -.5-.3 -.7 .5 -.8 1.4z"/>
<path class="k3" d="M313 102.2l1-2.2 2.4 .2 -1 2.4z"/>
<path class="k2" d="M312 104.2l1-2 2.4 .4 -1 2.1z"/>
<path class="k1" d="M310.8 105.8l1.2-1.6 2.4 .5 -1.2 1.7z"/>
<path class="k0" d="M299.4 112l1.7-.6 6.6-3.5 2-1.1 1.1-1 2.4 .6 -1.1 1 -2 1.1 -6.5 3.6 -1.7 .5z"/>
<path class="k1" d="M294.2 114.7l2.2-2.1 .9-.5 2.1-.1 2.5 .6 -1.7 .1 -.9 .3 -2.6 2.4z"/>
<path class="k0" d="M293.3 115.1l.9-.4 2.5 .7 -.9 .4z"/>
<path class="k1" d="M292.4 114.9l2.9 .9 -.4-.3z"/>
<path class="k2" d="M291.5 113.2l.9 1.7 2.5 .6 -.9-1.9z"/>
<path class="k3" d="M291.1 111.7l.4 1.5 2.5 .4 -.4-1.6z"/>
<path class="k4" d="M290.7 110.1l.4 1.6 2.5 .3 -.4-1.8z"/>
<path class="k5" d="M289.8 107.1l.9 3 2.5 .1 -.8-3.6z"/>
<path class="k6" d="M289.4 105.5l.4 1.6 2.6-.5 -.5-1.9z"/>
<path class="k7" d="M288.5 102.4l.9 3.1 2.5-.8 -.8-3.7z"/>
<path class="k8" d="M286.6 102.2l.5-1.1 .5-.3 .5 .5 .4 1.1 2.6-1.4 -.5-1.3 -.4-.6 -.5 .3 -.5 1.2z"/>
<path class="k7" d="M285.6 106.1l1-3.9 2.6-1.6 -1 4.4z"/>
<path class="k6" d="M284.6 110.4l1-4.3 2.6-1.1 -1 4.9z"/>
<path class="k5" d="M283.6 113.9l1-3.5 2.6-.5 -1 4z"/>
<path class="k4" d="M283.1 115.9l.5-2 2.6 0 -.5 2.2z"/>
<path class="k3" d="M282.6 117.9l.5-2 2.6 .2 -.5 2.2z"/>
<path class="k2" d="M281.6 120.7l1-2.8 2.6 .4 -1 3.1z"/>
<path class="k1" d="M280.7 122l.9-1.3 2.6 .7 -1 1.3z"/>
<path class="k0" d="M270 127.6l1.6-.5 2.1-1 5-2.7 2-1.4 2.5 .7 -2 1.5 -5.5 3 -2 1 -1.1 .2z"/>
<path class="k1" d="M268.5 127.3l3.6 1.1 -1-.6z"/>
<path class="k2" d="M267.4 126.4l1.1 .9 2.6 .5 -1.1-1.2z"/>
<path class="k3" d="M265.8 125l1.6 1.4 2.6 .2 -1.6-1.9z"/>
<path class="k4" d="M264.2 125.5l.5-.5 .5-.2 .6 .2 2.6-.3 -.5-.2 -.6 .1 -.5 .6z"/>
<path class="k2" d="M319.9 100.8l.7 .8 2.4 .5 -.7-.9z"/>
<path class="k3" d="M318.9 99.1l1 1.7 2.4 .4 -1-1.9z"/>
<path class="k4" d="M316.2 100.6l.8-1.5 .5-.7 .6 0 .8 .7 2.4 .2 -.5-.6 -.5-.2 -.7 .5 -1 1.9z"/>
<path class="k3" d="M315.2 103l1-2.4 2.4 .3 -1 2.5z"/>
<path class="k2" d="M314.2 105l1-2 2.4 .4 -1 2.1z"/>
<path class="k1" d="M313.1 106.6l1.1-1.6 2.4 .5 -1.1 1.7z"/>
<path class="k0" d="M301.9 112.6l1.7-.5 5.7-3.1 2.4-1.4 1.4-1 2.4 .6 -1.2 .9 -2.1 1.3 -6.2 3.4 -1.7 .5z"/>
<path class="k1" d="M297.1 115l1.8-1.7 .8-.5 2.2-.2 2.4 .7 -1.6 .1 -.9 .3 -2.2 2.1z"/>
<path class="k0" d="M295.3 115.8l.9-.1 .9-.7 2.5 .8 -1.8 1.4z"/>
<path class="k1" d="M294.5 114.8l.4 .7 2.9 1.7 -.9 .2z"/>
<path class="k2" d="M293.6 112l.9 2.8 2.4 2.6 -.8-.4z"/>
<path class="k3" d="M292.8 108.3l.8 3.7 2.5 5 -.5 0 -.5 .4z"/>
<path class="k4" d="M291.5 102.7l3.6 14.7 -1.3 1.9z"/>
<path class="k5" d="M288.2 105l1-4.4 .5-1.2 .5-.3 .4 .6 .9 3 2.3 16.6 -1 .7 -2.3 1.2z"/>
<path class="k4" d="M286.7 112l1.5-7 2.3 16.2 -.5 .1 -.9-.6z"/>
<path class="k3" d="M285.7 116.1l1-4.1 2.4 8.7 -.4-.1 -.5 .4z"/>
<path class="k2" d="M284.7 120.1l1-4 2.5 4.9 -1 1.7z"/>
<path class="k1" d="M283.7 122.2l1-2.1 2.5 2.6 -1 .9z"/>
<path class="k0" d="M272.6 128.4l2.1-.7 6-3.3 2-1.2 1-1 2.5 1.4 -8.9 4.9 -1 .5 -1.1 .1z"/>
<path class="k1" d="M271.6 128.2l3.1 .9 -.5-.3z"/>
<path class="k2" d="M270.5 127.3l1.1 .9 2.6 .6 -1.1-1.1z"/>
<path class="k3" d="M269.5 125.9l1 1.4 2.6 .4 -1-1.8z"/>
<path class="k4" d="M266.8 125.2l.5-.6 .6-.1 .5 .2 1.1 1.2 2.6 0 -1.1-1.5 -.5-.3 -.5 .2 -.6 .6z"/>
<path class="k2" d="M322.3 101.2l.7 .9 2.4 .5 -.7-1z"/>
<path class="k3" d="M321.6 100l.7 1.2 2.4 .4 -.7-1.3z"/>
<path class="k4" d="M318.4 101.4l1-2.1 .8-.8 .6 .2 .8 1.3 2.4 .3 -.6-1.3 -.6-.4 -.5 .2 -.4 .6 -1 2.3z"/>
<path class="k3" d="M317.4 103.9l1-2.5 2.5 .3 -1 2.6z"/>
<path class="k2" d="M316.6 105.5l.8-1.6 2.5 .4 -.8 1.8z"/>
<path class="k1" d="M315.5 107.2l1.1-1.7 2.5 .6 -1.2 1.7z"/>
<path class="k0" d="M304.3 113.3l1.7-.5 6.2-3.4 2.1-1.3 1.2-.9 2.4 .6 -1.1 1 -1.8 1 -6.5 3.6 -1.7 .6z"/>
<path class="k1" d="M299.6 115.8l1.8-1.8 .8-.5 2.1-.2 2.5 .7 -1.6 .1 -.9 .3 -2.2 2.1z"/>
<path class="k0" d="M296.9 117.4l.9-.2 1.8-1.4 2.5 .7 -1.8 1.4 -.8 .2z"/>
<path class="k1" d="M294.2 118.7l.9-1.3 .5-.4 3.9 1.1 -.9-.3 -.5 0 -.4 .3 -.9 1.4z"/>
<path class="k0" d="M290 121.3l1-.3 1.8-1 1.4-1.3 2.6 .8 -1.4 1.2 -1.9 1.1 -.9 .2z"/>
<path class="k1" d="M288.7 120.6l1.3 .7 2.6 .7 -1.4-.7z"/>
<path class="k2" d="M288.2 121l.5-.4 2.5 .7 -.5 .5z"/>
<path class="k1" d="M287.2 122.7l1-1.7 2.5 .8 -.9 1.6z"/>
<path class="k0" d="M275.2 129.1l1.6-.3 2-1.1 7-3.8 .9-.7 .5-.5 2.6 .7 -.5 .6 -1 .7 -7.4 4.1 -2 1 -1 .1z"/>
<path class="k1" d="M274.2 128.8l3.1 1 -.5-.3z"/>
<path class="k2" d="M273.1 127.7l1.1 1.1 2.6 .7 -1-1.3z"/>
<path class="k3" d="M272.1 125.9l1 1.8 2.7 .5 -1.1-1.9z"/>
<path class="k4" d="M270.5 124.1l.5 .3 1.1 1.5 2.6 .4 -1-1.7 -.5-.3z"/>
<path class="k5" d="M269.4 124.9l.6-.6 .5-.2 2.7 .2 -.6 .1 -.5 .6z"/>
<path class="k2" d="M324.7 101.6l.7 1 2.4 .5 -.7-1.1z"/>
<path class="k3" d="M324 100.3l.7 1.3 2.4 .4 -.6-1.4z"/>
<path class="k4" d="M323 98.7l1 1.6 2.5 .3 -1-1.7z"/>
<path class="k5" d="M322 99.1l.6-.5 2.6 .2 -.7 .5z"/>
<path class="k4" d="M320.7 102.2l1.3-3.1 2.5 .2 -1.4 3.2z"/>
<path class="k3" d="M319.9 104.3l.8-2.1 2.4 .3 -.8 2.3z"/>
<path class="k2" d="M319 106.2l.9-1.9 2.4 .5 -.8 2z"/>
<path class="k1" d="M317.9 107.8l1.1-1.6 2.5 .6 -1.1 1.6z"/>
<path class="k0" d="M306.8 114l1.7-.6 6.5-3.6 1.8-1 1.1-1 2.5 .6 -1.2 1 -1.7 1.1 -6.5 3.6 -1.6 .6z"/>
<path class="k1" d="M302.1 116.5l1.8-1.8 .8-.5 2.1-.2 2.6 .7 -1.7 .1 -.9 .3 -2.1 2.1z"/>
<path class="k0" d="M299.5 118.1l.8-.2 1.8-1.4 2.6 .7 -1.8 1.4 -.9 .3z"/>
<path class="k1" d="M296.8 119.5l.9-1.4 .4-.3 3.1 .7 -.5 0 -.4 .4 -1 1.3z"/>
<path class="k0" d="M292.6 122l.9-.2 1.9-1.1 1.4-1.2 2.5 .7 -1.3 1.3 -1.9 1 -.9 .3z"/>
<path class="k1" d="M291.2 121.3l1.4 .7 2.6 .8 -1.4-.7z"/>
<path class="k2" d="M290.7 121.8l.5-.5 2.6 .8 -.4 .4z"/>
<path class="k1" d="M289.8 123.4l.9-1.6 2.7 .7 -1 1.7z"/>
<path class="k0" d="M277.9 129.9l1-.1 2-1 7.4-4.1 1-.7 .5-.6 2.6 .8 -.5 .6 -1 .7 -8.3 4.7 -2.1 .8z"/>
<path class="k1" d="M276.3 129l1 .8 3.2 1.2 -1.5-.1z"/>
<path class="k2" d="M275.3 127.3l1 1.7 1.6 1.2z"/>
<path class="k3" d="M274.2 125.3l1.1 2 2.6 2.9 -1-.9z"/>
<path class="k4" d="M272.1 125l.5-.6 .6-.1 .5 .3 3.2 4.7 -1.1-.3 -.5 .2 -.5 .5z"/>
<path class="k2" d="M327.1 102l.7 1.1 2.5 .5 -.7-1.2z"/>
<path class="k3" d="M326.5 100.6l.6 1.4 2.5 .4 -.6-1.5z"/>
<path class="k4" d="M325.7 99.1l.8 1.5 2.5 .3 -.8-1.6z"/>
<path class="k5" d="M324.1 100l.6-.9 .4-.3 .3 0 .3 .3 2.5 .2 -.5-.4 -.5 .3 -.6 1z"/>
<path class="k4" d="M323.1 102.6l1-2.6 2.5 .2 -1 2.7z"/>
<path class="k3" d="M322.3 104.9l.8-2.3 2.5 .3 -.8 2.4z"/>
<path class="k2" d="M321.3 107l1-2.1 2.5 .4 -1 2.2z"/>
<path class="k1" d="M320.3 108.5l1-1.5 2.5 .5 -1.1 1.7z"/>
<path class="k0" d="M309.4 114.7l1.6-.6 5.7-3.1 2.4-1.4 1.2-1.1 2.4 .7 -1.1 1 -2 1.2 -6 3.4 -1.7 .6z"/>
<path class="k1" d="M304.7 117.2l1.7-1.8 .9-.5 2.1-.2 2.5 .7 -1.7 .1 -.8 .3 -2.2 2.2z"/>
<path class="k0" d="M302 118.9l.9-.3 1.8-1.4 2.5 .8 -1.7 1.4 -.9 .2z"/>
<path class="k1" d="M299.3 120.2l1-1.3 .4-.4 3 .8 -.4 0 -.5 .4 -.9 1.3z"/>
<path class="k0" d="M295.2 122.8l.9-.3 1.9-1 1.3-1.3 2.6 .8 -1.3 1.3 -1.9 1 -.9 .3z"/>
<path class="k1" d="M293.8 122.1l1.4 .7 2.6 .8 -1.3-.7z"/>
<path class="k2" d="M293.4 122.5l.4-.4 2.7 .8 -.5 .4z"/>
<path class="k1" d="M292.4 124.2l1-1.7 2.6 .8 -1 1.7z"/>
<path class="k0" d="M279.5 131.1l1-.1 2.1-.8 8.3-4.7 1-.7 .5-.6 2.6 .8 -1.4 1.3 -11.4 6.5z"/>
<path class="k1" d="M277.4 129.7l1 .9 1.1 .5 2.7 1.7 -2.1 1.2z"/>
<path class="k2" d="M274.8 129.7l.5-.5 .5-.2 .6 .1 1 .6 2.7 4.3 -2.7 1.5z"/>
<path class="k1" d="M238.7 122.3l6.6 1 31.2 10.2 .6 1.4 -38.4-12.6z"/>
<path class="k2" d="M245.3 123.3l9.9 1.6 20.4 6.5 .9 2.1 -31.2-10.2z"/>
<path class="k3" d="M255.2 124.9l6.4 .9 2.5-.3 10.1 3.3 1.4 2.6 -20.4-6.5z"/>
<path class="k4" d="M264.1 125.5l5.3-.6 1.2 0 1.7 .6 1.9 3.3 -10.1-3.3z"/>
<path class="k5" d="M270.6 124.9l1.5 .1 .2 .5 -1.7-.6z"/>
<path class="k1" d="M295 124.9l1-1.6 .6-.4 1 .6 -2.6 1.4z"/>
<path class="k1" d="M301.9 121l.9-1.3 .5-.4 1.2 .3 -2.6 1.4z"/>
<path class="k1" d="M307.1 118l2.3-2.2 .8-.3 1.5-.1 -4.6 2.6z"/>
<path class="k1" d="M322.7 109.2l1.1-1.7 6.4-3.6 0 1 -7.5 4.3z"/>
<path class="k2" d="M296 123.3l.5-.4 .1 0 -.6 .4z"/>
<path class="k2" d="M323.8 107.5l.9-1.9 5-2.9 .6 .9 -.1 .3 -6.4 3.6z"/>
<path class="k3" d="M324.7 105.6l.8-2.4 3.6-2 .6 1.5 -5 2.9z"/>
<path class="k4" d="M325.5 103.2l1-2.8 1.8-.9 .8 1.7 -3.6 2z"/>
<path class="k5" d="M326.5 100.4l.9-1.4 .5 0 .4 .4 -1.8 1z"/>
</g>
<polyline fill="none" stroke="#333" stroke-width="0.55" points="206.1,112.1 277.4,135.5 330.2,105.3"/>
<line stroke="#333" stroke-width="0.45" x1="206.1" y1="112.1" x2="203.3" y2="113.2"/>
<text class="t3" transform="translate(199.1,116.1) rotate(25)" text-anchor="middle">100</text>
<line stroke="#333" stroke-width="0.45" x1="218.9" y1="116.3" x2="216.2" y2="117.5"/>
<line stroke="#333" stroke-width="0.45" x1="232.4" y1="120.7" x2="229.7" y2="122.0"/>
<text class="t3" transform="translate(225.5,125.1) rotate(25)" text-anchor="middle">300</text>
<line stroke="#333" stroke-width="0.45" x1="246.6" y1="125.4" x2="243.9" y2="126.7"/>
<line stroke="#333" stroke-width="0.45" x1="261.6" y1="130.3" x2="258.9" y2="131.7"/>
<text class="t3" transform="translate(254.9,135.0) rotate(25)" text-anchor="middle">500</text>
<line stroke="#333" stroke-width="0.45" x1="277.4" y1="135.5" x2="274.8" y2="137.0"/>
<line stroke="#333" stroke-width="0.45" x1="277.4" y1="135.5" x2="280.7" y2="136.6"/>
<text class="t3" transform="translate(282.7,138.3) rotate(30)">4000</text>
<line stroke="#333" stroke-width="0.45" x1="286.3" y1="130.4" x2="289.5" y2="131.5"/>
<text class="t3" transform="translate(291.5,133.2) rotate(30)">3500</text>
<line stroke="#333" stroke-width="0.45" x1="294.7" y1="125.7" x2="297.8" y2="126.6"/>
<text class="t3" transform="translate(299.7,128.3) rotate(30)">3000</text>
<line stroke="#333" stroke-width="0.45" x1="302.6" y1="121.1" x2="305.7" y2="122.1"/>
<text class="t3" transform="translate(307.6,123.7) rotate(30)">2500</text>
<line stroke="#333" stroke-width="0.45" x1="310.0" y1="116.9" x2="313.1" y2="117.7"/>
<text class="t3" transform="translate(315.0,119.4) rotate(30)">2000</text>
<line stroke="#333" stroke-width="0.45" x1="317.1" y1="112.8" x2="320.1" y2="113.6"/>
<text class="t3" transform="translate(322.0,115.3) rotate(30)">1500</text>
<line stroke="#333" stroke-width="0.45" x1="323.8" y1="109.0" x2="326.8" y2="109.8"/>
<text class="t3" transform="translate(328.6,111.4) rotate(30)">1000</text>
<line stroke="#333" stroke-width="0.45" x1="330.2" y1="105.3" x2="333.1" y2="106.1"/>
<text class="t3" transform="translate(334.9,107.7) rotate(30)">500</text>
<text class="t3t" transform="translate(232.5,127.0) rotate(25)" text-anchor="middle">Temperature/°C</text>
<text class="t3t" transform="translate(317.0,126.5) rotate(-30)" text-anchor="middle">Wavenumber/cm<tspan dy="-1" font-size="2.2">-1</tspan></text>
<line stroke="#555" stroke-width="0.6" x1="206.1" y1="112.1" x2="202.2" y2="22.1"/>
<line stroke="#333" stroke-width="0.45" x1="206.1" y1="112.1" x2="204.8" y2="112.1"/>
<text class="t3" transform="translate(204.5,113.4) rotate(-20)" text-anchor="end">0.00</text>
<line stroke="#333" stroke-width="0.45" x1="205.5" y1="97.9" x2="204.2" y2="97.9"/>
<text class="t3" transform="translate(203.9,99.2) rotate(-20)" text-anchor="end">0.01</text>
<line stroke="#333" stroke-width="0.45" x1="204.9" y1="83.3" x2="203.6" y2="83.3"/>
<text class="t3" transform="translate(203.3,84.6) rotate(-20)" text-anchor="end">0.02</text>
<line stroke="#333" stroke-width="0.45" x1="204.2" y1="68.5" x2="202.9" y2="68.5"/>
<text class="t3" transform="translate(202.6,69.8) rotate(-20)" text-anchor="end">0.03</text>
<line stroke="#333" stroke-width="0.45" x1="203.6" y1="53.4" x2="202.3" y2="53.4"/>
<text class="t3" transform="translate(202.0,54.7) rotate(-20)" text-anchor="end">0.04</text>
<line stroke="#333" stroke-width="0.45" x1="202.9" y1="37.9" x2="201.6" y2="37.9"/>
<text class="t3" transform="translate(201.3,39.2) rotate(-20)" text-anchor="end">0.05</text>
<line stroke="#333" stroke-width="0.45" x1="202.2" y1="22.1" x2="200.9" y2="22.1"/>
<text class="t3" transform="translate(200.6,23.4) rotate(-20)" text-anchor="end">0.06</text>
<text class="t3t" style="font-size:4.3px" transform="translate(192.6,70.2) rotate(90)" text-anchor="middle">Absorbance/a.u.</text>
<rect x="346.3" y="17.5" width="8" height="83.5" fill="url(#cb)"/>
<text class="cbl" x="356.2" y="19.50">0.000</text>
<text class="cbl" x="356.2" y="27.79">0.005600</text>
<text class="cbl" x="356.2" y="36.08">0.01120</text>
<text class="cbl" x="356.2" y="44.37">0.01680</text>
<text class="cbl" x="356.2" y="52.66">0.02240</text>
<text class="cbl" x="356.2" y="60.95">0.02800</text>
<text class="cbl" x="356.2" y="69.24">0.03360</text>
<text class="cbl" x="356.2" y="77.53">0.03920</text>
<text class="cbl" x="356.2" y="85.82">0.04480</text>
<text class="cbl" x="356.2" y="94.11">0.05040</text>
<text class="cbl" x="356.2" y="102.40">0.05600</text>
<text class="at" x="94.3" y="39">Atmosphere: N<tspan dy="1.3" font-size="3.6">2</tspan></text>
<text class="at" x="276.4" y="39">Atmosphere: O<tspan dy="1.3" font-size="3.6">2</tspan></text>
<text x="4.6" y="12" class="pl">(a)</text>
<text x="188.6" y="12" class="pl">(b)</text>
<text x="4.6" y="141.6" class="pl">(c)</text>
<text x="188.6" y="141.6" class="pl">(d)</text>
<line x1="382.4" y1="96.3" x2="544" y2="96.3" stroke="#888" stroke-width="1"/>
<line x1="382.4" y1="109.5" x2="544" y2="109.5" stroke="#999" stroke-width="0.8"/>
<line x1="382.4" y1="176" x2="544" y2="176" stroke="#999" stroke-width="1.3"/>
<text x="386.5" y="104.6" class="tb">Wavenumber/cm<tspan dy="-2.6" font-size="4.6">-1</tspan></text>
<text x="452.6" y="104.6" class="tb">Functional group</text>
<text x="513.5" y="104.6" class="tb">Formula</text>
<text x="387.6" y="117.9" class="tb">2900-2700</text>
<text x="452.6" y="117.9" class="tb">Methyne</text>
<text x="513.5" y="117.9" class="tb">-CH-</text>
<text x="387.6" y="131" class="tb">2349</text>
<text x="452.6" y="131" class="tb">Carbon dioxide</text>
<text x="513.5" y="131" class="tb">CO<tspan dy="1.6" font-size="4.6">2</tspan></text>
<text x="387.6" y="144.1" class="tb">2300-2000</text>
<text x="452.6" y="144.1" class="tb">Isocyanate group</text>
<text x="513.5" y="144.1" class="tb">-NCO-</text>
<text x="387.6" y="157.1" class="tb">1800-1680</text>
<text x="452.6" y="157.1" class="tb">Carbonyl group</text>
<text x="513.5" y="157.1" class="tb">-C=O</text>
<text x="387.6" y="170.2" class="tb">1458</text>
<text x="452.6" y="170.2" class="tb">Methylene</text>
<text x="513.5" y="170.2" class="tb">-CH<tspan dy="1.6" font-size="4.6">2</tspan><tspan dy="-1.6">-</tspan></text>
<rect x="21" y="143" width="148.5" height="111.2" fill="none" stroke="#666" stroke-width="0.8"/>
<line x1="21.3" y1="254.2" x2="21.3" y2="255.8" stroke="#444" stroke-width="0.6"/>
<text x="21.3" y="261.8" class="tk">4000</text>
<line x1="31.7" y1="254.2" x2="31.7" y2="255.3" stroke="#444" stroke-width="0.5"/>
<line x1="42.1" y1="254.2" x2="42.1" y2="255.8" stroke="#444" stroke-width="0.6"/>
<text x="42.1" y="261.8" class="tk">3500</text>
<line x1="52.5" y1="254.2" x2="52.5" y2="255.3" stroke="#444" stroke-width="0.5"/>
<line x1="62.9" y1="254.2" x2="62.9" y2="255.8" stroke="#444" stroke-width="0.6"/>
<text x="62.9" y="261.8" class="tk">3000</text>
<line x1="73.3" y1="254.2" x2="73.3" y2="255.3" stroke="#444" stroke-width="0.5"/>
<line x1="83.7" y1="254.2" x2="83.7" y2="255.8" stroke="#444" stroke-width="0.6"/>
<text x="83.7" y="261.8" class="tk">2500</text>
<line x1="94.1" y1="254.2" x2="94.1" y2="255.3" stroke="#444" stroke-width="0.5"/>
<line x1="104.5" y1="254.2" x2="104.5" y2="255.8" stroke="#444" stroke-width="0.6"/>
<text x="104.5" y="261.8" class="tk">2000</text>
<line x1="114.9" y1="254.2" x2="114.9" y2="255.3" stroke="#444" stroke-width="0.5"/>
<line x1="125.3" y1="254.2" x2="125.3" y2="255.8" stroke="#444" stroke-width="0.6"/>
<text x="125.3" y="261.8" class="tk">1500</text>
<line x1="135.7" y1="254.2" x2="135.7" y2="255.3" stroke="#444" stroke-width="0.5"/>
<line x1="146.1" y1="254.2" x2="146.1" y2="255.8" stroke="#444" stroke-width="0.6"/>
<text x="146.1" y="261.8" class="tk">1000</text>
<line x1="156.5" y1="254.2" x2="156.5" y2="255.3" stroke="#444" stroke-width="0.5"/>
<line x1="166.9" y1="254.2" x2="166.9" y2="255.8" stroke="#444" stroke-width="0.6"/>
<text x="166.9" y="261.8" class="tk">500</text>
<polyline fill="none" stroke="#2a7cc4" stroke-width="0.9" stroke-linejoin="round" points="21.3,156.5 21.7,156.5 21.8,156.8 24.6,157.2 25.1,157.7 25.5,157.4 25.6,157.5 26.4,160.4 27,157.7 28,158.5 28.5,160.7 29,159.3 29.6,160.1 30,158.4 30.7,161.2 31.2,159.6 31.5,160.5 31.9,160.4 32.2,161.5 32.7,158.6 33,159.1 33.5,158.1 33.9,158.1 34.2,159.2 34.7,157.9 36.1,157.7 36.4,158.3 36.9,161 37.4,160.9 37.7,160.1 38,160.7 38.5,159.7 38.9,159.9 39.5,157.6 39.8,157.3 40.1,157.8 40.7,160 41.4,156.8 41.7,156.5 42.8,156.4 42.9,156.1 63.1,155.8 64.2,156 65.8,156.6 67.5,156.5 69.1,157.1 70.6,156.7 72,156.7 73.4,155.9 74.3,155.7 86.9,155.6 88,156 89.3,157.7 89.8,157.9 91.1,157.4 92.3,156 93,155.7 107.9,155.8 108.2,155.9 108.7,156.5 108.8,156.6 109.2,156.1 109.7,156.6 110,156.5 110.4,157.3 111.2,157.9 111.7,157.3 112,157.4 114.3,160.7 115,162.7 115.5,162.4 116.1,163.1 117.1,160.9 117.3,160.8 117.6,161.3 117.7,161.2 118.4,159 118.7,158.9 119.1,157.8 119.3,157.9 119.9,160.5 120.4,158.2 120.6,158.1 121,159.8 121.2,159.9 121.8,157.7 122.2,156.9 122.5,157.6 123.6,166.2 124,167.5 124.3,166.5 124.9,160.3 125.3,158.5 125.5,158.4 127.1,158.7 127.8,159.4 128.7,157.6 129,157.5 129.6,158.5 130.1,158.1 130.5,156.9 131,156.9 131.6,156.3 164,156.8 165.2,157.1 166.1,157.7 168.6,161.2"/>
<polyline fill="none" stroke="#a2a524" stroke-width="0.9" stroke-linejoin="round" points="21.3,171.2 21.7,171.2 21.8,171.5 24.6,171.9 25.1,172.4 25.5,172.1 25.6,172.2 26.4,175.1 27,172.4 28,173.2 28.5,175.4 29,174 29.6,174.8 30,173.1 30.7,175.9 31.2,174.3 31.5,175.2 31.9,175.1 32.2,176.2 32.7,173.3 33,173.8 33.5,172.8 33.9,172.8 34.2,173.9 34.7,172.6 36.1,172.4 36.4,173 36.9,175.7 37.4,175.6 37.7,174.8 38,175.4 38.5,174.4 38.9,174.6 39.5,172.3 39.8,172 40.1,172.5 40.7,174.7 41.4,171.5 41.7,171.2 42.8,171.1 42.9,170.8 63.1,170.5 64.2,170.7 65.8,171.5 67.5,171.4 69.1,172.1 70.6,171.6 72,171.6 73.4,170.6 74.3,170.4 86.9,170.3 87.5,170.4 88,170.7 89.3,172.6 89.8,172.9 91.1,172.3 92.3,170.7 93,170.4 107.9,170.5 108.2,170.6 108.7,171.2 108.8,171.3 109.2,170.8 109.7,171.3 110,171.2 110.4,172 111.2,172.6 111.7,172 112,172.1 114.3,175.4 115,177.4 115.5,177.1 116.1,177.8 117.1,175.6 117.3,175.5 117.6,176 117.7,175.9 118.4,173.7 118.7,173.6 119.1,172.5 119.3,172.6 119.9,175.2 120.4,172.9 120.6,172.8 121,174.5 121.2,174.6 121.8,172.4 122.2,171.6 122.5,172.3 123.6,180.4 124,181.7 124.3,180.8 124.9,174.9 125.3,173.2 125.5,173.1 127.1,173.4 127.8,174.1 128.7,172.3 129,172.2 129.6,173.2 130.1,172.8 130.5,171.6 131,171.6 131.6,171 164.1,171.5 165.2,171.7 166.1,172.2 168.6,175"/>
<polyline fill="none" stroke="#b83232" stroke-width="0.9" stroke-linejoin="round" points="21.3,184.4 24.6,184.8 25.1,185.2 25.6,185 26.4,186.8 27,185.2 28,185.7 28.5,187 29,186.1 29.6,186.7 30,185.6 30.7,187.3 31.2,186.4 31.5,186.9 31.9,186.8 32.2,187.5 32.7,185.7 33,186 33.5,185.4 33.9,185.4 34.2,186.1 34.7,185.3 36.1,185.2 36.9,187.2 37.4,187.1 37.7,186.7 38,187 38.5,186.4 38.9,186.5 39.8,184.9 40.1,185.2 40.7,186.6 41.4,184.6 42.8,184.3 42.9,184.2 62.9,183.9 63.6,184.1 64.1,184.4 65.8,186.7 66.2,186.8 67.1,186.4 67.5,186.4 68.7,188 69.1,188.2 70.6,187 71.6,187.2 72,187 73.4,184.6 74.3,183.9 86.8,183.8 87.4,184 87.9,184.4 89.3,188 89.8,188.5 91.1,187.4 92.3,184.6 93,183.9 107.9,184 108.8,184.5 109.2,184.1 109.7,184.5 110,184.3 110.4,184.9 111.2,185.1 111.6,184.5 111.9,184.3 113.4,184.9 114.4,186.3 115.1,188.7 115.4,188.9 116.1,190.2 117.2,187.5 117.6,187.5 118.4,185.4 118.7,185.4 119.1,184.7 119.3,184.9 119.9,187.2 120.5,185.4 121,186.9 121.3,187 121.7,185.5 122.2,184.7 123.6,190.7 124,191.5 124.4,190.5 124.9,186.8 125.3,185.6 127.1,185.7 127.8,186.4 128.7,185 129,185.1 129.6,185.9 130.1,185.6 130.5,184.7 131,184.7 131.6,184.3 164.1,184.6 165.2,184.8 166.1,185.1 168.6,187.3"/>
<polyline fill="none" stroke="#c03cb4" stroke-width="0.9" stroke-linejoin="round" points="21.3,194.9 25.6,195.2 26.4,196 27,195.2 28,195.5 28.5,196.1 29,195.7 29.6,195.9 30,195.4 30.7,196.3 31.2,195.8 31.5,196 31.9,196 32.2,196.3 32.7,195.5 33,195.6 33.5,195.3 33.9,195.3 34.2,195.7 34.7,195.3 36.1,195.2 36.9,196.2 37.4,196.2 37.7,195.9 38,196.1 38.5,195.8 38.9,195.9 39.8,195.1 40.7,195.9 41.4,194.9 42.9,194.7 62.9,194.6 63.6,194.8 64.1,195.2 65.8,197.6 66.2,197.7 67.1,197.3 67.5,197.4 68.7,199 69.1,199.3 69.6,199.1 70.6,198 71.6,198.2 71.9,198.1 73.5,195.2 74,194.7 74.6,194.5 87.3,194.6 88.1,195.3 89.3,198.2 89.8,198.7 91.1,197.7 92.3,195.2 92.6,194.8 93.1,194.6 108,194.6 108.7,195 109.2,194.7 109.7,195 110,194.9 110.4,195.3 111.2,195.4 111.7,194.9 112.1,194.8 113.2,195.1 113.9,195.7 114.5,196.8 115.1,198.9 116.1,200.6 116.4,200.3 117.2,197.9 117.6,197.6 118.4,195.7 118.7,195.7 119.1,195 119.9,197 120.5,195.6 121,196.8 121.3,196.8 121.8,195.6 122.1,195.1 122.3,195.2 123.6,200 124,200.7 124.4,199.8 124.9,196.7 125.3,195.7 127.1,195.8 127.8,196.3 128.5,195.5 128.9,195.3 129.6,196 130.1,195.8 130.5,195.1 131.6,194.8 164,195 166.1,195.5 168.6,197.2"/>
<polyline fill="none" stroke="#b44ee4" stroke-width="0.9" stroke-linejoin="round" points="21.3,203.1 25.6,203.3 26.4,203.7 27,203.3 28,203.4 28.5,203.7 29,203.5 29.6,203.7 30,203.4 30.7,203.8 31.2,203.6 32.2,203.9 32.7,203.4 33.5,203.3 34.2,203.5 34.7,203.3 36.1,203.3 36.9,203.8 38.9,203.6 39.8,203.2 40.7,203.6 41.4,203.1 42.9,203 62.9,203 63.6,203.1 64.1,203.5 65.8,206 66.2,206.1 67.1,205.7 67.5,205.7 68.7,207.4 69.1,207.7 69.6,207.5 70.6,206.4 71.6,206.6 71.9,206.5 73.5,203.6 74,203.1 74.6,202.9 87.3,203 87.7,203.2 88.1,203.8 89.3,207.1 89.8,207.6 91.1,206.5 92.3,203.7 92.6,203.2 93.1,203 95.5,203 97.7,203.9 99.4,203.3 101.3,203.8 102.9,203.1 103.8,203 108,203 108.8,203.2 109.3,203 111.2,203.5 111.7,203 112.4,203 113.3,203.2 114,203.8 114.5,204.7 115.1,206.6 116.1,208.3 118.3,203.8 119.1,203.2 119.9,204.5 120.5,203.6 121,204.4 121.3,204.4 121.8,203.6 122.3,203.3 124,207.8 124.3,207.3 124.9,204.8 125.3,204 127.1,204 127.8,204.3 128.7,203.6 129,203.6 129.6,204 130.1,203.8 130.5,203.3 131.6,203.1 164,203.2 166.1,203.6 168.6,205"/>
<polyline fill="none" stroke="#5252b4" stroke-width="0.9" stroke-linejoin="round" points="21.3,211.8 25.6,211.9 26.4,212.2 27,211.9 28.5,212.2 30,212 30.7,212.3 31.2,212.1 32.2,212.3 32.7,212 33.5,212 34.2,212.1 36.1,211.9 36.9,212.2 38.9,212.1 39.8,211.9 40.7,212.1 41.4,211.8 42.9,211.7 62.9,211.7 63.6,211.8 64.1,212.2 65.8,214.7 66.2,214.8 67.1,214.4 67.5,214.4 68.7,216.1 69.1,216.4 69.6,216.2 70.6,215.1 71.6,215.3 71.9,215.2 73.5,212.3 74,211.8 74.6,211.6 87.3,211.7 87.7,211.9 88.1,212.5 89.3,215.8 89.8,216.3 91.1,215.2 92.3,212.4 92.6,211.9 93.1,211.7 95.5,211.7 97.7,212.6 99.4,212 101.3,212.5 102.9,211.8 103.8,211.7 108,211.7 108.8,211.9 109.3,211.7 111.2,212.2 111.7,211.7 112.4,211.7 113.3,211.9 114,212.5 114.5,213.4 115.1,215.3 116.1,217 118.3,212.5 119.1,211.9 119.9,213.2 120.5,212.3 121,213.1 121.3,213.1 121.8,212.3 122.3,212 124,216.5 124.3,216 124.9,213.5 125.3,212.7 127.1,212.7 127.8,213 128.7,212.3 129,212.3 129.6,212.7 130.1,212.5 130.5,212 131.6,211.8 164,211.9 166.1,212.3 168.6,213.7"/>
<polyline fill="none" stroke="#3ca444" stroke-width="0.9" stroke-linejoin="round" points="21.3,220.2 25.6,220.2 26.4,220.4 27,220.2 28.5,220.5 30,220.3 30.7,220.5 31.2,220.4 32.2,220.5 32.7,220.3 33.5,220.3 36.1,220.2 36.9,220.5 39.8,220.2 40.7,220.4 41.4,220.1 42.9,220.1 62.9,220.1 63.6,220.2 64.1,220.6 65.8,223.1 66.2,223.2 67.1,222.8 67.5,222.8 68.7,224.5 69.1,224.8 69.6,224.6 70.6,223.5 71.6,223.7 71.9,223.6 73.5,220.7 74,220.2 74.6,220 87.3,220.1 88.1,220.8 89.3,223.7 89.8,224.2 91.1,223.2 92.3,220.7 92.6,220.3 93.1,220 95.5,220.1 97.7,221 99.4,220.4 101.3,220.9 102.9,220.2 103.8,220.1 108,220 108.8,220.3 109.3,220.1 111.2,220.5 111.7,220.1 112.4,220.1 113.3,220.3 114,220.9 114.5,222 115.1,224 115.8,225.5 116.1,225.9 118.3,221 119.1,220.3 119.9,221.6 120.5,220.7 121,221.4 121.3,221.5 121.8,220.7 122.3,220.4 124,224.3 124.4,223.8 124.9,221.7 125.3,221 127.1,221.1 127.8,221.4 128.7,220.6 129,220.6 129.6,221 130.1,220.8 130.5,220.4 131.6,220.1 164,220.2 166.1,220.6 168.6,222"/>
<polyline fill="none" stroke="#e444e4" stroke-width="0.9" stroke-linejoin="round" points="21.3,227.9 32.2,228.1 33.5,227.9 36.1,227.9 36.9,228 42.9,227.8 62.9,227.8 63.6,227.9 64.1,228.3 65.8,230.8 66.2,230.9 67.1,230.5 67.5,230.5 68.7,232.2 69.1,232.5 69.6,232.3 70.6,231.2 71.6,231.4 71.9,231.3 73.5,228.4 74,227.9 74.6,227.7 87.3,227.8 88.1,228.4 89.3,231 89.8,231.4 91.1,230.5 92.3,228.3 93.1,227.7 95.5,227.9 97.2,229.1 97.7,229.2 99.4,228.3 100.8,229 101.3,229.1 102.9,228 103.8,227.8 109.3,227.8 111.2,228 112.4,227.8 113.3,228 114,228.6 115.6,232.7 116.1,233.4 116.5,233 118.2,228.7 119.1,227.9 119.9,228.5 120.4,228.1 121.2,228.5 121.9,228.1 122.3,228 124,230.9 124.3,230.6 124.9,229.1 125.2,228.7 127.8,228.8 128.8,228.3 129.5,228.4 130.5,228 131.7,227.8 164,227.9 166.1,228.2 168.6,229.2"/>
<polyline fill="none" stroke="#3a3aec" stroke-width="0.9" stroke-linejoin="round" points="21.3,235.6 32.2,235.8 33.5,235.6 36.1,235.6 36.9,235.7 42.9,235.5 62.9,235.5 63.6,235.7 64.1,236.2 65.8,239.3 66.2,239.5 67.1,239 67.5,239 68.7,241.1 69.1,241.5 69.6,241.2 70.6,239.8 70.9,239.8 71.6,240.1 71.9,240 73.5,236.3 74,235.7 74.6,235.4 87.3,235.4 88.1,235.8 89.3,237.3 89.8,237.5 91.2,236.9 92.6,235.5 94.8,235.5 95.3,235.7 95.8,236.2 97.2,239.5 97.7,239.9 98.1,239.5 99,237.6 99.4,237.2 99.9,237.6 100.8,239.3 101.3,239.4 102.9,236.3 103.8,235.5 108,235.4 111.2,235.7 112.4,235.5 113.3,235.8 114,236.6 115.5,242 116.1,243.1 116.5,242.5 118.2,236.7 118.5,236.2 119.1,235.6 119.9,236.2 120.4,235.8 121.2,236.2 121.9,235.8 122.3,235.7 123.7,238.5 124.1,238.8 125.2,236.8 127.7,237 128.9,236.2 129.5,236.3 130.5,235.7 131.8,235.5 164,235.6 166.1,235.9 168.6,236.9"/>
<polyline fill="none" stroke="#f25050" stroke-width="0.9" stroke-linejoin="round" points="21.3,245.4 62.9,245.4 69.1,245.9 72,245.8 74.3,245.4 86.9,245.4 88,245.6 89.3,246.3 89.8,246.4 91.2,246.2 92.4,245.5 93.4,245.4 113,245.4 116.1,245.9 119.5,245.4 163.1,245.4 165.8,245.6 168.6,246.3"/>
<polyline fill="none" stroke="#4a4a4a" stroke-width="0.9" stroke-linejoin="round" points="21.3,248.3 86.9,248.3 88,248.7 89.3,250.4 89.8,250.6 91.2,250 92.4,248.5 93.4,248.3 168.6,248.3"/>
<rect x="66.4" y="154.8" width="9.4" height="91.6" fill="none" stroke="#444" stroke-width="0.45" stroke-dasharray="1.1,0.7"/>
<rect x="87.6" y="154.8" width="6.3" height="92.8" fill="none" stroke="#444" stroke-width="0.45" stroke-dasharray="1.1,0.7"/>
<rect x="95.5" y="199.5" width="7.7" height="47.6" fill="none" stroke="#444" stroke-width="0.45" stroke-dasharray="1.1,0.7"/>
<rect x="112.4" y="154.8" width="5.7" height="92.1" fill="none" stroke="#444" stroke-width="0.45" stroke-dasharray="1.1,0.7"/>
<rect x="122.5" y="154.8" width="6.3" height="86.6" fill="none" stroke="#444" stroke-width="0.45" stroke-dasharray="1.1,0.7"/>
<text x="73.4" y="152.3" class="an">-CH-</text><line x1="70.9" y1="152.4" x2="68" y2="154.1" stroke="#111" stroke-width="0.45"/><path d="M66.6 154.9L67.6 153.4L68.4 154.7z" fill="#111"/>
<text x="86.8" y="151.6" class="an">-NCO-</text><line x1="88" y1="152.3" x2="88.8" y2="153.1" stroke="#111" stroke-width="0.45"/><path d="M89.9 154.3L88.3 153.7L89.3 152.6z" fill="#111"/>
<text x="107.4" y="152.3" class="an">C=O</text><line x1="110" y1="152.2" x2="111.6" y2="153.5" stroke="#111" stroke-width="0.45"/><path d="M112.9 154.5L111.2 154.1L112.1 152.9z" fill="#111"/>
<text x="133.2" y="151.7" class="an">-CH<tspan dy="1" font-size="2.8">2</tspan></text><line x1="130.2" y1="151.8" x2="127.9" y2="153.5" stroke="#111" stroke-width="0.45"/><path d="M126.6 154.4L127.5 152.9L128.3 154.1z" fill="#111"/>
<text x="105.2" y="198.3" class="an">C≡C</text><line x1="101.2" y1="197.2" x2="98.6" y2="198.4" stroke="#111" stroke-width="0.45"/><path d="M97.2 199.1L98.3 197.7L99.0 199.1z" fill="#111"/>
<text x="167.5" y="154.3" class="tl">600 °C</text>
<text x="167.5" y="167.5" class="tl">550 °C</text>
<text x="167.5" y="180.6" class="tl">500 °C</text>
<text x="167.5" y="191.3" class="tl">450 °C</text>
<text x="167.5" y="200.2" class="tl">400 °C</text>
<text x="167.5" y="209.5" class="tl">350 °C</text>
<text x="167.5" y="218.3" class="tl">300 °C</text>
<text x="167.5" y="226.3" class="tl">250 °C</text>
<text x="167.5" y="234.8" class="tl">200 °C</text>
<text x="167.5" y="244.4" class="tl">150 °C</text>
<text x="167.5" y="253.3" class="tl">100 °C</text>
<text x="22.5" y="149.3" class="at">Atmosphere: N<tspan dy="1.3" font-size="3.6">2</tspan></text>
<text x="96.2" y="270.3" class="al" text-anchor="middle">Wavenumber/cm<tspan dy="-2" font-size="3.6">-1</tspan></text>
<text class="al" text-anchor="middle" transform="translate(10.8,202.6) rotate(-90)">Transmittance/%</text>
<rect x="204" y="143.3" width="148.7" height="111.4" fill="none" stroke="#666" stroke-width="0.8"/>
<line x1="204.3" y1="254.7" x2="204.3" y2="256.3" stroke="#444" stroke-width="0.6"/>
<text x="204.3" y="262.3" class="tk">4000</text>
<line x1="214.8" y1="254.7" x2="214.8" y2="255.8" stroke="#444" stroke-width="0.5"/>
<line x1="225.2" y1="254.7" x2="225.2" y2="256.3" stroke="#444" stroke-width="0.6"/>
<text x="225.2" y="262.3" class="tk">3500</text>
<line x1="235.7" y1="254.7" x2="235.7" y2="255.8" stroke="#444" stroke-width="0.5"/>
<line x1="246.2" y1="254.7" x2="246.2" y2="256.3" stroke="#444" stroke-width="0.6"/>
<text x="246.2" y="262.3" class="tk">3000</text>
<line x1="256.7" y1="254.7" x2="256.7" y2="255.8" stroke="#444" stroke-width="0.5"/>
<line x1="267.2" y1="254.7" x2="267.2" y2="256.3" stroke="#444" stroke-width="0.6"/>
<text x="267.2" y="262.3" class="tk">2500</text>
<line x1="277.6" y1="254.7" x2="277.6" y2="255.8" stroke="#444" stroke-width="0.5"/>
<line x1="288.1" y1="254.7" x2="288.1" y2="256.3" stroke="#444" stroke-width="0.6"/>
<text x="288.1" y="262.3" class="tk">2000</text>
<line x1="298.6" y1="254.7" x2="298.6" y2="255.8" stroke="#444" stroke-width="0.5"/>
<line x1="309.1" y1="254.7" x2="309.1" y2="256.3" stroke="#444" stroke-width="0.6"/>
<text x="309.1" y="262.3" class="tk">1500</text>
<line x1="319.5" y1="254.7" x2="319.5" y2="255.8" stroke="#444" stroke-width="0.5"/>
<line x1="330" y1="254.7" x2="330" y2="256.3" stroke="#444" stroke-width="0.6"/>
<text x="330" y="262.3" class="tk">1000</text>
<line x1="340.5" y1="254.7" x2="340.5" y2="255.8" stroke="#444" stroke-width="0.5"/>
<line x1="351" y1="254.7" x2="351" y2="256.3" stroke="#444" stroke-width="0.6"/>
<text x="351" y="262.3" class="tk">500</text>
<polyline fill="none" stroke="#2a7cc4" stroke-width="0.9" stroke-linejoin="round" points="204.3,158.5 204.7,158.5 204.8,158.8 207.7,159.1 208.2,159.6 208.7,159.3 209.4,161.9 210.1,159.6 211,160.3 211.6,162.2 212.1,161 212.7,161.7 213.1,160.2 213.8,162.6 214.3,161.3 214.6,162 214.9,161.9 215.3,162.9 215.8,160.3 216.1,160.8 216.6,159.9 217,160 217.3,160.9 217.8,159.8 219.2,159.6 219.5,160.1 220,162.5 220.6,162.4 220.8,161.7 221.1,162.2 221.6,161.4 222.1,161.5 222.7,159.6 222.9,159.2 223.2,159.7 223.8,161.6 224.5,158.9 224.8,158.6 226,158.5 226.1,158.3 246.5,158 247.5,158.2 249.1,158.7 250.8,158.6 252.5,159 253.9,158.7 255.3,158.7 256.8,158.1 257.7,157.9 270.4,157.9 271,158.1 271.5,158.6 272.8,162.1 273.3,162.6 274.6,161.5 275.8,158.7 276.5,158 291.5,158.1 291.9,158.2 292.3,158.9 292.5,158.9 292.9,158.3 293.3,158.9 293.6,158.6 294,159.5 294.8,160 295.3,158.9 295.9,159 298.1,160.7 298.7,162.3 299.2,161.6 299.8,162.5 300.8,160.8 301.4,162 302.1,160 302.4,160.3 302.8,159.2 303.6,163 304.2,160.2 304.7,162.4 304.9,162.6 305,162.5 305.4,160.2 305.9,158.9 306.2,159.7 306.6,163.2 307.5,166.9 307.7,167.4 308.1,165.9 308.8,159.4 309.1,158.6 309.5,158.3 310.9,158.4 311.6,159.7 312.2,158.5 312.6,158.4 313.4,160.3 313.9,160.1 314.3,158.8 314.7,158.9 315.2,158.4 315.6,158.3 348.1,158.7 350.1,159 352.6,160.5"/>
<polyline fill="none" stroke="#a2a524" stroke-width="0.9" stroke-linejoin="round" points="204.3,167.2 204.7,167.2 204.8,167.4 207.7,167.7 208.2,168.1 208.7,167.9 209.4,170.1 210.1,168.1 211,168.7 211.6,170.4 212.1,169.3 212.7,169.9 213.1,168.6 213.8,170.7 214.3,169.6 214.6,170.2 214.9,170.1 215.3,170.9 215.8,168.8 216.1,169.1 216.6,168.4 217,168.4 217.3,169.3 217.8,168.3 219.2,168.1 219.5,168.6 220,170.6 220.6,170.5 220.8,169.9 221.1,170.4 221.6,169.6 222.1,169.8 222.7,168.1 222.9,167.8 223.2,168.2 223.8,169.8 224.5,167.5 224.8,167.3 226,167.1 226.1,167 246.5,166.7 247.5,166.9 249.1,167.5 250.8,167.4 252.5,168 253.9,167.6 255.3,167.6 256.8,166.9 257.7,166.6 270.3,166.6 270.9,166.8 271.4,167.3 272.8,171.3 273.3,171.8 274.6,170.6 275.9,167.3 276.2,166.9 276.7,166.7 291.5,166.8 291.9,166.9 292.5,167.6 293,167 293.3,167.6 293.7,167.4 294,168.2 294.8,168.7 295.4,167.6 296.1,167.8 298.1,169.4 298.7,171 299.2,170.3 299.8,171.2 300.8,169.5 301.4,170.7 302.1,168.7 302.4,169 302.8,167.9 303.6,171.7 304.2,168.9 304.7,171.1 304.9,171.3 305,171.2 305.4,168.9 305.9,167.6 306.2,168.3 306.6,171.8 307.5,175.2 307.7,175.6 308.1,174.3 308.8,168 309.1,167.3 309.5,167 310.9,167.1 311.6,168.4 312.2,167.2 312.6,167.1 313.4,169 313.9,168.8 314.3,167.5 314.7,167.6 315.2,167.1 315.6,167 348.1,167.4 350.1,167.7 352.6,169.2"/>
<polyline fill="none" stroke="#b83232" stroke-width="0.9" stroke-linejoin="round" points="204.3,175.9 207.7,176.1 208.2,176.3 208.7,176.2 209.4,177.3 210.1,176.3 211,176.6 211.6,177.4 212.1,176.9 212.7,177.2 213.1,176.6 213.8,177.6 214.3,177 214.6,177.3 214.9,177.3 215.3,177.7 215.8,176.6 216.1,176.8 216.6,176.4 217,176.4 217.3,176.9 217.8,176.4 219.2,176.3 220,177.5 220.6,177.5 220.8,177.2 221.1,177.4 221.6,177 222.1,177.1 222.9,176.1 223.8,177.1 224.5,175.9 226.1,175.7 246.5,175.5 247.5,175.7 249.1,176.5 250.8,176.4 252.5,177 253.9,176.6 255.3,176.6 256.8,175.7 257.7,175.4 270.3,175.4 270.9,175.5 271.4,175.9 272.8,179.1 273.3,179.6 274.6,178.6 275.9,176 276.7,175.4 291.6,175.5 292.5,175.9 292.9,175.6 293.3,175.9 293.6,175.8 294,176.1 294.8,176.3 295.5,175.6 296.7,175.6 297.9,176 298.7,177.4 299.2,177.4 299.8,178.1 300.8,176.8 301,176.8 301.3,177.2 302.1,176.1 302.4,176.3 302.8,175.8 303.6,177.8 304.2,176.5 304.7,177.7 305,177.7 305.5,176.5 305.9,176 306,176 306.6,178.1 307.7,180.2 308.1,179.5 308.8,176.2 309.1,175.8 309.5,175.7 310.9,175.8 311.6,176.4 312.2,175.8 312.6,175.7 313.4,176.7 313.9,176.6 314.3,176 314.7,176 315.4,175.7 348,176 350.1,176.3 352.6,177.3"/>
<polyline fill="none" stroke="#c03cb4" stroke-width="0.9" stroke-linejoin="round" points="204.3,183.3 208.7,183.5 209.4,184.3 210.1,183.6 211,183.8 211.6,184.3 212.1,184 212.7,184.2 213.1,183.8 213.8,184.5 214.3,184.1 215.3,184.5 215.8,183.8 216.1,183.9 216.6,183.7 217.3,184 217.8,183.6 219.2,183.6 220,184.4 222.1,184.1 222.9,183.5 223.8,184.1 224.5,183.4 226.1,183.2 246.2,183.1 247.5,183.3 249.1,184.2 250.8,184.1 252.5,184.8 253.9,184.3 255.3,184.3 256.8,183.3 257.7,183 270.3,183 270.9,183.1 271.4,183.6 272.8,186.9 273.3,187.4 274.7,186.2 275.9,183.5 276.4,183.1 277,183 291.6,183.1 292.5,183.4 292.9,183.1 293.3,183.3 293.6,183.2 294,183.5 294.8,183.6 295.5,183.1 296.6,183.1 297.9,183.6 298.7,184.7 299.8,185.4 300.8,184.4 301.3,184.4 302.1,183.5 302.4,183.6 302.8,183.3 303,183.4 303.6,184.6 304.2,183.8 304.7,184.5 305,184.5 305.4,183.8 305.9,183.4 306.6,184.8 307.7,186 308.1,185.6 308.8,183.5 309.1,183.3 309.6,183.2 310.9,183.2 311.6,183.7 312.6,183.2 313.4,183.9 313.9,183.8 314.3,183.4 315.4,183.2 347.9,183.4 350.1,183.7 352.6,184.7"/>
<polyline fill="none" stroke="#b44ee4" stroke-width="0.9" stroke-linejoin="round" points="204.3,190.7 208.7,190.9 209.4,191.3 210.1,190.9 211,191 211.6,191.3 212.1,191.1 212.7,191.3 213.1,191 213.8,191.4 214.3,191.2 215.3,191.5 215.8,191 216.6,190.9 217.3,191.1 217.8,190.9 219.2,190.9 220,191.4 222.1,191.2 222.9,190.8 223.8,191.2 224.5,190.7 226.1,190.6 246.2,190.6 247.5,190.8 249.1,191.6 250.8,191.6 252.5,192.2 253.9,191.8 255.3,191.8 256.8,190.8 257.7,190.5 270.3,190.5 270.9,190.6 271.4,191.1 272.8,194.4 273.3,194.9 274.7,193.7 275.9,191 276.4,190.6 277,190.5 291.6,190.6 292.5,190.8 292.9,190.6 293.6,190.7 294.8,191 295.5,190.6 296.6,190.6 297.8,191 298.7,192.1 299.8,192.9 300.9,191.8 301.3,191.8 302.1,191 302.4,191 302.8,190.7 303,190.8 303.6,191.8 304.2,191.1 304.7,191.7 305,191.7 305.9,190.8 306.6,192 307.7,193.2 308.1,192.8 308.8,190.9 309.6,190.6 310.9,190.7 311.6,191 312.6,190.7 313.4,191.2 313.9,191.1 314.3,190.8 315.4,190.7 347.9,190.8 350.1,191.1 352.6,192.1"/>
<polyline fill="none" stroke="#5252b4" stroke-width="0.9" stroke-linejoin="round" points="204.3,198.4 208.7,198.5 209.4,198.8 210.1,198.5 211.6,198.8 213.1,198.6 213.8,198.9 214.3,198.7 215.3,198.9 215.8,198.6 216.6,198.6 217.3,198.7 219.2,198.5 220,198.8 222.1,198.7 222.9,198.5 223.8,198.7 224.5,198.4 226.1,198.3 246.2,198.3 247.5,198.5 249.1,199.3 250.8,199.3 252.5,199.9 253.9,199.5 255.3,199.5 256.8,198.5 257.7,198.2 270.3,198.2 270.9,198.3 271.4,198.8 272.8,202.1 273.3,202.6 274.7,201.4 275.9,198.7 276.4,198.3 277,198.2 291.6,198.3 294.8,198.6 295.5,198.3 296.6,198.3 297.8,198.7 298.7,199.8 299.8,200.5 302.1,198.6 302.8,198.4 303.6,199.2 304.2,198.7 304.7,199.1 305,199.2 305.5,198.7 306,198.5 306.6,199.3 307.7,200.4 308.1,200 308.8,198.6 309.6,198.3 310.9,198.4 311.6,198.6 312.6,198.4 313.4,198.8 315.4,198.4 347.9,198.5 350.1,198.8 352.6,199.8"/>
<polyline fill="none" stroke="#3ca444" stroke-width="0.9" stroke-linejoin="round" points="204.3,205.5 208.7,205.5 209.4,205.7 210.1,205.5 211.6,205.8 213.1,205.6 213.8,205.8 214.3,205.7 215.3,205.8 215.8,205.6 216.6,205.6 219.2,205.5 220,205.8 222.9,205.5 223.8,205.7 224.5,205.4 226.1,205.4 246.2,205.3 247.5,205.5 249.1,206.4 250.8,206.3 252.5,207 253.9,206.6 255.3,206.6 256.8,205.6 257.7,205.3 270.3,205.3 270.9,205.5 271.4,205.9 272.8,209.5 273.3,210 274.7,208.7 275.9,205.8 276.4,205.4 277,205.3 291.6,205.3 294.8,205.6 295.5,205.4 296.6,205.4 297.8,205.8 298.7,206.8 299.8,207.5 302.1,205.7 302.8,205.5 303.6,206.1 304.2,205.7 304.7,206.1 305,206.1 306,205.5 307.7,207.3 308.1,206.9 308.8,205.6 309.6,205.4 310.9,205.4 311.6,205.6 312.6,205.4 313.4,205.7 315.4,205.4 347.9,205.5 350.1,205.8 352.6,206.8"/>
<polyline fill="none" stroke="#e444e4" stroke-width="0.9" stroke-linejoin="round" points="204.3,213.5 215.3,213.7 216.6,213.5 219.2,213.5 220,213.6 226.1,213.4 246.2,213.3 247.5,213.5 249.1,214.4 250.8,214.3 252.5,215 253.9,214.6 255.3,214.6 256.8,213.6 257.7,213.3 270.3,213.3 271,213.6 271.5,214.5 272.8,219.8 273,220.5 273.3,220.6 274.7,218.7 275.9,214.1 276.4,213.5 277,213.3 291.6,213.3 294.8,213.5 295.5,213.4 296.6,213.4 297.8,213.8 298.7,214.8 299.8,215.5 302,213.7 302.8,213.4 303.6,214 304.2,213.6 305,213.9 306,213.5 307.7,214.9 308.1,214.7 308.8,213.6 309.8,213.4 311.6,213.6 312.6,213.4 313.4,213.7 315.4,213.4 347.9,213.5 350.1,213.8 352.6,214.8"/>
<polyline fill="none" stroke="#3a3aec" stroke-width="0.9" stroke-linejoin="round" points="204.3,223.5 208.7,223.5 209.4,223.8 210.1,223.6 211.6,223.9 213.1,223.6 213.8,223.9 214.3,223.8 215.3,223.9 215.8,223.6 216.6,223.6 217.3,223.7 219.2,223.6 220,223.9 222.1,223.8 222.9,223.5 223.8,223.8 224.5,223.5 226.1,223.4 246.2,223.3 247.5,223.6 249.1,224.9 250.8,224.8 252.5,225.7 253.9,225.1 255.3,225.1 256.8,223.7 257.7,223.4 270.8,223.4 271.2,223.6 271.4,224.1 271.8,226.3 272.8,240.1 273.1,242.5 273.4,241.9 273.9,238.4 275.1,225.8 275.6,224.1 275.9,223.6 276.5,223.4 296.6,223.4 297.7,223.7 298.8,224.8 299.8,225.5 302,223.7 302.8,223.4 303.6,223.8 304.2,223.6 305,223.8 306,223.5 307.7,224.8 308.1,224.5 308.8,223.6 309.5,223.4 311.6,223.5 312.6,223.4 313.4,223.6 315.4,223.4 341.9,223.5 342.4,223.6 342.7,223.9 343.7,226.7 343.9,227 344.2,226.4 345,224.1 345.6,223.5 349.4,223.6 352.6,224.4"/>
<polyline fill="none" stroke="#f25050" stroke-width="0.9" stroke-linejoin="round" points="204.3,242.9 246.2,242.9 252.5,243.2 257.7,242.9 270.3,242.9 271,243.1 271.5,243.6 272.8,246.6 273.3,247.1 274.7,246 275.9,243.3 276.4,243 277,242.9 347.5,242.9 349.9,243 352.6,243.4"/>
<polyline fill="none" stroke="#4a4a4a" stroke-width="0.9" stroke-linejoin="round" points="204.3,249.3 270.3,249.3 271.5,249.4 273.3,250.1 274.7,249.9 275.9,249.4 276.9,249.3 352.6,249.3"/>
<rect x="248.3" y="156" width="10.4" height="88.2" fill="none" stroke="#444" stroke-width="0.45" stroke-dasharray="1.1,0.7"/>
<rect x="268.5" y="156" width="9.4" height="94.8" fill="none" stroke="#444" stroke-width="0.45" stroke-dasharray="1.1,0.7"/>
<rect x="294.3" y="156.5" width="8.2" height="69.9" fill="none" stroke="#444" stroke-width="0.45" stroke-dasharray="1.1,0.7"/>
<rect x="306.4" y="156.5" width="6" height="38" fill="none" stroke="#444" stroke-width="0.45" stroke-dasharray="1.1,0.7"/>
<text x="259.2" y="153" class="an">-CH-</text><line x1="255.6" y1="152.8" x2="250.5" y2="155" stroke="#111" stroke-width="0.45"/><path d="M249.0 155.6L250.2 154.3L250.8 155.7z" fill="#111"/>
<text x="271.3" y="153" class="an">CO<tspan dy="1" font-size="2.8">2</tspan></text><line x1="272.2" y1="153.2" x2="274.2" y2="154.8" stroke="#111" stroke-width="0.45"/><path d="M275.5 155.8L273.8 155.4L274.7 154.2z" fill="#111"/>
<text x="295.6" y="153.2" class="an">C=O</text><line x1="297.5" y1="153.2" x2="299.9" y2="155" stroke="#111" stroke-width="0.45"/><path d="M301.2 155.9L299.5 155.6L300.3 154.4z" fill="#111"/>
<text x="316.4" y="153.2" class="an">-CH<tspan dy="1" font-size="2.8">2</tspan></text><line x1="313.3" y1="153.2" x2="309.6" y2="155.4" stroke="#111" stroke-width="0.45"/><path d="M308.2 156.2L309.2 154.7L310.0 156.0z" fill="#111"/>
<text x="350.4" y="155.6" class="tl">600 °C</text>
<text x="350.4" y="164.4" class="tl">550 °C</text>
<text x="350.4" y="172.9" class="tl">500 °C</text>
<text x="350.4" y="180.6" class="tl">450 °C</text>
<text x="350.4" y="188.8" class="tl">400 °C</text>
<text x="350.4" y="196.1" class="tl">350 °C</text>
<text x="350.4" y="203.7" class="tl">300 °C</text>
<text x="350.4" y="211.6" class="tl">250 °C</text>
<text x="350.4" y="221.8" class="tl">200 °C</text>
<text x="350.4" y="240.9" class="tl">150 °C</text>
<text x="350.4" y="247.9" class="tl">100 °C</text>
<text x="205.5" y="149.6" class="at">Atmosphere: O<tspan dy="1.3" font-size="3.6">2</tspan></text>
<text x="279.4" y="270.3" class="al" text-anchor="middle">Wavenumber/cm<tspan dy="-2" font-size="3.6">-1</tspan></text>
<text class="al" text-anchor="middle" transform="translate(193.8,203) rotate(-90)">Transmittance/%</text>
</svg></body></html>
